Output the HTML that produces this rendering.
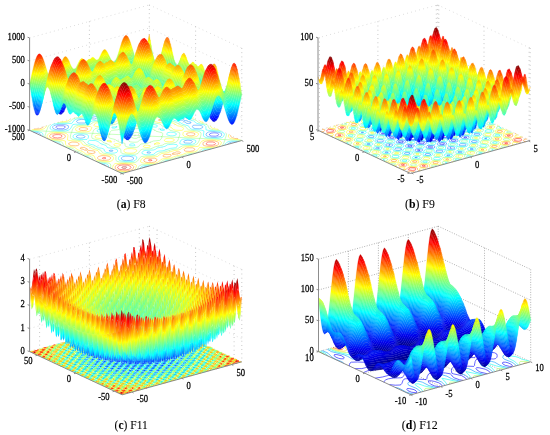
<!DOCTYPE html>
<html><head><meta charset="utf-8"><title>Benchmark functions</title>
<style>
html,body{margin:0;padding:0;background:#fff}
svg{display:block;font-family:"Liberation Serif",serif}
.g{fill:none;stroke:#ccc;stroke-width:.8;stroke-dasharray:.8 3.4}
.v{stroke:#aaa}
.a{fill:none;stroke:#808080;stroke-width:.9}
.c path{fill:none}
.s{stroke-width:1.5}
.sga .u{fill:url(#gau);stroke:url(#gau)}
.sgb .u{fill:url(#gbu);stroke:url(#gbu)}
.sgc .u{fill:url(#gcu)}
.sgc path{stroke:#fff;stroke-opacity:.22;stroke-width:1}
.t{font-size:9.9px;stroke:#000;stroke-width:.25;fill:#000}
.cap{font-size:12.4px;fill:#000;stroke:#000;stroke-width:.06}
</style></head><body>
<svg width="550" height="435" viewBox="0 0 550 435">
<rect width="550" height="435" fill="#fff"/>
<path class="g" d="M29.6 130.3L149.3 97.3M149.3 97.3L241.8 140.5M29.6 37.9L149.3 4.9M149.3 4.9L241.8 48.1M29.6 107.2L149.3 74.2M149.3 74.2L241.8 117.4M29.6 84.1L149.3 51.1M149.3 51.1L241.8 94.3M29.6 61L149.3 28M149.3 28L241.8 71.2M89.4 113.8L181.9 157M195.6 118.9L75.8 151.9"/><path class="g v" d="M149.3 4.9L149.3 97.3M241.8 48.1L241.8 140.5M89.4 21.4L89.4 113.8M195.6 26.5L195.6 118.9"/>
<defs><linearGradient id="ga" gradientUnits="userSpaceOnUse" x1="610.5" y1="830.0" x2="511.3" y2="470.3"><stop offset="0" stop-color="#000080"/><stop offset="0.125" stop-color="#0000ff"/><stop offset="0.375" stop-color="#00ffff"/><stop offset="0.625" stop-color="#ffff00"/><stop offset="0.875" stop-color="#ff0000"/><stop offset="1" stop-color="#800000"/></linearGradient></defs>
<g class="c" transform="scale(.2)" stroke-width="2.3"><path stroke=#009 d="m735 521-9-1-3-4 4-3 13-1 6 2 2 3-5 3z"/><path stroke=#01f d="m1077 681-22-1-8-5 0-4 8-5 15-2 12 1 6 2 6 5-4 6zm-245-114-5-3 3-3 10-1 5 2 0 2-4 2zm-82-39-30 0-15-6-3-3 0-3 3-4 9-5 15-2 29 2 9 5 2 3 0 4-7 6zm-431 114-5 2-21 0-9-3-5-5 4-5 7-2 27 0 9 4 0 4zm290-86-10-1-2-3 10-3 6 2 2 3z"/><path stroke=#08f d="m713 839 14-6 17-2m393-109 6-6 16-6 27-1m-106-22-19 0-20-4-8-4-3-7 4-7 9-5 6-1 21-1 25 4 13 6 0 9-3 4-4 2zm-428 115-20 1-16-2-5-2-4-4 0-6 6-5 13-3 19 0 15 3 5 2 3 4-1 6-4 3zm299-86-24-1-6-2-2-6 6-4 14-2 18 2 4 3 1 3-5 5zm-205 50-11-2 0-3 6-2 9 1 3 3-1 2zm-239 53 20 6 4 5m473-188-7 2-21-1-11-4-3-7 2-4 5-2 31 0 11 4 3 3-1 5zm-449 115-9-2 0-2 5-2 10 0 4 2-2 3zm388-139-9-1-4-2-2-3-10-5 3-4 12 0 9 5 13 3 0 4zm-37-17-18-2-5-2-2-3 1-4 12-4 19 2 5 2 2 3-1 5-4 3zm-55-26-9 1-23-2-7-2-8-5 0-5 6-6 5-2 14-2 23 1 12 4 4 4 1 5-5 6zm-439 115-9 1-13-2-7-3-1-5 9-5 7-1 12 0 7 2 5 2 3 4-2 4zm340-157-19 1-23-2-18-6-4-6 2-7 5-6 17-6 34-1 15 2 9 2 9 5 3 5-1 8-9 8-12 3zm-436 117-24 0-16-3-10-4-3-6 1-4 5-5 22-6 25 0 17 3 9 4 0 11-3 3-9 4zm301-86-34-1-6-2-4-3-1-3 5-8 13-5 27-1 11 2 9 5 1 6-4 5-4 2zm-195 51-28 0-6-2-4-3-1-3 2-4 5-3 16-3 22 1 6 2 2 6-4 5zm101-33-20-1-2-3 3-5 10-4 20 0 6 2 3 3-1 3-11 5zm-58 13-8-1-3-3 4-4 26-5 12 1-1 4-12 3-3 3-6 2zm-299 65 18 2 12 4 4 2 4 6 0 4"/><path stroke=#0ff d="m698 843 8-9 12-5 23-3 20 0m56-15 11-7 26-4m37-10 7-2m39-10 7-4 16-3m46-13 6-5 10-5 20-3 14 0m68-19 4-8 6-6 10-5 14-2 40 1m-594 158 15 1m471-173-38-1-17-2-12-4-5-5-1-4 3-21-12-4-40-3-12-3-9-7-3-7-3-2-25-7-24-14-24-7-6-7-4-8-20-5-29-3-15-5-4-6 0-7 7-10 19-4 33 2 22 4 8 4 8 19 11 4 30 5 13 10 20 9 6 1 17 13 35 7 5 3 5 5 1 17 13 3 23 1 34 4 16 6 3 2 3 7-4 10-7 6zm-436 116-29 0-22-4-8-4-3-6 0-4 5-9 10-4 7-1 40 0 24 4 6 5 0 6-3 6-4 4-9 5zm301-86-41 0-9-1-5-2-2-3 6-14 8-5 13-2 34 1 18 5 2 3 0 6-6 7-10 4zm-201 52-28 0-16-6 0-5 2-4 3-3 10-4 44-2 9-4 7-6 40-8 12-8 6-1 23-2 18 2 3 3-2 8-8 5-25 3-37 12-24 2-10 4-6 7-8 5zm-260 39 34 5 10 4 3 3 2 11m30-71-18 1-24-4-9-7-1-7-2-3-12-4-15-2-23-14-15-3-11-4-4-6 1-4 7-6 31 1 14 5 7 8 32 12 5 9 4 2 26 3 19 5 3 3-1 9-3 3zm291-86-10 0-18-4-2-3 1-6 4-3 15-2 14 1 12 4 2 3-1 5-10 4zm-197 50-14 0-5-2 0-4 2-2 12-2 8 1 6 5-3 3zm-245 51 12 2 11 4 6 7m365-141-10 0-4-2 1-4-5-2 5 2 6-1 13 3 0 3zm-428 112 6 2m386-130-21-2-5-2-1-3 4-4 6-2 11 0 12 4 2 3-3 4zm-440 105 14 5 4 4m77-53-26 1-22-2-14-4-7-4-1-7 1-3 7-6 13-3 29 0 19 3 4 2 5 6-2 11zm290-87-27 1-18-3-4-2-2-3 0-4 5-6 11-4 32 0 12 4 4 6-3 7zm-211 52-22-2-5-2-2-3 2-5 11-4 30 0 5 2 2 3-1 4-6 5-6 2zm108-34-15-2-1-5 4-3 14-2 10 1 5 2 2 3-4 4-6 2zm-49 13-11-1-3-2 1-3 26-1-6 1-2 4zm-307 66 26 4 8 5 5 9m21-70-29 0-23-2-17-4-6-5-1-4 2-7 5-6 8-5 6-2 25-3 63 0 13-17 14-6 39-4 20-9 32-7 26-10 40-4 10-4 12-12 16-6 15-2 20 0 28 3 9 4 0 11-5 6-8 6-17 3-44 1-10 2-11 9-9 5-28 4-34 11-22 3-11 4-7 6-15 6-24 2-30-1-14 2-10 18-6 7-8 4zm465-148 3 10-4 12-7 6-5 2-67 0-24-3-10-4-2-3 0-4 4-11 10-10m-533 153 35 3 17 5 6 5 1 3-1 11m495-185 30-1 36 4"/><path stroke=#8f7 d="m686 847 9-16 3-3 10-4 73-3m14-4 15-12 9-5 50-7 14-7 32-7 21-9 43-6 15-6 11-10 8-4 18-3 41-1m38-10 8-12 5-15 2-1-1-4-127-6 2 3-2 2-1 6-4 8-7 9-7 4-13 3-51 2-10 4-16 11-28 4-34 11-22 3-11 4-11 8-11 4-16 2-27 0-22 3-7 6-11 16-9 6-14 2-30 0-39-3-12-4-3-3-2-6 1-15-3-5-4-2-55-9-10-8-4-7-26-9-25-13-23-7-9-12-7-5-47-7-11-4-4-6 0-8 4-16 4-2-127-6-3 3 1 1-6 18 0 9m370 173 36 2m501-195 0 9-6 18 1 1-3 3 85 4m-223-10 11 0 4-2 4-16 0-8-4-6-11-4-47-7-7-5-9-12-23-7-25-13-24-8-3-2-3-6-10-8-55-9-4-2-3-5 1-15-2-6-3-3-12-4-39-3-30 0-14 2-9 6-11 16-7 6-22 3-27 0-16 2-11 4-11 8-11 4-22 3-34 11-28 4-16 11-10 4-51 2-13 3-7 4-7 9-4 8-1 6-2 2 2 3 106 5-3-3 2-2-1-2 5-10 6-6 11-4 33-2 15-3 11-7 33-7 25-11 41-2 6-2 7-5 10-14 11-4 41 0 19 2 12 4 2 2 1 14 3 6 11 4 25 3 6 2 5 2 8 8 31 12 7 9 19 5 16 2 13 5 2 10-3 12-5 2zm-312 79 5 0 11-4 10-14 7-5 6-2 41-2 25-11 33-7 11-7 15-3 26-1 16-4 8-7 5-10-1-2 2-2-3-3-85-4 4 2-1 4-4 7-7 6-30 3-33 12-30 3-7 6-5 7-10 4-34 0-9-1-12-4-3-6 0-7-2-3-25-5-7-3-2-3-10-4-2-3-31-8-3-5 1-9 1-3 6-2-74-4-11 0-5 2-3 12 2 10 13 5 16 2 19 5 7 9 27 10 7 4 5 6 5 2 6 2 25 3 11 4 3 6 1 14 2 2 12 4 19 2zm-195 35 68 10 4 3 3 6-1 15m242-157 11 0 6-2 2-12-3-5-31-8-2-3-10-4-2-3-7-3-25-5-2-3 0-7-3-6-12-4-9-1-34 0-10 4-5 7-7 6-30 3-33 12-30 3-7 6-5 11 4 2 43 2 16-1 1-4 6-6 26-6 9 0 6-2 10-9 8-2 16 0 15 2 5 3 3 9 33 11 2 3 0 4-2 3 5 3zm-114 28 8-2 10-9 6-2 9 0 26-6 6-6 1-4 6-1-43-2-5 1-2 4-12 3-9 5-10 0-11-3-1-3-10-5 1-3-4-3-43-2 5 3-2 3 0 4 2 3 33 11 3 9 5 3 15 2zm19-33 10 1-4-3 1-3-10-5-1-3-11-3-10 0-9 5-12 3-2 4-5 1zm189-125 3 3 4 10 5 5 11 4 27 6 14 10 30 12 9 8 10 4 33 8 4 4 6 14 4 3 19 5 35 4m-849 48 35 4 19 5 4 3 6 14 4 4 33 8 10 4 9 8 30 12 14 10 27 6 11 4 5 5 4 10 3 3m336-287-1 15 3 6 4 3 68 10m-730 104 85 4-1-4 2-1 5-15 8-12m38-10 41-1 18-3 8-4 11-10 15-6 43-6 21-9 32-7 14-7 50-7 9-5 15-12m14-4 73-3 10-4 3-3 9-16m55-15 36 2"/><path stroke=#ff0 d="m668 852 10-10 4-11 0-4-2-3-10-4-24-3-67 0-5 2-7 6-4 12 3 10m511-112 15-3 11-8 4-10-1-4-6-5-17-4-23-2-36 1-15 6-6 7-10 18-14 2-30-1-24 2-11 4-11 8-11 4-22 3-34 11-28 4-9 5-11 9-10 2-44 1-17 3-11 9-2 3-1 8 1 3 3 2 13 3 21 2 20 0 15-2 16-6 12-12 10-4 40-4 26-10 32-7 20-9 39-4 14-6 13-17 63 0zm-495 119 36 4 30-1m495-185-1 11 1 3 6 5 17 5 35 3m-660 109 14-2 8-5 4-7 0-7-4-6-15-5-29-3-20-5-4-8-6-7-24-7-24-14-25-7-3-2-3-7-9-7-12-3-40-3-8-2-4-2 3-21-1-4-5-5-12-4-17-2-38-1-21 4-9 9-2 7 3 7 14 7 28 4 34 2 13 3 1 17 5 5 5 3 35 7 17 13 6 1 20 9 13 10 30 5 11 4 8 19 8 4 22 4zm419-123 11 0 13-3 7-6 1-3-1-7-3-2-18-6-22-2-26 1-6 6-2 11 5 6 4 2 19 3zm-305 81 12-1 11-4 5-6 0-4-2-3-4-2-18-3-20 0-13 3-4 2-2 4-1 3 4 6 12 4zm194-57 10-1 11-4 2-5-2-3-5-2-12-2-18 0-6 2-6 5-1 4 2 3 5 2zm-117 29 15-2 4-3 0-4-12-3-13 0-6 2-4 4 2 3zm50-18 15-1 1-3-3-2-11-1-5 2-2 4-6 1zm270-91 5 9 8 5 26 4m-183 5 7-3 2-3 1-4-4-6-11-4-15-3-23-14-15-2-12-4-2-3-1-7-9-7-12-3-25-1-16 4-4 5 0 7 3 3 19 5 26 3 4 2 5 9 32 12 4 6 7 4 10 3zm-325 79 11 0 6-2 4-4-1-3-17-4-9 0-5 2-3 4 2 3zm416-127 4 4 14 5m-463 95 5 2-5-2 1-4-4-2-16 1 0 3 5 2zm409-120 6 2m-458 102 7-1 4-3 1-6-2-3-5-2-23-2-7 1-10 4-1 5 2 3 5 2 21 3zm184-57 12-2 2-2 0-4-14-3-11 2-3 3 1 2 5 3zm211-74 6 7 11 4 12 2m-198 4 13-1 6-2 4-2 5-9 0-4-3-6-15-6-15-2-29 0-14 2-9 5-7 10 0 6 6 5 24 4zm-305 81 13-2 8-5 6-14-2-3-5-2-23-2-19 0-16 2-10 4-6 7 0 6 2 3 11 4 17 2zm192-56 8-1 10-4 5-7 0-5-8-4-18-3-25 2-6 1-8 5-6 7-10 4-24 2-37 12-25 3-8 5-2 8 3 3 18 2 23-2 6-1 12-8 40-8 7-6 9-4zm190-85 2 11 3 3 10 4 34 5m-704 107 40 1 14-2 10-5 6-6 4-8m68-19 14 0 20-3 10-5 6-5m46-13 16-3 7-4m39-10 7-2m37-10 26-4 11-7m56-15 20 0 23-3 12-5 8-9m79-22 15 1"/><path stroke=#f80 d="m636 854 16-3 10-4 3-3 4-10-1-3-3-3-9-4-32-4-17 0-22 4-9 8 0 11 11 7 24 4zm430-122 22-6 5-5 0-7-2-3-4-2-13-4-9-1-24 0-14 3-9 4-3 3 0 11 9 4 17 3zm-307 81 14-3 9-5 3-6-1-3-10-5-41 0-10 4-4 5 1 6 9 5 11 2zm192-56 16-3 5-3 2-4-1-3-10-5-28 0-10 4-4 5 2 6 6 2zm-118 29 16-3 4-2 3-5-2-3-8-1-20 0-6 2-5 3-1 3 3 3zm36-14 30-5 4-4-3-3-17-1-6 2-3 3-12 3-1 4zm284-96 0 4 4 6 4 2 12 4 18 2m-667 108 18-2 9-5 2-3 0-5-8-5-14-3-21-1-17 4-5 6 1 5 4 4 5 2 15 3zm435-123 7-1 9-5-1-5-7-3-13-2-15 2-5 2-2 4 3 4 5 2 7 2zm-497 89 13-4 1-4-2-3-5-2-17-2-10 0-4 3-1 5 2 3 5 2zm-38-17 12 0 3-4-10-5-2-3-4-2-17 0-5 3 1 3 13 3zm-47-22 11-1 5-2 2-4-1-4-2-3-5-2-6-2-21-1-16 6-1 5 8 5 6 2zm419-126 10 0 5-2 0-2-5-2-12 1-2 3zm-496 93 14-2 9-5 3-4 1-4-2-5-9-5-20-4-19 0-21 4-4 2-4 6 1 7 13 6 15 3zm436-124 8-2 6-5 0-6-4-4-5-2-16-2-20 1-13 4-3 5 0 3 3 4 9 3 11 2zm-320 81 16-2 6-4 0-3-2-3-13-3-17 0-6 2-4 3 0 5 4 3zm200-58 6-2 0-3-11-2-6 1-1 2 3 3zm210-71 4 5 20 6m-679 110 27-1 16-6 6-6m393-109 17-2 14-6"/><path stroke=#f10 d="m627 849 16-2 9-5 3-4 0-3-3-3-9-4-6-2-23-1-14 2-5 2-7 6 0 4 2 3 9 5zm434-123 13-3 4-5-5-5-9-3-21 0-6 2-6 5 0 4 9 4zm-311 79 10-3-2-3-10-1-6 2 2 3zm-233-11 10-1 3-3-5-3-9 1-4 2 0 2zm-233-105 3 1 15-2 8-5 0-4-8-5-8-1-14 0-13 3-3 3 0 5 11 5z"/><path stroke=#900 d="m617 842 13-1 4-4-3-3-17 0-5 3 2 3z"/></g>
<g class="s sga" transform="scale(.2)" fill="url(#ga)" stroke="url(#ga)"><path transform=translate(-460,-215) d="m608 636 12-55 12-49 6-19 6-15 6-10 6-4 6 2 6 7 6 12 6 16 24 78 4 27-6-18-18-59-6-16-6-13-6-7-5-2-6 4-6 10-6 15-6 20-6 23-18 80zm156-97 6-17 6-13 6-9 6-2 6 3 6 9 6 11 5 14 6 12 6 9 6 4 6-1 6-7 12-25 6-11 6-7 6-2 6 4 6 7 6 3 6-2 6-6 6-2 6-1 6-7 6-2 6 4 6 6 6 4 6-1 6-7 12-25 6-11 6-7 6-2 6 5 6 9 18 37 6 8 6 3 6-2 6-8 6-13 6-17 18-59 6-15 6-11 6-6 6-1 6 6 6 11 6 15 6 18 18 59 4 28-24-78-6-15-6-11-6-5-6 0-6 6-6 11-6 16-6 19-5 20-6 19-6 17-6 14-6 8-6 2-6-3-6-9-6-11-6-14-6-12-6-9-6-4-6 1-6 7-12 25-6 11-6 7-6 2-6-4-6-6-6-4-6 2-6 6-12 4-6 6-6 2-6-4-6-6-6-4-6 1-6 7-12 25-6 11-6 7-6 2-6-4-6-10-18-37-6-8-6-3-6 2-6 8-6 13-6 18zm431-98 6-27 5-27 5 28-12 54z"/><path transform=translate(-456,-213) d="m609 661 18-80 6-23 6-20 6-15 6-10 6-4 5 2 6 7 6 13 6 16 18 59 5 28-18-60-6-16-6-12-6-7-6-2-6 4-6 10-6 15-6 19-12 50-12 54zm161-114 6-13 6-8 6-2 6 3 6 8 18 37 6 10 5 27-6-9-18-37-6-8-6-4-6 3-6 8-6 13zm126-2 6-6 12-4 6-6 6-2 6 4 6 6 4 27-6-6-6-4-6 3-6 6-6 1-5 2-6 6zm60-13 6-11 12-25 6-7 6-1 6 4 6 9 6 12 4 28-6-12-6-9-6-5-6 2-6 7-6 11-12 25zm102-42 5-20 6-19 6-16 6-11 6-6 6 0 6 5 6 11 6 15 18 59 5 28-12-41-6-18-6-15-6-11-6-6-6 1-6 6-6 11-6 16-6 18-6 20zm143-50 6-27 5 27-6 27z"/><path transform=translate(-451,-211) d="m608 687 12-54 12-50 6-19 6-15 6-10 6-4 6 2 6 7 6 12 6 16 6 19 5 27-6-19-6-16-6-13-6-7-6-2-6 4-6 10-6 15-6 20-6 23-18 80zm162-114 6-13 6-8 6-3 6 4 6 8 12 25 4 26-12-25-6-8-6-3-6 2-6 8-6 13zm132-9 5-2 6-1 6-6 6-3 5 27-6 2-6 6-6 2-6 1zm65-31 6-11 6-7 6-2 6 5 5 26-6-4-6 1-6 7-6 12zm102-56 6-16 6-11 6-6 6-1 6 6 6 11 6 15 6 18 6 20 5 27-12-39-6-15-6-11-6-5-6 0-6 6-6 11-6 16zm132-12 6-27 4 27-6 27z"/><path transform=translate(-446,-208) d="m608 710 18-80 6-23 6-20 6-15 6-10 6-4 6 2 6 7 6 13 6 16 6 19 4 23-12-35-6-12-6-7-6-2-6 4-6 10-6 15-6 20-6 23-18 80zm167-127 6-8 6-2 6 3 6 8 5 24-6-8-6-4-6 3-6 8zm300-99 6-11 6-6 6 0 6 5 6 11 6 15 6 19 4 23-6-18-6-15-6-11-6-5-6 0-6 6-6 11zm125 5 6-27 5 23-6 27z"/><path transform=translate(-442,-206) d="m608 732 18-80 6-23 6-20 6-15 6-10 6-4 6 2 6 7 6 12 6 17 5 20-6-16-6-13-6-7-6-2-6 4-6 10-6 15-6 20-6 23-18 80zm168-127 6-8 6-3 5 21-6 2-6 8zm299-99 6-11 6-6 6 0 6 5 6 11 6 15 5 20-6-15-6-11-6-5-6 0-6 6-6 11zm126 4 6-27 5 21-6 27z"/><path transform=translate(-437,-204) d="m608 750 18-80 6-23 6-20 6-15 6-10 6-4 6 2 6 7 6 13 5 15-6-12-6-7-6-2-6 4-6 10-6 15-6 19-12 49-12 55zm473-237 6-6 6 0 6 5 6 11 5 16-6-11-6-6-6 1-6 6zm120 16 6-27 4 15-6 27z"/><path transform=translate(-432,-202) d="m608 764 12-55 12-49 6-19 6-15 6-10 6-4 6 2 6 7 4 10-6-7-6-2-6 4-6 10-6 15-6 19-12 50-12 54zm473-237 6-6 6-1 4 11-6 0-6 6z"/><path transform=translate(-428,-200) d="m608 772 12-54 12-50 6-19 6-15 6-10 6-4 5 5-6 4-6 9-6 15-6 20-6 23-18 80z"/><path transform=translate(-423,-198) d="m608 774 18-80 6-23 6-20 6-15 6-9 5-2-6 10-6 15-6 20-6 23-18 80zm106-23 6 11 6 6 6-1-4 2-6 0-6-6-6-10z"/><path transform=translate(-419,-195) d="m609 770 18-80 6-23 6-20 6-15 4-7-6 15-6 20-6 23-18 80zm40-145 6-10-4 7-6 10zm66 117 6 10 6 6 6 0 6-6-5 7-6 5-6 1-6-6-6-11z"/><path transform=translate(-414,-193) d="m608 761 18-80 6-23 6-20 5-11-6 19-6 24-18 79zm107-33 6 11 6 5 6 0 6-6-5 12-6 6-6 0-6-6-6-10z"/><path transform=translate(-409,-191) d="m608 747 18-79 4-16-18 80zm106-37 6 11 6 6 6-1 6-6 6-11-4 16-6 11-6 6-6 0-6-5-6-11z"/><path transform=translate(-405,-189) d="m608 730 18-80 6-23 5-19-6 24-18 79zm107-40 6 11 6 5 6 0 6-6-5 18-6 6-6 1-6-6-6-11z"/><path transform=translate(-400,-187) d="m608 709 18-79 5-20-6 26-12 54zm112-30 6 5 6 0-4 20-6 0-6-5z"/><path transform=translate(-395,-185) d="m612 668 6-27-4 20-6 27zm582-175 12-54 5-19-12 54z"/><path transform=translate(-391,-183) d="m608 666 18-80 6-23 5-18-6 23-18 80zm448-169 6-20-5 18-6 19zm139-25 12-54 5-18-12 54z"/><path transform=translate(-386,-180) d="m608 645 18-80 6-23 6-19 5-15-6 20-6 23-18 80zm443-151 12-40 4-15-5 20-6 20zm144-43 12-54 4-15-12 54z"/><path transform=translate(-382,-178) d="m609 629 18-80 6-23 6-20 4-10-6 19-6 24-18 79zm143-57 12-40 6-17 5-10-6 17-12 39zm300-95 6-20 5-20 6-18 6-16 5-10-6 15-18 59zm137-17 18-80 5-10-18 80z"/><path transform=translate(-377,-176) d="m608 616 18-79 6-24 6-19 6-15 6-10 5-5-6 10-6 15-6 19-6 24-18 79zm144-57 12-39 6-17 6-13 6-9 4-5-6 9-6 13-6 17-5 19-6 20zm90-26 12-25 6-11 4-5-6 11-12 25zm71-42 6-7 5-5-6 7zm36 4 6-7 12-25 6-11 5-5-6 11-12 25-6 7zm84 8 6-8 6-13 6-17 18-59 6-15 6-11 5-6-6 12-6 15-18 59-6 17-6 13-6 8zm150-32 6-23 18-80 4-5-18 80-6 23z"/><path transform=translate(-372,-174) d="m608 609 18-79 6-24 6-19 6-15 6-10 6-4 4 1-6 4-6 9-6 15-6 20-6 23-18 80zm52-150 6 1-4 0-6-2zm92 93 6-20 5-19 6-17 6-13 6-9 6-2 5 1-6 2-6 8-6 13-12 37-6 20zm40-79 6 3-5-1-6-3zm37 61 6-1 6-7 12-25 6-11 6-7 6-2 5 1-6 1-6 8-6 11-6 13-6 11-6 7-6 2zm47-52 6 4 6 6 6 4-5-1-6-4-6-6-6-4zm13 13 6-2 6-6 6-2 6-1 6-7 6-2 5 1-6 2-6 6-12 4-6 6-6 2zm54-6 6-1 6-7 12-25 6-11 6-7 6-2 5 1-6 1-6 8-6 11-6 13-6 11-6 8-6 1zm47-52 6 4-5-1-6-4zm37 61 6-2 6-8 6-13 6-17 18-59 6-15 6-12 6-5 6-1 4 1-6 0-6 6-6 11-6 16-18 58-6 17-6 14-6 8-6 2zm155-34 6-23 18-80 5 1-18 80-6 23z"/><path transform=translate(-368,-172) d="m608 608 18-80 6-23 6-20 6-15 6-9 6-4 6 1 6 8 5 6-6-7-6-2-6 4-6 10-6 15-6 19-12 50-12 54zm144-57 6-20 12-37 6-13 6-8 6-2 6 3 6 8 5 7-6-8-6-4-6 3-6 8-6 13-6 17-12 40zm72-22 6 4 6-2 6-7 6-11 6-13 6-11 6-8 6-1 6 4 6 6 6 4 6-2 6-6 12-4 6-6 6-2 6 4 6 6 6 4 6-1 6-8 6-11 6-13 6-11 6-8 6-1 6 4 6 9 4 7-6-9-6-5-6 2-6 7-6 11-12 25-6 7-6 1-6-4-6-6-6-4-6 3-6 6-6 1-6 2-6 6-6 2-6-3-6-6-6-4-6 1-6 7-11 25-6 11-6 7-6 1-6-4zm196-37 6 8-5-6-6-9zm1 2 6 3 6-2 6-8 6-14 6-17 18-58 6-16 6-11 6-6 6 0 6 6 5 6-6-5-6 0-6 6-6 11-6 16-6 18-12 40-6 17-6 13-6 8-6 3-6-4zm162-31 6-23 18-80 5 6-18 80-6 23z"/><path transform=translate(-363,-170) d="m608 613 12-54 12-50 6-19 6-15 6-10 6-4 6 2 6 7 5 12-6-7-6-2-6 4-6 9-6 16-6 19-6 23-18 80zm144-57 12-40 6-17 6-13 6-8 6-3 6 4 6 8 18 37 6 9 6 4 6-1 6-7 6-11 11-25 6-7 6-1 6 4 6 6 6 3 6-2 6-6 6-2 6-1 6-6 6-3 6 4 6 6 6 4 6-1 6-7 12-25 6-11 6-7 6-2 6 5 6 9 18 37 6 8 6 4 6-3 6-8 6-13 6-17 12-40 6-18 6-16 6-11 6-6 6 0 6 5 6 11 5 12-6-11-6-6-6 0-6 6-6 12-6 15-18 59-6 17-6 13-6 8-6 2-6-3-6-8-18-37-6-10-6-4-6 2-6 7-6 11-12 25-6 7-6 1-6-4-6-6-6-4-6 2-6 7-6 1-6 2-6 6-6 2-6-4-6-6-6-4-6 2-6 7-6 11-12 25-6 7-6 1-6-4-6-9-6-12-6-14-6-11-6-9-6-3-6 2-6 9-6 13-6 17-12 39zm358-158 11 33-4-12-6-18-6-15zm73 69 6-23 18-80 4 12-18 80-6 23z"/><path transform=translate(-358,-167) d="m608 621 18-80 6-23 6-19 6-16 6-9 6-4 6 2 6 7 6 12 6 16 18 59 4 17-18-60-6-16-6-12-6-7-6-2-6 4-6 10-6 15-6 19-12 49-12 55zm143-57 12-39 6-17 6-13 6-9 6-2 6 3 6 9 6 11 6 14 6 12 6 9 6 4 6-1 6-7 12-25 6-11 6-7 6-2 6 4 6 6 6 4 6-2 6-6 6-2 6-1 6-7 6-2 6 4 6 6 6 4 6-1 6-7 12-25 6-11 6-7 6-2 6 4 6 10 18 37 6 8 6 3 6-2 6-8 6-13 6-17 18-59 6-15 6-12 6-6 6 0 6 6 6 11 11 33 5 16-6-18-6-15-6-11-6-6-6 1-6 6-6 11-6 16-6 18-12 40-6 17-6 13-6 8-6 3-6-4-6-8-18-37-6-9-6-5-6 2-6 7-6 11-11 25-6 7-6 1-6-4-6-6-6-4-6 3-6 6-6 1-6 2-6 6-6 2-6-3-6-7-6-3-6 1-6 7-18 36-6 7-6 1-6-4-6-9-18-37-6-8-6-4-6 3-6 8-6 13-6 17-12 40zm370-120 12 40-5-16-12-40zm61 32 6-23 18-80 5 16-18 80-6 23z"/><path transform=translate(-354,-165) d="m608 636 12-55 12-49 6-19 6-15 6-10 6-4 6 2 6 7 6 12 6 16 18 60 5 19-12-41-12-35-6-12-6-7-6-2-6 4-6 10-6 15-6 19-12 50-12 54zm144-57 12-40 6-17 6-13 6-8 6-3 6 4 6 8 18 37 6 9 6 4 6-1 6-7 18-36 6-7 6-1 6 3 6 7 6 3 6-2 6-6 6-2 6-1 6-6 6-3 6 4 6 6 6 4 6-1 6-7 11-25 6-11 6-7 6-2 6 5 6 9 18 37 6 8 6 4 6-3 6-8 6-13 6-17 12-40 6-18 6-16 6-11 6-6 6-1 6 6 6 11 6 15 6 18 12 40 5 20-12-41-6-18-6-15-6-11-6-5-6 0-6 6-6 11-6 16-6 18-12 40-6 17-6 13-6 8-6 3-6-4-6-8-18-37-6-9-6-4-6 1-6 7-6 11-12 25-6 7-6 1-6-4-6-6-6-3-6 2-6 6-6 2-6 1-6 6-6 2-6-3-6-6-6-4-6 1-6 7-12 25-6 11-6 7-6 2-6-5-6-9-6-12-5-13-6-12-6-8-6-4-6 3-6 8-6 13-6 17-12 40zm431-89 6-23 18-80 5 19-18 80-6 24z"/><path transform=translate(-349,-163) d="m608 653 12-54 12-50 6-19 6-15 6-10 6-4 6 2 6 7 6 12 12 35 6 21 4 20-12-39-6-16-6-12-6-8-5-1-6 4-6 9-6 15-6 20-6 23-18 80zm150-77 6-20 6-17 6-13 6-8 6-3 6 4 6 8 6 12 5 13 6 12 6 9 5 21-6-9-18-38-6-8-6-3-6 2-6 8-6 14-6 17-6 19zm95-31 6-12 6-7 6-1 6 4 6 6 6 3 6-2 6-6 6-1 6-2 6-6 6-2 6 3 6 6 6 4 6-1 6-7 12-25 6-11 6-7 6-1 6 4 6 9 18 37 6 8 5 21-6-8-18-38-6-9-6-4-6 2-6 7-6 11-6 13-6 11-6 8-6 1-6-4-6-6-6-4-6 2-6 6-12 4-6 6-6 2-6-4-6-6-6-4-6 1-6 8-6 11zm192-27 6-17 12-40 6-18 6-16 6-11 6-6 6 0 6 5 6 11 6 15 6 18 6 20 4 21-6-20-6-18-6-16-6-10-6-6-6 0-6 6-6 12-6 15-12 39-5 19-6 18zm144-34 18-80 4 21-18 80z"/><path transform=translate(-345,-161) d="m609 671 18-80 6-23 6-20 6-15 6-9 6-4 5 1 6 8 6 12 6 16 5 20-6-16-6-12-6-8-6-1-6 4-6 9-6 15-6 20-6 23-18 80zm155-96 6-17 6-14 6-8 6-2 6 3 6 8 18 38 5 20-12-26-6-11-6-9-6-3-6 2-6 8-6 14-6 17zm96-23 6-8 6-1 6 4 6 6 6 4 6-2 6-6 12-4 6-6 6-2 6 4 6 6 6 4 6-1 6-8 6-11 6-13 6-11 6-7 6-2 6 4 6 9 18 38 4 20-18-38-6-9-6-4-6 2-6 7-6 11-6 13-6 11-6 8-6 1-6-4-6-6-6-4-6 2-6 6-11 4-6 6-6 2-6-4-6-6-6-4-6 2-6 7zm192-33 5-19 12-39 6-15 6-12 6-6 6 0 6 6 6 10 6 16 6 18 5 20-6-18-6-16-6-10-6-6-6 0-6 6-6 12-6 15-18 58zm143-42 12-54 5 20-12 54z"/><path transform=translate(-340,-159) d="m608 689 18-80 6-23 6-20 6-15 6-9 6-4 6 1 6 8 6 12 6 16 5 18-6-16-6-13-6-7-6-2-6 4-6 10-6 15-6 20-6 23-18 80zm156-96 6-17 6-14 6-8 6-2 6 3 6 9 6 11 4 18-6-12-6-8-6-3-6 2-6 8-6 13-6 17zm96-23 6-7 6-2 6 4 6 6 6 4 6-2 6-6 4 17-6 7-6 2-6-4-6-6-6-4-6 1-6 7zm101-21 6-13 6-11 6-7 6-2 6 4 6 9 6 13 5 17-6-12-6-9-6-4-6 1-6 7-12 25zm90-12 18-58 6-15 6-12 6-6 6 0 6 6 6 10 6 16 5 17-6-15-6-11-6-5-6 0-6 6-6 11-6 16-18 58zm144-42 12-54 4 18-12 54z"/><path transform=translate(-335,-157) d="m608 705 18-80 6-23 6-20 6-15 6-10 6-4 6 2 6 7 6 13 4 13-6-12-6-7-6-2-6 4-6 10-6 15-6 19-6 24-12 53-5 27zm161-114 6-13 6-8 6-2 6 3 6 8 5 14-6-8-6-4-6 3-6 8-6 13zm96-13 6-1 6 4 5 14-6-4-6 1zm108-38 6-7 6-1 6 4 6 9 5 14-6-9-6-5-6 2-6 7zm84-6 12-39 6-16 6-11 6-6 6 0 6 5 6 11 4 14-6-11-6-5-6 0-6 6-6 11-6 16-6 18-6 20zm137-23 12-54 5 13-12 54z"/><path transform=translate(-331,-154) d="m609 716 5-27 12-53 6-24 6-19 6-15 6-10 6-4 6 2 6 7 5 9-6-8-6-1-6 4-6 9-6 15-6 20-6 23-18 80zm371-172 6-2 6 5 4 8-6-4-6 2zm77 0 6-20 6-18 6-16 6-11 6-6 6 0 6 5 5 9-6-6-6 0-6 6-6 12-6 15-12 39zm144-50 6-27 5 9-6 27z"/><path transform=translate(-326,-152) d="m608 722 18-80 6-23 6-20 6-15 6-9 6-4 6 1 5 3-6-1-6 4-6 9-6 15-6 20-6 23-18 80zm449-171 12-39 6-15 6-12 6-6 6 0 5 3-6 0-6 6-6 12-6 15-12 39zm144-50 6-27 4 3-6 27z"/><path transform=translate(-321,-150) d="m608 723 18-80 6-23 6-20 6-15 6-9 4-3-6 9-6 15-6 20-6 23-18 80zm449-171 12-39 6-15 6-12 6-6 4-3-6 6-6 12-6 15-12 39zm143-50 6-27 5-3-6 27z"/><path transform=translate(-317,-148) d="m608 718 18-80 6-23 6-20 6-15 6-9 5-8-6 10-6 15-6 19-12 49-12 55zm449-171 12-39 6-15 5-8-6 16-6 18-6 20zm144-50 6-27 4-8-5 27z"/><path transform=translate(-312,-146) d="m608 709 12-55 12-49 6-19 5-12-6 20-6 23-18 80zm449-172 6-20 6-18 4-12-6 19-5 20zm144-50 5-27 5-11-6 27z"/><path transform=translate(-308,-144) d="m609 695 18-80 6-23 6-20 4-12-6 19-12 50-12 54zm449-171 5-20 6-19 6-15 5-13-6 16-6 18-6 20zm137-23 12-54 5-13-12 54z"/><path transform=translate(-303,-141) d="m608 680 12-54 12-50 6-19 6-15 5-12-6 15-6 20-6 23-18 80zm437-135 6-17 12-40 6-18 6-16 5-12-6 16-18 58-6 17zm150-60 12-54 4-11-12 54z"/><path transform=translate(-298,-139) d="m608 666 18-80 6-23 6-20 6-15 4-9-6 15-6 20-6 23-18 80zm150-77 5-20 6-17 6-13 5-9-6 14-6 17-6 19zm89-18 12-25 5-8-6 11-6 13zm108-34 6-11 12-25 5-8-6 11-6 13-6 11zm90-6 6-17 18-58 6-16 4-8-6 15-18 58-6 18zm143-34 18-79 5-9-18 80z"/><path transform=translate(-294,-137) d="m608 655 18-80 6-23 6-20 6-15 6-9 5-4-6 10-6 15-6 19-12 49-12 55zm150-77 6-19 6-17 6-14 6-8 5-4-6 9-6 13-6 17-6 20zm84-7 6-11 6-13 6-11 6-7 4-4-6 7-11 24-6 12zm72-42 6-6 4-3-6 6zm36 5 6-8 6-11 6-13 6-11 6-7 4-4-6 7-6 11-12 25-6 7zm89 0 6-13 6-18 18-58 6-15 6-12 6-6 5-3-6 6-6 11-6 15-18 59-6 17-6 13zm150-47 18-80 5-4-18 80z"/><path transform=translate(-289,-135) d="m608 650 12-55 12-49 6-19 6-15 6-10 6-4 6 2 5 2-6-2-6 4-6 10-6 15-6 19-12 49-12 55zm150-77 6-20 6-17 6-13 6-9 6-2 4 2-6 3-6 8-6 13-6 17-6 20zm34-59 6 4-4-2-6-4zm50 52 6-12 11-24 6-7 6-2 5 3-6 1-6 7-18 36zm47-31 6-2 6-6 6-2 6-1 6-6 6-3 5 2-6 3-6 6-6 1-6 2-6 6-6 2zm41-18 6 4 6 6 6 4-5-2-6-4-6-6-6-4zm13 12 6-1 6-7 12-25 6-11 6-7 6-2 5 2-6 2-6 7-6 11-12 25-6 7-6 1zm96-1 6-13 6-17 18-59 6-15 6-11 6-6 6-1 5 2-6 1-6 6-6 11-6 16-6 18-12 40-6 17-6 13zm150-47 18-80 4 2-18 80z"/><path transform=translate(-284,-133) d="m608 650 12-55 12-49 6-19 6-15 6-10 6-4 6 2 6 7 4 8-6-8-6-1-6 4-6 9-6 15-6 20-6 23-18 80zm64-135 6 12-4-8-6-12zm85 58 6-20 6-17 6-13 6-8 6-3 6 4 6 8 5 7-6-8-6-3-6 2-6 8-6 14-6 17-6 19zm84-7 18-36 6-7 6-1 6 3 6 7 6 3 6-2 6-6 6-2 6-1 6-6 6-3 6 4 6 6 6 4 6-1 6-7 12-25 6-11 6-7 6-2 6 5 6 9 4 7-6-9-6-4-6 2-6 7-6 11-11 24-6 8-6 1-6-4-6-6-6-4-6 2-6 6-12 4-6 6-6 2-6-4-6-6-6-4-6 1-6 8-6 11-6 13-6 11zm198-38 6-13 6-17 12-40 6-18 6-16 6-11 6-6 6-1 6 6 4 8-6-6-6 0-6 6-6 12-6 15-18 58-6 17-6 14zm149-47 18-80 5 8-18 80z"/><path transform=translate(-280,-131) d="m608 655 18-80 6-23 6-20 6-15 6-9 6-4 6 1 6 8 6 12 5 12-6-13-6-7-6-2-6 4-6 10-6 15-6 20-6 23-18 80zm150-77 6-19 6-17 6-14 6-8 6-2 6 3 6 8 5 12-6-8-6-3-6 2-6 8-6 13-12 37zm84-7 6-11 6-13 6-11 6-8 6-1 6 4 6 6 6 4 6-2 6-6 12-4 6-6 6-2 6 4 6 6 6 4 6-1 6-8 11-24 6-11 6-7 6-2 6 4 6 9 12 26 5 12-6-14-6-12-6-9-6-4-6 1-6 7-12 25-6 11-6 7-6 2-6-4-6-6-6-4-6 2-6 6-12 4-6 6-6 2-6-4-6-6-6-4-6 1-6 7-12 25-6 11zm197-37 6-14 6-17 18-58 6-15 6-12 6-6 6 0 6 6 6 10 5 12-6-11-6-5-6 0-6 6-6 11-6 16-18 58-6 17-6 14zm150-47 18-80 5 12-18 80z"/><path transform=translate(-275,-129) d="m608 665 18-80 6-23 6-20 6-15 6-10 6-4 6 2 6 7 6 13 6 16 4 13-6-16-6-12-6-7-5-2-6 4-6 10-6 15-6 19-6 24-18 79zm150-77 12-37 6-13 6-8 6-2 6 3 6 8 6 12 4 13-6-11-6-9-6-3-6 2-6 9-6 13-6 17-6 19zm83-7 6-11 12-25 6-7 6-1 6 4 6 6 5 13-6-6-6-4-6 2-6 7-6 11-12 25zm60-38 12-4 6-6 6-2 6 4 6 6 6 4 6-2 6-7 6-11 12-25 6-7 6-1 6 4 6 9 6 12 5 14-6-12-6-9-6-5-6 2-6 7-6 11-12 25-6 7-6 1-6-4-6-6-6-4-6 2-6 7-6 1-6 2zm138 1 6-14 6-17 18-58 6-16 6-11 6-6 6 0 6 5 6 11 6 15 4 14-6-15-6-11-6-6-6 1-6 6-6 11-6 15-12 39-5 20-6 17-6 13zm150-47 18-80 4 13-18 80z"/><path transform=translate(-271,-126) d="m609 675 18-79 6-24 6-19 6-15 6-10 6-4 5 2 6 7 6 12 5 12-6-12-6-7-6-2-6 4-6 10-6 15-6 19-6 24-18 79zm155-96 6-17 6-13 6-9 6-2 6 3 5 12-6-3-6 2-6 9-6 13-6 17zm90-12 6-11 6-7 6-2 6 4 5 12-6-4-6 2-6 7-6 11zm54-16 6-1 6-7 6-2 6 4 6 6 6 4 6-1 6-7 12-25 6-11 6-7 6-2 6 5 6 9 6 12 4 12-6-12-6-10-6-4-6 2-6 7-6 11-12 25-6 7-6 1-6-4-6-6-6-4-6 2-6 7-6 1zm144-27 5-20 12-39 6-15 6-11 6-6 6-1 6 6 6 11 5 12-6-11-6-6-6 1-6 5-6 12-6 15-18 59zm137-17 18-80 5 12-18 80z"/><path transform=translate(-266,-124) d="m608 685 18-79 6-24 6-19 6-15 6-10 6-4 6 2 6 7 5 8-6-8-6-1-6 4-6 9-6 15-6 20-6 23-18 80zm305-125 6-7 6-2 6 4 6 6 5 8-6-6-6-4-6 2-6 6zm42-3 12-25 6-11 6-7 6-2 6 4 5 8-6-4-6 1-6 8-6 11-6 13-6 11zm96-23 18-59 6-15 6-12 6-5 6-1 6 6 5 8-6-6-6 0-6 6-6 11-6 16-18 58zm150-70 6-27 4 8-6 27z"/><path transform=translate(-261,-122) d="m608 691 18-80 6-23 6-20 6-15 6-9 6-4 6 1 4 2-6-2-6 4-6 10-6 15-6 20-6 23-18 80zm347-129 6-11 6-13 6-11 6-8 6-1 5 2-6 1-6 7-12 25-6 11zm96-23 18-58 6-16 6-11 6-6 6 0 4 2-6 0-6 6-6 11-6 16-18 58zm149-69 6-27 5 2-6 27z"/><path transform=translate(-257,-120) d="m608 691 18-80 6-23 6-20 6-15 6-10 6-4 5-3-6 4-6 10-6 15-6 19-12 49-12 55zm348-129 6-11 12-25 6-7 4-3-6 7-6 11-12 25zm95-23 18-58 6-16 6-11 6-6 5-3-6 6-6 11-6 16-6 18-12 40zm150-69 6-27 5-4-6 27z"/><path transform=translate(-252,-118) d="m608 686 12-55 12-49 6-19 6-15 6-10 5-6-6 10-6 15-6 20-6 23-18 80zm347-129 12-25 6-11 5-6-12 25-6 11zm90-6 6-17 12-40 6-18 6-16 6-11 5-6-6 11-6 16-18 58-6 17zm156-87 6-27 4-5-6 27z"/><path transform=translate(-247,-116) d="m608 678 18-80 6-23 6-20 6-15 6-10 4-3-6 10-6 15-6 19-12 50-12 54zm167-127 6-8 5-3-6 8zm137 0 6-2-5 3-6 2zm1 1 6-6 5-3-6 6zm11-9 6-2-5 3-6 2zm25 13 6-7 6-11 12-25 6-7 4-3-6 7-6 11-11 25-6 7zm96-13 6-17 18-58 6-16 6-11 4-3-6 11-6 16-6 18-12 40-6 17zm155-86 6-27 5-4-6 27z"/><path transform=translate(-243,-113) d="m608 672 12-54 12-50 6-19 6-15 6-10 6-4 6 2 5 3-6-2-6 4-6 9-6 15-6 20-6 23-18 80zm168-127 6-8 6-3 5 3-6 2-6 8zm126 4 6-1 6-2 6-6 6-2 6 3 4 3-6-4-6 2-6 6-12 4zm34-5 6 6-4-3-6-6zm2 3 6 4 6-1 6-7 11-25 6-11 6-7 6-2 5 3-6 2-6 7-6 11-12 25-6 7-6 1-6-4zm107-10 6-17 12-40 6-18 6-16 6-11 6-6 6 0 5 2-6 0-6 6-6 12-6 15-18 58-6 18zm156-87 6-27 5 3-6 27z"/><path transform=translate(-238,-111) d="m608 672 18-80 6-23 6-20 6-15 6-9 6-4 6 2 6 7 4 6-6-7-5-2-6 4-6 10-6 15-6 20-6 23-18 80zm168-127 6-8 6-2 6 3 4 7-6-3-6 2-6 8zm125 5 12-4 6-6 6-2 6 4 6 6 6 4 6-1 6-7 12-25 6-11 6-7 6-2 6 4 5 7-6-4-6 1-6 7-12 25-6 11-6 7-6 2-6-4-6-6-6-4-6 2-6 6-6 2-6 1zm144-12 6-18 18-58 6-15 6-12 6-6 6 0 6 6 4 6-6-5-6 0-6 6-6 11-6 16-6 19-5 20-6 19-6 17zm156-87 6-27 4 7-6 27z"/><path transform=translate(-234,-109) d="m609 677 18-80 6-23 6-20 6-15 6-10 6-4 5 2 5 2-6-1-6 4-6 9-6 15-6 20-6 23-18 80zm161-114 6-13 6-8 6-2 5 2-6 2-6 8-6 14zm23-21 6 3-5-2-6-3zm115 11 6-2 6-6 6-2 4 2-6 2-6 6-6 2zm22-8 6 4-4-2-6-4zm26 3 6-11 12-25 6-7 6-1 4 2-6 2-6 7-6 11-6 13-6 11zm34-42 6 4-4-2-6-4zm50 50 6-14 6-17 6-19 5-20 6-19 6-16 6-11 6-6 6 0 5 2-6 0-6 6-6 12-6 15-18 58-6 17-6 14zm161-100 6-27 5 2-6 27z"/><path transform=translate(-229,-107) d="m608 677 18-80 6-23 6-20 6-15 6-9 6-4 6 1 5 3-6-2-6 4-6 9-6 16-6 19-6 23-18 80zm162-113 6-14 6-8 6-2 4 2-6 2-6 8-6 14zm22-22 6 3-4-2-6-3zm115 11 6-2 6-6 6-2 5 2-6 2-6 7-6 1zm48-5 6-11 6-13 6-11 6-7 6-2 5 2-6 2-6 7-6 11-12 25zm35-42 6 4-5-2-6-4zm49 50 6-14 6-17 18-58 6-15 6-12 6-6 6 0 5 2-6 0-6 6-6 12-6 15-18 58-6 18-6 13zm162-100 6-27 4 2-6 27z"/><path transform=translate(-224,-105) d="m608 677 18-80 6-23 6-19 6-16 6-9 6-4 6 2 6 7 4 6-6-7-6-2-6 4-6 10-6 15-6 20-6 23-18 80zm161-113 6-14 6-8 6-2 6 3 5 7-6-3-6 2-6 8-6 13zm132-9 6-2 6-1 6-7 6-2 6 4 5 7-6-4-6 2-6 6-12 4zm54-6 12-25 6-11 6-7 6-2 6 4 5 7-6-4-6 1-6 7-12 25-6 11zm96-24 18-58 6-15 6-12 6-6 6 0 6 6 4 6-6-5-6 0-6 6-6 11-6 16-18 58zm149-69 6-27 5 7-6 27z"/><path transform=translate(-220,-103) d="m608 682 18-80 6-23 6-20 6-15 6-10 6-4 6 2 5 3-6-2-6 4-6 10-6 15-6 19-12 50-12 54zm162-114 6-13 6-8 6-2 5 2-6 3-6 8-6 13zm23-21 6 4-5-3-6-3zm169-5 12-25 6-7 6-1 4 2-6 2-6 7-6 11-6 13zm95-31 12-39 6-16 6-11 6-6 6 0 5 3-6 0-6 6-6 11-6 16-6 18-6 20zm138-23 12-54 5 2-12 54z"/><path transform=translate(-215,-100) d="m608 682 12-54 12-50 6-19 6-15 6-10 5-3-6 10-6 15-6 19-6 24-18 79zm156-97 6-17 6-13 6-8 4-4-6 9-6 13-6 17zm197-44 6-13 6-11 6-7 5-3-6 7-6 11-6 13zm96-31 6-20 6-18 6-16 6-11 5-4-6 12-6 15-12 39zm138-23 12-54 4-3-12 54z"/><path transform=translate(-210,-98) d="m608 676 18-79 6-24 6-19 6-15 6-10 4-6-6 10-6 15-6 20-6 23-18 80zm155-96 6-17 6-13 6-9 5-5-6 8-6 13-6 17zm198-44 6-13 6-11 4-6-12 24zm96-31 12-39 6-15 6-12 4-5-6 11-6 16-6 18-6 20zm137-23 12-54 5-6-12 55z"/><path transform=translate(-206,-96) d="m608 669 18-80 6-23 6-20 6-15 6-10 6-4 5-3-6 4-6 9-6 15-6 20-6 23-18 80zm150-77 6-20 6-17 6-13 6-8 5-4-6 8-6 14-6 17-6 19zm138-40 6-6 4-3-6 6zm65-24 12-24 6-7 5-3-6 7-6 11-6 13zm96-31 6-20 6-18 6-16 6-11 6-6 5-4-6 6-6 12-6 15-12 39zm132 3 6-25 12-55 5-3-18 80z"/><path transform=translate(-201,-94) d="m608 663 18-80 6-23 6-20 6-15 6-9 6-4 6 2 4 1-5-1-6 4-6 9-6 15-6 20-6 23-18 80zm150-77 6-19 6-17 6-14 6-8 6-2 4 2-6 2-6 8-6 14-6 17-6 19zm34-58 6 3-4-2-6-3zm73 9 6-2 5 2-6 1zm24 12 6-2 6-6 12-4 6-6 6-2 5 2-6 2-6 6-12 4-6 6-6 2zm41-18 6 4-5-2-6-4zm25 4 12-25 6-11 6-7 6-2 5 2-6 2-6 7-6 11-6 13-6 11zm96-24 18-58 6-15 6-12 6-6 6 0 4 2-6 0-6 6-6 12-6 15-12 39-5 19zm138-16 18-80 4 2-18 80z"/><path transform=translate(-197,-92) d="m609 663 18-80 6-23 6-20 6-15 6-9 6-4 5 1 5 8-6-2-6 4-6 10-6 15-6 20-6 23-18 80zm149-77 6-19 6-17 6-14 6-8 6-2 6 3 5 8-6-3-6 2-6 8-6 13-6 17-6 20zm102-42 6-8 6-1 6 4 6 6 6 4 6-2 6-6 12-4 6-6 6-2 6 4 4 8-6-4-6 2-6 6-5 2-6 1-6 7-6 2-6-4-6-6-6-4-6 1-6 7zm96-10 6-11 6-13 6-11 6-7 6-2 6 4 6 9 4 8-6-9-6-4-6 1-6 7-12 25-6 11zm96-23 5-19 12-39 6-15 6-12 6-6 6 0 6 6 5 7-6-5-6 0-6 6-6 11-6 16-18 58zm137-16 18-80 5 8-18 79z"/><path transform=translate(-192,-90) d="m608 669 18-80 6-23 6-20 6-15 6-10 6-4 6 2 6 7 6 13 5 12-6-13-6-7-6-2-6 4-6 10-6 15-6 20-6 23-18 80zm144-57 12-40 6-17 6-13 6-8 6-2 4 12-6 2-6 8-6 13-6 17-6 20-5 20zm108-63 6-7 6-1 6 4 6 6 6 4 6-2 6-7 6-1 4 12-6 1-6 7-6 2-6-4-6-6-6-4-6 1-6 7zm95-9 6-11 12-25 6-7 6-1 6 4 6 9 5 12-6-9-6-4-6 1-6 7-12 25-6 11zm96-23 18-58 6-16 6-11 6-6 6 0 6 5 6 11 5 12-6-11-6-5-6 0-6 6-6 11-6 16-18 58zm59-63 6 15-5-12-6-15zm79 46 18-79 4 12-18 79z"/><path transform=translate(-187,-87) d="m608 678 18-80 6-23 6-20 6-15 6-10 6-4 6 2 6 7 6 13 4 13-6-12-6-7-6-2-6 4-6 9-6 15-6 20-6 23-12 53-5 27zm144-57 5-20 6-20 6-17 6-13 6-8 5 13-6 8-6 14-6 17-12 39zm113-70 6-1 6 4 6 6 6 4 6-2 5 13-6 2-6-4-6-6-6-4-6 2zm102-26 6-12 6-7 6-1 6 4 6 9 6 12 5 14-6-12-6-10-6-4-6 2-6 7-6 11zm90-18 12-39 6-16 6-11 6-6 6 0 6 5 6 11 6 15 4 14-6-15-6-11-6-6-6 0-6 6-6 12-6 15-12 39zm131 2 18-79 5 13-18 80z"/><path transform=translate(-183,-85) d="m609 689 5-27 12-53 6-23 6-20 6-15 6-9 6-4 6 2 6 7 5 12-6-8-6-1-6 4-6 9-6 15-6 20-6 23-18 80zm257-126 6-2 6 4 6 6 4 12-6-6-6-4-6 1zm108-38 6-7 6-2 6 4 6 10 4 11-6-9-6-4-6 1-6 8zm83-7 12-39 6-15 6-12 6-6 6 0 6 6 6 11 5 11-6-10-6-6-6 0-6 6-6 11-6 16-12 39zm144-50 6-27 5 12-6 27z"/><path transform=translate(-178,-83) d="m608 699 18-80 6-23 6-20 6-15 6-9 6-4 6 1 5 8-6-2-6 4-6 10-6 15-6 20-6 23-18 80zm257-127 6-1 6 4 5 8-6-4-6 1zm114-45 6-1 6 4 5 8-6-4-6 1zm78 1 12-39 6-16 6-11 6-6 6 0 6 6 5 7-6-5-6 0-6 6-6 11-6 16-6 18-6 20z"/><path transform=translate(-173,-81) d="m608 705 18-80 6-23 6-20 6-15 6-10 6-4 6 2 4 2-6-2-6 4-6 10-6 15-6 20-6 23-18 80zm455-192 6-18 6-16 6-11 6-6 6 0 4 2-6 0-6 6-6 11-6 16-6 18z"/><path transform=translate(-169,-79) d="m608 705 18-80 6-23 6-20 6-15 6-10 5-4-6 10-6 15-6 20-6 23-18 80zm113-15 6 6 6 0-5 3-6 1-6-6zm336-157 6-20 6-18 6-16 6-11 6-6 5-4-6 6-6 11-6 16-12 39z"/><path transform=translate(-164,-77) d="m608 699 18-80 6-23 6-20 6-15 5-8-6 15-6 19-6 24-18 79zm112-19 6 5 6 0 6-6-4 9-6 6-6 0-6-6zm337-152 12-39 6-16 4-8-6 15-6 19-5 20z"/><path transform=translate(-160,-75) d="m609 688 18-79 6-24 4-12-12 50-12 54zm106-33 6 11 6 5 6 0 6-6 6-11-5 12-6 11-6 6-6 0-6-5-6-11zm343-138 5-20 6-19 6-15 5-12-6 16-6 18-6 20z"/><path transform=translate(-155,-72) d="m608 674 12-54 12-50 6-19 5-13-6 20-6 23-18 80zm107-35 6 11 6 6 6 0 6-6 6-12-5 13-6 11-6 6-6 0-6-5-6-11zm336-117 12-40 6-18 5-13-18 58z"/><path transform=translate(-150,-70) d="m608 659 18-80 6-23 6-20 4-11-6 20-6 23-18 80zm106-33 6 11 6 6 6-1 6-6-4 12-6 6-6 0-6-6-6-11zm331-102 6-17 6-19 4-12-6 20-6 17z"/><path transform=translate(-146,-68) d="m608 646 18-80 6-23 6-20 6-15 5-8-6 15-6 20-6 23-18 80zm107-30 6 11 6 6 6 0-5 7-6 1-6-6-6-11zm127-54 6-11 6-13 5-8-6 13-6 11zm118-53 6-11-4 8-6 11zm2-3 6-13 4-8-6 13zm77 18 6-13 6-17 12-40 6-18 6-16 6-11 5-8-6 11-6 16-18 58-6 17-6 14zm162-100 6-27 5-7-6 27z"/><path transform=translate(-141,-66) d="m608 636 18-80 6-23 6-20 6-15 6-10 6-4 5-2-6 4-6 9-6 15-6 20-6 23-18 80zm168-127 6-8 4-3-6 8zm60 50 6-7 6-11 11-24 6-8 5-3-6 8-6 11-6 13-6 11-6 7zm34-53 6-1-5 3-6 1zm43 4 6-6 5-3-6 6zm11-9 6-2-5 3-6 2zm24 12 6-1-5 2-6 2zm1 1 6-7 6-11 6-13 6-11 6-8 5-2-6 7-6 11-6 13-6 11-6 8zm35-52 6-2-5 3-6 1zm55 53 6-14 6-17 18-58 6-16 6-11 6-6 5-3-6 6-6 12-6 15-18 58-6 17-6 14zm162-100 6-27 4-3-6 27z"/><path transform=translate(-136,-64) d="m608 631 18-80 6-23 6-20 6-15 6-9 6-4 6 1 4 3-6-2-6 4-6 10-6 15-6 20-6 23-18 80zm167-127 6-8 6-2 6 3 5 3-6-3-6 2-6 8zm54 52 6-2 6-7 6-11 6-13 6-11 6-8 6-1 5 3-6 1-6 8-6 11-6 13-6 11-6 7-6 2zm72-47 12-4 6-6 6-2 5 3-6 2-6 6-12 4zm29-9 6 4 6 6 6 4-5-3-6-4-6-6-6-4zm13 11 6-1 6-8 6-11 6-13 6-11 6-7 6-2 6 4 4 3-6-4-6 1-6 8-6 11-11 24-6 7-6 2zm96-1 6-14 6-17 18-58 6-15 6-12 6-6 6 0 4 3-6 0-6 6-6 11-6 16-18 58-6 17-6 14zm161-100 6-27 5 3-6 27z"/><path transform=translate(-132,-62) d="m608 632 18-80 6-23 6-20 6-15 6-10 6-4 6 2 6 8 5 8-6-7-6-2-6 4-6 10-6 15-6 19-12 50-12 54zm168-127 6-8 6-2 6 3 6 8 5 9-6-8-6-4-6 3-6 8zm29 10 6 12 5 13-4-9-12-25zm7 16 6 12 6 10 6 4 6-2 6-7 6-11 6-13 6-11 6-8 4 9-6 7-12 25-6 11-6 7-6 2-6-5-6-9-6-12zm90-21 12-4 6-6 6-2 6 4 6 6 6 4 6-2 6-7 11-24 6-11 6-8 6-1 6 4 6 9 5 9-6-9-6-5-6 2-6 7-6 11-12 25-6 7-6 1-6-4-6-6-6-3-6 2-6 6-6 1-6 2zm137 1 6-14 6-17 18-58 6-16 6-11 6-6 6 0 6 5 5 9-6-5-6 0-6 6-6 11-6 16-6 18-12 40-6 17-6 13zm162-100 6-27 5 8-6 27z"/><path transform=translate(-127,-59) d="m608 638 12-54 12-50 6-19 6-15 6-10 6-4 6 2 6 7 6 12 6 16 6 19 4 14-6-19-6-16-6-12-6-7-5-2-6 4-6 10-6 15-6 19-6 24-18 79zm82-82 6 20-4-13-6-21zm86-45 6-8 6-3 6 4 6 8 6 12 5 13 6 12 6 9 6 5 6-2 6-7 5 14-6 7-6 1-6-4-6-9-6-12-6-14-6-11-6-9-6-3-6 2-6 9zm125 4 6-2 6-1 6-6 6-2 6 3 6 6 6 4 5 14-6-4-6-6-6-4-6 2-6 7-6 1-6 2zm60-18 6-13 6-11 6-7 6-2 6 5 6 9 6 12 5 14-6-12-6-10-6-4-6 2-6 7-6 11-6 13zm96-31 6-20 6-18 6-16 6-11 6-6 6 0 6 5 6 11 6 15 6 18 4 14-6-18-6-15-6-11-6-6-6 1-6 5-6 12-6 15-12 39zm144-50 6-27 4 14-6 27z"/><path transform=translate(-123,-57) d="m609 649 18-79 6-24 6-19 6-15 6-10 6-4 5 2 6 7 6 12 6 16 12 39 5 18-12-39-6-16-6-12-6-8-6-2-6 4-6 10-6 15-6 20-6 23-18 80zm167-126 6-9 6-2 6 3 6 9 6 11 6 14 6 12 6 9 6 4 5 18-6-4-6-9-18-38-6-8-6-3-6 2-6 8zm126 4 6-2 6-1 6-7 6-2 6 4 4 18-6-4-6 2-6 6-11 4zm60-18 6-13 6-11 6-7 6-2 6 4 6 10 6 12 4 18-6-13-6-9-6-4-6 1-6 8-6 11-6 13zm101-51 6-19 6-15 6-12 6-5 6-1 6 6 6 11 6 15 6 18 6 20 5 18-6-20-6-18-6-16-6-10-6-6-6 0-6 6-6 11-6 16-6 19zm138-30 6-27 5 18-6 27z"/><path transform=translate(-118,-55) d="m608 665 18-80 6-23 6-20 6-15 6-10 6-4 6 2 6 8 6 12 6 16 12 39 5 20-12-39-6-16-6-12-6-8-6-1-6 4-6 9-6 15-6 20-6 23-18 80zm168-127 6-8 6-2 6 3 6 8 18 38 6 9 4 20-6-9-18-38-6-8-6-3-6 2-6 8zm131 3 6-2 6-6 6-2 5 20-6 2-6 6-6 2zm60-29 6-11 6-8 6-1 6 4 5 20-6-4-6 1-6 8-6 11zm102-57 6-16 6-11 6-6 6 0 6 6 6 10 6 16 6 18 6 20 5 20-6-20-6-18-6-16-6-10-6-6-6 0-6 6-6 11-6 16zm132-11 6-27 4 20-6 27z"/><path transform=translate(-113,-53) d="m608 683 18-80 6-23 6-20 6-15 6-9 6-4 6 1 6 8 6 12 6 16 6 19 4 20-6-19-6-16-6-12-6-7-6-2-6 4-6 10-6 15-6 19-12 50-12 54zm167-127 6-8 6-2 6 3 6 8 18 38 5 20-18-37-6-8-6-4-6 3-6 8zm300-99 6-11 6-6 6 0 6 6 6 10 6 16 6 18 4 20-6-18-6-15-6-11-6-5-6 0-6 6-6 11zm125 5 6-27 5 20-6 27z"/><path transform=translate(-109,-51) d="m608 702 12-54 12-50 6-19 6-15 6-10 6-4 6 2 6 7 6 12 6 16 5 20-6-17-6-12-6-7-6-2-6 4-6 10-6 15-6 20-6 23-18 80zm168-127 6-8 6-3 6 4 6 8 6 12 5 19-6-12-6-8-6-4-6 3-6 8zm299-99 6-11 6-6 6 0 6 5 6 11 6 15 5 19-6-15-6-11-6-5-6 0-6 6-6 11zm126 4 6-27 5 19-6 27z"/><path transform=translate(-104,-49) d="m608 719 18-80 6-23 6-20 6-15 6-10 6-4 6 2 6 7 6 12 5 17-6-13-6-7-6-2-6 4-6 10-6 15-6 20-6 23-18 80zm168-127 6-8 6-3 6 4 6 8 4 16-6-8-6-3-6 2-6 8zm305-110 6-6 6 0 6 5 6 11 5 16-6-11-6-5-6 0-6 6zm120 15 6-27 4 17-6 27z"/><path transform=translate(-99,-46) d="m608 732 18-80 6-23 6-20 6-15 6-10 6-4 6 2 6 7 4 12-6-7-6-2-6 4-6 10-6 15-6 20-6 23-18 80zm173-135 6-2 6 3 5 12-6-4-6 3zm300-102 6-6 6 0 6 5 4 12-6-5-6 0-6 6zm119 16 6-27 5 11-6 27z"/><path transform=translate(-95,-44) d="m608 742 18-80 6-23 6-20 6-15 6-10 6-4 6 2 5 6-6-1-6 4-6 9-6 15-6 20-6 23-18 80zm101-31 6 16 6 10-5-6-6-11-6-15zm431-97 6 16 6 12-5-6-6-12-6-16zm61-94 6-27 4 7-5 27z"/><path transform=translate(-90,-42) d="m608 746 18-80 6-23 6-20 6-15 6-9 6-4 5 0-6 4-6 10-6 15-6 20-6 23-18 80zm100-36 6 15 6 11 6 6-4-1-6-6-6-10-6-16zm174-87 6 6 6 4-5-1-6-4-6-6zm138 1 6 9 6 3-5-1-6-3-6-8zm119-11 6 16 6 12 6 7 6 2-4-1-6-1-6-8-6-12-6-16zm62-88 5-27 5 1-6 27z"/><path transform=translate(-86,-40) d="m609 745 18-80 6-23 6-20 6-15 6-10 4-5-6 10-6 15-6 20-6 23-18 80zm100-42 6 15 6 11 6 6 6-1 6-6-5 6-6 5-6 1-6-6-6-11-6-15zm431-97 6 16 6 12 6 7 6 2 6-4-5 5-6 4-6-2-6-7-6-12-6-16zm61-82 6-27 5-5-6 27z"/><path transform=translate(-81,-38) d="m608 738 18-80 6-23 6-20 6-15 5-10-6 15-6 19-12 50-12 54zm95-65 6 18 6 15 6 11 6 5 6 0 6-6 6-11-5 10-6 11-6 6-6 1-6-6-6-11-6-15-6-18zm431-98 12 35 6 12 6 7 5 2 6-4 6-10-4 10-6 10-6 4-6-2-6-7-6-12-6-16-6-19zm67-58 6-27 4-11-6 27z"/><path transform=translate(-76,-36) d="m608 726 12-54 12-50 4-14-6 23-18 80zm28-118 6-20-4 15-6 19zm66 48 6 18 6 15 6 11 6 6 6 0 6-6 6-12 6-15 6-19-4 15-6 18-6 16-6 11-6 6-6 0-6-5-6-11-6-15-6-18zm431-98 6 19 6 16 6 12 6 7 6 2 6-4 6-9 6-16-5 15-6 15-6 10-6 4-5-2-6-7-6-12-12-35zm67-54 6-27 5-14-6 27z"/><path transform=translate(-72,-33) d="m608 708 18-80 5-18-18 80zm95-73 6 18 6 16 6 10 6 6 6 0 6-6 6-12 6-15 6-19-5 18-6 19-6 15-6 12-6 6-6 0-6-6-6-11-6-15-6-18zm431-98 6 19 6 16 6 12 6 8 6 1 6-4 6-9 6-15-5 17-6 16-6 9-6 4-6-2-6-7-6-12-6-16-6-19z"/><path transform=translate(-67,-31) d="m608 688 18-80 5-19-6 26-12 54zm95-74 11 33 6 11 6 5 6 0 6-6 6-11 6-16 6-18-4 19-6 19-6 15-6 12-6 6-6 0-6-6-6-10-6-16-6-18zm430-98 12 35 6 12 6 7 6 2 6-4 6-10 6-15 6-19-4 19-6 20-6 15-6 9-6 4-6-1-6-8-6-12-6-16-6-19z"/><path transform=translate(-62,-29) d="m612 647 6-27-4 20-6 27zm90-55 6 18 6 15 6 11 6 6 6-1 6-5 6-12 6-15-5 19-6 16-6 11-6 6-6 0-6-5-6-11-11-33zm437-79 6 16 6 12 6 7 6 2 6-4 6-10 6-15 6-19 6-24-5 20-6 24-6 19-6 15-6 10-6 4-6-2-6-7-6-12-6-17zm49-15 18-80 5-19-18 79z"/><path transform=translate(-58,-27) d="m608 645 18-80 6-23 5-19-12 49-12 55zm101-55 6 15 6 11 6 5 6 0 6-6 6-11-5 18-6 12-6 5-6 1-6-6-6-11-6-15zm431-98 6 17 6 12 6 7 6 2 6-4 6-10 6-15 6-20-5 19-6 19-6 15-6 10-6 4-6-2-6-7-6-12-6-16zm43 8 6-24 18-79 5-19-18 80-6 23z"/><path transform=translate(-53,-25) d="m608 625 12-55 12-49 5-15-6 23-18 80zm100-53 6 15 6 11 6 6 6-1-4 16-6 0-6-5-6-11-6-15zm431-97 6 16 6 12 6 7 6 2 6-4-4 16-6 4-6-2-6-7-6-12-6-17zm44 4 6-23 18-80 4-15-18 79-6 24z"/><path transform=translate(-49,-23) d="m609 607 18-80 6-23 6-20 4-12-6 20-6 23-18 80zm34-135 6-15-4 12-6 15zm97 112 6-15 18-59 6-17 5-11-6 17-18 58-6 16zm312-129 5-19 12-39 6-16 5-11-6 15-18 58zm119 41 6-15 6-19 6-24 18-79 5-12-18 80-6 23-6 20-6 15z"/><path transform=translate(-44,-21) d="m608 593 18-80 6-23 6-20 6-15 6-9 5-7-6 10-6 15-6 19-6 24-18 79zm126-11 6-11 6-16 18-58 6-17 6-14 4-6-6 13-6 17-5 19-12 39-6 16-6 11zm108-73 6-11 6-13 6-11 4-7-6 11-12 25zm112-44 6-7-5 6-6 8zm1-1 6-11 6-13 6-11 5-7-6 11-12 25zm84 8 6-13 6-18 18-58 6-15 6-12 5-7-6 12-6 15-18 59-6 17-6 13zm130 14 6-10-4 7-6 10zm2-3 6-15 6-20 6-23 18-80 4-7-18 80-6 23-6 20-6 15z"/><path transform=translate(-39,-18) d="m608 583 18-79 6-24 6-19 6-15 6-10 6-4 4-1-6 4-6 9-6 15-6 20-6 23-12 53-5 27zm120-5 6-6 6-11 6-16 12-39 5-19 6-17 6-13 6-9 6-2 5-1-6 2-6 8-6 13-12 37-12 39-6 15-6 12-6 6zm106-71 6-2-5 2-6 1zm1 0 6-7 12-25 6-11 6-7 5-2-6 8-6 11-6 13-6 11-6 7zm35-52 6-1-5 1-6 2zm19 14 6-2 6-6 6-2 5-1-6 2-6 6-6 2zm23-11 6-2-5 2-6 1zm1 0 6-7 6-2 5-1-6 2-6 6zm35 4 6-1-5 1-6 1zm1 0 6-7 12-25 6-11 6-7 5-2-6 8-6 11-6 13-6 11-6 8zm35-52 6-1-5 1-6 2zm43 62 6-2 6-8 6-13 6-17 18-59 6-15 6-12 6-5 4-2-6 6-6 11-6 16-18 58-6 17-6 14-6 8-6 2zm131 15 6-4 6-10 6-15 6-20 6-23 18-80 5-1-18 80-6 23-6 20-6 15-6 9-6 4z"/><path transform=translate(-35,-16) d="m609 580 5-27 12-53 6-23 6-20 6-15 6-9 6-4 6 1 5 5-6-2-6 4-6 10-6 15-6 19-12 50-12 54zm113-5 6 0 6-6 6-12 6-15 12-39 12-37 6-13 6-8 6-2 6 3 5 5-6-4-6 3-6 8-6 13-6 17-12 40-6 18-6 16-6 11-6 6-6 0zm102-74 6 4 6-2 6-7 6-11 6-13 6-11 6-8 6-1 6 4 6 6 6 4 6-2 6-6 12-4 6-6 6-2 6 4 4 4-6-3-6 2-6 6-6 1-6 2-6 6-6 2-6-3-6-6-6-4-6 1-6 7-11 25-6 11-6 7-6 2-6-5zm112-47 6 6-4-4-6-6zm2 2 6 4 6-1 6-8 6-11 6-13 6-11 6-8 6-1 6 4 4 5-6-5-6 2-6 7-6 11-12 25-6 7-6 1-6-4zm83 10 6 3 6-2 6-8 6-14 6-17 18-58 6-16 6-11 6-6 6 0 5 5-6 0-6 6-6 11-6 16-6 18-12 40-6 17-6 13-6 8-6 3-6-4zm132 16 6 1 6-4 6-9 6-15 6-20 6-23 18-80 5 4-18 80-6 24-6 19-6 15-6 10-6 4-6-2z"/><path transform=translate(-30,-14) d="m608 583 12-54 12-50 6-19 6-15 6-10 6-4 6 2 6 7 5 10-6-7-6-2-6 4-6 10-6 15-6 20-6 23-18 80zm102-22 6 11 6 5 6 0 6-6 6-11 6-16 6-18 12-40 6-17 6-13 6-8 6-3 6 4 6 8 18 37 6 9 6 5 6-2 6-7 6-11 11-25 6-7 6-1 6 4 6 6 6 3 6-2 6-6 6-2 6-1 6-6 6-2 6 3 6 6 6 4 6-1 6-7 12-25 6-11 6-7 6-2 6 5 6 9 5 10-6-9-6-4-6 1-6 7-12 25-6 11-6 7-6 2-6-4-6-7-6-3-6 2-6 6-6 2-6 1-6 6-6 3-6-4-6-6-6-4-6 1-6 7-12 25-6 11-6 7-6 2-6-5-6-9-18-37-6-8-6-3-6 2-6 8-6 13-6 17-18 59-6 15-6 11-6 6-6 1-6-6-6-11zm292-128 6 12 6 14-5-11-12-25zm7 15 6 12 6 8 6 4 6-3 6-8 6-13 6-17 12-40 6-18 6-16 6-11 6-6 6 0 6 5 6 11 5 10-6-11-6-5-6 0-6 6-6 11-6 16-6 18-12 40-6 17-6 13-6 9-6 2-6-3-6-9-6-11zm138 29 6 7 6 2 6-4 6-10 6-15 6-19 6-24 18-80 4 10-12 55-6 25-6 24-6 19-6 15-6 10-6 4-6-2-6-7z"/><path transform=translate(-25,-12) d="m608 591 18-80 6-23 6-20 6-15 6-10 6-4 6 2 6 7 6 13 6 16 18 59 11 33 6 11 6 6 6-1 6-6 6-11 6-15 18-59 6-17 6-13 6-8 6-2 6 3 6 8 18 37 6 9 6 5 6-2 6-7 6-11 12-25 6-7 6-1 6 4 6 6 6 4 6-3 6-6 6-1 6-2 6-6 6-2 6 3 6 7 6 4 6-2 6-7 6-11 12-25 6-7 6-1 6 4 6 9 6 12 6 14 6 11 6 9 6 3 6-2 6-9 6-13 6-17 12-40 6-18 6-16 6-11 6-6 6 0 6 5 6 11 5 15 5 16-6-15-6-11-6-6-6 1-6 5-6 12-6 15-18 59-6 17-6 13-6 8-6 2-6-3-6-8-18-37-6-10-6-4-6 2-6 7-6 11-11 25-6 7-6 1-6-4-6-6-6-4-6 2-6 7-6 1-6 2-6 6-6 2-6-4-6-6-6-4-6 2-6 7-6 11-12 25-6 7-6 1-6-4-6-9-6-12-6-14-6-11-6-9-6-3-6 2-6 9-6 13-6 17-18 58-6 16-6 11-6 6-6 0-6-5-6-11-6-15-24-78-6-16-6-12-6-7-6-2-6 4-6 10-6 15-6 19-6 24-18 79zm526-134 6 16 6 12 6 7 6 2 6-4 6-10 6-15 6-19 6-24 6-25 12-55 5 16-18 80-6 23-6 20-6 15-6 10-6 4-6-2-6-7-6-13-6-16z"/><path transform=translate(-21,-10) d="m608 604 18-79 6-24 6-19 6-15 6-10 6-4 6 2 6 7 6 12 6 16 24 78 6 15 6 11 6 5 6 0 6-6 6-11 6-16 18-58 6-17 6-13 6-9 6-2 6 3 6 9 6 11 6 14 6 12 6 9 6 4 6-1 6-7 12-25 6-11 6-7 6-2 6 4 6 6 6 4 6-2 6-6 6-2 6-1 6-7 6-2 6 4 6 6 6 4 6-1 6-7 11-25 6-11 6-7 6-2 6 4 6 10 18 37 6 8 6 3 6-2 6-8 6-13 6-17 18-59 6-15 6-12 6-5 6-1 6 6 6 11 6 15 6 18 18 59 6 16 6 13 6 7 6 2 6-4 6-10 6-15 6-20 6-23 18-80 4 20-5 27-12 53-6 23-6 20-6 15-6 10-6 4-6-2-6-7-6-12-12-35-12-41-6-18-6-15-6-11-6-6-6 1-6 6-6 11-6 16-6 18-12 40-6 17-6 13-6 8-6 3-6-4-6-8-18-37-6-9-6-5-6 2-6 7-6 11-12 25-6 7-6 1-6-4-6-6-6-4-6 3-6 6-6 1-6 2-6 6-6 2-6-3-6-7-6-3-6 1-6 7-18 36-6 7-6 1-6-4-6-9-6-12-5-13-6-12-6-8-6-4-6 3-6 8-6 13-6 17-12 40-6 18-6 16-6 11-6 6-6 0-6-5-6-11-6-15-6-18-18-60-6-16-6-12-6-7-6-2-6 4-6 10-6 15-6 19-12 49-12 55z"/><path transform=translate(-16,-8) d="m608 623 12-55 12-49 6-19 6-15 6-10 6-4 6 2 6 7 6 12 6 16 18 60 6 18 6 15 6 11 6 5 6 0 6-6 6-11 6-16 6-18 12-40 6-17 6-13 6-8 6-3 6 4 6 8 6 12 5 13 6 12 6 9 6 4 6-1 6-7 18-36 6-7 6-1 6 3 6 7 6 3 6-2 6-6 6-2 6-1 6-6 6-3 6 4 6 6 6 4 6-1 6-7 12-25 6-11 6-7 6-2 6 5 6 9 18 37 6 8 6 4 6-3 6-8 6-13 6-17 12-40 6-18 6-16 6-11 6-6 6-1 6 6 6 11 6 15 6 18 12 41 12 35 6 12 6 7 6 2 6-4 6-10 6-15 6-20 6-23 12-53 5-27 5 24-18 80-6 23-6 20-6 15-6 10-6 4-6-2-6-7-6-13-6-16-18-59-6-18-6-15-6-11-6-6-6 0-6 6-6 12-6 15-6 19-5 20-6 20-6 17-6 13-6 8-6 2-6-3-6-8-18-37-6-10-6-4-6 2-6 7-6 11-12 25-6 7-6 1-6-4-6-6-6-4-6 2-6 7-6 1-6 2-6 6-6 2-6-4-6-6-6-4-6 2-6 7-6 11-12 25-6 7-6 1-6-4-6-9-6-12-6-14-6-11-6-9-6-3-6 2-6 9-6 13-6 17-18 58-6 16-6 11-6 6-6 0-6-5-6-11-6-15-24-78-6-16-6-12-6-7-5-2-6 4-6 9-6 16-6 19-6 23-18 80z"/><path transform=translate(-12,-5) d="m609 643 18-80 6-23 6-19 6-16 6-9 6-4 5 2 6 7 6 12 6 16 24 78 6 15 6 11 6 5 6 0 6-6 6-11 6-16 18-58 6-17 6-13 6-9 6-2 6 3 6 9 6 11 6 14 6 12 6 9 6 4 6-1 6-7 12-25 6-11 6-7 6-2 6 4 6 6 6 4 6-2 6-6 6-2 6-1 6-7 6-2 6 4 6 6 6 4 6-1 6-7 12-25 6-11 6-7 6-2 6 4 6 10 18 37 6 8 6 3 6-2 6-8 6-13 6-17 6-20 5-20 6-19 6-15 6-12 6-6 6 0 6 6 6 11 6 15 6 18 18 59 6 16 6 13 6 7 6 2 6-4 6-10 6-15 6-20 6-23 18-80 5 26-18 80-6 24-6 19-6 15-6 10-6 4-6-2-6-7-6-12-6-16-6-19-12-41-6-18-6-15-6-11-6-5-6 0-6 6-6 11-6 16-6 18-12 40-6 17-6 13-6 8-6 3-6-4-6-8-18-37-6-9-6-4-6 1-6 7-18 36-6 7-6 1-6-3-6-7-6-3-6 2-6 6-6 2-5 1-6 6-6 3-6-4-6-6-6-4-6 1-6 7-12 25-6 11-6 7-6 2-6-5-6-9-18-37-6-8-6-4-6 3-6 8-6 13-6 17-12 40-6 18-6 16-6 11-6 6-6 1-6-6-6-11-6-15-6-18-12-41-12-35-6-12-6-7-6-2-6 4-6 10-6 15-6 20-6 23-18 80z"/><path transform=translate(-7,-3) d="m608 668 18-80 6-23 6-20 6-15 6-10 6-4 6 2 6 7 6 12 12 35 12 41 6 18 6 15 6 11 6 6 6-1 6-6 6-11 6-16 6-18 12-40 6-17 6-13 6-8 6-3 6 4 6 8 18 37 6 9 6 5 6-2 6-7 6-11 12-25 6-7 6-1 6 4 6 6 6 4 6-3 6-6 5-1 6-2 6-6 6-2 6 3 6 7 6 3 6-1 6-7 18-36 6-7 6-1 6 4 6 9 18 37 6 8 6 4 6-3 6-8 6-13 6-17 12-40 6-18 6-16 6-11 6-6 6 0 6 5 6 11 6 15 6 18 12 41 6 19 6 16 6 12 6 7 6 2 6-4 6-10 6-15 6-19 6-24 18-80 4 28-18 80-6 23-6 20-6 15-6 10-6 4-5-2-6-7-6-13-6-16-18-59-6-18-6-15-6-11-6-6-6 0-6 6-6 12-6 15-18 58-6 18-6 13-6 8-6 2-6-3-6-8-18-37-6-10-6-4-6 2-6 7-6 11-12 25-6 7-6 1-6-4-6-6-6-4-6 2-6 6-12 4-6 6-6 2-6-4-6-6-6-4-6 2-6 7-6 11-12 25-6 7-6 1-6-4-6-9-6-12-6-14-6-11-6-9-6-3-6 2-6 8-6 14-6 17-5 19-12 39-6 16-6 11-6 6-6 0-6-5-6-11-6-15-24-78-6-16-6-12-6-7-6-2-6 4-6 9-6 15-6 20-6 23-18 80z"/><path transform=translate(-2,-1) d="m608 693 18-80 6-23 6-20 6-15 6-9 6-4 6 2 6 7 6 12 6 16 24 78 6 15 6 11 6 5 6 0 6-6 6-11 6-16 12-39 5-19 6-17 6-14 6-8 6-2 6 3 6 9 6 11 6 14 6 12 6 9 6 4 6-1 6-7 12-25 6-11 6-7 6-2 6 4 6 6 6 4 6-2 6-6 12-4 6-6 6-2 6 4 6 6 6 4 6-1 6-7 12-25 6-11 6-7 6-2 6 4 6 10 18 37 6 8 6 3 6-2 6-8 6-13 6-18 18-58 6-15 6-12 6-6 6 0 6 6 6 11 6 15 6 18 18 59 6 16 6 13 6 7 5 2 6-4 6-10 6-15 6-20 6-23 18-80 5 28-18 79-6 24-6 19-6 15-6 10-6 4-6-2-6-7-6-12-6-16-24-78-6-15-6-11-6-5-6 0-6 6-6 11-6 16-18 58-6 17-6 13-6 9-6 2-6-3-6-9-6-11-5-14-6-12-6-9-6-4-6 1-6 7-12 25-6 11-6 7-6 2-6-4-6-7-6-3-6 2-6 6-6 2-6 1-6 7-6 2-6-4-6-6-6-4-6 1-6 7-12 25-6 11-6 7-6 2-6-5-6-9-18-37-6-8-6-3-6 2-6 8-6 13-6 17-18 59-6 15-6 11-6 6-6 1-6-6-6-11-6-15-6-18-18-59-6-16-6-13-6-7-6-2-6 4-6 10-6 15-6 20-6 23-18 80z"/></g>
<path class="a" d="M29.6 37.9L29.6 130.3L122.1 173.5L241.8 140.5M29.6 130.3l-2 -.7M29.6 107.2l-2 -.7M29.6 84.1l-2 -.7M29.6 61l-2 -.7M29.6 37.9l-2 -.7M122.1 173.5l-1.8 .5M75.8 151.9l-1.8 .5M29.6 130.3l-1.8 .5M122.1 173.5l1.5 .9M181.9 157l1.5 .9M241.8 140.5l1.5 .9"/>
<g class="t"><text transform="translate(24.8,132.3) scale(.87,1)" text-anchor="end">-1000</text><text transform="translate(24.8,109.2) scale(.87,1)" text-anchor="end">-500</text><text transform="translate(24.8,86.1) scale(.87,1)" text-anchor="end">0</text><text transform="translate(24.8,63) scale(.87,1)" text-anchor="end">500</text><text transform="translate(24.8,39.9) scale(.87,1)" text-anchor="end">1000</text><text transform="translate(117.3,182.7) scale(.87,1)" text-anchor="end">-500</text><text transform="translate(71,161.1) scale(.87,1)" text-anchor="end">0</text><text transform="translate(24.8,139.5) scale(.87,1)" text-anchor="end">500</text><text transform="translate(126.7,183.6) scale(.87,1)">-500</text><text transform="translate(186.5,167.5) scale(.87,1)">0</text><text transform="translate(246.4,151.5) scale(.87,1)">500</text></g>
<path class="g" d="M318 130.3L437.7 97.3M437.7 97.3L530.2 140.5M318 37.9L437.7 4.9M437.7 4.9L530.2 48.1M318 84.1L437.7 51.1M437.7 51.1L530.2 94.3M319.4 129.9L411.9 173.1M377.9 113.8L470.4 157M436.3 97.7L528.8 140.9M529.1 140L409.4 173M484 118.9L364.2 151.9M438.8 97.8L319.1 130.8"/><path class="g v" d="M437.7 4.9L437.7 97.3M530.2 48.1L530.2 140.5M319.4 37.5L319.4 129.9M377.9 21.4L377.9 113.8M436.3 5.3L436.3 97.7M529.1 47.6L529.1 140M484 26.5L484 118.9M438.8 5.4L438.8 97.8"/>
<defs><linearGradient id="gb" gradientUnits="userSpaceOnUse" x1="2052.5" y1="867.5" x2="1957.6" y2="523.4"><stop offset="0" stop-color="#000080"/><stop offset="0.125" stop-color="#0000ff"/><stop offset="0.375" stop-color="#00ffff"/><stop offset="0.625" stop-color="#ffff00"/><stop offset="0.875" stop-color="#ff0000"/><stop offset="1" stop-color="#800000"/></linearGradient></defs>
<g class="c" transform="scale(.2)" stroke-width="2.5"><path stroke=#00f d="m2257 741-5-1 3-1zm-163 13-7-4 8-2 6 3zm63-15-11 0-5-3 2-4 14-1 6 3 0 2zm51-16-5 0-5-3 4-5 11-1 10 4-4 5zm60-16-5 0-6-3 0-2 6-3 11 0 6 3-3 4zm58-18-7-2 7-3 8 3zm-211 30-19-1-4-4 4-4 17-1 8 2 1 4zm51-15-13-2-4-3 1-3 5-3 10-1 15 3 1 5-5 3zm60-17-14-1-4-3 8-6 14 0 7 2 1 4-3 3zm-173 47-12-1-3-3 1-2 8-2 13 2 0 4zm231-64-10-1-4-3 1-2 7-2 14 2 0 4zm-276 44-14-2-2-4 1-2 8-1 14 1 2 4zm52-15-11-2-3-5 4-3 17-2 9 2 3 4-2 3-6 2zm62-16-16-2-3-4 6-5 17-1 9 2 3 4-1 2-5 3zm60-16-17-2-3-4 2-3 6-2 13-1 9 2 3 5-4 3zm58-18-14-1-2-4 9-4 14 2 2 4-1 2zm-290 76-6 1 3-2zm344-95-3-1 6-1zm-208 31-18 0-7-2-1-5 5-3 10-1 13 2 4 3-1 3zm-123 31-14-2 0-4 8-2 10 1 4 3-1 2zm51-15-10-2-1-4 3-3 23 0 4 3-8 6zm122-32-16-2-1-4 7-4 19 1 4 4-4 4zm58-17-13-2 0-4 7-2 12 1 3 3-1 2zm-279 42-8-3 8-2 7 2zm63-15-11 0-6-3 3-4 14-1 6 3 0 2zm50-15-10-4 4-5 16 0 5 3-4 5zm60-17-10-3 0-2 6-3 11 0 5 3-2 4zm58-17-6-3 7-3 7 3zm-158 9-4-2 5 1z"/><path stroke=#07f d="m2246 780-11-1 0-4 14 0 1 1zm61-16-16-1 1-5 16 0 1 4zm59-17-11 1-5-3 5-3 9 1zm-160 15-18-1-7-2-1-4 4-4 26 0 4 3-1 5zm61-17-22 1-7-3-1-4 6-5 15-1 11 2 4 3-1 5zm59-16-22 0-7-2-1-4 8-5 22 1 4 3 0 3zm-239 60-13-1 10-2zm57-12-11 0-7-3 0-4 9-3 14 1 4 3-2 4zm231-64-10 0-7-3 0-4 8-3 15 1 5 3-3 4zm57-19-9-2 10-3zm-267 48-25 0-9-3-1-5 5-6 5-1 28 1 6 3 0 4-3 5zm61-16-23 1-10-1-6-3 2-8 4-4 11-1 23 2 6 3-2 8zm59-17-22 2-17-4 0-5 8-7 30 1 6 3-1 7zm-238 61-8 2-11-1-5-3 0-3 6-3 12 0 9 3zm56-12-22-1-5-3-1-4 3-4 8-2 21 1 6 3 0 4zm231-64-21-1-6-3 0-4 3-4 7-2 22 1 6 3 0 4-3 4zm57-18-12 0-8-4 2-5 19 0 6 2 0 4zm-331 62-28-2-4-3 0-5 3-4 8-2 32 3 1 4-5 7zm52-15-26-2-4-3 4-13 25 0 23 3-5 12-6 3zm62-16-33-1-2-4 5-14 49 3-2 2 1 3-3 7-5 4zm60-16-34-1-2-4 1-6 7-8 34 2 7 2 0 9-4 5zm58-17-19 0-11-2-3-3 1-5 3-4 7-2 32 3 1 7-3 4zm-296 78-18-1-4-4 2-4 6-3 18 0 7 3 2 4zm342-96-12-1-4-4 4-6 22-1 8 4 1 3-2 2-7 3zm-410 109-2-1 2-5 13 2-2 3zm474-129-10 0-2-3 2-2 13 1 2 1zm-321 67-42-3-3-4 5-12 49 1-3 10zm62-15-52-3 3-4 4-15 38 2 14 1-3 4zm57-18-49-1 3-10 6-8 42 3 3 4zm-240 60-8 2-13-1-8-2-3-3 2-5 7-2 16 0 9 2 3 3zm56-13-32-2-2-8 3-4 8-2 23 0 11 2 1 4-4 8zm232-64-23 0-11-2-1-4 4-8 8-2 32 2 2 8-3 4zm56-18-16 0-9-2-3-3 5-6 8-2 13 1 8 2 3 3-2 5zm-409 109-11 0-6-2 4-4 13 0 2 1zm464-128-15-1 2-5 11 0 6 2zm-324 66-34-2-7-2 0-9 4-5 9-1 34 1 2 4-1 6zm49-16-36-3 2-2-1-3 3-7 5-4 31 0 12 1 2 4-1 5-4 9zm61-17-38-3 5-12 6-3 26 1 11 1 4 3-4 13zm-239 61-13 0-7-3-2-4 9-5 22 1 4 4-3 5zm53-14-20-3-1-7 3-4 8-2 19 0 11 2 3 3-4 9-7 2zm243-64-24-1-8-2-1-4 5-7 7-2 28 2 4 3 0 5-3 4zm57-18-18 0-7-3-2-4 13-5 18 1 4 4-2 4zm-410 109-15-2 5-3 10 0 2 3zm464-128-13-2 2-3 12-1 1 4zm-326 64-30-1-6-3 0-4 5-6 9-2 24 2 6 2 0 5zm61-16-11 1-23-2-6-3 0-4 2-4 10-4 28 1 6 3-2 8zm58-17-33 0-6-3 0-4 3-5 5-2 26 0 9 3 1 5zm-238 61-19 0-6-2 0-4 7-3 12 0 8 4zm56-13-22-1-6-3 0-4 3-4 8-2 21 1 6 3 0 4-3 4zm231-64-21-1-6-3 0-4 10-6 22 1 5 3 1 4-3 4zm57-18-12 0-9-4 6-5 16 0 5 3 0 3zm-337 59-15-1-5-3 3-4 18-2 7 3 0 4zm51-15-11-1-4-3 0-3 4-4 9-1 20 3 0 6-7 3zm62-15-16-2-4-3 1-5 14-3 13 0 7 3 0 6-5 3zm60-17-17-1-4-3 1-5 7-3 11 0 14 3 1 4-4 4zm58-17-14-1-4-3 2-4 18-2 7 3 0 4zm-298 78 0-5 10 2zm353-97-4 0-4-3 14 0zm-213 28-15 0-1-4 2-2 13 0 3 1zm-62 16-9-1-2-4 15 0 1 2zm110-32-5-2 3-4 12 1 0 4z"/><path stroke=#0ff d="m2227 816-2-1 9-2zm65-15-13 0-2-4 2-2 9-1 8 2 1 2zm57-15-13-1-3-3 4-4 18 2 1 2-2 2m48-15-6 0-3-4 5-3 14 2-1 4zm56-18 8-2-8 2m-205 32-10 1-17-2-4-4 0-3 3-5 10-1 25 3 3 3-3 6zm51-15-15 0-8-2-2-4 1-5 4-4 34 3 4 3-3 5-5 3zm60-16-16 0-8-2-2-4 1-6 6-3 30 3 3 3-1 4-4 3zm-237 61-11-2-2-4 7-2 14 1 2 4-2 2zm52-14-10-2-3-4 3-4 20-2 10 2 3 3-4 5-7 2zm232-64-10-2-2-4 2-4 20-2 9 2 4 3-4 5-7 2zm68-18-15-2 0-4 9-3 10 2 3 4zm-265 48-41-2-3-1 1-13-34-4-10 2-4 3-4 9-6 3-45-2-3-3 2-9-1-4-24-4-21 2-8 13-34 0-11-2-3-3 0-6 2-3-2-3 3-2-5 1-42-5-2-4 2-9-2-3 3-2-5 1-33-3-8-2-1-4 3-9 6-3 37 1 6-3 3-4 1-6-4-3-44-5 3-1 2-10 3-4-2-1 9-2 37 1 6-3 3-6 0-4-4-3-36-3-4-3 7-13 48 0-1-2 4-2 0-4 8-9 44-1 5 2-2-2 4-3 4-9 6-3 41 2 3 1-1 13 34 4 10-2 4-3 4-9 6-3 45 2 3 3-2 9 1 4 24 4 21-2 8-13 34 0 11 2 3 3 0 6-2 3 2 3-3 2 5-1 42 5 2 4-2 9 2 3-3 2 21 0 25 4 0 9-2 4-6 3-37-1-6 3-3 4-1 6 4 3 44 5-3 1-2 10-3 4 2 1-9 2-37-1-6 3-3 6 0 4 4 3 36 3 4 3-7 13-48 0 1 2-4 2 0 4-8 9-44 1-5-2 2 2-4 3-4 9zm-127 30-17-1-7-2-1-4 2-4 6-3 26 2 5 3-1 3-5 4zm53-15-24-3-1-4 2-9 8-2 36 3 4 3-7 10zm231-64-17 0-8-2 3-14 7-2 35 3 4 3 0 5-5 5-7 2zm68-18-21 0-7-2-1-6 4-4 9-1 21 2 4 3-1 4-1 2zm-418 110-9-2-1-2 4-4 12 0 8 4-5 3zm463-128-8-2 3-6 11 0 10 4-6 3zm-274 67 13 0 4-4 1-10-7-2-33 0-5 3-3 8 5 3zm59-16 14 0 3-5 1-9-16-3-23 0-8 7 0 5 5 3zm-223 44-27-1-6-3-1-4 2-6 6-3 36 1 7 3-3 5-6 7zm353-96-36 0-5-3 6-13 23-1 14 2 6 3 1 5-3 4zm-419 110-13-1-6-3 0-5 6-3 22 1 6 2 0 5-6 3zm463-128-12-1-6-3 1-4 14-5 19 4 0 5-6 3zm-521 140-7-3 8 2zm583-161-7-3 7 3m-398 101 7 0 6-3 2-6-2-3-7-3-20-1-9 2-4 3-2 6 4 3 10 2zm63-17 8-4 1-3-1-4-8-2-24 0-5 3-2 5 4 3 10 2zm59-17 8-3 1-4-1-3-8-3-23 0-6 3-2 5 4 4 10 2zm54-15 11-1 4-4 0-7-8-3-26 0-8 5-1 5 4 3zm-336 76-20 1-9-2-5-3 1-6 6-3 25 0 9 2 0 5zm464-128-31 0-3-4 1-4 5-4 10-2 14 1 9 3 2 4zm-531 141-12 0-3-4 2-2 10-1 8 2 0 2zm573-160-4 0-4-3 6-3 6-1 9 2-2 5zm-455 116 12 0 7-3 3-8-5-4-17-2-21 1-6 10 1 4zm65-18 10-3 2-5-3-4-8-2-24 1-5 7 3 4 9 2zm175-49 10-2 3-6-4-4-21-2-13 4-1 5 3 3zm54-15 9 1 8-2 4-4 2-9-10-2-28 0-7 2-3 5 0 4 3 3zm-184 47 17-1 7-6-5-4-16-2-9 1-6 7 3 3zm59-16 18-1 5-3 0-3-2-3-8-2-19 0-5 3-1 3 3 4zm-274 63-23-3-3-4 2-5 5-3 11-1 24 2 1 5-2 4-5 4zm464-128-25-2-1-5 7-8 11-1 22 3 3 3-2 6-5 3zm65-26-2 5-19 0-2-4 6-3 13 1m-599 165 2-5 19 0 2 4-6 3-13-1m127-45 14 0 7-2 3-5 0-4-3-3-9-2-22-1-8 2-4 4-2 9zm65-17 13-4 1-5-3-3-9-2-22 1-5 7 4 4zm63-18 7-3 1-3-3-4-17-2-10 1-5 3 2 6 16 3zm59-16 7-4 1-3-3-3-9-2-17 1-7 6 5 4 16 2zm53-15 11-1 5-7-3-4-9-2-20 0-6 3-2 5 3 4zm55-15 19-1 6-10-1-4-38-2-7 3-3 8 3 3zm-397 94-14-1-9-3-2-4 6-6 32 0 3 4-1 4-5 4zm463-129-24-2 0-5 6-6 21-1 9 2 5 3-1 6-6 3zm-521 140-6 1-9-2 2-5 15 0 4 3zm574-159-8-2 0-2 5-3 12 0 3 4-2 2zm-400 97 13 0 8-5 1-5-4-3-10-2-16-1-9 2-4 4 0 7 8 3zm61-17 10 0 6-3 2-6-4-3-20-2-10 1-5 3 0 7 8 3zm59-16 11-1 5-3 2-5-4-3-10-2-17 0-8 4 0 7zm57-16 7 1 9-2 4-3 2-6-4-3-10-2-22 0-6 3-2 5 2 4 7 3zm-273 64-28-2-6-3-1-5 3-4 6-3 36 0 5 3-6 13zm353-96-36-1-7-3 9-12 25-1 10 1 6 3 1 4-2 6zm-420 110-19-4 0-5 6-3 22 0 6 3-1 4zm463-129-18-3 0-5 6-3 9-1 13 1 6 3 0 5-6 3zm-522 140-7-3 7 3m584-161-8-2 3-1zm-335 84 7-3 3-4 0-5-5-3-38-2-3 5-1 9 16 3zm60-17 7-3 2-5 1-3-5-3-38-2-4 4-1 10 18 3zm-166 33-35-3-4-3 0-5 5-5 7-2 29 0 8 2-3 14zm231-64-36-3-4-3 7-10 7-2 27 1 8 2 1 4-2 9zm-354 90-11 0-10-4 6-3 11-1 7 2zm56-13-13 0-8-2-4-4 2-5 7-2 21 0 7 2 1 6-4 4zm342-96-15-2-5-3 6-7 12-2 20 3 1 4-2 4-6 3zm65-19-11 0-8-4 5-3 11-1 7 2 1 2zm-329 63-21-1-9-2-3-3 1-4 4-3 9-2 16 0 8 2 2 4-1 6zm50-16-14-1-9-2-4-3 3-5 5-3 25-1 8 2 2 4-1 5-4 4zm60-16-25-3-3-3 3-6 7-2 10-1 17 2 4 4-3 8zm-238 61-10-2-3-4 7-3 15 2-1 5zm52-15-9-2-4-3 4-5 7-2 14 0 8 2 2 4-2 4zm232-64-10-2-3-3 4-5 7-2 14 0 8 2 3 4-3 4zm68-18-14-1-2-4 2-2 8-1 11 2 2 4zm-277 43-14-2 1-4 15-1 3 4zm110-32-8-2-1-2 5-3 13 0 2 4-2 2zm-177 45 7-2-7 2m232-64 6-3 2 1zm-116 27 13 1 3 3-4 4-18-2-1-2 2-2"/><path stroke=#7f8 d="m2171 835-10-2-3-3 0-2 7-3 18 2 0 5m41-12-10-1-3-4 2-6 7-2 13 0 13 3 1 4m32-9-10-2-3-3 0-5 3-4 30 0 8 2 2 4m27-8-10-1-3-4 0-7 3-2-3-3-37-1-10 1-4 3-5 9-5 3-48 0 1 1-10 12-7 2-25 0-14-2-2-4 1-9-6-3-12-1-19 0-8 2-4 3-5 9-44 0-7-3-1-12-6-3-12-1-19 0-7 2-10 12-40-1-5-3-1-13-45-5-4-3 2-2 0-7-2-4-8-2-36-3-6 3 1 3-4 7-6 3-11 0m562 8-10-1-3-4 1-7 6-3 25 1 8 2 2 4m32-9-10-1-3-4 2-6 7-2 18 1 7 2 3 4m41-12-12-1-3-3 3-3 13-2 9 2 1 4m-398 82-27-3-3-4 1-7 6-3 36 3 2 4-2 5zm352-97-10 1-24-2-1-4 4-9 9-2 29 3 3 4-1 5zm-418 110-13-2-2-5 5-3 10-1 12 2 3 5-5 3zm463-128-12-2-2-4 5-4 13-1 9 2 4 4-6 4zm-330 81 6 1 4-3 2-5-1-4-5-3-10-1-21 1-5 4-2 7 11 3zm176-48 9-1 3-4 1-7-6-3-29 0-9 6 1 5 5 2zm-129 31 16 0 5-3 0-7-5-3-12-1-15 2-6 4 0 5zm59-16 17 0 5-6-1-4-5-3-26 0-6 3-1 6 5 3zm-278 62-20-1-8-6 1-6 4-3 37 1 4 3-4 7-5 4zm463-128-28-3 6-13 25 0 14 5 0 4-7 6zm67-24-4 3-9 1-13-2 2-5 7-2 8 1m-598 165 3-5 19 0 4 3-1 2-6 3-10 1m122-47 15 0 7-3 2-4-2-4-6-2-27 0-4 4-1 4 5 3zm64-18 8 0 6-3 0-5-7-3-16 0-4 1-4 4 0 2 5 3zm62-17 9-4-1-3-6-2-15 0-5 4 5 4zm59-17 5 0 4-4-7-5-14 1-6 3 0 2 5 3zm55-15 11-1 4-4-1-3-12-3-9 0-8 3-1 4 5 3zm54-15 12 1 8-2 4-4-1-5-6-3-12-1-18 3-2 7 5 3zm142-55-5 3-27 1-5-3 1-5 7-4 10-1m-511 141 5 1 8-2 2-5-2-6-7-2-22-1-8 2-5 8 2 4zm412-113 12-2 4-7-1-3 2-1-23-3-18 3-4 4 0 4 5 3zm-499 137 4-3 9-2 18 1 6 3-1 4-8 5-10 1m120-51 9 0 7-3 0-6-8-2-19 2-3 3 3 5zm66-18 5-3-1-3-7-2-11 1-2 3 3 3zm179-50 2-4-9-2-6 0-6 3 3 3zm49-13 14-2 3-3-1-4-7-2-15 0-6 2-2 4 2 2zm-179 45 8 0 4-3-11-2-3 1zm58-16 10 0 2-3-11-2-2 1zm263-82-11 4-29-1-3-3 4-7 6-3 10-1m-509 141 11-2 2-5-3-4-13-3-13 0-7 2-4 7 3 4zm412-113 9-2 5-6-2-4-9-2-19 0-8 2-3 6 4 4zm-501 137 4-3 9-2 29 3 0 5-3 4-6 3-11 1m119-53 6 0 7-3-1-5-9-2-14 2-2 3 2 3zm293-81 12-2 2-5-10-3-15 3-1 2 3 3zm-239 62 8 0 4-4-13 0zm63-18 2 0-2 0m59-16 3-1-3 1m53-15 12 0 1-3-10-1zm207-65-4 4-46 1 2 4-2 1-1 8 3 3 9 2 34 4-2 9 2 8 35 3 6 3 1 4-2 7-6 3-35 0-7 2-4 7 0 4 5 3 34 4 5 3-5 12-6 3-36 0-7 2-4 12 40 6 2 3-1 5-5 6-8 2-35 0-5 3-8 13-9 2-26-1-10 1-5 3-4 9-4 3 8 3 7-1 20 2 8 2 1 4m-470-51 13-3 2-5-4-4-25-2-7 2-5 6 2 4zm411-113 12-2 4-7-3-4-27-1-8 2-2 4 3 5zm-499 137 4-4 46-1-2-4 2-1 1-8-3-3-9-2-34-4 2-9-2-8-35-3-6-3-1-4 2-7 6-3 35 0 7-2 4-7 0-4-5-3-34-4-5-3 5-12 6-3 36 0 7-2 4-12-40-6-2-3 1-5 5-6 8-2 35 0 5-3 8-13 9-2 26 1 10-1 5-3 4-9 4-3-8-3-7 1-20-2-8-2-1-4m74 139 15-3 1-2-3-3-9-2-12 2-2 5zm294-81 14-2 2-3-2-3-17-2-7 3 1 5zm-239 61 10 1 3-4-12 0zm63-17 3-1-3 1m60-17 2 0-2 0m53-14 13 0-1-4-8 0zm207-65-4 3-9 2-29-3 0-5 3-4 6-3 11-1m-599 165 11-4 29 1 3 3-4 7-6 3-10 1m58-34 18-3 4-4 0-4-5-3-15-2-13 0-7 2-4 7 1 3-2 1zm412-114 18-2 5-9-2-3-12-1-20-1-8 2-2 5 2 6zm-360 95 15 0 6-2 2-4-6-4-8-1-14 2-3 3 1 4zm65-18 6 0 6-3-3-3-16 0-2 4zm63-17 3-1-1-4-10 0-2 3zm59-16 3-1-2-4-8 0-4 3zm53-15 11-1 2-3-3-3-13-1-5 3 1 3zm55-15 19-2 3-4-3-4-20-1-8 5 1 4zm146-53-4 3-9 2-18-1-6-3 1-4 8-5 10-1m-599 165 5-3 27-1 5 3-1 5-7 4-10 1m119-50 17-3 2-7-5-3-22-2-8 2-4 4 1 5 6 3zm65-18 8-3 1-4-5-3-13-2-9 2-4 4 1 3 6 2zm178-49 4-1 4-4 0-2-5-3-20-1-6 3 0 5 7 3zm51-15 15-1 4-4 1-4-5-3-11-2-15 0-7 3-2 4 2 4zm-183 47 14-1 6-3 0-2-5-3-18 0-4 4zm59-17 15 0 5-5-5-3-13-1-9 4 1 3zm-270 67-23-3-5-3 0-4 7-6 10-1 28 3-6 13zm475-129-37-1-4-3 4-7 5-4 29 0 8 6-1 6zm54-25-3 5-19 0-4-3 1-2 6-3 10-1m-598 165 4-3 9-1 13 2-2 5-7 2-8-1m178-63 17-1 9-6-1-5-16-4-23 1-3 4-1 7 6 3zm61-17 14-1 6-3 1-6-5-3-19-2-10 1-5 6 1 4 5 3zm59-16 15-2 6-4 0-5-22-4-11 1-5 3 0 7 5 3zm57-16 19-1 5-4 2-7-11-3-27-1-4 3-2 5 1 4 5 3zm-269 64-29-3-3-6 3-5 7-2 10-1 24 2 1 4-4 9zm353-96-36-3-2-4 2-5 5-3 8-2 19 1 8 2 3 4-1 7zm-421 109-12-2-4-4 6-4 14-1 9 2 2 4-5 4zm464-128-12-2-3-5 5-3 10-1 13 2 2 5-5 3zm-453 81 12 1 3 3-3 3-13 2-9-2-1-4m76-21 10 1 3 4-2 6-7 2-18-1-7-2-3-4m85-23 10 1 3 4-1 7-6 3-25-1-8-2-2-4m88-24 10 1 3 4 0 7-3 2 3 3 37 1 10-1 4-3 5-9 5-3 48 0-1-1 10-12 7-2 25 0 14 2 2 4-1 9 6 3 12 1 19 0 8-2 4-3 5-9 44 0 7 3 1 12 6 3 12 1 19 0 7-2 10-12 40 1 5 3 1 13 45 5 4 3-2 2 0 7 2 4 8 2 36 3 6-3-1-3 4-7 6-3 11 0m-446-40 10 2 3 3 0 5-3 4-30 0-8-2-2-4m85-23 10 1 3 4-2 6-7 2-13 0-13-3-1-4m76-21 10 2 3 3 0 2-7 3-18-2 0-5"/><path stroke=#ff0 d="m2054 863 0 0m56-11-10-2-3-3 0-3 5-4 18 0 8 2 1 4m32-8-9-2-4-3 0-9-2-4-43-1-7 2-4 6-7 5-18 2-21-3-3-4 0-8-6-3-42-3-5 3-5 9-17 3m246-5-11-1 1-1-3-3 0-9-5-3-28-1-8 2-4 3-4 9 7 2 27 1 9 2 0 4m71-19-6 1m183-50-6 1m72-19-12-1-3-4 4-9-4-4-35 0-7 2-3 5 1 6 39 6 0 4m85-23-10-2-3-3 0-3 7-4 16 0 8 3 2 3m44-16 0 0m-402 102 14 0 6-3 0-7-5-3-7-1-21 1-6 5 0 5zm61-17 11 0 5-4 0-5-6-3-23 0-6 5 1 4zm59-16 12-1 4-3 0-5-5-3-23 0-7 4 0 4 3 2zm57-16 16 0 4-4 0-6-5-3-11-1-21 3-2 8zm194-73-14 5-17-2-2-4 1-3 6-3 11 0m-509 141 11-2 0-10-16-4-22 3-6 9 6 3zm412-113 10-2 4-11-6-3-28 0-7 2-4 4 1 5 6 3zm-502 137 4-4 25 0 4 4-1 3-6 3-11 1m127-50 12-2 1-5-6-3-14-1-8 2-3 4 0 2 6 3zm294-81 2 1 10-4 1-4-6-3-17-1-7 3-1 5 6 3zm-243 63 10 0 6-4-6-3-13 1-3 3zm63-17 8-2-5-3-7 0-2 2zm58-16 7-1 2-2-11-2-4 2zm56-16 13 0 3-4-6-3-10 0-6 3 0 2zm204-67-5 4-43 2-3 15 6 3 31 4 4 3-1 5-8 6-22 0-19 3-3 4-2 10-2 1 32 4 8 2 2 3m-513 60 13-2 2-4-1-2-6-2-15-1-7 2-3 5 5 3zm412-113 5 0 9-4 0-4-6-3-15 0-8 2-2 4 5 4zm-498 137 2-4 46-1 2-9-8-6-28-1-7 2-6 9-5 3-11 0m156-36 5 0 6-3-7-3-8 2-1 1zm293-81 11-1 0-2-9-2-7 2zm149-48-4 4-40 2-6 4 0 7 15 4 23 1 7-2 3-10 5-3 12 0m-606 137 5-1 4-5-2-4-8-2-20-1-7 2-4 7 4 4zm527-145 8-3 4-5-1-4-8-2-19 0-12 5 0 4 4 3zm-570 150 1-2-6-1m88-21 18-2 0-3-13-2-8 3zm412-114 10 1 7-2 0-4-8-2-12 2zm99-30 5 3m-619 139 21-2 4-5-3-3-8-2-16-1-7 3-3 5 3 3zm530-146 15 0 6-3 3-4-1-4-9-2-23 2-3 6zm-470 125 5 1 8-2-1-2-6-1-8 2zm411-113 6 1 7-3 0-2-7-1-7 2zm-499 112 4-1 3-6-12-5-15 0-6 3-3 4 1 4 9 2zm526-145 8-3 3-4-3-4-22-2-8 2-4 5 3 3 8 2zm-485 125 7 1 7-2-1-3-6-1-7 3zm412-114 6 1 8-2-7-3-8 2zm-507 114 16-4 1-5-4-3-26-2-6 3-4 5 1 4 8 2zm529-146 15-2 4-7-4-4-25-1-8 2-4 4 2 5zm-474 127 12-2 0-2-3-3-10-1-7 2 0 4zm411-114 13-3-3-4-10 0-8 2 0 3zm-501 137-5-3m599-165-1 2 6 1m-547 122 8-2 2-5-5-3-17-1-9 4 0 4 6 3zm411-113 8-2 3-5-5-3-17-1-8 2-2 4 7 4zm-503 137 4-4 40-2 6-4 0-7-15-4-23-1-7 2-3 10-5 3-12 0m160-36 9-2-5-3-11 1 0 2zm293-80 9-3-5-3-5 0-6 3zm145-49-2 4-46 1-2 9 8 6 28 1 7-2 6-9 5-3 11 0m-639 146 5-4 43-2 3-15-6-3-31-4-4-3 1-5 8-6 22 0 19-3 3-4 2-10 2-1-32-4-8-2-2-3m52 45 15 0 7-2 4-4-1-5-6-3-10-1-17-1-7 2-4 11 6 3zm67-18 11-3 1-5-6-3-14-1-8 2-3 4 0 2 6 3zm293-81 10-2 3-6-6-3-17 0-7 2-1 5 6 3zm52-14 22-3 6-9-6-3-13-1-17 0-8 2 0 10zm-295 77 10 0 6-3 0-2-10-3-9 1-3 4zm63-18 9-2-6-3-7 1-2 2zm58-16 7 0 2-2-6-3-5 0-3 2zm56-15 13-1 3-3-6-3-10 0-6 3zm203-68-4 4-25 0-4-4 1-3 6-3 11-1m-599 165 14-5 17 2 2 4-1 3-6 3-11 0m175-66 21-3 2-8-12-3-23 0-4 4 0 6 5 3zm61-17 12-1 7-4 0-4-7-3-24 0-4 3 0 5 5 3zm59-16 13-1 6-5-1-4-6-2-23-1-5 4 0 5 6 3zm56-16 18-1 6-5 0-5-7-2-26-1-6 3 0 7 5 3zm-396 88 0 0m583-161 0 0m-520 139 10 2 3 3 0 3-7 4-16 0-8-3-2-3m85-24 12 1 3 4-4 9 4 4 35 0 7-2 3-5-1-6-39-6 0-4m46-13 6-1m171-48 6-1m46-13 11 1-1 1 3 3 0 9 5 3 28 1 8-2 4-3 4-9-7-2-27-1-9-2 0-4m34-10 9 2 4 3 0 9 2 4 43 1 7-2 4-6 7-5 18-2 21 3 3 4 0 8 6 3 42 3 5-3 5-9 17-3m-142-24 10 2 3 3 0 3-5 4-18 0-8-2-1-4"/><path stroke=#f80 d="m2101 854-9-1-4-4-1-8-5-3-24-2-13 0-7 3-7 8-16 3m135-9-8 2m420-116-9 2m78-21-11-1-3-4 2-4 5-3 12-1m-599 165 4-3 9-2 21 3 1 4m46-25 19-2 2-4-1-4-5-3-10-2-12 0-8 3-4 3 0 5 7 3zm412-114 18-2 3-4 0-4-4-3-12-1-13 0-7 2-4 4 1 4 7 3zm-359 95 13 0 7-3 0-3-4-3-12-1-9 2-1 5zm66-18 7-2-3-4-10 1-2 2zm177-49 6-1-4-4-6 0-5 3zm52-15 9 1 8-2 3-4-5-3-15-1-7 3 0 4zm-174 44 2 0-2 0m60-17 2 1-2-1m262-78-6 4-31 1-9 2-5 8 1 5 6 3 23 2 8 2 2 4m-591 115 11 1 9-2 3-4-1-5-6-3-11-1-19 3-3 3-1 5 6 3zm530-146 13 1 7-3 3-8-6-3-10-1-20 2-4 4 0 4 6 3zm-558 150-7-3m92-21 7 1 8-2 0-3-5-3-8 0-7 2-1 3zm411-113 8 0 7-2 1-2-6-3-7 0-8 2 0 2zm95-31 7 3m-609 138 8-2 2-4-7-4-12 0-7 3-1 3 4 3zm529-146 9-3 1-4-7-2-9-1-8 2-3 4 5 3zm-583 122 12-1 0-2-9-2-5 3zm530-146 6 1 6-4-6-2-9 1-1 1zm-569 122 2 0-2 0m525-144 2-1-2 1m-571 123 2-1-2 1m525-145 2 0-2 0m-567 126 4-1-4-3-6-1-6 3 6 3zm526-145 6-3-2-2-12 1 0 2zm-582 126 9 1 8-2 3-4-5-3-15-1-6 3-1 4zm529-145 12 0 7-3 1-3-4-3-13-1-8 2-2 4zm-570 127 17-2 4-4 0-4-6-3-12-2-12 0-7 3-3 8 6 3zm529-146 19-3 3-3 1-5-6-3-23-1-9 2-3 4 1 5 6 3zm-558 150-7-3m92-21 15-2 0-2-5-3-8 0-7 2-1 2zm411-113 15-2 1-3-13-3-8 2 0 3zm95-31 7 3m-637 147 6-4 31-1 9-2 5-8-1-5-6-3-23-2-8-2-2-4m68 7 13 0 7-2 4-4-1-4-16-4-13 0-7 2-3 4 0 4 4 3zm67-18 9-3 0-4-7-2-9-1-8 2-3 4 5 3zm294-81 8-2 1-5-6-3-13 0-7 3 0 3 4 3zm51-14 12 0 8-3 4-3 0-5-7-3-12-1-19 2-2 4 1 4 5 3zm-293 76 6 0 5-3-9-2-6 1zm63-17-1-1 1 1m59-17 2 0-2 0m53-14 10-1 2-2-8-3-7 2zm204-66-4 3-9 2-21-3-1-4m-559 154 11 1 3 4-2 4-5 3-12 1m74-32 9-2m403-112 8-2m41-11 9 1 4 4 1 8 5 3 24 2 13 0 7-3 7-8 16-3"/><path stroke=#f00 d="m2062 852 14-1 2-8-5-3-21-1-7 3-3 4 0 3zm529-146 15-2 2-7-4-3-20-1-8 2-4 4 1 4zm-473 126 9-2-8-4-7 2-1 2zm412-113 9-3-5-3-11 2zm-518 108 10-1 1-2-10-3-6 3zm530-146 10-3-5-3-10 2-1 1zm-848-2 11-3-10-3-6 2zm530-146 10-3-5-3-10 1-1 2zm-575 128 16-2 4-4-1-4-14-3-12 0-7 2-2 7 4 3zm530-146 10 0 7-3 3-7-12-3-22 1-2 8 5 3zm-472 126 11-3-7-3-9 2zm411-114 4 1 7-2 1-2-9-2-7 2z"/></g>
<g class="s sgb" transform="scale(.2)" fill="url(#gb)" stroke="url(#gb)"><path transform=translate(-460,-215) d="m2050 599 5 15 6-1 5-14 6-23 5-23 6-14 5 0 6 15 4 18-6-15-5 0-6 14-10 46-6 15-5 0-6-15zm82-7 5-22 5-12 6 3 5 18 5 18-6-17-5-3-6 11-5 23zm59 8 6-21 5-10 6 7 4 18-5-6-6 9-5 21zm60-3 6-19 5-6 6 9 4 18-6-9-5 6-5 20zm55 15 5-26 6-17 5-3 5 11 5 19-6-12-5 3-6 17-5 26zm60-21 5-26 5-14 6 0 5 14 5 18-6-14-5 0-6 15-5 25zm54-2 5-29 6-24 5-12 6 3 5 16 4 19-5-17-5-3-6 12-11 54zm60-39 5-30 6-22 5-10 6 7 5 18 4 18-5-18-6-6-5 9-6 22-5 30zm60-50 5-29 6-21 5-6 5 9 5 18-6-8-5 6-6 20-5 29zm54-27 11-60 5-18 6-3 5 11 5 18-6-11-5 3-6 18-11 60z"/><path transform=translate(-456,-213) d="m2054 618 6 15-4-3-6-15zm18-26 5-23 6-14 5 0 4 3-5 0-5 14-6 23zm60 17 5-23 6-11 4 3-6 11-5 23zm60 7 5-21 6-9 4 3-6 9-5 21zm54 24 11-46 5-6 5 3-6 6-11 46zm60-12 5-26 6-17 5-3 4 3-5 3-5 17-6 26zm60-21 5-25 6-15 5 0 4 3-5 0-6 15-5 25zm54-1 11-54 6-12 4 3-6 12-11 53zm60-40 5-30 6-22 5-9 5 3-6 9-5 22-6 30zm60-50 5-29 6-20 5-6 4 3-5 6-5 20-6 29zm54-27 11-60 6-18 5-3 4 3-5 3-6 18-5 28-5 32z"/><path transform=translate(-452,-211) d="m2055 605 5 15 5-1 6-14-4 11-6 15-5 0-6-15zm65 42 5-5-4 11-5 5zm186-18 6-26 5-17 4-11-5 17-6 26zm55 7 10-53 5-12-6 26-5 28zm59-30 11-53 4-11-5 24-5 29zm60-39 6-30 5-22 4-11-5 22-6 30zm55-19 5-31 6-29 5-20 4-12-5 21-6 29-5 30zm60-58 5-32 5-28 6-18 4-11-5 18-6 28-5 32z"/><path transform=translate(-448,-209) d="m2055 584 5 14 6 0 5-15 6-23-5 20-5 23-6 14-5 1-5-15zm306 39 5-28 4-20-5 29zm60-30 5-29 4-19-5 29zm54-11 5-28 6-30 4-19-5 29-6 28zm60-48 5-30 6-29 4-20-5 30-6 30zm60-57 5-32 4-19-5 31z"/><path transform=translate(-444,-207) d="m2055 562 5 15 6 0 5-15 6-23-4 19-6 23-5 15-6 0-5-14zm192 44 5-26 4-20-5 27zm60-11 5-27 4-19-5 26zm54 7 5-29 5-19-6 28zm60-30 5-29 4-20-5 29zm58-31 6-28-4 19-6 28zm2-9 5-29 4-20-5 30zm53-16 11-53-4 20-6 30-5 22zm7-33 5-30 4-19-5 29zm48-2 6-26 5-31 6-29 4-19-16 86z"/><path transform=translate(-439,-205) d="m2054 550 6 14 5 0-4 11-6 0-5-15zm7 25 5-15 6-23 5-23 4-11-10 46-6 15zm71-21 5-23 4-10-5 22zm54 32 5-25 6-21 4-11-11 47zm49 37 5-14 6-24 5-27 6-19 4-11-11 46-5 24-6 15zm60-5 5-18 6-27 5-26 4-11-10 53-6 18zm60-16 11-50 5-26 5-14 5-11-6 15-5 25-11 50zm60-26 10-55 6-24 4-11-16 79zm54-19 5-18 6-28 5-30 6-22 4-11-5 22-6 30-5 28-6 18zm60-43 11-53 5-29 6-20 4-11-6 20-5 30-6 30-5 22zm60-54 16-86 5-18 5-11-6 18-16 86z"/><path transform=translate(-435,-203) d="m2054 551 6 15-4-4-6-14zm2 11 5 0 6-15 10-46 6-14 5 0 5 3-6 0-5 15-6 22-5 23-6 15-5 1zm70 3 6-24 5-22 6-12 5 3 4 3-5-3-6 12-5 22-5 25zm60 9 11-47 6-9 4 3-6 9-11 47zm44 36 5 1 6-15 5-24 11-46 5-6 5 3-6 7-5 19-6 26-5 25-6 14-5 0zm60 0 5-5 6-18 10-53 6-17 5-3 4 3-5 3-5 18-6 26-5 26-6 19-5 4zm59-11 6-10 11-50 5-25 6-15 5 0 4 3-5 0-6 15-10 54-6 22-5 9zm55-24 5 2 6-14 16-79 6-12 5 3 4 4-5-4-6 13-16 78-5 14-6-1zm60-27 5-4 6-18 5-28 6-30 5-22 5-9 5 3-6 9-11 52-5 28-6 19-5 3zm58-42 6 7-4-4-6-7zm2 3 5-8 5-22 6-30 5-30 6-20 5-6 4 3-5 6-5 20-6 30-5 30-6 22-5 9zm54-51 5 2 6-13 16-86 6-18 5-3 4 3-5 3-6 18-10 60-6 26-5 13-6-2zm60-55 5-3 6-17 4 3-6 18-5 2z"/><path transform=translate(-431,-201) d="m2050 549 6 15 5-1 6-15 5-23 6-22 5-15 6 0 5 15 4 18-5-14-6 0-5 14-6 23-5 23-5 14-6 1-5-15zm48-28 6 26 5 29-4-19-6-28-5-26zm7 36 5 23 4 19-5-23zm22 10 5-25 5-22 6-12 5 3 6 17 4 19-5-18-6-3-5 12-6 22-5 25zm31-20 5 26 6 27-4-18-6-27-5-27zm7 35 5 19 4 19-5-20zm21-7 11-47 6-9 5 6 6 20 4 18-6-19-5-7-5 10-6 21-5 25zm32-12 5 27-4-19-5-26zm1 8 6 25 5 16 5 0 6-14 5-25 6-26 5-19 6-7 5 10 6 21 4 18-6-21-5-9-6 6-5 19-5 27-6 24-5 14-6 0-5-15-6-25zm59-1 5 26-4-18-5-26zm1 8 5 22 6 11 5-4 6-19 5-26 6-26 5-18 5-3 6 12 4 18-5-11-6 3-5 17-6 26-5 27-6 18-5 4-5-10-6-23zm53-33 6 23 5 25-4-18-6-25-5-23zm7 30 5 19 6 6 5-9 6-22 10-54 6-15 5 0 6 15 4 18-5-14-6 0-5 14-6 26-5 28-6 22-5 9-6-6-5-19zm53-42 5 23-4-18-5-23zm1 5 6 23 5 16 6 1 5-14 16-78 6-13 5 4 6 16 4 18-6-16-5-3-5 12-6 24-5 29-6 26-5 13-6-1-5-15-6-24zm59-27 5 24-4-19-5-23zm1 5 6 22 5 11 5-3 6-19 5-28 11-52 6-9 5 6 16 60 6 7 5-9 6-22 5-30 6-30 5-20 5-6 6 9 5 19 5 18-6-19-5-9-6 6-5 21-6 29-5 30-6 23-5 8-5-7-6-19-5-22-6-18-5-7-6 10-5 22-6 30-5 28-5 18-6 3-5-11-6-21zm119-76 5 22-4-18-6-22zm1 4 5 15 6 2 5-13 6-26 10-60 6-18 5-3 6 12 5 19 6 20 5 12 5-2 6-18 4 18-5 18-6 2-5-11-6-20-5-20-6-11-5 3-5 17-6 29-5 32-6 26-5 13-6-3-5-15z"/><path transform=translate(-427,-199) d="m2051 565 5 15 6-1 5-14 5-23 6-23 5-14 6 0 5 14 6 26 5 29 5 23 5 29-6-23-5-29-6-25-5-15-6 0-5 14-5 23-6 23-5 15-6 0-5-15zm81-7 6-22 5-12 6 3 5 18 5 26 6 27 4 29-5-27-6-26-5-17-6-3-5 11-6 23zm55 33 5-25 6-21 5-10 5 7 6 19 5 27 6 25 4 29-11-52-5-19-6-6-5 9-6 21-5 25zm60-1 5-27 5-19 6-6 5 9 6 21 5 26 6 23 4 29-6-23-5-26-6-21-5-9-5 6-6 19-5 27zm54 15 5-27 6-26 5-17 6-3 5 11 6 23 5 25 5 19 5 29-6-19-5-25-6-22-5-12-6 3-5 17-5 26-6 27zm60-20 5-28 6-26 5-14 6 0 5 14 5 23 6 24 5 15 5 29-6-15-5-24-6-23-5-14-6 0-5 15-6 25-5 28zm60-30 5-29 6-24 5-12 5 3 6 16 5 24 6 21 5 11 6-3 5-18 5-28 6-30 5-22 6-10 5 7 6 18 5 22 6 19 5 7 5-8 6-23 5-30 6-29 5-21 6-6 5 9 6 19 5 22 5 15 6 3 5-13 6-26 5-32 6-29 5-17 5-3 6 11 5 20 6 20 5 11 6-2 4 29-6 3-5-12-5-20-6-20-5-11-6 3-5 18-6 28-5 32-6 26-5 13-5-2-6-16-5-21-6-20-5-8-6 6-5 20-5 29-11 53-6 8-5-7-6-19-5-22-6-18-5-6-5 9-6 22-5 30-6 28-5 18-6 3-5-11-6-21-5-24-5-16-6-3-5 12-6 24-5 29z"/><path transform=translate(-423,-197) d="m2051 592 5 15 6 0 5-15 6-23 5-23 5-14 6 0 5 15 6 25 5 29 4 32-5-29-5-25-6-15-5 0-6 14-5 23-6 23-5 15-6 0-5-15zm81-6 6-23 5-11 6 3 5 17 6 26 4 32-6-26-5-17-5-3-6 12-5 22zm60 7 6-21 5-9 6 6 5 19 6 27 4 32-6-27-5-19-6-6-5 9-5 21zm55 24 5-27 6-19 5-6 5 9 6 21 5 26 5 33-11-48-6-9-5 6-6 20-5 26zm60-12 5-26 5-17 6-3 5 12 6 22 5 25 4 32-5-25-5-22-6-12-5 3-6 17-5 26zm59-21 6-25 5-15 6 0 5 14 6 23 5 24 4 32-5-24-6-23-5-14-5 0-6 15-5 25zm55-2 5-29 6-24 5-12 6 3 5 16 5 24 6 21 4 32-11-44-5-17-6-3-5 12-6 24-5 30zm60-39 5-30 6-22 5-9 5 6 6 18 5 22 5 33-11-41-6-6-5 9-6 22-5 30zm54-20 6-30 5-29 5-20 6-6 5 8 6 20 5 21 4 32-5-21-6-19-5-9-5 6-6 20-5 29-6 31zm60-57 5-32 6-28 5-18 6-3 5 11 6 20 5 20 4 32-5-20-6-20-5-11-6 3-5 18-11 60z"/><path transform=translate(-418,-195) d="m2050 622 5 15 6 0 5-15 6-23 5-23 6-14 5 0 6 15 4 26-6-15-5 0-6 15-10 45-6 15-5 1-6-15zm82-6 5-22 6-12 5 3 5 17 5 26-6-17-5-3-6 12-5 22zm60 7 5-21 5-9 6 6 5 19 4 27-5-20-5-6-6 9-5 21zm59-2 6-20 5-6 6 9 5 21 4 27-5-22-6-9-5 7-5 19zm55 14 5-26 6-17 5-3 6 12 5 22 4 26-5-22-6-12-5 3-6 18-5 26zm60-21 5-25 6-15 5 0 5 14 6 23 4 27-5-23-6-15-5 0-6 15-5 25zm54-1 5-30 6-24 5-12 6 3 5 17 6 23 4 26-6-23-5-16-5-4-6 12-11 54zm60-40 5-30 6-22 5-9 6 6 5 18 4 26-5-18-6-6-5 9-11 52zm60-50 5-29 6-20 5-6 5 9 6 19 4 26-5-19-6-9-5 6-6 20-5 30zm54-27 11-60 5-18 6-3 5 11 6 20 4 26-5-19-6-12-5 3-6 18-5 29-6 31z"/><path transform=translate(-414,-193) d="m2050 647 6 15 4 13-6-15zm27-46 6-15 5 0 5 14-6 0-5 14zm55 39 5-22 6-12 4 14-5 11-6 23zm65-14 6-9 5 6 4 14-5-6-6 9zm55 19 5-19 5-7 6 9 4 14-5-9-6 6-5 20zm54 15 5-26 6-18 5-3 6 12 4 14-6-12-5 3-5 17-6 26zm60-22 5-25 6-15 5 0 4 14-5 0-6 15-5 25zm60-30 5-25 6-12 5 4 4 13-5-3-6 12-5 24zm54-11 11-52 5-9 6 6 4 14-5-6-6 9-5 22-6 30zm60-49 5-30 6-20 5-6 6 9 4 13-6-8-5 6-5 20-6 29zm54-28 6-31 5-29 6-18 5-3 6 12 4 13-6-11-5 3-6 18-5 28-5 32z"/><path transform=translate(-410,-191) d="m2055 657 5 14 6 0-5 2-5 0-6-15zm23-45 5-14 4-2-5 14zm174 45 5-20 4-2-5 20zm54 14 6-26 5-17 5-3 5-2-6 3-5 17-6 26zm60-21 5-25 6-15 4-2-5 15-6 25zm54-1 11-54 6-12 4-2-5 12-6 24-5 30zm60-40 6-30 5-22 6-9 4-2-6 9-5 22-6 30zm60-50 6-29 5-20 5-6 5-2-6 6-5 20-6 30zm55-27 5-32 5-28 6-18 4-2-5 18-6 28-5 32z"/><path transform=translate(-406,-189) d="m2055 640 5 14 6 0-4 15-6 0-5-14zm60 31 5 10 6-5-5 15-5 5-5-10zm191-4 6-26 4-15-5 27zm10-41 5-17-4 15-5 17zm50 20 6-25 4-15-6 25zm55-1 5-30 6-24 4-15-6 25-5 29zm59-40 6-30 5-22 5-15-6 23-5 29zm55-19 5-30 6-30 4-15-5 30-6 30zm60-58 5-32 6-28 4-15-6 29-5 31z"/><path transform=translate(-402,-188) d="m2055 617 6 15 5 0 5-15 6-23-4 21-6 23-5 15-6 0-5-14zm60 32 5 10 6-5-4 21-6 5-5-10zm306-20 5-29 4-22-5 30zm60-40 5-29 4-22-5 30zm60-49 5-30 4-21-5 29zm54-28 5-31 6-29 4-21-11 60z"/><path transform=translate(-397,-186) d="m2054 597 6 14 5 0 6-15-5 19-5 15-5 0-6-15zm192 43 5-26 5-19-6 26zm60-12 5-26 4-19-5 27zm114-22 5-30 5-18-6 29zm54-12 6-28 5-30 5-18-6 29-5 28zm60-47 6-31 5-29 4-19-10 60zm55-32 16-86 4-19-5 29-11 57z"/><path transform=translate(-393,-184) d="m2054 586 6 15 5 0-4 8-5 0-6-14zm7 23 6-15 10-46 6-14 4-8-5 14-6 23-5 23-6 15zm71-21 5-22 5-9-6 23zm54 33 11-47 4-8-5 21-5 25zm60-2 11-46 4-8-5 19-6 27zm55 15 10-53 6-17 4-8-5 17-6 26-5 27zm54 3 16-76 4-9-10 54-6 22zm54-13 6-14 16-79 4-8-16 79-5 14zm60-33 6-18 5-28 11-52 4-8-5 22-6 30-5 28-6 18zm60-43 6-22 10-60 6-20 4-8-5 20-6 29-5 30-6 23zm54-41 6-13 11-57 5-29 6-18 4-8-6 18-5 28-5 32-6 26-5 13zm60-60 6-17 4-9-5 18z"/><path transform=translate(-389,-182) d="m2055 591 5 15-4-7-6-15zm1 8 5 0 6-15 5-23 6-23 5-14 6 0 4 6-6 0-5 15-6 22-5 23-5 15-6 1zm76-21 6-23 5-11 5 3 5 6-6-3-5 12-6 22zm55 32 5-25 5-21 6-9 5 6 4 6-5-6-5 9-6 21-5 26zm59-1 6-27 5-19 6-6 4 6-6 7-5 19-5 26zm55 15 5-27 6-26 5-17 6-3 4 6-6 3-5 17-6 27-5 26zm43 5 6 6 5-9 6-22 10-54 6-14 5 0 5 6-6 0-5 15-6 25-5 29-6 22-5 9-6-6zm60-17 6 2 5-14 16-79 6-12 5 3 4 7-5-4-5 12-6 25-5 29-6 25-5 14-6-1zm60-28 5-3 6-18 5-28 6-30 5-22 6-9 5 6 4 6-5-6-6 9-5 23-5 29-6 28-5 18-6 4zm54-45 6 7 5-8 6-23 5-30 6-29 5-20 5-6 5 6-6 6-5 20-6 30-5 30-6 22-5 9-5-7zm60-44 6 2 5-13 6-26 5-32 5-28 6-18 5-3 5 6-6 3-5 18-6 29-5 31-6 26-5 13-6-2zm60-55 6-3 5-18 4 7-5 18-6 2z"/><path transform=translate(-385,-180) d="m2051 589 5 15 6-1 5-15 5-23 6-22 5-15 6 0 5 15 6 26 4 21-6-26-5-15-5 0-6 14-5 23-6 23-5 15-6 0-5-14zm53 1 5 28-4-21-5-28zm1 7 6 23 4 21-6-23zm27-15 6-22 5-12 6 3 5 17 4 21-5-17-6-3-5 12-6 22zm26 7 6 27-5-21-5-27zm29 26 5-26 6-21 5-9 5 6 6 20 4 20-5-19-6-6-5 9-6 21-5 26zm31-10 6 27-5-21-5-26zm1 6 6 25 4 21-5-25zm28 2 5-26 5-19 6-7 5 9 6 22 5 26 6 22 5 11 6-4 5-19 5-26 6-27 5-17 6-3 5 12 6 22 5 26 5 19 6 6 5-9 6-22 5-29 6-25 5-15 6 0 5 14 5 24 6 23 5 16 6 1 5-14 6-25 5-29 6-25 5-12 5 4 6 16 5 23 6 22 5 11 6-4 5-18 6-28 5-29 5-23 6-9 5 6 6 18 5 23 6 19 5 7 5-9 6-22 5-30 6-30 5-20 6-6 5 9 6 19 5 22 5 15 6 2 5-13 6-26 5-31 6-29 5-18 6-3 5 12 5 19 6 20 5 12 6-2 5-18 4 21-5 17-5 3-6-12-5-20-6-20-5-11-6 3-5 18-6 29-5 31-5 26-6 13-5-2-6-15-5-22-6-19-5-9-6 6-5 20-5 30-6 30-5 22-6 8-5-7-6-18-5-23-6-18-5-6-5 9-6 22-5 30-6 28-5 18-6 4-5-12-11-44-5-17-6-3-5 12-6 25-5 29-6 25-5 14-5-2-6-15-5-24-6-23-5-14-6 0-5 15-6 25-5 28-5 23-6 9-5-6-6-20-5-25-6-22-5-12-6 3-5 17-5 26-6 27-5 18-6 5-5-11-6-22-5-26-5-22-6-9-5 6-6 20-5 26z"/><path transform=translate(-381,-178) d="m2051 608 5 14 6 0 5-15 6-23 5-23 6-14 5 0 5 15 6 26 5 28 4 30-5-29-5-25-6-15-5 0-6 14-5 23-6 23-5 15-5 0-6-14zm81-7 6-22 5-12 6 3 5 17 6 27 4 30-6-27-5-17-5-3-6 12-5 22zm60 7 6-21 5-9 6 6 5 19 11 52 4 30-11-52-5-19-6-6-5 9-5 21zm55 24 5-26 6-20 5-6 6 9 5 22 5 26 6 22 4 30-16-70-6-9-5 6-6 20-5 26zm60-12 5-26 5-17 6-3 5 12 6 22 5 25 6 20 4 29-6-19-5-25-5-22-6-12-5 3-6 17-5 26zm54 7 5-28 6-25 5-15 6 0 5 14 6 23 5 24 4 30-5-24-6-23-5-14-5 0-6 15-5 25-6 28zm60-29 5-29 6-25 5-12 6 3 5 17 11 44 4 30-11-44-5-17-6-3-5 12-11 54zm54-12 6-28 5-30 6-22 5-9 5 6 6 18 5 23 6 18 4 30-16-59-6-6-5 9-6 22-5 30-6 28zm60-47 6-30 5-30 5-20 6-6 5 9 6 19 5 22 6 15 4 30-6-16-10-40-6-9-5 6-6 20-5 30-6 30zm60-58 5-31 6-29 5-18 6-3 5 11 6 20 5 20 6 12 4 30-6-12-5-20-6-20-5-11-5 3-6 18-11 60z"/><path transform=translate(-376,-176) d="m2050 636 6 14 5 0 5-15 6-23 5-23 6-14 5 0 6 15 5 25 4 31-5-26-6-14-5 0-5 14-6 23-5 23-6 14-5 1-6-15zm82-7 5-22 6-12 5 3 5 17 5 31-6-18-5-3-6 12-5 22zm60 7 5-21 5-9 6 6 5 19 6 27 4 31-5-27-6-20-5-6-6 9-5 22zm59-2 6-20 5-6 6 9 11 48 4 30-11-47-6-9-5 6-5 19zm55 14 5-26 6-17 5-3 6 12 5 22 5 25 5 31-6-25-5-23-6-12-5 3-6 18-5 26zm60-21 5-25 6-15 5 0 5 14 6 23 4 31-5-23-6-15-5 0-6 15-5 26zm54-1 11-54 5-12 6 3 5 17 6 23 4 31-6-24-5-16-5-3-6 12-11 53zm60-40 5-30 6-22 5-9 6 6 11 41 4 30-11-41-6-6-5 9-11 53zm60-49 5-30 6-20 5-6 6 9 10 40 5 31-11-41-6-9-5 6-6 21-5 29zm54-28 11-60 6-18 5-3 5 11 6 20 5 20 4 31-10-40-6-11-5 3-6 17-5 29-6 32z"/><path transform=translate(-372,-174) d="m2050 664 6 15 5-1 6-14 5-23 6-23 5-14 5 0 6 14 4 23-5-15-6 0-5 15-6 22-5 23-6 15-5 1-6-15zm82-7 5-22 6-12 5 3 4 23-5-3-5 12-6 22zm60 8 5-22 6-9 5 6 4 23-5-6-6 9-5 21zm60-3 5-19 5-6 6 9 4 22-5-9-6 7-5 19zm54 15 5-26 6-18 5-3 6 12 4 23-5-12-6 3-5 18-6 26zm60-21 5-26 6-15 5 0 6 15 4 23-6-15-5 0-5 15-6 25zm60-31 5-24 6-12 5 3 5 16 5 23-6-16-5-4-6 12-5 25zm54-10 11-53 5-9 6 6 5 19 5 22-6-18-5-6-6 9-11 52zm60-50 5-29 6-21 5-6 6 9 5 19 4 23-5-19-5-9-6 6-5 20-6 30zm60-59 5-29 6-17 5-3 6 11 5 20 4 22-5-19-6-12-5 3-6 18-5 29z"/><path transform=translate(-368,-172) d="m2055 694 5 14-4-8-6-15zm23-55 5-15 6 0 4 9-6 0-5 14zm234 33 5-18 6-3 4 9-6 3-5 17zm54 4 6-25 5-15 5 0 5 9-6 0-5 15-6 25zm60-30 5-25 6-12 5 4 4 8-5-3-5 12-6 25zm54-11 11-52 6-9 5 6 4 9-5-6-6 9-5 22-5 30zm60-49 6-30 5-20 6-6 5 9 4 9-5-9-6 6-5 20-6 30zm60-59 5-29 6-18 5-3 5 9-6 3-5 18-6 29z"/><path transform=translate(-364,-170) d="m2055 685 5 15 6-1-4 7-6 0-5-14zm60 32 5 10 6-6-5 7-5 5-5-10zm251-34 6-25 5-15 4-7-5 15-6 26zm60-30 6-25 5-12 4-6-5 12-6 24zm55-11 5-30 5-22 5-7-6 23-5 30zm59-49 6-30 5-20 4-7-5 21-5 29zm55-28 5-31 6-29 5-18 4-6-5 17-6 29-5 32z"/><path transform=translate(-359,-168) d="m2054 665 6 15 5-1 5-14 6-23-4 18-6 23-5 14-6 1-5-15zm60 31 5 11 6-6 5-18-4 18-5 18-6 6-5-10zm306-23 5-29 6-24 4-18-11 53zm60-39 5-30 4-18-5 29zm60-50 5-29 4-18-5 29zm9-47 6-21-5 18-5 21zm45 20 5-32 6-29 4-18-5 29-6 32z"/><path transform=translate(-355,-166) d="m2054 641 6 14 5 0 6-15 5-23-4 23-6 23-5 14-5 1-6-15zm60 31 6 10 5-5-4 22-6 6-5-11zm196-18 5-27-4 23-5 26zm60-22 5-25-4 22-5 26zm54-1 11-54-4 23-11 53zm56-18 5-29 5-22-6 29z"/><path transform=translate(-351,-164) d="m2055 621 5 15 5-1 6-14-4 17-6 15-5 0-6-14zm12 17 5-23 4-17-5 23zm9-40 6-23-4 17-6 23zm120 23 5-21-4 18-5 21zm54 24 6-26 5-19-4 17-11 46zm56 7 5-27 5-17-6 26zm54 6 11-53 5-18-6 26-5 28zm55-4 16-79 4-17-5 24-5 29-6 25zm60-37 5-28 6-29 4-18-6 30-5 28zm60-47 10-60 5-17-6 29-5 30zm54-32 11-57 5-29 4-18-10 61-6 26z"/><path transform=translate(-347,-162) d="m2055 613 5 15 6 0-5 5-5 1-5-15zm6 20 6-14 5-23 6-23 5-14 4-6-5 14-6 23-5 23-5 15zm71-21 6-22 5-12 4-5-5 11-6 23zm60 7 5-21 6-9 4-5-5 9-6 21zm54 24 6-26 5-19 4-6-5 20-5 26zm55 15 5-26 6-26 5-18 4-5-5 17-6 26-5 27zm60-19 5-28 6-26 5-15 4-5-5 15-6 25-5 28zm54-5 6-25 5-29 5-24 6-12 4-6-5 12-6 24-5 30-6 25zm54-18 6-18 5-28 11-53 6-9 4-5-6 9-5 22-5 30-6 28-5 18zm55-35 5-9 6-22 5-30 6-29 5-21 4-5-5 20-6 29-5 31-5 22-6 8zm60-49 5-13 6-26 10-61 6-18 4-5-5 18-6 28-5 32-6 26-5 13zm60-60 5-18 4-6-5 18z"/><path transform=translate(-343,-160) d="m2055 621 5 15-4-10-5-15zm1 5 6 0 5-15 5-23 6-23 5-14 6 0 4 9-5 1-6 14-5 23-6 23-5 14-6 1zm76-21 6-23 5-11 6 3 4 9-6-3-5 12-5 22zm55 33 5-26 6-21 5-9 6 6 4 9-6-6-5 9-6 21-5 26zm60-2 5-26 5-20 6-6 5 9 5 10-6-9-5 6-6 19-5 26zm54 15 5-27 6-26 5-17 6-3 4 9-5 3-6 18-5 26-6 26zm60-20 5-28 6-25 5-15 6 0 4 9-6 0-5 15-5 26-6 28zm54-4 6-25 5-30 6-24 5-12 5 3 5 10-6-3-5 12-6 24-5 29-6 25zm49-15 6-4 5-18 6-28 5-30 5-22 6-9 5 6 5 9-6-6-5 9-6 23-5 29-6 28-5 19-6 3zm55-46 5 7 6-8 5-22 5-31 6-29 5-20 6-6 5 8 4 10-5-9-6 6-5 21-5 29-6 30-5 22-6 9-5-7zm59-44 6 2 5-13 6-26 5-32 6-28 5-18 6-3 5 11 4 10-5-11-6 2-5 18-6 29-5 32-5 25-6 14-5-3zm48-97 6 20 5 20-4-10-6-20-5-20zm7 30 5 12 6-3 5-18 4 10-5 18-5 2-6-11z"/><path transform=translate(-338,-158) d="m2050 619 5 15 6-1 5-14 6-23 5-23 6-14 5-1 5 15 5 23-6-15-5 1-6 14-5 23-6 23-5 14-5 1-6-15zm82-7 5-22 5-12 6 3 5 18 5 23-6-18-5-3-6 12-5 22zm59 7 6-21 5-9 6 6 11 46 4 23-11-46-6-6-5 9-5 21zm55 24 5-26 6-19 5-6 6 9 5 21 5 26 5 23-11-47-6-9-5 6-6 19-5 26zm60-11 5-26 6-18 5-3 5 12 6 23 5 25 6 19 4 23-11-44-5-23-6-12-5 3-6 18-5 26zm54 7 6-28 5-26 5-15 6 0 5 15 6 23 5 23 4 23-5-23-6-23-5-15-5 0-6 15-5 26-6 28zm60-30 5-29 6-24 5-12 6 3 5 16 6 23 5 22 5 11 6-3 5-19 6-28 5-29 6-23 5-9 6 6 5 18 5 23 6 19 5 7 6-9 5-22 6-30 5-29 5-21 6-6 5 9 6 19 5 22 6 15 5 3 6-14 5-25 5-32 6-29 5-18 6-2 5 11 6 20 5 20 6 11 5-2 4 23-5 2-6-11-5-20-6-20-5-11-5 2-6 18-5 29-11 57-6 14-5-3-6-15-5-22-5-19-6-9-5 6-6 21-5 29-6 30-5 22-6 9-5-7-16-60-6-6-5 9-6 23-10 57-6 19-5 3-6-11-5-22-6-23-5-16-6-3-5 12-11 53z"/><path transform=translate(-334,-156) d="m2050 640 6 15 5-1 5-14 6-23 5-23 6-14 5-1 6 15 11 55 4 30-6-29-5-26-6-15-5 1-5 14-6 23-5 23-6 14-5 1-6-15zm82-7 5-22 6-12 5 3 6 18 5 26 4 30-5-26-6-18-5-3-6 12-5 22zm60 7 5-21 5-9 6 6 5 20 5 30-6-20-5-6-6 9-5 21zm54 24 5-26 6-19 5-6 6 9 11 47 4 30-11-47-5-9-6 6-5 19-6 26zm60-11 5-26 6-18 5-3 6 12 5 23 6 25 4 30-6-25-5-23-6-12-5 3-5 18-6 26zm60-21 5-26 6-15 5 0 5 15 6 23 4 30-5-23-6-15-5 0-6 15-5 26zm54-2 11-53 5-12 6 3 5 16 6 23 5 22 4 30-10-45-6-16-5-3-6 12-11 53zm60-40 5-29 6-23 5-9 6 6 16 60 4 30-16-60-6-6-5 9-11 53zm54-19 6-30 5-29 6-21 5-6 6 9 5 19 5 22 6 15 4 30-5-15-11-41-6-9-5 6-6 21-10 59zm60-57 6-32 5-29 6-18 5-2 5 11 6 20 5 20 5 30-6-20-5-20-6-11-5 2-6 18-5 29-6 32z"/><path transform=translate(-330,-154) d="m2050 668 6 15 5-1 6-14 5-23 6-23 5-14 5-1 6 15 5 26 5 28-6-25-5-15-6 0-5 14-6 23-5 23-6 15-5 0-5-14zm87-29 6-12 5 3 6 18 4 28-6-17-5-3-5 12zm55 29 5-21 6-9 4 29-6 9-5 21zm60-2 5-19 6-6 5 9 5 21 5 28-6-21-5-9-6 6-5 20zm54 15 6-26 5-18 5-3 6 12 5 23 4 28-5-22-5-12-6 3-5 17-6 26zm60-21 5-26 6-15 5 0 6 15 4 28-6-14-5 0-5 15-6 25zm60-31 5-24 6-12 5 3 6 16 5 23 4 29-5-23-6-17-5-3-6 12-5 24zm54-10 11-53 5-9 6 6 11 41 4 29-5-23-6-18-5-6-6 9-5 22-6 30zm60-50 5-29 6-21 5-6 6 9 11 41 4 28-6-21-5-19-5-9-6 6-5 20-6 30zm54-27 6-32 5-29 6-18 5-2 6 11 5 20 4 28-5-20-6-11-5 3-5 18-6 28-5 32z"/><path transform=translate(-326,-152) d="m2051 695 5 14 5 0 6-15 5-23 6-23 5-14 6 0 5 15 4 18-5-14-6 0-5 14-5 23-6 23-5 14-6 1-5-15zm87-29 5-12 4 18-5 12zm174 15 5-17 6-3 5 12 4 18-5-11-6 3-5 17zm114-26 5-24 6-12 5 3 6 17 4 18-6-16-5-3-5 12-6 24zm54-10 6-30 5-22 6-9 5 6 4 19-5-7-6 10-5 22-5 30zm60-49 6-30 5-20 6-6 5 9 4 18-5-9-6 6-5 21-6 29zm60-60 6-28 5-18 5-3 6 11 4 19-5-11-6 3-5 17-6 29z"/><path transform=translate(-322,-150) d="m2055 715 5 15-4-4-5-15zm23-50 5-14 6 0 4 4-5 0-6 14zm37 82 5 10-4-4-5-10zm311-75 6-24 5-12 4 4-5 12-6 24zm55-10 5-30 5-22 6-10 4 4-5 9-6 23-5 30zm59-50 6-29 5-21 6-6 4 4-5 6-6 21-5 29zm60-59 6-29 5-17 6-3 4 4-6 3-5 17-6 29z"/><path transform=translate(-317,-148) d="m2054 702 6 15 5-1-4 11-6 1-5-15zm7 25 5-14 4-11-5 14zm53 7 5 10 6-5-4 10-6 6-5-10zm60 21 5 5 6-10-4 11-6 10-5-5zm306-91 5-30 6-23 4-10-6 22-5 30zm60-50 5-29 6-21 4-11-6 21-5 29zm54-27 5-32 6-29 5-17 5-11-6 18-11 60z"/><path transform=translate(-313,-146) d="m2054 679 6 15 5 0 6-15 5-23-4 21-6 23-5 14-5 1-6-15zm60 32 6 10 5-5 6-19-5 21-5 19-6 5-5-10zm366-60 5-30 5-21-6 30zm54-20 6-30 5-29 4-21-10 59zm60-57 11-60 4-21-11 60z"/><path transform=translate(-309,-144) d="m2055 655 5 14 5 0 6-15 5-23-4 23-5 23-6 15-5 0-6-15zm59 31 6 10 5-5-4 23-5 5-6-10zm365-53 5-28-4 23-5 28zm56-25 10-59 5-23-6 30-5 30zm59-57 6-32 4-23-5 32zm10-55 6-28-5 23-5 28z"/><path transform=translate(-305,-142) d="m2055 637 5 14 6 0 5-15-4 16-6 15-5 0-5-14zm12 15 5-23 6-23 4-16-5 23-6 23zm125 1 5-21 5-16-6 21zm114 12 6-26 4-16-6 26zm60-21 6-25 4-16-6 25zm55-1 5-30 5-24 5-16-6 24-5 30zm54-12 5-28 6-30 5-22 4-16-5 22-5 30-6 28zm54-25 6-22 5-30 6-30 4-16-6 30-5 30-5 22zm21-98 5-20-4 16-5 20zm45 18 5-32 6-28 4-16-6 29-5 31zm15-76 5-18-4 16-5 18z"/><path transform=translate(-301,-140) d="m2055 632 5 15 6-1-4 3-6 0-5-14zm7 17 5-15 6-23 5-23 5-14 5-3-6 15-5 23-6 23-5 14zm70-21 6-22 5-12 4-3-5 12-5 22zm60 7 6-21 5-9 4-3-5 9-6 21zm55 24 5-26 6-20 5-6 4-3-5 7-6 19-5 26zm59-12 6-26 5-17 5-3-6 18-5 26zm60-21 6-25 5-15 4-3-5 15-5 26zm55-1 5-30 6-24 5-12 4-3-5 13-6 24-5 29zm54-12 6-28 5-30 5-22 6-9 4-3-5 9-6 23-5 29-6 28zm49-17 6-8 5-22 5-30 6-30 5-20 6-6 4-3-5 6-6 20-5 30-6 30-5 22-6 9zm60-49 5-13 6-26 5-31 6-29 5-18 4-3-5 18-5 29-11 57-6 13zm31-120 6-3-4 3-6 3zm28 60 5-2-4 2-6 3zm1 0 5-17 4-3-5 18z"/><path transform=translate(-296,-138) d="m2054 642 6 15-5-12-5-15zm1 3 6-1 5-14 6-23 5-23 6-15 5 0 6 15 4 13-6-15-5 0-6 14-10 46-6 15-5 0zm77-22 5-22 5-12 6 3 4 13-5-3-6 11-5 23zm20-18 6 17-5-13-5-17zm39 25 6-21 5-9 6 6 4 13-5-6-6 9-5 21zm55 24 5-26 6-19 5-7 6 10 4 12-6-9-5 6-6 20-5 26zm60-11 5-26 6-18 5-3 4 13-5 3-6 17-5 26zm54 7 6-28 5-26 5-15 6 0 4 13-5 0-6 15-5 25-6 28zm38-8 6 16 4 12-6-15zm22-22 5-29 6-24 5-13 6 4 4 12-6-3-5 12-11 54zm38-1 5 11 6-3 5-19 6-28 5-29 6-23 5-9 6 6 4 13-6-6-5 9-6 22-10 58-6 18-5 4-6-12zm60-34 5 7 6-9 5-22 6-30 5-30 6-20 5-6 5 9 5 12-6-8-5 6-6 20-5 29-6 31-5 22-5 8-6-7zm48-89 5 20 11 37-4-13-6-15-5-22-6-19zm12 44 5 2 6-13 11-57 5-29 5-18 6-3 5 12 4 12-5-11-5 3-6 18-16 86-6 13-5-2zm47-94 6 20 5 20-4-12-5-20-6-20zm7 28 6 11 5-2 5-18 5 12-6 18-5 3-6-12z"/><path transform=translate(-292,-136) d="m2050 640 6 15 5 0 6-15 10-46 6-14 5 0 6 15 11 54 4 25-6-29-5-26-6-14-5 0-5 14-6 23-5 23-6 14-5 1-6-15zm82-6 5-23 6-11 5 3 6 17 5 26 4 25-5-26-6-18-5-3-6 12-5 22zm60 7 5-21 6-9 5 6 5 19 5 25-6-20-5-6-6 9-5 22zm54 24 5-26 6-20 5-6 6 9 5 21 4 25-5-21-5-9-6 6-5 19-6 27zm65-38 6-17 5-3 6 12 5 22 4 25-5-23-6-12-5 4-5 17zm55 5 5-25 6-15 5 0 6 14 10 47 5 25-6-24-5-23-6-14-5-1-6 15-5 26zm54-1 11-54 5-12 6 3 5 17 11 44 6 12 4 24-6-11-5-21-5-24-6-16-5-3-6 12-11 53zm60-40 5-30 6-22 5-9 6 6 16 59 4 25-16-60-5-6-6 9-11 53zm54-19 6-31 5-29 6-20 5-6 6 8 5 20 11 37 4 24-5-15-11-41-6-9-5 6-5 21-6 29-5 30zm60-58 11-60 6-18 5-3 5 11 6 20 5 20 6 12 4 24-5-11-6-20-5-20-6-11-5 3-6 17-5 29-6 32z"/><path transform=translate(-288,-135) d="m2050 664 6 15 5-1 6-14 5-23 6-23 5-14 5 0 6 14 5 26 6 29 4 29-5-28-6-26-5-15-6 0-5 15-6 22-5 23-6 15-5 1-5-15zm87-29 6-12 5 3 6 18 4 29-5-17-6-3-5 12zm55 30 5-22 6-9 5 6 4 30-5-6-6 9-5 21zm71-28 5 9 5 21 5 30-6-22-5-9zm49 14 5-17 5-4 6 12 5 23 5 29-6-22-5-12-6 3-5 18zm54 5 5-26 6-15 5 1 6 14 5 23 4 30-5-23-6-15-5 0-5 15-6 25zm60-31 5-24 6-12 5 3 6 16 5 24 4 29-5-23-6-16-5-4-6 12-5 25zm54-10 11-53 6-9 5 6 11 41 4 30-5-23-6-18-5-6-6 9-11 52zm60-50 6-29 5-21 5-6 6 9 11 41 4 30-11-41-5-9-6 6-5 20-6 30zm54-27 6-32 5-29 6-17 5-3 6 11 5 20 6 20 4 29-6-20-5-19-6-12-5 3-5 18-6 29-5 31z"/><path transform=translate(-284,-133) d="m2051 692 5 15 5-1 6-15 5-23 6-22 5-15 6 0 5 15 6 26 4 26-6-26-5-15-6 0-5 14-5 23-6 23-5 15-6 0-5-14zm87-29 5-12 6 3 4 26-6-3-5 12zm179-2 6-3 4 26-6 3zm49 22 6-25 5-15 5 0 6 15 4 25-5-14-6 0-5 15-6 25zm60-30 5-25 6-12 5 4 6 16 4 26-5-17-6-3-5 12-6 24zm54-11 11-52 6-9 5 6 6 18 4 26-6-18-5-6-5 9-6 22-5 30zm60-49 6-30 5-20 6-6 5 9 5 19 5 26-6-19-5-9-6 6-5 20-6 30zm60-59 6-29 5-18 5-3 6 12 5 19 5 26-6-20-5-11-6 3-5 18-6 29z"/><path transform=translate(-280,-131) d="m2051 716 5 14 4 15-5-15zm27-47 5-14 6 0 4 14-5 0-6 15zm348 7 6-24 5-12 6 3 4 15-6-4-5 13-6 24zm60-40 6-22 5-9 5 6 5 14-6-6-5 9-6 23zm54-19 6-30 5-20 6-6 5 9 4 14-5-9-5 6-6 20-5 30zm60-59 6-29 5-18 6-3 5 11 4 15-5-12-6 3-5 18-5 29z"/><path transform=translate(-275,-129) d="m2054 727 6 15 5-1-4 1-6 1-5-15zm60 31 5 11-4 0-5-10zm54 2 6 19 5 6-4 1-5-6-6-19zm66 30 5 0-4 1-5 0zm251-141 6-23 5-9 4-1-5 9-6 23zm55-20 5-30 6-20 5-6 4-1-5 6-6 21-5 29zm60-59 5-29 5-18 6-3 4-1-5 3-6 18-5 29z"/><path transform=translate(-271,-127) d="m2054 710 6 15 5-1 6-14-4 15-6 14-5 1-6-15zm55 9 5 22 6 11 5-6 6-18-5 15-5 18-6 6-5-11-5-22zm60 24 5 19 6 6 5-10-4 15-6 10-5-6-6-19zm60 14 5 16-4 15-6-16zm316-160 6-21 4-15-5 21zm55-30 5-29 4-15-5 29z"/><path transform=translate(-267,-125) d="m2055 685 5 15 5-1 6-15 5-23 6-22-4 23-6 23-5 23-6 14-5 1-6-15zm59 31 6 10 5-5 6-18-4 23-6 18-5 6-6-11zm55 2 5 19 6 6-4 23-6-6-5-19z"/><path transform=translate(-263,-123) d="m2055 660 5 15 6-1 5-14 6-23-5 22-5 23-6 15-5 1-5-15zm60 32 5 10 6-6-5 23-5 5-6-10zm420-78 5-30 6-30 4-22-5 29-6 30z"/><path transform=translate(-259,-121) d="m2055 644 5 15 6 0 5-15-4 14-5 14-6 1-5-15zm12 14 6-23 5-23 4-14-5 23-6 23zm299-8 6-26 4-13-5 25zm55-2 5-29 6-24 4-14-6 24-5 29zm54-11 6-28 5-30 4-14-5 30-6 28zm60-48 6-30 5-29 5-21 5-13-6 20-5 29-6 30zm54-31 6-26 5-32 6-29 4-13-16 86zm55-47 5-18 5-14-6 18z"/><path transform=translate(-254,-119) d="m2054 643 6 14 5 0-4 0-6 0-5-15zm7 14 5-15 6-23 5-23 6-14 4 0-6 14-10 46-6 15zm76-44 6-11 4 0-6 12zm54 30 6-21 5-9 5 0-6 9-5 21zm60-3 6-19 5-6 4 0-5 6-5 20zm115-6 5-25 5-15 5 0-6 15-5 25zm54-2 5-29 6-24 5-12 5 0-6 12-11 54zm54-11 6-28 5-30 6-22 5-9 4 0-5 9-11 52-5 28zm60-48 6-30 5-29 6-20 5-6 4 0-5 6-6 20-5 30-6 30zm49-18 6-13 16-86 5-18 6-3 4 0-5 3-6 18-5 29-11 57-6 13zm55-57 5-3 6-18 4 1-6 17-5 3z"/><path transform=translate(-250,-117) d="m2050 641 6 14 5 0 6-15 10-46 6-14 5 0 6 15 4 15-5-15-6 1-5 14-6 23-5 23-6 14-5 1-6-15zm87-29 6-12 5 3 6 17 4 16-6-18-5-3-6 12zm55 29 5-21 6-9 5 6 4 15-5-6-6 9-5 21zm125-31 5-3 6 12 4 15-6-12-5 3zm49 22 5-25 6-15 5 0 6 14 4 16-6-15-5 0-6 15-5 26zm54-1 11-54 6-12 5 3 5 17 5 15-6-16-5-3-6 12-11 53zm60-40 11-52 5-9 6 6 5 18 4 15-5-18-5-6-6 9-11 53zm31-22 11 42-4-15-11-42zm7 27 6 6 5-8 5-22 6-30 5-30 6-20 5-6 6 9 4 15-6-9-5 6-5 21-6 29-5 30-6 22-5 9-6-7zm48-86 5 19-4-15-5-19zm1 4 6 22 5 15 5 2 6-13 11-57 5-29 6-18 5-3 6 11 4 16-6-11-5 2-6 18-10 61-6 26-5 13-6-3-5-15-6-22zm59-54 5 20 6 20-5-16-10-40zm6 24 6 12 5-3 4 16-5 2-5-11z"/><path transform=translate(-246,-115) d="m2050 654 6 15 5-1 6-14 5-23 6-23 5-14 6-1 5 15 5 26 6 29 4 26-5-29-6-26-5-15-6 0-5 15-6 23-5 23-5 14-6 1-5-15zm87-29 6-12 5 3 6 18 5 26 4 26-5-26-5-18-6-3-5 12zm55 29 5-21 6-9 5 6 4 26-5-6-5 9-6 21zm130-34 6 12 5 23 5 26-6-23-5-12zm49 0 6-15 5 0 6 15 5 23 6 23 4 26-6-23-5-23-5-15-6 0-5 15zm49 24 11-53 6-12 5 3 6 16 10 45 5 26-6-22-5-23-6-16-5-3-5 12-6 24-5 29zm60-39 11-53 6-9 5 6 16 60 5 26-6-19-5-23-6-18-5-6-6 9-11 52zm60-50 6-29 5-21 5-6 6 9 11 41 5 15 4 26-5-15-5-22-6-19-5-9-6 6-5 21-6 29zm55-27 10-61 6-18 5-2 6 11 5 20 6 20 5 11 4 26-5-11-6-20-5-20-6-12-5 3-5 18-6 29-5 32z"/><path transform=translate(-242,-113) d="m2051 678 5 15 6-1 5-14 5-23 6-23 5-15 6 0 5 15 6 26 4 29-6-26-5-15-6 0-5 14-5 23-6 23-5 15-6 0-5-14zm87-29 5-12 6 3 4 29-6-3-5 12zm234-5 5-15 6 0 5 15 4 28-5-14-6 0-5 15zm54-5 6-24 5-12 5 3 6 16 5 23 4 29-5-23-5-17-6-3-5 12-6 25zm54-11 11-52 6-9 5 6 6 18 5 23 4 29-5-23-6-18-5-6-5 9-6 22-5 30zm60-49 6-29 5-21 6-6 5 9 6 19 5 22 4 29-5-22-6-19-5-9-6 6-5 20-5 30zm60-59 6-29 5-18 5-3 6 12 5 20 5 28-6-20-5-11-6 3-5 18-6 29z"/><path transform=translate(-238,-111) d="m2051 705 5 14 6 0 5-15 6-23 5-23 5-14 6 0 5 15 5 22-6-14-5 0-6 14-5 23-6 23-5 14-6 1-5-15zm381-64 5-12 6 3 5 17 4 22-5-16-6-3-5 12zm54-16 6-22 5-9 5 6 6 18 4 23-5-19-6-6-5 10-6 22zm55-19 5-30 5-20 6-6 5 9 6 19 4 22-6-19-5-9-5 6-6 21-5 29zm59-59 6-29 5-18 6-3 5 11 6 20 4 23-6-20-5-11-6 3-5 17-5 29z"/><path transform=translate(-233,-109) d="m2054 735 6 15-5-10-5-15zm23-56 6-14 5 0 4 9-5 0-6 15zm32 64 5 23-4-9-6-23zm382-119 5-10 4 10-5 9zm49 2 5-29 6-21 5-6 4 10-5 6-6 20-5 30zm60-59 5-29 5-17 6-3 4 9-5 3-6 18-5 29z"/><path transform=translate(-229,-107) d="m2054 727 6 15 5-1-4 6-5 1-6-15zm55 9 5 23 6 10 5-6-4 6-5 5-6-10-5-23zm60 24 5 19 6 6-5 6-5-6-5-19zm60 15 5 15 5 0-4 6-5 0-6-16zm59 4 6 10 5-4-4 6-5 4-6-11zm257-175 6-20 4-6-5 21zm55-29 5-29 6-18 4-5-6 17-5 29z"/><path transform=translate(-225,-105) d="m2055 706 5 15 6 0 5-15 5-23 6-23-4 19-6 23-5 23-6 14-5 1-6-15zm54 9 6 23 5 10 5-5 6-19-4 19-6 18-5 6-6-10-5-23zm60 25 5 19 6 5 5-10-4 19-5 10-6-6-5-19zm60 14 5 15 6 1 5-15-4 19-6 14-5 0-5-15zm60 4 5 11 5-5-4 19-5 4-6-10z"/><path transform=translate(-221,-103) d="m2055 680 5 14 6 0 5-15 6-23 5-22-4 24-6 23-5 23-5 15-6 0-5-15zm54 8 6 23 5 10 6-5 5-18-4 24-6 19-5 5-5-10-6-23zm60 25 6 19 5 5 5-9-4 24-5 10-6-5-5-19zm60 14 5 15-4 25-5-15z"/><path transform=translate(-217,-101) d="m2055 656 6 14 5 0 5-15-4 22-5 15-6 0-5-14zm54 8 6 23 5 10 6-5-4 22-6 5-5-10-6-23zm486-113 5-31 6-29 4-22-5 29-6 31z"/><path transform=translate(-212,-99) d="m2054 642 6 15 5 0-4 11-5 0-6-14zm7 26 5-15 6-23 5-22 4-12-10 46-6 15zm305-23 5-25 4-11-5 25zm59-30 6-25 4-11-5 24zm55-11 5-29 6-23 4-11-5 22-6 30zm54-19 6-30 5-30 6-20 4-11-6 20-10 60zm60-58 6-31 5-29 5-18 5-11-6 18-11 60zm49-21 6-17 4-12-6 18z"/><path transform=translate(-208,-97) d="m2054 644 6 15-4-4-6-15zm2 11 5 0 6-15 10-46 6-14 5 0 5 3-6 0-5 15-6 23-5 23-6 14-5 1zm81-44 6-11 5 3 4 3-5-3-5 12zm55 30 5-21 6-9 4 3-6 9-5 21zm119-14 6-17 4 3-5 18zm55 5 5-25 6-15 5 0 4 3-5 0-6 15-5 26zm54-2 11-53 6-12 5 3 4 4-5-4-6 13-11 53zm60-39 6-30 5-22 5-9 5 3-6 9-11 52zm55-19 10-60 6-20 5-6 4 3-5 6-5 20-6 30-5 30zm59-58 11-60 6-18 5-3 4 3-5 3-6 18-10 61zm44-18 5-3 5 4-6 2z"/><path transform=translate(-204,-95) d="m2050 642 6 15 5-1 6-14 5-23 6-23 5-15 6 0 5 15 4 18-5-15-6 0-5 14-6 23-5 23-5 15-6 0-5-14zm88-29 5-12 5 3 6 17 4 18-5-17-6-3-5 12zm54 29 5-21 6-9 5 6 4 18-5-6-5 9-6 21zm174-8 5-26 6-15 5 0 6 15 4 17-5-14-6 0-5 15-6 25zm60-31 5-24 6-13 5 4 6 16 4 18-6-17-5-3-5 12-6 25zm26 1 5 23-4-18-5-23zm1 5 6 22 4 17-6-21zm27-17 11-52 6-9 5 6 6 18 4 18-6-18-5-6-6 9-5 23-5 29zm32-19 5 23-4-18-5-23zm1 5 5 19 5 17-6-18zm27-35 6-30 5-20 5-6 6 9 5 19 5 18-6-19-5-9-6 6-5 20-6 30zm32-10 5 22-4-18-6-22zm1 4 5 15 4 18-5-15zm22-21 10-61 6-18 5-3 6 12 5 20 6 20 5 11 4 18-5-12-6-20-5-20-5-11-6 3-5 18-6 29-5 31z"/><path transform=translate(-200,-93) d="m2051 658 5 14 6 0 5-15 5-23 6-23 5-14 6 0 5 15 6 26 5 28 4 27-5-29-6-25-5-15-5 0-6 14-5 23-6 23-5 15-6 0-5-15zm87-29 5-12 6 3 5 17 4 27-5-17-6-4-5 12zm288-10 6-25 5-12 5 3 6 17 5 23 5 27-6-24-5-16-6-3-5 12-6 24zm55-11 5-29 5-23 6-9 5 6 6 18 5 23 4 26-5-22-6-18-5-7-5 10-6 22-5 30zm59-49 6-30 5-20 6-6 5 9 6 19 5 22 4 26-5-21-6-20-5-9-6 7-5 20-5 29zm55-28 5-31 6-29 5-18 6-3 5 11 5 20 6 20 4 27-5-20-6-20-5-11-6 3-5 18-6 28-5 32z"/><path transform=translate(-196,-91) d="m2051 682 5 15 6 0 5-15 6-23 5-23 6-14 5 0 5 15 6 25 4 27-5-25-6-15-5 0-6 14-5 23-6 23-5 15-5 0-6-15zm87-29 5-12 6 4 4 27-5-3-6 11zm299-46 6 3 4 27-6-3zm49-4 6-22 5-10 5 7 6 18 4 27-5-18-6-6-5 9-6 22zm55-20 5-29 5-20 6-7 5 9 6 20 4 27-5-20-6-8-5 6-6 20-5 29zm59-59 6-28 5-18 6-3 5 11 6 20 4 27-6-20-5-11-5 3-6 18-5 28z"/><path transform=translate(-191,-89) d="m2050 707 6 15 5 0 5-15 6-23 5-23 6-14 5 0 6 15 4 18-6-14-5 0-6 14-10 46-6 14-5 1-6-15zm495-128 6-20 5-6 6 8 4 19-6-9-5 6-6 21zm55-30 5-28 6-18 5-3 5 11 5 19-6-11-5 3-6 17-5 29z"/><path transform=translate(-187,-87) d="m2055 729 5 15-4-5-6-15zm54 9 5 23 6 10-4-5-6-10-5-23zm60 24 5 19-4-4-5-20zm60 15 5 15-4-5-6-15zm371-211 5-29 6-17 4 4-6 18-5 29z"/><path transform=translate(-183,-85) d="m2055 717 5 14 6 0-5 10-5 1-5-15zm54 8 6 23 5 10 5-5-4 10-5 6-6-10-5-23zm60 25 5 19 6 5 5-10-4 11-5 10-6-6-5-19zm60 14 5 15 6 1-5 10-5 0-5-15zm60 4 5 11 6-4-5 10-5 4-6-10zm60-6 5 6 5-9-4 10-5 9-6-6z"/><path transform=translate(-179,-83) d="m2055 693 5 15 6-1 5-15 6-23 5-22-4 21-6 23-5 23-5 15-6 0-5-14zm54 8 6 23 5 10 6-5 5-18 6-25-5 22-5 25-6 18-5 5-5-10-6-23zm60 25 6 19 5 6 5-10 6-22-4 22-6 21-5 10-6-5-5-19zm60 14 5 16 6 0 5-14-4 21-5 15-6-1-5-15zm60 4 5 11 6-4 5-19-4 22-5 19-6 4-5-11zm60-6 5 6 6-9-5 22-5 9-5-6z"/><path transform=translate(-174,-81) d="m2054 665 6 15 5-1 5-14 6-23-4 25-6 23-5 15-6 1-5-15zm55 9 5 23 5 10 6-6 5-18-4 26-5 18-6 5-5-10-6-23zm59 24 6 20 5 5 6-10 5-22-4 26-6 22-5 10-5-6-6-19zm60 15 6 15 5 0 6-14-5 26-5 14-6 0-5-16zm376-206 5-29-4 26-6 29z"/><path transform=translate(-170,-80) d="m2054 643 6 15 5 0 6-15-5 21-5 14-5 1-6-15zm55 9 5 23 6 10 5-5-4 20-6 6-5-10-5-23zm381-88 5-22-4 20-6 23zm110-58 5-29 4-20-5 28z"/><path transform=translate(-166,-78) d="m2055 633 5 14 5 0-4 9-5 0-6-15zm6 23 6-15 5-23 6-23 5-14 4-9-5 15-6 22-5 23-6 15zm191-16 5-20 4-9-5 20zm59-12 6-17 4-9-5 17zm55 5 5-25 6-15 4-9-5 15-6 25zm60-31 5-24 4-9-5 25zm54-10 6-30 5-22 4-9-11 52zm60-50 5-29 6-20 4-9-5 20-6 30zm54-27 11-60 6-18 4-9-6 18-10 60z"/><path transform=translate(-162,-76) d="m2055 637 5 15-4-7-5-14zm1 8 5 0 6-15 5-23 6-22 5-15 6 0 4 7-6 0-5 14-6 23-5 23-5 15-6 0zm82-43 5-12 5 3 5 7-6-3-5 11zm59 8 6-9 4 7-5 9zm55 19 5-20 6-6 4 7-6 6-5 20zm60-12 5-17 6-3 4 7-6 3-5 17zm54 5 6-25 5-15 5 0 5 7-6 0-5 15-6 25zm60-30 5-25 6-12 5 3 4 7-5-3-5 12-6 24zm54-11 11-52 6-9 5 6 4 7-5-6-6 9-5 22-5 30zm60-49 6-30 5-20 6-6 4 7-6 6-5 20-6 29zm55-28 10-60 6-18 5-3 5 7-6 3-5 18-6 28-5 32z"/><path transform=translate(-158,-74) d="m2051 635 5 15 6 0 5-15 5-23 6-23 5-14 6 0 5 15 6 25 4 20-6-26-5-14-5 0-6 14-5 23-6 23-5 14-6 1-5-15zm87-29 5-11 6 3 5 17 4 20-5-18-6-3-5 12zm114 28 5-20 6-6 4 20-5 6-6 19zm60-12 5-17 6-3 4 20-5 3-6 17zm54 5 6-25 5-15 6 0 5 14 4 20-5-14-6 0-5 14-5 26zm60-31 6-24 5-12 5 3 6 17 4 19-5-16-6-3-5 12-6 24zm55-10 5-30 5-22 6-9 5 6 6 18 5 23 4 19-5-22-5-18-6-7-5 10-6 22-5 30zm59-50 6-29 5-20 6-6 5 8 6 20 5 21 4 20-5-22-6-19-5-9-6 6-5 21-5 29zm55-27 5-32 6-28 5-18 6-3 5 11 5 20 6 20 4 20-5-20-6-20-5-11-6 3-5 17-6 29-5 32z"/><path transform=translate(-153,-72) d="m2050 653 5 15 6-1 5-14 6-23 5-23 6-14 5 0 5 14 6 26 4 27-5-26-6-15-5 0-6 15-5 23-6 23-5 14-5 1-6-15zm87-29 5-12 6 3 4 27-5-3-6 12zm229 21 5-26 5-14 5 26-6 15-5 26zm59-31 6-24 5-12 6 3 4 27-6-3-5 12-5 24zm60-40 6-22 5-10 6 7 5 18 4 26-5-18-6-6-5 9-6 23zm55-20 5-29 5-21 6-6 5 9 6 19 5 22 4 27-5-22-5-19-6-9-5 6-6 21-5 29zm59-59 6-29 5-17 6-3 5 11 6 20 4 27-6-20-5-12-5 3-6 18-5 29z"/><path transform=translate(-149,-70) d="m2050 678 6 15 5-1 5-14 6-23 5-23 6-15 5 0 6 15 4 25-6-15-5 0-5 15-6 22-5 23-6 15-5 1-6-15zm435-79 6-23 5-9 4 25-5 9-5 23zm60-49 6-21 5-6 6 9 4 25-6-9-5 6-6 20zm55-30 5-29 6-18 5-3 5 12 6 20 4 24-5-19-6-12-5 3-6 18-5 29z"/><path transform=translate(-145,-68) d="m2050 701 6 15 4 14-5-14zm59 23 5 23-4-15-5-23zm491-181 5-29 6-18 5-3 4 15-5 3-5 18-6 29z"/><path transform=translate(-141,-66) d="m2055 714 5 14-4 0-5-14zm54 8 6 23 5 10-4 0-6-10-5-23zm60 25 5 19 6 5-4 0-6-5-5-19zm60 14 5 15-4 0-5-15zm60 4 5 11-4 0-5-11zm60-6 5 6-4 0-6-6zm59-18 6 2-4 0-6-2z"/><path transform=translate(-137,-64) d="m2055 697 5 15 6-1 5-15-4 15-5 15-6 0-5-14zm54 8 6 23 5 10 6-5-5 15-5 5-5-10-6-23zm60 25 6 19 5 6 6-10-5 14-5 10-6-5-5-19zm60 14 6 16 5 0 5-14-4 14-5 15-6-1-5-15zm60 4 5 11 6-4-4 14-6 5-5-11zm7 21 5-18 4-15-5 19zm47-46 6 19 5 6 6-9-5 15-5 9-5-6-6-20zm60-14 6 16 5 1 5-14-4 15-5 14-6-2-5-15zm65-12 6-3-4 14-6 4z"/><path transform=translate(-132,-62) d="m2054 670 6 15 5 0 5-15 6-23 5-23-4 25-5 22-6 23-5 15-6 1-5-15zm55 9 5 23 5 10 6-5 11-43-4 24-6 25-5 18-6 5-5-10-6-23zm59 24 6 20 5 5 6-10 11-47-5 24-5 26-5 22-6 10-5-6-6-19zm60 15 6 15 5 0 6-14 5-24-4 24-6 25-5 14-5 0-6-16zm60 4 6 11 5-5 5-18-4 24-5 19-6 4-5-11zm55-26 5 19 5 6 6-9-4 25-6 9-5-6-6-19zm59-13 6 15 5 2-4 24-5-1-6-16z"/><path transform=translate(-128,-60) d="m2054 642 6 15 5-1 6-14 5-23-4 26-6 23-5 15-5 0-6-15zm55 9 5 23 6 10 5-6 6-18-5 26-5 19-6 5-5-10-5-23zm60 24 5 20 6 5 5-10 5-22-4 26-5 22-6 10-5-5-6-20zm59 15 6 15 5 0 6-14-4 26-6 14-5 0-6-15zm60 4 6 10 5-4-4 26-5 5-6-11z"/><path transform=translate(-124,-58) d="m2055 621 5 15 5-1 6-14-4 19-6 14-5 1-6-15zm54 9 5 23 6 10 5-6-4 19-5 6-6-10-5-23zm60 24 5 20 6 5-4 19-6-5-5-20zm371-113 5-29 5-19-6 29zm60-59 5-29 5-19-6 29z"/><path transform=translate(-120,-56) d="m2055 613 5 15 6 0-5 5-5 1-5-15zm6 20 6-14 5-23 6-23 5-14 4-6-5 14-5 23-6 23-5 15zm48-11 6 23-5 6-5-23zm203-16 5-17 4-6-5 17zm60-21 5-15 4-5-5 15zm54-5 5-24 6-12 4-6-5 12-6 24zm60-40 5-23 6-9 4-5-6 9-5 22zm54-20 6-29 5-21 4-5-5 20-6 29zm60-59 6-29 5-17 4-6-5 18-6 28z"/><path transform=translate(-116,-54) d="m2055 621 5 15-4-10-5-15zm1 5 6 0 5-15 6-23 5-23 5-14 6 0 4 9-5 1-6 14-5 23-6 23-5 14-6 1zm87-55 6 3 4 9-6-3zm55 20 5-9 6 6 4 9-6-6-5 9zm54 19 6-20 5-6 5 9 5 10-6-9-5 6-6 19zm60-12 5-17 6-3 4 9-5 3-6 18zm15-11 5 12-4-9-5-12zm45-9 5-15 6 0 4 9-6 0-5 15zm54-6 6-24 5-12 6 3 4 10-6-3-5 12-6 24zm60-40 5-22 6-9 5 6 5 9-6-6-5 9-6 23zm54-20 6-29 5-20 6-6 5 8 4 10-5-9-5 6-6 21-5 29zm60-59 6-28 5-18 6-3 4 10-6 2-5 18-5 29z"/><path transform=translate(-111,-52) d="m2050 619 5 15 6-1 5-14 6-23 5-23 6-14 5-1 6 15 5 26 4 22-5-26-6-15-5 0-6 14-10 46-6 15-5 0-6-14zm53 2 6 28-5-21-5-29zm34-31 5-12 6 3 5 18 5 21-6-17-5-3-6 12zm60 8 5-9 6 6 5 20 4 21-5-19-5-6-6 9zm54 19 6-19 5-6 6 9 4 21-6-9-5 6-6 20zm60-11 6-18 5-3 5 12 6 23 4 21-5-22-6-12-5 3-6 17zm60-21 5-15 6 0 5 15 6 23 4 21-5-23-6-14-5 0-6 15zm54-5 6-24 5-12 6 3 5 16 6 23 4 22-6-23-5-17-6-3-5 12-5 24zm60-40 6-23 5-9 6 6 5 18 4 22-5-18-6-6-5 9-6 22zm55-20 5-29 6-21 5-6 5 9 6 19 4 22-5-19-6-9-5 6-6 20-5 30zm60-59 5-29 5-18 6-2 5 11 6 20 4 21-6-20-5-11-5 3-6 18-5 29z"/><path transform=translate(-107,-50) d="m2050 639 6 14 5 0 6-15 10-46 6-14 5 0 6 15 5 26 4 26-5-26-6-15-5 0-5 15-6 22-5 23-6 15-5 1-6-15zm207-22 5-6 6 9 4 26-5-9-6 7zm54 8 6-17 5-3 6 12 4 26-6-12-5 3-5 17zm60-20 6-15 5 0 6 14 4 26-6-14-5 0-6 15zm55-6 5-24 5-12 6 3 5 17 5 26-6-16-5-4-6 12-5 25zm59-40 6-22 5-9 6 6 5 18 4 26-5-18-5-6-6 9-5 23zm55-19 5-30 6-20 5-6 6 9 5 19 4 26-5-19-6-9-5 6-5 20-6 30zm60-59 5-29 6-18 5-3 5 11 6 20 4 26-5-19-6-12-5 3-6 18-5 29z"/><path transform=translate(-103,-48) d="m2050 663 6 15 5-1 6-15 5-23 6-22 5-15 5 0 6 15 4 22-5-15-6 0-5 15-6 22-5 23-6 15-5 1-5-15zm321-34 6-15 4 22-5 15zm55-5 5-25 6-12 4 22-6 13-5 24zm60-40 5-23 6-9 4 22-6 9-5 23zm60-50 5-20 5-6 6 9 4 22-5-9-6 6-5 20zm54-29 5-29 6-18 5-3 6 12 4 22-6-12-5 3-5 18-6 29z"/><path transform=translate(-99,-46) d="m2055 693 5 15-4-10-5-15zm49-20 5 29 6 23-5-11-5-23-5-28zm60 26 5 27 5 20-4-11-5-19-6-27zm59 17 6 25 5 15-4-10-5-16-6-25zm323-162 5-20 4 11-5 20zm54-29 6-29 5-18 4 11-5 18-6 28z"/><path transform=translate(-95,-44) d="m2055 686 5 15 6 0-4 5-6 0-5-15zm49-20 5 29 6 23 5 10 6-5-4 5-6 5-5-10-6-23-5-29zm60 26 5 28 6 19 5 5-4 5-6-5-5-20-5-27zm60 17 5 25 6 15 5 1-4 4-6 0-5-15-6-25zm60 7 5 22 5 11 6-5-4 5-6 5-5-11-6-23zm59-4 6 19 5 7-4 4-5-6-6-19zm60-13 6 15 5 2-4 5-6-2-5-15zm60-24 6 12 5-4-4 5-6 3-5-11zm60-34 5 7-4 5-5-7zm60-44 5 2-4 5-5-2z"/><path transform=translate(-90,-42) d="m2054 666 6 14 5 0 6-15 10-46 6-14-4 19-6 14-5 23-6 23-5 15-6 0-5-15zm49-20 11 51 5 10 6-5 5-18 11-47-4 18-5 23-11 43-6 5-5-10-6-23-5-29zm60 26 5 27 6 19 5 5 6-10-4 19-6 10-5-5-6-19-5-28zm60 16 5 25 6 15 5 1 6-15-5 19-5 15-5-1-6-15-5-25zm60 7 5 22 6 11 5-5 5-18-4 19-5 18-6 5-5-11-5-22zm60-4 5 20 5 6 6-9 5-23-4 19-5 22-6 10-5-7-6-19zm59-13 6 15 5 2 6-14-4 19-6 14-5-2-6-15zm60-24 6 12 5-4 6-18-5 19-5 18-5 4-6-12zm60-34 6 7 5-8 5-22-4 19-5 22-6 8-5-7zm60-44 5 2 6-13-4 19-6 13-5-2zm60-55 5-3 6-17-5 18-5 18-5 3z"/><path transform=translate(-86,-40) d="m2054 637 6 15 5-1 6-14 5-23-4 26-5 23-6 15-5 0-6-14zm55 9 5 22 6 11 5-6 6-18 5-25-4 27-6 25-5 18-6 5-5-10-5-23zm60 24 5 19 6 6 5-10 11-48-4 27-11 47-6 10-5-5-6-19zm54-11 6 25 5 16 5 0 6-14 5-25-4 27-5 24-6 15-5-1-6-15-5-25zm60 7 5 22 6 11 5-4 6-19-5 27-5 18-5 5-6-11-5-22zm60-3 5 19 6 6 5-9 6-22-5 26-5 23-6 9-5-6-5-20zm60-14 5 16 6 1 5-14-4 27-6 14-5-2-6-15zm59-23 6 11 5-3 6-19-4 27-6 18-5 4-6-12zm60-34 6 7 5-9-4 27-5 8-6-7zm60-45 6 3 5-14-4 27-6 13-5-2zm60-55 5-2-4 26-5 3z"/><path transform=translate(-82,-38) d="m2055 609 5 15 5-1 6-14 5-23-4 26-5 23-6 14-5 1-6-15zm54 9 5 22 6 11 5-6 6-18-4 26-6 18-5 6-6-11-5-22zm60 24 5 19 6 6 5-10 6-22-5 26-5 22-5 10-6-6-5-19zm60 14 5 16 6 0 5-14-4 26-6 14-5 0-5-16zm60 4 5 11 5-4 6-19-4 26-6 19-5 4-6-11zm54-25 5 19 6 6 5-9-4 26-5 9-6-6-5-19zm60-14 5 16 6 1-4 26-6-1-5-16zm60-23 5 11 6-3-5 26-5 3-6-11z"/><path transform=translate(-78,-36) d="m2055 590 5 15 6-1 5-14-4 17-6 14-5 1-5-15zm12 17 5-23 5-17-6 23zm42-8 6 23 5 10 6-6-5 17-5 6-6-11-5-22zm60 24 6 19 5 6-4 17-6-6-5-19zm60 15 5 15 6 0-4 17-6 0-5-16zm60 4 5 10-4 17-5-11z"/><path transform=translate(-74,-34) d="m2055 586 5 14 6 0-4 2-6 1-5-15zm7 16 5-14 6-23 5-23 5-14 5-3-6 14-5 23-6 23-5 15zm47-8 6 23-4 3-6-23zm263-40 5-15 4-2-5 15zm54-5 6-24 5-12 4-3-5 12-6 24zm60-40 6-23 5-9 4-2-5 9-6 22zm55-20 5-29 5-21 6-6 4-2-5 6-6 20-5 30zm59-59 6-29 5-17 4-3-5 18-5 28z"/><path transform=translate(-69,-32) d="m2050 584 5 14 6 0 5-15 6-23 5-23 6-14 5 0 6 15 4 12-6-15-5 0-6 15-10 45-6 15-5 1-6-15zm93-41 5 3 4 12-5-3zm54 20 5-9 6 6 4 12-5-6-6 9zm60-1 5-6 6 9 4 13-6-10-5 7zm54 8 6-17 5-3 6 12 4 12-6-12-5 3-6 18zm60-20 5-15 6 0 5 14 5 13-6-15-5 0-6 15zm54-6 6-24 5-12 6 3 4 13-5-4-6 13-5 24zm21-20 5 16-4-12-5-17zm39-20 6-22 5-9 6 6 4 12-6-6-5 9-5 23zm55-19 5-30 6-20 5-6 5 9 5 12-6-9-5 6-6 20-5 30zm60-60 5-28 5-18 6-3 5 11 5 13-6-12-5 3-6 18-5 29zm26-25 10 39-4-12-5-20-6-20zm6 27 6 12 4 12-6-12z"/><path transform=translate(-65,-30) d="m2050 594 6 15 5-1 6-15 10-45 6-15 5 0 6 15 5 26 4 22-5-25-5-15-6 0-5 14-6 23-5 23-6 15-5 0-6-14zm93-41 5 3 6 17 4 23-6-17-5-3zm54 20 6-9 5 6 5 20 5 22-6-19-5-6-6 9zm60 0 5-7 6 10 5 21 5 22-6-21-5-9-6 6zm54 8 6-18 5-3 6 12 11 48 4 22-11-47-6-12-5 3-5 17zm60-21 6-15 5 0 6 15 10 46 5 23-6-24-5-23-6-14-5 0-6 15zm55-5 5-24 6-13 5 4 5 16 6 23 5 22 5 22-6-21-5-23-6-17-5-3-6 12-5 24zm60-40 5-23 5-9 6 6 11 41 4 23-11-41-5-6-6 9-5 22zm59-50 6-20 5-6 6 9 11 41 4 22-6-21-5-19-6-9-5 6-5 20zm55-29 5-29 6-18 5-3 6 12 10 39 5 23-6-20-5-20-6-11-5 3-6 18-5 28z"/><path transform=translate(-61,-28) d="m2050 615 6 14 5 0 6-15 5-23 6-23 5-14 6 0 5 15 5 25 5 26-6-26-5-15-6 0-5 14-6 23-5 23-5 15-6 0-5-14zm147-21 6-9 5 6 4 25-5-6-5 9zm60-1 6-6 5 9 6 21 4 26-6-22-5-9-6 6zm60-9 5-3 6 12 5 22 5 25-6-22-5-12-6 3zm54-3 6-15 5 0 6 14 5 23 4 26-5-24-5-14-6 0-5 15zm60-30 6-12 5 3 6 17 5 23 4 25-5-23-6-17-5-3-6 12zm55-16 5-22 6-9 5 6 11 41 4 25-5-23-6-18-5-6-6 9-5 23zm60-49 5-20 5-6 6 9 5 19 5 25-6-19-5-9-6 6-5 20zm54-30 5-28 6-18 5-3 6 11 5 20 4 25-5-20-6-11-5 3-5 18-6 29z"/><path transform=translate(-57,-27) d="m2051 639 5 14 6 0 4 19-6 0-5-15zm53-2 5 29-4-19-5-28zm268-32 5-15 6 0 5 14 4 19-5-14-6 0-5 15zm59-30 6-12 5 3 5 19-6-3-5 12zm55-15 5-23 6-9 5 6 4 19-5-6-5 9-6 22zm60-50 5-20 6-6 5 9 4 19-5-9-6 6-5 20zm54-29 6-29 5-18 5-3 6 11 4 19-5-11-6 3-5 18-6 28z"/><path transform=translate(-53,-25) d="m2055 661 5 15-4-6-5-15zm49-20 5 29 6 23 5 10-4-6-5-10-6-23-5-29zm60 26 5 27 6 20-4-6-6-19-5-27zm60 17 5 25 6 15-5-6-5-15-5-25zm60 6 5 23 5 11-4-6-5-11-6-22zm59-3 6 19-4-6-6-19zm60-13 6 15-4-6-6-15zm60-24 6 11-5-5-5-12zm29-96 5-9 4 5-5 10zm27 56 5 7 4 6-5-7zm27-83 5-20 6-6 4 5-5 6-6 21zm60-58 5-18 6-3 4 6-6 3-5 18z"/><path transform=translate(-48,-23) d="m2054 650 6 14 5 0-4 10-6 0-5-15zm27-47 6-14-4 10-6 14zm22 27 11 51 6 10 5-5-4 10-6 5-5-10-6-23-5-29zm60 26 6 27 5 19 5 5 6-10-4 10-6 10-5-5-6-20-5-27zm60 16 5 25 6 15 5 1-4 9-5 0-6-15-5-25zm60 7 5 22 6 11 5-5-4 10-6 5-5-11-5-23zm60-4 5 20 6 6 5-9-4 9-6 9-5-6-6-19zm59-13 6 15 5 2-4 10-5-2-6-15zm60-24 6 12 5-4-4 10-5 3-6-11zm60-34 6 7 5-8-4 10-6 8-5-7zm60-44 5 2-4 10-5-2zm23-87 5-18 5-10-6 18zm37 32 5-3-4 10-5 3z"/><path transform=translate(-44,-21) d="m2054 625 6 15 5-1 6-14 5-23 6-23 5-14-4 22-6 14-10 46-6 15-5 0-6-14zm49-20 11 52 6 10 5-6 6-18 5-25 6-22-5 23-11 47-5 18-5 5-6-10-11-51zm60 26 6 27 5 20 6 5 5-10 16-68-4 22-16 68-6 10-5-5-5-19-6-27zm60 17 6 25 5 15 5 0 6-14 11-51-4 23-6 26-5 24-6 15-5-1-6-15-5-25zm60 6 5 23 6 10 5-4 6-18 5-27 6-26-5 22-10 53-6 18-5 5-6-11-5-22zm60-3 5 19 6 6 5-9 6-22-5 22-5 23-5 9-6-6-5-20zm17 16 6-28 4-22-5 28zm10-50 5-26-4 23-5 25zm33 21 5 15 6 1 5-13-4 22-6 14-5-2-6-15zm60-24 5 11 5-3 6-18-4 22-6 18-5 4-6-12zm59-34 6 7 5-8 6-23-5 23-5 22-5 8-6-7zm60-45 6 3 5-13 6-26-5 22-5 26-6 13-5-2zm60-55 6-2 5-18-4 23-6 17-5 3z"/><path transform=translate(-40,-19) d="m2055 595 5 15 6-1 5-14 5-23 6-23-4 28-6 23-5 23-6 14-5 1-6-15zm54 9 6 22 5 11 5-6 6-18 5-25-4 28-5 25-6 18-5 6-6-10-5-23zm54-3 6 27 5 19 6 6 5-10 6-22 5-26-4 29-11 47-5 10-6-5-5-20-6-27zm60 16 6 25 5 16 6 0 5-14 6-25 5-26-4 28-11 51-6 14-5 0-5-15-6-25zm60 7 6 22 5 11 6-4 5-19 5-26-4 28-5 27-6 18-5 4-6-10-5-23zm60-3 5 19 6 6 5-9 6-22-4 28-6 22-5 9-6-6-5-19zm60-14 5 16 6 1 5-14 6-25-5 28-5 26-5 13-6-1-5-15zm60-23 5 11 6-3 5-19 5-28-4 29-5 28-6 18-5 3-5-11zm60-34 5 7 5-9 6-22 5-30-4 28-5 30-6 23-5 8-6-7zm59-45 6 3 5-14 6-25-4 28-6 26-5 13-6-3zm60-55 6-2 5-18-4 28-5 18-6 2z"/><path transform=translate(-36,-17) d="m2055 568 5 15 6-1 5-15 6-23-5 26-5 23-5 14-6 1-5-15zm54 8 6 23 5 10 6-5 5-18-4 25-6 18-5 6-5-11-6-22zm60 25 6 19 5 6 5-10 6-22 5-26-4 25-5 26-6 22-5 10-6-6-5-19zm60 14 5 15 6 1 5-14 6-25 5-26-4 25-5 26-6 25-5 14-6 0-5-16zm54-18 6 22 5 11 6-4 5-19 6-26 5-27-4 26-6 26-5 26-5 19-6 4-5-11-6-22zm60-3 6 19 5 6 6-9 5-22-4 25-6 22-5 9-6-6-5-19zm60-14 6 16 5 1 5-14 6-25-4 25-6 25-5 14-6-1-5-16zm60-23 5 11 6-4 5-18-4 25-5 19-6 3-5-11zm60-34 5 7 6-9 5-22-4 25-6 22-5 9-5-7zm60-45 5 2 6-13-5 25-5 14-6-3zm59-55 6-2 5-18-4 25-5 18-6 2z"/><path transform=translate(-32,-15) d="m2055 551 6 15 5 0 5-15-4 14-5 15-6 1-5-15zm12 14 6-23 5-22 4-15-5 23-6 23zm42-5 6 23 5 10 6-5-4 14-6 5-5-10-6-23zm13 42 5-18 5-25 6-22 4-15-5 23-11 43zm47-17 6 19 5 5 6-10-5 15-5 10-5-6-6-19zm12 29 6-22 5-26 6-21 4-14-16 68zm48-15 6 15 5 1 6-15-5 15-5 14-6-1-5-15zm12 16 6-25 5-26 4-14-10 50zm15-65 6-20-4 15-6 19zm33 53 5 11 6-5-4 15-6 4-5-11zm7 21 5-19 6-26 5-27 4-14-5 26-6 27-5 18zm47-47 6 19 5 7 6-10-4 15-6 9-5-6-6-19zm13 31 5-22 5-29 6-25 4-14-5 25-11 50zm47-44 6 15 5 2 6-14-5 14-5 14-5-1-6-16zm12 17 6-25 5-29 4-15-10 55zm48-41 6 12 5-4-4 14-6 4-5-11zm7 22 5-18 6-28 5-29 4-15-5 30-6 28-5 18zm53-56 5 7 6-8-4 14-6 9-5-7zm7 13 5-22 6-30 5-30 5-20 5-14-6 20-5 29-6 31-5 22zm60-54 5-26 5-31 6-29 5-18 4-14-5 18-16 86z"/><path transform=translate(-27,-13) d="m2054 550 6 15-4-1-6-15zm2 14 5 0 5-15 6-23 5-23 6-14 4 0-6 15-10 46-6 14-5 1zm53-5 5 22 6 11-5-1-5-10-6-23zm6 32 6-5 11-43 5-23 6-11 4 0-6 12-11 47-5 18-5 6zm54-8 5 19 5 6-4-1-5-5-6-19zm6 24 6-10 16-68 5-9 5 0-6 9-16 69-6 10zm53-10 6 16-4-1-6-15zm2 15 5 1 6-15 10-50 6-20 5-6 4 1-5 6-5 19-6 26-5 25-6 14-5 0zm58-11 6 11-5 0-5-11zm1 11 6-5 5-18 6-27 5-26 6-17 5-3 4 0-5 3-6 18-10 52-6 19-5 4zm66-21 11-50 5-25 6-15 4 0-6 15-5 26-11 50zm54-12 6-14 10-55 6-24 5-12 5 1-6 12-16 78-6 14zm32-104 5 3-4-1-6-3zm28 71 5-18 6-28 5-30 6-22 5-9 4 0-5 9-11 52-5 28-6 19zm54-35 6-8 5-22 6-31 5-29 6-20 5-6 4 0-5 6-6 21-10 59-6 22-5 9zm60-49 6-13 16-86 5-18 6-3 4 0-5 3-6 18-5 29-11 57-6 14zm55-57 5-3 6-18 4 1-6 18-5 2z"/><path transform=translate(-23,-11) d="m2050 548 6 15 5-1 6-14 10-46 6-15 5 0 5 15-6 0-5 14-6 23-5 23-6 15-5 0-6-14zm71 36 5-18 11-47 6-12 5 3 6 18 4 14-6-17-5-3-5 12-6 22-5 25-6 18zm54 22 6-10 16-69 6-9 5 6 4 15-5-6-6 9-5 21-5 26-6 21-5 10zm60 5 6-14 5-25 6-26 5-19 5-6 6 9 4 14-5-9-6 6-11 46-5 24-6 15zm60-5 6-19 10-52 6-18 5-3 6 12 4 15-5-12-6 3-5 17-6 27-5 26-6 19zm55-7 5-9 11-50 5-26 6-15 5 0 6 15 4 14-6-14-5 0-6 15-10 53-6 23-5 9zm59-22 6-14 16-78 6-12 5 3 5 16 5 15-6-17-5-3-6 12-16 79-5 14zm60-32 6-19 5-28 11-52 5-9 6 6 5 18 5 15-6-18-5-6-6 9-11 52-5 28-6 18zm55-35 5-9 6-22 10-59 6-21 5-6 6 9 4 15-6-9-5 6-5 20-6 30-5 30-6 22-5 8zm42-93 5 19-4-15-5-19zm1 4 6 22 5 15 5 3 6-14 11-57 5-29 6-18 5-3 6 12 4 14-6-11-5 3-6 18-10 60-6 26-5 13-6-2-5-15-6-22zm59-55 5 20 6 20-5-14-10-40zm6 26 6 11 5-2 6-18 4 15-5 17-6 3-5-12z"/><path transform=translate(-19,-9) d="m2050 561 6 14 5 0 6-15 5-23 6-23 5-14 6 0 5 15 5 26 5 23-6-26-5-15-6 0-5 15-6 23-5 23-5 14-6 1-5-15zm71 36 6-18 5-25 6-22 5-12 5 3 6 17 5 27 6 27 5 19 6 5 5-10 6-21 5-26 5-21 6-9 5 6 6 20 5 26 4 23-5-26-6-20-5-6-5 9-6 21-5 26-6 22-5 10-6-6-5-19-6-27-5-26-5-18-6-3-5 12-6 22-5 25-6 18zm114 27 6-15 5-24 11-46 6-6 5 9 6 22 5 26 4 23-5-26-6-21-5-9-6 6-5 19-5 26-6 25-5 14zm60-5 6-19 5-26 6-27 5-17 6-3 5 12 16 67 6 6 5-9 6-23 10-53 6-15 5 0 6 14 5 24 6 23 5 16 6 1 5-14 16-79 6-12 5 3 6 17 5 23 6 21 5 12 5-4 6-18 5-28 11-52 6-9 5 6 6 18 5 23 5 18 6 7 5-8 6-22 5-30 6-30 5-20 5-6 6 9 11 41 5 15 6 2 5-13 6-26 10-60 6-18 5-3 6 11 5 20 6 20 5 12 6-3 5-17 4 23-5 18-6 2-5-11-6-20-5-20-5-12-6 3-5 18-6 29-5 32-6 25-5 14-6-3-5-15-5-22-6-19-5-9-6 6-5 21-6 29-5 30-6 22-5 9-5-7-6-19-5-23-6-18-5-6-6 9-5 23-5 29-6 28-5 19-6 3-5-11-6-22-5-23-6-16-5-3-5 12-6 24-5 29-6 25-5 14-6-1-5-16-6-23-5-23-5-15-6 0-5 15-6 26-5 28-6 22-5 9-6-6-5-19-5-25-6-23-5-12-6 3-5 18-6 26-5 26-5 19z"/><path transform=translate(-15,-7) d="m2051 582 5 15 6-1 5-14 5-23 6-23 5-15 6 0 5 15 6 26 4 23-6-25-5-15-5 0-6 14-5 23-6 23-5 15-6 0-5-15zm70 36 6-18 5-25 6-22 5-12 6 3 5 18 5 26 5 23-6-26-5-17-6-3-5 11-5 23-11 43zm55 22 5-10 6-22 5-26 6-21 5-9 5 6 6 20 5 26 5 24-6-27-5-19-6-6-5 9-6 21-5 26-6 21-5 10zm60 5 5-14 6-25 5-26 5-19 6-6 5 9 6 21 4 23-5-21-6-9-5 6-6 20-5 26-6 24-5 15zm60-5 5-19 5-26 6-26 5-18 6-3 5 12 6 23 4 23-6-22-5-12-6 3-5 17-5 26-6 27-5 18zm54-7 5-9 6-22 5-28 6-26 5-15 6 0 5 15 5 23 5 23-6-23-5-14-6 0-5 15-6 25-5 28-5 22-6 10zm60-22 5-14 6-25 5-29 6-24 5-12 5 3 6 16 5 23 5 24-6-23-5-17-6-3-5 12-6 24-5 30-6 25-5 14zm60-32 5-19 6-28 5-29 5-23 6-9 5 6 6 18 5 23 6 19 5 7 5-9 6-22 5-30 6-29 5-21 6-6 5 9 6 19 4 24-6-20-5-8-6 6-5 20-5 29-6 31-5 22-6 8-5-7-6-18-5-23-6-18-5-6-5 9-6 22-5 30-6 28-5 18zm114-84 5-14 6-25 5-32 6-29 5-18 6-3 5 12 5 20 5 23-6-20-5-11-6 3-5 18-6 28-5 32-5 26-6 13zm60-60 5-18 4 23-5 18z"/><path transform=translate(-11,-5) d="m2051 603 5 15 6 0 5-15 6-23 5-23 6-14 5 0 5 15 5 15-6-15-5 0-6 14-5 23-6 23-5 15-5 0-6-14zm48-30 5 25 5 29-4-15-5-29-6-25zm23 67 11-43 5-23 5-11 6 3 5 17 4 15-5-17-5-3-6 12-5 22-11 43zm36-42 6 27 5 27-4-15-5-28-6-26zm7 39 6 19 5 5 5-10 6-21 5-26 6-21 5-9 6 6 4 15-6-6-5 9-16 68-6 10-5-5-6-19zm48-42 5 19 11 52-4-15-11-52-5-19zm12 56 5 15 6 1 5-15 6-24 5-26 6-20 5-6 6 9 4 15-6-9-5 6-6 20-10 50-6 15-5-1-6-15zm48-51 16 70-4-15-6-22-5-27-5-21zm12 55 5 11 6-5 5-18 6-27 5-26 5-17 6-3 5 12 5 15-6-12-5 3-6 17-5 26-6 27-5 18-6 5-5-11zm48-58 5 22 5 25-4-15-5-25-6-22zm6 32 6 19 5 7 6-10 5-22 5-28 6-25 5-15 6 0 5 14 4 15-5-14-5 0-6 15-5 25-11 50-6 10-5-7-6-19zm53-45 6 23 5 24-4-15-5-24-6-23zm7 32 6 15 5 2 5-14 6-25 5-30 6-24 5-12 6 3 5 17 4 15-5-17-6-3-5 12-16 79-6 14-5-2-6-15zm71-16 5-18 6-28 5-30 6-22 5-9 5 6 6 18 4 15-5-18-6-6-5 9-6 22-5 30-6 28-5 18zm42-68 6 23-5-15-5-23zm18 25 5-22 6-31 5-29 5-20 6-6 5 8 5 16-6-9-5 6-6 20-5 30-6 30-5 22zm54-41 6-13 5-26 5-32 6-28 5-18 6-3 5 11 6 20 4 15-6-20-5-11-5 3-6 18-16 86-6 13zm60-60 5-18 5 16-6 17z"/><path transform=translate(-6,-3) d="m2054 617 6 15-4-1-6-14zm2 14 5 0 5-15 6-23 5-23 6-14 5 0 4 1-5 0-5 14-6 23-5 23-6 15-5 0zm36-74 6 15 16 77 6 10-5-1-5-10-6-23-5-29-5-25-6-15zm23 101 6-5 11-43 5-22 6-12 4 1-6 12-5 22-11 43-5 5zm32-81 5 3 6 17 5 27 6 27 5 19 5 5-4-1-5-5-6-19-5-27-6-27-5-17-5-3zm28 97 6-10 16-68 5-9 5 1-6 9-16 68-6 10zm32-86 5 6 6 19 10 52 6 15-4-1-6-15-11-52-5-19-6-6zm23 91 5 1 6-15 10-50 6-20 5-6 4 1-5 6-11 46-5 24-6 15-5-1zm36-89 6 9 16 70 6 11-5-1-5-11-16-70-6-9zm23 89 6-5 5-18 6-27 5-26 6-17 5-3 4 1-5 3-6 17-10 53-6 18-5 5zm37-95 6 12 11 47 5 19 6 7-5-1-5-7-6-19-5-25-5-22-6-12zm23 84 6-10 11-50 5-25 6-15 5 0 4 1-5 0-6 15-5 25-11 50-5 10zm37-99 6 14 5 23 6 24 5 15 5 2-4-1-5-2-6-15-5-24-6-23-5-14zm23 77 6-14 16-79 5-12 5 1-6 12-16 79-6 14zm32-104 5 3 5 17 11 44 6 12-4-1-6-12-11-44-5-17-6-3zm23 75 5-4 5-18 6-28 5-30 6-22 5-9 4 1-5 9-5 22-6 30-5 28-6 18-5 4zm36-110 6 6 16 59 6 7-5-1-5-7-16-59-6-6zm23 71 6-8 5-22 6-30 5-30 6-20 5-6 4 1-5 6-6 20-10 60-6 22-5 8zm37-115 6 9 5 19 11 37 6 2-5-1-5-2-6-16-10-40-6-9zm23 66 6-13 16-86 6-18 5-3 4 1-5 3-6 18-16 86-5 13zm37-119 6 11 10 40 6 12-4-1-6-12-5-20-6-20-5-11zm18 62 5-3 6-17 4 0-6 18-5 3z"/><path transform=translate(-2,-1) d="m2054 601 6 15 5-1 6-14-4 14-6 15-5 0-6-15zm13 14 5-23 6-23 4-14-6 23-5 23zm15-60 5-14 6 0 5 15 16 77 6 10 5-5-4 14-5 5-6-10-16-77-6-15-5 0-5 14zm39 97 11-43 5-22 5-15-6 22-5 25-6 19zm21-80 5-12 5 3 6 18 5 26 6 27 5 20 6 5 5-10-4 14-6 10-5-5-5-19-6-27-5-27-6-17-5-3-6 12zm39 91 16-68 4-14-5 21-5 25-6 22zm20-82 6-10 5 7 6 19 5 27 6 25 5 15 5 0 6-14-4 14-6 15-5-1-6-15-10-52-6-19-5-6-6 9zm40 83 5-24 11-46 4-14-5 19-11 51zm20-84 6-6 5 9 6 21 10 49 6 10 5-4 6-18-4 14-6 18-5 5-6-11-16-70-6-9-5 6zm40 75 10-53 5-14-6 26-5 27zm15-67 5-17 6-3 5 11 5 23 11 44 6 6 5-9-4 14-5 10-6-7-5-19-11-47-6-12-5 3-6 17zm39 69 11-50 5-25 5-15-6 26-5 28-6 22zm21-90 5-14 5 0 6 14 5 23 6 24 5 15 6 1 5-13-4 14-6 14-5-2-5-15-6-24-5-23-6-14-5 0-6 15zm39 64 16-79 4-14-16 79zm20-93 6-12 5 3 6 16 5 24 6 21 5 11 5-3 6-18-4 14-6 18-5 4-6-12-11-44-5-17-5-3-6 12zm40 56 5-28 6-30 5-22 4-14-5 22-6 30-5 28zm20-94 6-10 5 7 6 18 5 22 5 19 6 7 5-8-4 14-5 8-6-7-16-59-6-6-5 9zm34 69 6-22 10-60 6-20 4-15-5 21-6 29-5 30-6 23zm26-117 6-6 5 9 11 41 5 16 6 2 5-13-4 14-5 13-6-2-11-37-5-19-6-9-5 6zm34 63 16-86 4-14-5 28-5 32-6 26zm20-100 6-18 5-3 6 11 5 20 6 20 5 11 6-2-5 14-5 3-6-12-10-40-6-11-5 3-6 18zm34 53 6-18 4-14-5 18z"/></g>
<path class="a" d="M318 37.9L318 130.3L410.5 173.5L530.2 140.5M318 130.3l-2 -.7M318 84.1l-2 -.7M318 37.9l-2 -.7M409.4 173l-1.8 .5M364.2 151.9l-1.8 .5M319.1 130.8l-1.8 .5M411.9 173.1l1.5 .9M470.4 157l1.5 .9M528.8 140.9l1.5 .9"/>
<g class="t"><text transform="translate(313.2,132.3) scale(.87,1)" text-anchor="end">0</text><text transform="translate(313.2,86.1) scale(.87,1)" text-anchor="end">50</text><text transform="translate(313.2,39.9) scale(.87,1)" text-anchor="end">100</text><text transform="translate(404.6,182.2) scale(.87,1)" text-anchor="end">-5</text><text transform="translate(359.4,161.1) scale(.87,1)" text-anchor="end">0</text><text transform="translate(314.3,140) scale(.87,1)" text-anchor="end">5</text><text transform="translate(416.5,183.2) scale(.87,1)">-5</text><text transform="translate(475,167.5) scale(.87,1)">0</text><text transform="translate(533.4,151.9) scale(.87,1)">5</text></g>
<path class="g" d="M29.6 351.6L149.3 318.6M149.3 318.6L241.8 361.8M29.6 259.2L149.3 226.2M149.3 226.2L241.8 269.4M29.6 328.5L149.3 295.5M149.3 295.5L241.8 338.7M29.6 305.4L149.3 272.4M149.3 272.4L241.8 315.6M29.6 282.3L149.3 249.3M149.3 249.3L241.8 292.5M39.6 348.9L132.1 392.1M89.4 335.1L181.9 378.3M139.3 321.4L231.8 364.6M234.1 358.2L114.4 391.2M195.6 340.2L75.8 373.2M157 322.2L37.3 355.2"/><path class="g v" d="M149.3 226.2L149.3 318.6M241.8 269.4L241.8 361.8M39.6 256.5L39.6 348.9M89.4 242.7L89.4 335.1M139.3 229L139.3 321.4M234.1 265.8L234.1 358.2M195.6 247.8L195.6 340.2M157 229.8L157 322.2"/>
<defs><linearGradient id="gc" gradientUnits="userSpaceOnUse" x1="610.5" y1="1974.0" x2="504.6" y2="1589.7"><stop offset="0" stop-color="#000080"/><stop offset="0.125" stop-color="#0000ff"/><stop offset="0.375" stop-color="#00ffff"/><stop offset="0.625" stop-color="#ffff00"/><stop offset="0.875" stop-color="#ff0000"/><stop offset="1" stop-color="#800000"/></linearGradient><linearGradient id="gcu" gradientUnits="userSpaceOnUse" x1="610.5" y1="1983.2" x2="504.6" y2="1599.0" href="#gc"/></defs>
<g class="c" transform="scale(.2)" stroke-width="4"><path stroke=#00f d="m770 1875 0 0m42-11 2-1-2 1m48-13-2 0 2 0m42-12 0 0m-79 12-2 0 2 0m-76 14-3 0 3 0m42-12-2-1 8-1zm48-13-6 1 6-1m42-12-2 1 0-2 4 0zm-211 48-2 0 2 0m42-11-2-1 5-1zm42-12 7-2-7 2m49-12-6 0 8-3zm41-12-2-1 8-1zm48-13-6 0 6-2zm41-12 0 0m-207 50-6-2 2-1 6 2zm42-12-6-2 12 0zm41-12-2-2 4-2 6 2zm49-13-3 1-3-3 8 1zm-211 49-5 0 5 0m42-12-3-1 8-1zm42-11-3 0 0-2 5-2 6 1zm41-12 3-3 9-1-4 3zm49-13-4 0 0-2 10-1zm41-12 3-3 6 0zm48-13-2-1 5-1zm-207 50-11-1 10-3zm42-12-9-1 11-3 2 2zm47-13-12 0 6-3 5 0zm42-12-9-1 11-2zm-225 60-2 0 2 0m43-11-3-2 9 0zm222-61-3-2 8 0zm47-14-3 0 3 0m-297 75-6 1 2-3zm42-12-5 1-1-3 9-1 2 1zm42-11-3 0-2-3 2-1 11 1zm41-12-1-4 13 0zm49-13-5 0-2-3 13 0zm41-12-2-1 3-3 8 1zm48-13-4-2 8 0zm-344 84 0 0m44-11-5 0 7-2zm42-11-4 0 0-2 10-1zm41-12-2-1 4-2 9-1-3 3zm50-12-8-1 13-3 0 2zm41-12-4-2 12-2-1 3zm49-13-9 0 3-3 7-1 3 1zm40-12-3-2 9-1zm48-14-6 1 6-1m40-12 0 0m-338 87-9-2 6-1zm42-12-8-1 9-3 5 2zm42-11-6-3 6-2 8 2zm49-13-7 1-5-2 4-3 8-1 4 3zm41-12-8-2 11-3 4 3zm41-12-5-2 10-3 4 3zm48-13-6-2 5-1 4 2zm-343 84 0 0m43-11-4 1 1-2 7-1zm42-11-4 0 0-2 11-1zm42-12-3-1 3-3 11 0zm49-12-7 0 0-4 13 0 0 2zm41-12-4 0-1-3 5-2 9 1zm41-13 1-3 11 0-4 3zm49-12-5-2 12-1zm47-14-6 1 6-1m41-12 0 0m-296 75-10-1 12-3 2 2zm48-13-6 2-8-2 7-3 6 0zm42-11-12-2 14-3 1 2zm41-12-9-1 13-4 2 3zm48-13-12-1 12-3zm-273 72 5-2-5 2m42-11 4-3 5 0-1 2zm272-73-7-1 10-3zm38-13 7-2-7 2m-338 86-3 1-2-3 8 1zm43-11-7-3 7-2 7 2zm41-12-5-3 10-2 6 2zm49-13-6 1-3-3 10-3 6 2zm42-11-8-3 11-3 6 2zm48-13-8 0-2-2 10-3 5 2zm41-12-6-3 6-2 7 2zm48-14-5 1 0-3zm-392 98 0 0m43-12 6-2-6 2m42-11-2-1 5-2 6 0zm50-12-8 0 2-3 7-1 4 1zm42-12-7 0 1-3 13-1-1 3zm40-12-3-2 4-2 11 0-4 3zm50-13-8 0 1-3 6-1 7 0-1 3zm40-12-4-1 5-3 8 0-2 3zm48-13-6 0 9-3 2 1zm41-12 6-2-6 2m47-14 0 0m-344 89-7-2 10-3 3 3zm48-13-7 1-5-2 5-3 8 0 2 2zm42-12-10-1 13-4 4 3zm42-12-8-1 1-2 12-2 3 3zm48-13-11-1 12-3 4 3zm41-11-7-2 10-3 4 3zm-264 72-6-1 6-2zm312-86-8-1 6-2zm-349 86 6-2-6 2m42-11 2-4 7 1zm50-13-7 1 0-4 12 0zm41-11-4 0-2-3 6-2 9 1zm41-12-3-2 3-3 12 1-4 3zm49-13-6 0-1-3 6-2 8 2zm41-12-4-2 4-2 10 1zm48-13-5 0 1-2 9 0zm41-12 7-2-7 2m-385 96 0 0m44-11-5 0 8-2zm43-11-5-2 10-2 1 2zm41-12-3-2 4-2 9 0-2 3zm50-12-9-1 13-4 1 3zm41-12-6-1 0-2 13-2 0 4zm39-13 3-3 10 0-3 3zm50-12-4-2 10-2 0 2zm47-14-7 1 8-3zm40-12 0 0m-338 86-8-1 8 1m42-11-4 1-4-3 9-2 5 2zm42-11-7-3 7-2 8 2zm41-12-4-3 4-2 7-1 5 2-4 3zm49-13-8-2 10-3 5 2zm41-12-5-2 9-3 5 2zm48-13-6-2 4-1 6 2zm-343 84 0 0m43-11-4 0 7-2zm42-12-3-1 6-2 4 1zm42-11-3-1 4-3 9 0-3 3zm49-13-7 0 1-3 7-1 5 1zm41-12-4 0 0-2 5-2 8 1zm49-13-9 1 3-3 8-1 2 1zm41-12-4-1 10-2 0 2zm47-13-5 1 2-2 5 0zm41-12 0 0m-249 62-12-1 11-2zm42-12-11-1 13-3 0 4zm42-11-8-2 11-3 2 3zm-175 47-8 0 4-2zm43-11-8-1 10-3zm171-49-2-1 10-3 1 3zm49-13-5-1 7-2zm-299 74-2-1 2 1m42-12-2-1 5-2 4 1zm41-12 1-3 10 1zm50-12-5 0-2-3 13 0zm41-12-4-2 2-2 11 1zm48-13-5 1-1-4 11 1zm42-12-3-1 9-1zm47-13-2 0 2 0m-300 73-5 1 5-1m43-11-6 0 9-3zm41-12-3-1 10-2 0 2zm40-12 4-3 8-1-3 3zm51-12-5-2 10-2 0 2zm40-13 8-2-8 2m48-13-2-1 5 0zm-208 50-7-1 5-2zm42-11-6-2 8-2 2 2zm48-14-11 0 6-2zm42-11-7-2 5-1zm-211 48-2 0 2 0m42-12 4-1-4 1m42-11-2-1 9-2zm49-13-6 1 2-3 6 0zm41-12-3-1 9-1zm48-13-5 1 5-1m41-12 0 0m-210 49-4 0 4-2zm42-12-2-1 6-1zm48-13-8 1 8-1m42-12-4 0 4 0m-77 14 0 0m-79 11 0 0m42-11 0 0m48-13-3 0 3 0m41-12 0 0"/><path stroke=#09f d="m844 1910 0 0m42-12 1 0m46-13 1 0m42-12 0 0m-212 48 0 0m43-11-2-1 4 0zm41-12 7-2-7 2m50-12-6 0 3-2 4 0zm41-12-2-1 7-1zm48-13-4 0 4 0m41-12 0 0m-207 50-7-2 4-1zm42-12-6-2 6-1 3 2zm48-13-10-1 6-1zm42-11-7-2 4-1zm-211 48-6 1 6-1m43-11-5 0 0-2 9-1zm41-12-3 0 0-2 5-2 6 1-1 2zm41-12 2-3 10 0zm49-13-4 0 0-2 11-1zm41-12 3-3 6 1zm48-13 4-1-4 1m-207 50-12-1 13-3zm42-11-9-1 2-3 10-1 2 2zm48-14-7 2-6-3 12-2zm41-11-10-1 12-3zm-224 60-4-1 6-1zm43-12-5 0 7-3 4 2zm222-61-5-1 10-2 0 2zm47-13-6 0 3-2 3 0zm-347 87 6-2-6 2m42-12-1-3 2-1 8 2zm49-12-9-2 9-3 6 2zm42-12-4 0-3-3 6-2 10 2zm41-12-5-2 5-2 7-1 6 2zm49-12-6 0-3-3 16-1zm41-12-5-3 5-2 10 1zm48-13-4 0-2-3 12 0zm47-14-5 1 5-1m-397 99 8-2-8 2m51-12-8 0 10-3 2 1zm42-11-6-1 0-2 6-2 7 1zm42-12-6-2 5-3 12 1zm39-13 8-5 7 1 0 3zm51-11-7-1 0-3 6-2 10 1-2 3zm40-13-3-1 4-3 12 0-4 4zm50-12-7-1 1-2 12-1zm39-13 3-3 7 0zm48-13-2-1 7-1zm-387 99-7-2 9-2 4 2zm42-11-6-3 12-3 3 3zm49-13-12-1 4-3 11-1 3 3zm42-12-10-1 16-5 3 3zm41-11-7-2 0-2 5-2 11-1 4 3zm49-13-12-2 16-4 4 3zm41-12-7-3 13-3 4 2zm48-13-11-1 4-3 9-1 4 3zm47-14-6 2-6-2 9-3zm-404 109-2-1 2 1m443-122-3 0 3 0m-478 124 2-1-2 1m43-11-2-1 4-3 6 1zm41-12 0-4 3-1 10 1zm51-12-8 0-2-3 8-3 10 2zm41-12-5 0-3-3 13-4 7 2 0 2zm41-12-5-2 4-3 6-2 10 2-1 3zm50-12-11-3 16-4 5 3zm41-12-7-4 11-3 8 2 0 2zm48-13-7 0-2-3 7-3 10 2zm40-13-4-1 4-3 11 0-3 3zm48-13-4 0 0-2 10 0zm47-13-2 0 2 0m-386 99-5 2-9-2 6-4 10 0zm42-11-8 1-5-3 11-4 7 1 2 3zm42-12-11-1 8-5 11 0 2 3zm42-11-9-4 12-4 7 1 3 3zm48-13-5 1-8-3 4-3 15-1 2 3zm42-12-9-1 0-3 13-3 6 3zm47-13-12-2 16-3 2 3zm-355 96-7 0 9-3zm43-11-8-1 13-3 1 2zm353-98-7 0 1-2 12-2 0 3zm47-13-7 0 8-3zm-479 123-2-1 2 1m43-11-6-3 6-2 8 2zm41-12-5-2 5-3 9-1 5 2zm50-12-12-2 16-5 5 3zm42-12-6 0-4-2 1-2 12-3 9 2 0 2zm41-12-8-3 5-2 7-2 12 2-3 3zm49-12-12-2 2-3 13-3 8 4zm41-12-9-3 6-3 12-2 5 3-1 2zm48-13-11-2 9-4 6 0 5 2zm41-12-7-3 13-3 6 2zm48-14-4 1-4-3 9-2 5 2zm47-13-2-1 2 1m-344 88-8 1-8-4 14-4 7 2 0 3zm42-12-11 0-3-3 16-4 6 1 1 4zm41-11-8-1-3-3 7-3 9-2 8 5zm49-13-8 1-8-4 16-5 7 2 0 3zm47-14-6 2-9-1-2-3 14-4 8 4zm-357 96-6 1 6-1m43-11-8 1 3-3 9-1zm43-11-8 0 1-4 14 0zm43-12-8 0-1-3 6-2 8-1 5 3zm262-73-4 0-1-4 18-1 0 3-5 2zm48-13-7 0 0-3 6-2 9 1-2 3zm39-12 3-4 9 0-4 3zm48-13 6-2-6 2m-476 124-7-2 6-3 7-1 2 3zm42-12-6-2 4-3 12-1 3 2zm49-12-12-2 3-3 15-2 4 3zm42-12-5 0-5-2 0-2 13-4 10 3-6 4zm42-11-8-3-1-2 5-2 16-1 4 2-3 3zm48-13-12-2 2-3 12-3 6 0 4 3zm42-12-10-2 0-3 12-3 8 0 4 3zm48-13-13-2 3-3 16-2 3 3zm41-12-8-2 0-2 13-3 6 3zm47-14-10-1 13-3 3 3zm-444 122-6-1 9-3zm483-135-2-1 5-2 5 2zm-520 135 7-2-7 2m42-11-1-3 2-1 11 0-4 3zm50-12-7 0-3-3 12-3 6 2zm43-12-7 0-4-2 2-2 12-3 8 2 0 2zm42-11-6-1-3-3 11-4 12 2-2 3zm40-12-7-4 11-4 10-1 6 4-5 3zm50-12-8-1-4-2 2-2 12-4 11 2-1 3zm42-12-10-4 5-3 15-2 6 3zm48-13-13-3 9-4 10-1 5 2 0 2zm40-13-8-2 6-3 6-2 10 2-1 2zm48-13-6 0-3-2 2-1 10-3 6 2-2 3zm40-12-1-3 4-2 9 1-4 3zm48-13-2-1 8-1zm-428 111-7 1-7-3 11-4 7 1 2 3zm43-11-14-2 1-3 16-3 7 4zm42-12-11-1-2-3 7-3 9-2 10 4-1 2zm41-11-8-2-2-4 17-4 10 4zm49-14-9 1-7-4 18-5 10 4zm41-11-9-2-3-3 13-4 10 1 4 3zm48-13-13-1-1-2 9-4 12 0 2 3zm41-12-9-4 13-3 5 0 2 3zm-441 118-3 0 3 0m44-11-6 0 1-2 7-1 3 1zm43-11-7 0 0-3 15-2-1 4zm391-110 9-5 7 3zm50-13-3-1 10-2 0 2zm47-13-3 0 3 0m-561 147-9-1 5-1zm43-11-7 1-5-2 13-4 4 3zm43-11-12-2 9-4 6 0 5 2zm42-12-11-2 2-2 12-3 9 2zm42-11-10-3 0-2 12-3 13 2-3 3zm41-12-9-4 11-4 7-2 10 4zm50-13-13-2 1-3 12-3 13 2-1 3zm41-11-11-5 19-5 9 4zm48-14-8 1-5-3 15-6 10 3zm41-12-9-2 0-2 12-3 11 2zm48-13-6 1-5-3 16-4 4 2-3 3zm40-12-5-2 5-3 7-1 4 3zm48-13-6-2 6-2zm-386 99-9 1-7-3 18-6 8 4zm42-11-14-3 14-6 6 0 7 5zm42-12-3 1-10-4 7-4 12-3 11 5zm48-13-7 2-11-5 18-6 13 5zm41-11-13-4 2-2 18-3 7 5zm48-14-8 1-8-4 19-4 7 3zm-399 107-3 1 1-2zm43-11-6 0 1-2 11-1zm43-11-6 0-2-3 9-3 8 2-3 3zm42-11-8-4 14-4 7 2 0 3zm312-86-8 0-2-3 6-3 8-1 7 4zm38-13-1-3 2-1 14 0 0 2-6 2zm49-13-4-1 5-2 8 0zm48-13-3 0 3 0m-519 136-12-1 5-3 9-1 2 2zm43-12-12-1 3-3 14-1 3 2zm42-11-11-1 1-4 13-3 9 4zm42-11-9-2-1-3 5-2 6-2 15 3-3 3zm42-12-8-2-2-3 17-5-6-7 18-5 11 5-22 7 11 5zm49-13-8 0-8-4 20-6 10 4-2 3zm41-11-12-5-24 6-11-6 18-5 18 4 18-5 11 5zm48-14-7 1-5-2 1-4 12-3 12 3-1 2zm41-12-8-2-1-2 5-2 15-1 3 3zm48-13-11-1 8-5 10 0 2 3zm47-13-12-2 14-3 1 2zm-494 133-3 0 6-3 4 2zm534-146-4-2 9 0zm-563 146-2-1 2 1m43-11-4 1-3-3 8-2 5 2zm43-11-5 0-4-2 1-2 12-2 6 2zm42-11-8-4 11-4 10 2zm42-12-8-4 10-4 7-1 9 4zm49-12-13-3 2-3 15-5-9-5-27 4-4-2 1-3 20-3 10 4 18-5 13 4-20 6 7 4-1 3zm132-37-8 0-10-4-21 5-10-4 20-6-7-4 1-3 12-4 13 3-2 3-15 5 9 5 19-4 12 2-1 3zm41-12-9-4 11-4 7-1 8 4zm48-13-7 0-4-3 2-1 12-3 8 2-5 4zm39-13-4-2 10-4 9 2-7 4zm49-13-6-2 6-2 8 1zm47-13-2-1 2 1m-476 124-12-1 2-3 7-2 9 1 0 4zm42-11-10-1-2-3 7-3 14 0 3 3zm42-12-8-1-3-4 18-4 9 4zm91-24-7 1-9-5 22-6 9 5zm89-25-6 1-9-4 19-6 9 5zm41-12-7-1-3-3 12-4 10 1 2 3zm48-13-10-1 0-4 17-1-1 4zm-447 120-2-1 5-2 5 0-1 2zm43-11-4-2 4-2 8-1 4 2zm443-122-4-2 4-2 11-1 1 2zm48-13-5 0 1-2 9-1zm-520 135-8-1 11-3 3 2zm43-11-9-2 1-2 6-2 12 2zm42-12-8-2 5-4 13-1 4 3zm42-11-8-4 4-2 13-3 9 3zm91-24-18-4-18 5-11-5 18-6 12 5 24-6 11 6zm42-12-11-5 22-7-11-5 19-5 8 2 2 3-17 5 6 7zm89-25-9-4 5-2 13-3 8 3zm48-13-10-2 1-2 12-4 9 3zm47-14-12-1 15-4 4 2-1 2zm41-12-6-2 6-2 4-1 3 3zm-530 144-3 0 3 0m575-158-3-1 2-1zm-300 78-4 1-10-4 8-5 14-1 8 4zm-267 70-3-1 5-2 5 1zm42-11-3-2 3-3 12 1zm41-12-3-3 9-3 11 1-8 5zm51-12-8 0-3-3 7-3 10-1 6 4zm43-11-12-3 1-2 19-4 5 2-1 4zm180-49-15-3 3-3 17-3 5 2 1 3zm40-12-5-1-4-4 12-3 11 1-1 4zm48-14-11-2 13-4 6 1-2 4zm40-12-4-2 1-2 15 0zm48-13-4-2 10-1zm-477 123-8-1 0-2 16-2 0 3zm42-11-7-2-1-2 5-2 14-1 2 3zm49-13-8 1-7-3 4-3 14-2 8 4zm42-11-6 0-7-5 14-4 13 4zm42-11-12-6 19-5 11 5zm42-12-11-5 5-2 15-4 10 4-1 2zm48-13-11-2-1-4 12-3 14 3zm40-12-8-4 4-3 15-2 7 3zm48-14-9-1 0-3 6-2 7-1 8 4zm48-13-11-1 3-3 12-1 2 3zm-489 132-3 0 3 0m45-11-8 0 9-3 4 1zm483-134-4-1 12-2-1 2zm47-13-3 0 4-2zm-561 147-5 1-1-3zm36-10-4-3 4-2 7-1 5 2zm50-13-8 1-4-2 3-3 12-2 5 3zm42-11-7 0-4-2 2-2 12-3 9 2 0 2zm42-11-10-3 1-2 19-4 5 3zm42-12-9-4 5-3 12-3 11 5zm49-13-13-2 1-3 12-3 13 2-1 3zm41-11-10-4 5-3 14-3 9 4zm48-14-13-2 3-3 12-3 10 3 0 2zm41-12-9-2 6-4 12-1 5 2zm48-13-11-2 8-4 7 0 5 2zm40-12-5-3 5-2 7-1 5 2zm48-14-5-2 9 1zm-386 100-12 0-2-3 9-4 13 1 0 4zm42-11-10-1-4-3 19-5 8 5zm42-12-12-4 6-3 15-2 7 3zm48-13-8 1-8-4 20-6 8 5zm41-12-12-3 7-4 11-2 8 5zm48-13-8 1-7-4 10-4 9 0 5 2-1 3zm-399 107-3 0 3 0m43-11-5 0 0-2 11-1zm43-11-7-3 16-2zm42-12-5 0-2-3 11-4 9 4zm312-85-7-1-2-3 11-3 8 1 1 2zm38-13 1-4 14-1 0 3zm49-13-3-1 5-2 6 0-1 2zm47-13 2-1-2 1m-518 135-11 0 4-3 8-1 1 3zm43-11-11-1 2-3 13-1 3 2zm42-11-10-2 1-2 13-3 8 2zm42-12-9-2 0-2 5-2 6-2 13 3zm41-12-7-3 4-3 12-3 10 4-5 3zm49-12-11-2 1-3 12-4 12 3zm42-12-10-4 5-3 15-2 7 4zm48-13-12-2 2-3 12-3 10 3zm41-12-8-2 0-2 5-2 13-1 4 2zm48-13-10-2 8-4 7 0 3 3zm47-14-11-1 12-3 1 3zm-496 133 8-1-8 1m534-146-2-1 7-1zm-518 136-5-2 10-1zm42-12-6-3 9-2 7 2zm42-11-6-3 5-2 6-2 8 2 0 2zm41-12-4-3 9-4 13 2-3 3zm51-12-8 0-4-3 2-2 12-3 10 2 0 3zm42-12-6 0-4-4 12-4 12 2-2 3zm48-13-14-2 3-3 13-3 9 5zm41-11-10-3 1-2 12-3 10 2 0 2zm40-13-5-3 10-4 12 2-3 3zm49-13-5 0-3-3 13-3 6 2zm48-13-7 1-2-3 9-3 6 2zm40-12-2-1 4-3 6 1zm-380 98-15 0 0-3 17-2 2 2zm42-12-7 2-8-4 11-4 9 1 2 3zm42-11-10 0-2-4 15-4 8 4zm42-12-9-1-2-3 6-2 7-2 8 1 3 3zm48-13-7 1-8-3 1-2 12-3 8 1 3 3zm41-12-9-1 1-4 12-2 8 4zm48-13-8 1-5-3 18-3 1 3zm-399 107-7 1 7-1m44-10-9 0 4-3 8-1zm43-11-9-1 2-3 13-1 0 3zm353-98-8-1 1-2 14-2-1 4zm38-13 4-3 8-1-3 3zm48-13 5-2-5 2m-476 124-6-2 6-2 4-1 4 3zm42-12-6-2 12-4 7 3zm49-12-11-2 9-4 7 0 4 2zm42-11-5 0-5-3 1-2 13-3 9 3zm42-12-8-4 11-4 12 2-2 3zm48-13-12-2 3-3 16-2 5 3zm42-12-9-2 0-2 12-3 10 2-1 2zm48-13-7 1-5-3 9-4 7 0 5 2zm41-12-8-2 6-3 9-1 4 2zm47-13-8-2 10-3 4 3zm-446 120-2-1 2 1m491-135-4-1 4 1m-477 124-5 1 1-3 7 0zm43-11-6 0 0-3 13-1zm42-12-5 0-2-3 6-2 12 2zm42-11-6-4 10-3 9 1 0 3zm49-13-9 0-2-3 13-4 4 1 4 2zm42-11-7-1-3-3 13-4 9 4zm40-13-5-2 3-3 11-2 7 2-8 5zm49-12-7-1-2-3 12-3 8 3zm40-13-3-1 1-2 7-3 9 2-6 4zm49-13-5 0-1-2 6-2 8 1zm47-13-6 1 2-3 7 0zm-387 99-11-1 13-3 2 1zm42-11-10-2 8-4 7 0 2 3zm42-12-8-2 0-2 5-2 7-1 7 3zm48-13-8 1-5-3 10-4 8 1 3 2zm42-11-10-2 1-3 14-2 5 2zm41-12-7-2 0-2 5-2 12-1 3 3zm48-13-10-2 8-4 8 0 2 3zm48-14-8 1-4-2 13-3zm-406 109 2-1-2 1m43-11-2-1 10-2 0 2zm403-110-6-1 8-3 2 1zm45-15-2 1 2-1m-476 125-2-1 2 1m42-12-2 1-3-3 6-2 6 2zm42-11-6-3 6-2 11 1zm42-12-4-2 3-2 7-2 8 2zm49-12-6 0-4-3 2-1 6-2 12 2zm42-12-8-3 13-4 7 2 0 2zm48-13-8 1-3-3 14-4 5 2zm42-12-5 0-3-3 12-3 6 2zm47-13-6 1-3-3 10-3 5 3zm41-12-5-2 2-1 11 1zm48-13-2-1 2 1m-439 110 8-2-8 2m50-12-7 0 10-3zm42-11-6-1 1-2 5-2 7 1zm42-12-5-1 4-4 12 1zm40-12 1-4 14-1 0 3zm51-12-7-1 0-3 16-1zm40-13-4-1 4-3 7-1 6 2-5 3zm49-12-7-1 1-2 12-1 0 2zm40-13-2-1 4-2 8 0zm48-13-2-1 7-1zm-339 86-12 0 6-3 4 0zm42-11-10-1 12-4 3 3zm42-12-8-1 7-4 6 0 3 3zm41-12-6-2 5-2 9-1 4 2zm49-12-10-2 13-3 4 2zm41-12-6-3 6-2 9 2zm48-13-8-2 10-2zm-315 84-2-1 6-1zm359-99-7 1 7-1m-345 88-3 0 0-2 6 0zm43-12-4 0 0-2 10-1zm41-12-2-1 2-3 11 1zm49-12-6 0-1-3 7-2 6 2zm42-12-6-2 3-2 11 0-2 3zm48-13-8 1 1-4 12 0zm41-12-4-2 11-1zm48-13-5 0 2-2zm-301 73-6 0 7-2zm43-11-6-1 10-2zm42-12-5 0 1-2 10-1 0 2zm40-12 3-3 9-1-3 3zm50-12-6-1 1-2 10-1 0 2zm40-13 3-3 5 0 0 2zm49-13-4 0 7-2zm-208 50-7-2 3-1zm41-12-6-2 5-1 6 2zm48-13-5 1-3-2 4-2zm42-12-2 1-4-3zm-212 48 0 0m43-11-2-1 4 0zm42-12 6-2-6 2m48-12-4 0 1-2 6 0zm42-12-2-1 7-1zm48-13-4 0 4 0m41-12 0 0m-212 48 0 0m43-12-1 0m48-13-1 0m43-12 0 0"/><path stroke=#2fd d="m707 1947 3-2 4 1m35-10 0-4 12 1m32-9-3-3 7-2 9 1m30-8-3-3 5-2 8-1 5 2m29-8-3-3 3-2 15 0m29-7-3-3 7-3 12 1m29-8-3-2 11-4 7 2m30-8-2-4 15 0m32-9 2-4 9 1m36-10 7-1m-302 76-13-1 4-3 13-1 2 3zm42-11-10-1 1-4 17-1 0 3zm48-14-7 2-8-4 12-3 7 1 1 3zm42-11-12-1 9-5 9 0 1 4zm48-13-15 0 0-3 17-2 1 2zm-315 84-5 0 2-2 5 0zm43-11-5-2 11-2 0 2zm42-12-5 0 0-2 15-2-2 3zm261-73 2-4 7-1 5 0 1 3zm50-13-5 0 1-2 11-1zm47-13-5 0 2-2 5 0zm-436 112-5-3 9-2 5 2zm42-12-5-2 11-4 7 3zm50-12-12-2 9-4 7 0 5 2zm42-12-10-2 1-2 12-3 9 3zm41-11-8-4 11-4 12 2-2 3zm49-13-12-2 2-3 13-3 8 4zm41-12-8-2 0-2 5-2 12-1 4 2-6 4zm48-13-11-2 9-4 7 0 4 2zm41-12-7-2 6-3 8-1 4 2zm48-13-8-2 9-3 5 2zm-255 63-10 0-5-3 18-5 7 4zm48-13-7 1-12-3 18-6 6 2 0 4zm41-12-7 1-9-4 18-5 7 3-2 3zm-315 84 4-3 2 1zm41-12 3-3 10 0zm51-12-8 0 0-4 15 0zm42-11-7-1-2-3 13-3 7 1 0 2zm42-12-8-4 16-4 6 2-1 3zm181-49-13-3 17-5 7 4zm40-12-7-4 11-3 9 1 0 3zm48-13-7-1-1-3 7-2 9 1zm40-13 2-3 9-1zm48-13-2-1 7-1zm-477 124-8-1 7-4 8 0 2 3zm42-11-7-2 0-2 5-2 13-1 3 3zm49-13-7 1-7-3 4-3 14-2 7 3zm43-11-12-2 1-3 12-4 8 1 4 3zm41-12-9-2-2-3 2-1 17-4 9 4zm41-12-9-4 2-2 15-4 12 4zm49-13-10-2-1-3 12-3 13 3zm40-12-7-3 5-3 14-2 6 3zm49-13-9-2 0-2 13-3 8 3zm48-13-12-1 4-3 11-1 3 3zm-490 131-2 0 2 0m45-10-7-1 11-3 1 2zm484-134-4-2 10-2 1 3zm46-14-2 0 2 0m-566 149-3-2 4-2 6 1zm42-12-5-2 4-2 8-1 5 2zm41-11-4-3 10-4 11 2-2 3zm51-12-8 0-4-3 2-2 12-3 10 2 0 2zm42-12-11-2 1-3 11-3 14 2-2 3zm42-11-11-5 18-5 0-2-11-3-17 5 7 4-15 6-7 0-11-4-18 5-2 1 8 6-12 3-8 1-10-4 18-6-11-5-18 5 5 4 0 3-12 3-14-2 2-3 14-5-9-4-22 5 8 6-15 4-9-1-4-2 1-2 15-6-12-4-19 5 9 6-20 4-8-5 17-5-11-5-19 5-13-4-25 4-9-4 16-6-1-3-5-2-24 4-12-5-25 4-5-2 1-3 12-3 3-2-4-2-12-2-19 3-7-5 14-4 0-3-4-2-26 4-9-5 15-5 1-3-4-2-21 3-10-1-4-3 14-5 2-2-4-3-6-2-17 4-12-2 1-3 15-5-9-6 17-5 0-2-15-3-16 4-9-4 18-8-8-5 17-6-11-5-19 5-10-5 18-5 12 4 17-4 2-1-2-3-5-2-25 4-6-6 15-4 12 4 20-4 1-2-9-4-16 3-14-2 3-3 12-3 17 3 17-5-10-5-21 5-9-5 18-5 12 4 11-2 10-4-8-5 10-4 13-2 10 4 19-5-8-5-21 5-12-5 17-5 12 3 12-1 11-4-6-3 1-4 12-3 17 3 19-4-6-7 12-4 12 0 6 4-18 5 4 4 7 1 17-5-7-4 15-6 7 0 11 4 18-5 2-1-8-6 12-3 8-1 10 4-18 6 11 5 18-5-5-4 0-3 12-3 14 2-2 3-14 5 9 4 22-5-8-6 15-4 9 1 4 2-1 2-15 6 12 4 19-5-9-6 20-4 8 5-17 5 11 5 19-5 13 4 25-4 9 4-16 6 1 3 5 2 24-4 12 5 25-4 5 2-1 3-12 3-3 2 4 2 12 2 19-3 7 5-14 4 0 3 4 2 26-4 9 5-15 5-1 3 4 2 21-3 10 1 4 3-14 5-2 2 4 3 6 2 17-4 12 2-1 3-15 5 9 6-17 5 0 2 15 3 16-4 9 4-18 8 8 5-17 6 11 5 19-5 10 5-18 5-12-4-17 4-2 1 2 3 5 2 25-4 6 6-15 4-12-4-20 4-1 2 9 4 16-3 14 2-3 3-12 3-17-3-17 5 10 5 21-5 9 5-18 5-12-4-11 2-10 4 8 5-10 4-13 2-10-4-7 1-12 4 8 5 21-5 12 5-17 5-12-3-12 1-11 4 6 3-1 4-12 3-17-3-19 4 6 7zm138-38-14-2 9-5 12-1 5 2 0 3zm41-12-9-4 11-4 12 2-2 3zm48-13-12-2 16-5 5 2zm40-13-6-2 5-2 13 0zm48-13-6-2 12 0zm-471 123-15 0 0-3 17-2 2 2zm36-10-10-4 6-3 9-2 7 2 2 3zm151-42 12-2 8-4-10-4-10 2-7 3zm161-44-10-1-3-3 16-4 9 4zm47-13-13-2 4-3 14 0 1 3zm-488 132-7 1 4-3 5 0zm44-11-9 0 2-3 7-1 5 0 0 2zm484-134-6 0 0-2 14-2-1 3zm47-13-6 0 9-3zm-567 148-7-3 11-2 3 3zm42-11-7-2 0-2 5-2 11-1 4 3zm42-12-8-3 5-3 14-2 6 3-4 3zm108-30 8 0 12-6-5-2-12 1-8 5zm44-13 11 0 9-5-13-2-11 4zm45-12 8 0 12-5-10-3-6 1-9 5zm44-12 12-1 8-5-13-2-11 4-1 2zm119-31-14-2 4-3 14-3 7 4zm41-12-8-2 0-2 13-3 7 3zm48-14-9-1 11-3 4 2zm-368 94 10-3 1-3-6-2-18 5zm179-49 11-3-1-3-6-2-10 1-8 4zm-382 102-2 0 3-4 10 1zm41-11-2-3 3-2 8-2 7 2-7 4zm52-12-9 0-4-3 18-5 6 4zm145-43 17-1 4-3-7-3-7 1-10 4zm45-12 7 1 12-4 0-2-6-2-9 1-7 3zm44-12 12 0 9-5-7-3-7 1-10 4zm160-42-8-4 11-4 11 2-1 3zm48-14-7 0-2-3 11-3 7 2-3 3zm47-13-7 0 1-3 10 0zm-562 147-14 0 6-4 9 0zm36-10-8-2 0-2 11-4 8 1 3 3zm107-30 19-5-4-3-11 0-11 4zm45-13 11-1 6-3-3-3-13 1-6 2 0 3zm45-12 16-4-3-3-15 1-4 4zm45-12 16-5-8-3-7 1-6 2-1 3zm44-12 16-5-11-3-7 2-5 2zm43-12 19-5-9-4-7 1-10 5zm115-31-9-2-1-3 13-3 6 1 3 3zm47-14-10 0 2-3 7-2 6 0 1 4zm-570 147-6-2 5-2 7-1 5 2zm42-11-6-2 4-3 6-2 11 2-7 4zm50-12-9 0-4-2 3-3 11-3 11 2 0 3zm57-18 9 0 12-4-6-4-11 1-8 5zm46-13 16-2 2-3-11-2-11 4zm44-12 8 0 10-5-4-2-15 2-3 3zm45-12 11-1 6-4-5-2-10 1-6 3zm44-12 18-5-12-2-10 4zm44-13 19-3-5-4-11 1-7 4zm44-12 12 0 8-5-13-2-11 4zm71-17-6-1-4-4 20-4 5 3-3 3zm47-14-6 1-5-3 17-4 4 2zm47-13-7 1-4-3 11-3 5 2zm-525 137-8-1-3-3 6-3 11-2 7 5zm62-18 18-4-2-3-11-2-14 5zm49-13 9-2 2-4-12-1-10 3 2 3zm49-13 6-3-1-2-19 1 1 4zm132-37 7-2-1-3-15 0-4 3 7 3zm41-11 12-5-9-3-11 3-2 1 1 3zm41-11 18-5-9-5-11 2-7 3zm69-19-9-1-4-3 17-5 7 2 1 3zm-486 133-8-1 0-3 5-2 12 1zm235-68 11 1 6-2 0-3-15 0zm44-12 9 1 9-5-12-1-6 2zm244-67 1-4 6-2 9 1 0 3-6 2zm-560 147-6-1 5-4 7-1 5 3zm43-11-8-3 5-3 15-1 4 2zm62-18 6 1 16-6-5-3-11 0-12 4zm46-12 13-2 5-3-4-3-11 1-8 5zm46-13 15-4-10-3-11 4zm45-12 14-4-3-3-15 2-2 3zm44-13 14-3-3-3-11 1-5 2 0 2zm45-12 6 0 8-4-11-2-9 4zm43-12 11-1 5-3-7-3-7 1-7 4zm44-12 9-1 8-4-4-2-14 1-5 4zm42-12 10 0 12-3 0-2-12-4-16 6zm75-19-7 1-5-2 2-3 13-3 7 3zm47-13-8 1-5-3 15-3 3 3zm-569 148-8 0-3-3 16-4 5 2zm43-11-8-1-4-2 1-2 12-4 12 2-1 3zm58-19 14-1 5-2 1-3-6-2-11 2-7 3zm46-13 9 0 8-5-11-1-10 4zm45-12 12-1 4-4-6-2-13 3zm44-13 9 0 7-4-6-2-9 2-3 2zm45-12 12-1 4-3-12-1-7 2zm44-12 10-1 6-2 0-2-14 0-5 2zm44-12 8 0 10-5-13-1-9 3zm43-12 14-1 6-2 0-2-6-2-10 1-8 4zm74-17-13-3 2-3 12-3 11 2 0 3zm39-13-6-3 11-4 11 2zm-555 145-7 1-6-1 0-2 12-3 5 3zm36-10-8-4 10-4 14 3zm64-18 19-5-5-3-10 0-12 4zm47-13 14-4-7-3-8 1-5 2-1 3zm47-13 9-2-1-3-13 0-4 3zm46-12 6-2 0-3-14 1-1 3zm46-13 6-3-2-2-15 3 0 2 5 1zm43-12 6-1 0-4-14 1-2 4zm42-11 9-3 0-3-17 2 0 2zm43-12 13-4-2-3-15 1-4 3zm42-12 6 0 12-5-10-4-13 3-2 4zm72-19-6 1-8-5 13-3 9 1 3 2zm47-13-13-2 11-4 6 3zm-569 148-12-2 3-3 13-3 7 4zm57-18 4 2 18-6-6-4-11 1-12 3zm46-12 18-5-10-3-12 4zm46-13 7 0 8-4-4-2-13 1-3 3zm45-12 14-4-4-3-9 1-6 3zm45-13 13-3-8-3-10 4zm44-12 13-4-4-2-7 1-7 3zm44-12 14-4-5-2-9 1-5 2zm44-12 12-2 3-3-4-2-14 2-2 3zm43-12 12-1 6-4-10-3-12 4-1 2zm43-12 5 1 18-5-11-5-6 1-11 4 0 2zm69-18-7-3 4-3 14-2 4 3zm-513 134-13 0-4-3 21-5 5 5zm63-18 9-2 1-4-6-2-18 5 10 4zm356-98 11-4-8-4-17 5 3 3zm66-18-11 0-5-3 19-5 8 4zm-535 146-5-1-2-3 5-2 7-1 7 3zm149-43 14-1 4-3-6-2-13 2-2 1zm45-13 10 0 6-4-14 0-3 1-1 2zm45-12 13-1 2-3-10-1-6 2zm44-12 10-1 5-3-11-1-5 3zm44-12 8 0 7-4-8-2-7 2zm44-13 13 0 4-3-9-2-9 2zm44-11 17-2 0-3-9-2-10 4zm159-43-4 0-3-3 12-3 7 1 0 2zm-561 147-11-1 7-5 8-1 7 3zm58-17 9 0 11-5-9-4-13 3-5 3zm47-12 16-5-10-3-7 1-5 2 0 3zm46-13 12-4-2-2-14 1-2 3zm45-13 10-2 0-2-3-2-8 1-5 2 0 2zm46-12 9-3-7-3-7 2-3 2zm44-12 7-2 0-4-13 2-1 2zm44-13 10-2-2-3-11 1-5 2zm43-11 12-4-2-3-15 2-2 3zm43-12 16-5-10-3-7 2-5 2 0 2zm42-12 21-5-9-4-7 1-11 4zm68-18-7-4 10-4 13 3zm-563 146-4 0-4-4 13-3 7 2zm43-11-10-3 0-2 19-4 8 3zm61-19 11-1 8-5-5-2-13 2-5 2zm46-13 12-1 5-4-6-2-8 1-7 4zm45-12 9-1 6-4-6-2-8 2-5 2zm45-13 14-4-10-1-7 3zm45-12 13-4-5-2-7 1-5 2zm44-12 12-2 1-2-8-2-8 3zm44-12 15-5-6-2-7 1-6 3zm43-12 10-1 7-4-10-2-11 4zm43-12 9 0 11-4 0-2-5-2-10 1-9 4zm68-17-8-4 10-4 11-1 6 4zm47-14-7-2 5-3 7-2 8 2 0 2zm-561 147-11-1 0-3 12-3 8 1 1 3zm60-17 13-2 5-3-9-4-8 1-10 4zm48-13 11-3-1-3-9-1-11 3 2 3zm312-86 11-3-2-3-14 0-5 2 1 3zm40-11 18-5-8-4-14 2-5 3zm73-20-7 1-8-3 11-4 11 1-1 4zm-388 103 10 1 6-2 1-3-9-1-7 2zm45-12 5 1 11-5-11 0-5 2zm45-12 9 0 5-2 0-2-12 0zm45-13 12 0 2-4-9 0-5 2zm43-12 11 0 5-2 0-2-5-1zm44-12 9 1 7-2 1-3-10-1-6 2zm-404 106-8-2 0-2 13-3 7 2zm43-12-10-4 11-4 8-1 8 4zm62-18 10-1 9-4-4-3-9 0-11 4 0 2zm46-13 16-4-4-3-10 1-7 4zm46-12 13-4-8-3-11 4zm45-13 11-3-3-3-12 2-1 2zm45-12 11-4-4-2-8 1-5 3zm44-13 11-3-8-2-9 4zm44-11 13-4-4-3-9 1-6 4zm43-12 8-1 7-4-4-2-12 1-5 4zm43-12 13-2 5-3-4-3-11 1-8 5zm66-18-8-3 4-3 13-3 10 3 0 2-6 2zm47-13-7-2 5-3 11-2 4 3zm-561 147-13-3 17-5 6 4zm55-18 11 0 11-4-6-4-10 1-11 4zm46-13 6 1 12-4 0-2-9-2-12 4zm45-12 15-2 2-3-7-2-10 2-2 2zm45-13 16-3-13-2-5 2zm45-12 13-2 1-2-7-2-7 2zm45-13 4 1 10-4-8-2-9 3zm43-12 10 0 5-2 0-2-13 0-3 1zm44-12 14-1 2-3-6-2-10 2-2 2zm44-12 13 0 5-2 0-3-6-2-9 2-7 3zm43-12 5 2 18-6-9-4-7 1-11 4zm70-17-7-4 16-4 6 2-2 3zm-562 146-7-1 0-2 5-2 11-1 3 3zm43-11-8-2-2-2 3-2 11-3 13 4zm64-18 17-5-3-3-17 1-5 3zm47-13 12-4-2-3-17 2 0 3zm46-13 9-3-7-3-7 1-4 3zm46-13 6-1 0-4-8 0-7 4zm46-12 5-3-1-2-15 3zm43-12 6-2-1-3-13 1-2 3zm42-12 10-4-4-2-8 1-6 4zm43-12 13-3-3-3-14 1-4 3zm42-11 18-5-10-4-7 1-6 2-1 4zm72-19-9 1-5-5 16-4 6 1 4 3zm47-13-7 1-7-3 12-4 5 1 2 3zm-569 147-7 1-4-3 2-2 13-3 7 3zm57-17 10 0 11-4 0-2-10-3-12 3-6 2zm46-13 5 1 13-6-5-2-12 1-6 4zm45-12 14-2 2-3-5-2-12 2-3 3zm46-13 9-1 5-3-5-2-8 1-6 3zm44-12 14-4-8-2-10 4zm45-12 13-4-11-2-7 3zm43-12 15-4-8-3-11 4zm44-13 13-1 3-3-12-2-8 4zm44-11 18-5-10-3-12 4zm43-12 23-4-11-6-18 6zm69-18-7-3 5-3 6-2 12 2-3 3zm-513 133-7 1-9-3 17-5 8 5zm60-16 12-3 2-4-13-2-12 4zm356-99 15-4-8-4-9 1-10 4 5 3zm69-18-14-3 16-5 8 4zm-535 146-6-3 4-3 13 1zm148-43 15-1 4-3-6-3-8 1-7 3zm45-13 12 0 5-2 0-2-8-2-9 3zm45-12 14-1 2-4-16 1zm45-12 11-1 4-4-12 0-5 3zm44-13 14-1 1-3-9-1-6 2zm44-12 13 0 4-3-13-2-5 2zm43-12 13 0 5-2 1-3-10-1-11 3zm160-42-5-3 6-3 11 1 0 2zm-561 147-11-2 2-2 14-3 6 3zm43-11-11-2 0-3 12-4 13 3-2 3zm61-19 10-1 8-4-4-2-14 1-6 2 0 2zm46-12 15-4-4-3-8 0-10 5zm45-13 13-3-3-3-10 1-6 2 0 2zm45-12 12-3-3-3-12 1-4 3zm44-12 12-4-2-2-9 0-7 4zm44-12 13-4-3-3-12 1-4 4zm44-12 15-5-3-2-10 0-8 5zm43-12 18-5-4-3-14 1-5 2-1 3zm71-18-12-2 1-3 12-4 12 3zm47-14-8 1-5-2 10-5 8 0 3 3zm-571 147-6-3 5-2 8-1 5 2zm43-11-7-3 4-3 13-2 5 2-2 3zm61-19 7 2 16-6-8-4-8 1-12 3 0 2zm46-12 14-1 5-4-6-2-9 1-8 4zm45-13 10 0 7-4-5-2-11 1-5 3zm45-12 7 0 9-4-12-2-8 4zm44-12 11-1 5-2 0-2-14 0-5 2zm44-12 15-2 2-3-6-2-11 2-3 2zm45-13 6 1 11-5-6-2-8 1-7 3zm43-11 11-1 8-5-5-2-13 2-5 2zm43-12 11 0 12-4-12-5-16 6zm76-19-13-2 18-5 6 3zm40-12-5-3 4-2 13 0-5 4zm-561 147-9-1 0-3 17-2-2 4zm42-12-9-1-1-3 12-4 9 1 4 3zm62-17 18-5-9-5-10 2-8 3zm47-13 11-3 2-3-10-2-11 3-1 2zm46-13 11-4-7-3-8 1-5 2 1 3zm46-13 8-2 0-3-9-1-9 5zm44-12 6-1 3-3-4-2-14 2 0 3zm44-12 10-2-1-4-8-1-11 4 1 2zm43-12 13-3 0-2-5-2-15 2-2 4zm42-11 18-5-9-4-16 3-2 1 2 3zm70-19-5 1-7-5 13-4 8 1 2 4zm47-13-12-1 9-5 8 1 0 3zm-571 147-5-2 5-3 7-1 4 3zm42-12-5-2 4-3 12-2 5 3zm50-12-8 1-5-3 3-3 12-3 6 1 4 4zm58-18 8 0 12-5-10-3-7 1-8 5zm45-12 11-1 7-4-4-2-13 1-6 2zm46-13 16-4-4-3-9 1-9 4zm44-12 16-4-4-3-11 1-6 4zm44-12 14-2 3-3-12-2-10 5zm44-12 6 0 12-5-9-3-12 3-2 3zm44-12 11-1 8-5-13-2-12 4zm71-18-11-2 0-3 12-3 13 2-3 3zm47-13-11-2 7-4 9-1 5 3zm47-14-7 1-5-2 12-3 5 2zm-570 148-6 0-1-4 7-2 9 1-2 3zm43-11-6-1-3-3 12-4 9 2 1 3zm103-31 12 0 10-5-7-3-8 1-11 4zm45-13 8 1 12-4-9-4-12 3-2 2zm45-12 11 0 6-2 1-3-6-2-11 2-5 2zm44-12 15-1 4-4-6-2-8 1-8 3zm44-12 13-1 6-2 0-3-16 0-6 3zm44-12 11 0 11-4-7-4-8 1-11 4zm119-30-8-1-2-4 13-3 8 2 0 2zm47-14-9 0 0-3 7-2 8 1zm-521 135-11-1 3-3 13-1 2 3zm43-11-11-2 1-3 13-3 9 3zm104-30 10-1 8-4-3-2-16 0-6 2 1 3zm45-12 17-5-7-4-8 1-9 5zm45-13 16-4-3-3-7-1-12 4 0 2zm44-12 17-5-5-3-15 2-4 3zm44-12 18-5-11-4-11 3-2 4zm112-30-8-4 5-3 15-1 4 3zm48-14-9-1 1-2 15-3 2 3zm-537 145 3-3 7 0-1 3zm584-158-10-1 13-3zm-569 147-6-3 8-2 6 2zm42-11-7-3 5-2 7-2 8 2 0 2zm42-11-7-3 5-3 6-2 14 2-4 3zm107-31 9 0 12-6-5-2-12 1-8 5zm45-13 11 0 9-5-13-2-12 4zm45-12 8 0 11-5-9-3-6 1-9 5zm44-12 12-1 8-5-13-2-11 4-1 2zm112-30-6-3 4-3 15-2 6 3-5 3zm48-13-8-3 13-4 7 2 0 2zm48-13-5 0-3-3 9-2 5 3zm-472 122-14 0-1-3 14-2 5 2zm37-10-11-4 6-3 9-2 10 5zm152-42 17-5-7-5-12 2-8 4zm159-44-10-1-2-3 14-4 8 2 2 3zm48-13-12 0-2-2 8-4 11 1 0 3zm-488 132-7 1 3-3 6 0zm43-11-8 0 1-3 7-1 6 0 0 2zm484-134-5 0 0-2 14-2-2 3zm47-13-5 0 9-3zm-518 135-8 1-5-2 14-3 4 2zm42-11-7 1-5-2 9-5 8 0 4 2zm43-11-12-2 2-3 12-3 10 3zm42-12-11-2 0-3 12-3 14 2-3 3zm180-49-14-2 8-5 13-1 5 2-1 3zm41-12-5 0-5-2 0-2 12-4 8 0 4 3zm47-13-11-2 2-3 15-2 4 3zm41-13-6-2 5-2 9-1 3 2zm-487 133-4-1 6-2 6 2zm534-146-6-1 9-3 1 2zm-296 75-6 2-12-4 12-5 9-1 8 4zm42-11-7 1-9-4 10-5 11-1 7 5zm-310 82-2 0 2 0m43-11-4 0-1-3 11 0zm43-12-5 0-3-3 6-2 12 1zm42-11-8-3 6-3 9-1 6 2 0 2zm41-12-6-3 10-4 8-1 7 3-5 3zm51-12-13-3 8-4 11-1 5 2 1 3zm131-36-8-1-4-3 13-5 12 2-1 3zm40-13-7-3 11-4 7-1 7 3-4 3zm49-13-7 0-2-4 13-3 7 2 0 2zm47-13-8 0-2-3 17-1zm41-12-4-2 5-2 7 1zm47-14-2 0 2 0m-477 125-9-1 8-5 7 1 1 3zm43-12-9-1 0-3 13-3 7 3zm42-11-8-2-1-2 5-3 6-1 13 3zm48-13-6 1-7-3 2-3 14-3 9 4zm42-12-10-1 0-4 5-2 7-1 12 3zm42-12-9-4 10-4 10 0 5 3zm48-13-11-1 1-3 5-2 8-1 9 3zm47-13-7 1-6-1 0-2 11-4 7 1 2 3zm41-12-8-1 1-2 14-2 0 4zm-447 120 7-2-7 2m42-11 4-3 8-1-3 3zm443-122 4-3 8-1-3 3zm49-13-2-1 7-2zm-477 124-6-2 6-3 8 2zm42-12-5-2 4-3 9-1 5 2zm49-12-11-2 9-4 6 0 5 2zm42-12-5 0-4-2 1-2 12-3 8 2 0 2zm42-11-8-4 11-4 12 2-2 3zm49-13-12-2 2-3 13-3 8 4zm41-12-9-3 6-3 11-1 5 2-1 2zm48-13-12-2 9-4 7 0 5 2zm41-12-7-3 5-2 8-1 5 2zm47-14-8-1 9-3 5 3zm-432 110-5 0 2-2 5 0zm43-12-6 0 1-2 11-1zm42-11-5 0-1-3 5-2 11 1-3 3zm41-12-4-2 3-3 15 0 0 3zm50-12-9 0-1-4 17-2 2 1-3 3zm42-12-7-1-1-3 11-3 9 4zm39-12-2-1 2-4 6-2 10 1-1 4zm50-13-6 0-1-4 18 0zm40-12-2-1 2-3 13-1 0 2-5 2zm49-13-5 0 0-2 12-1zm47-13-5 0 2-2 5 0zm-433 108-7 1m54-14-2 4-9-1m56-16 2 4-15 0m58-16 3 2-11 4-7-2m60-17 3 3-7 3-12-1m60-17 3 3-3 2-15 0m59-17 3 3-5 2-8 1-5-2m58-16 3 3-7 2-9-1m57-16 0 4-12-1m54-14-3 2-4-1"/><path stroke=#bf4 d="m618 1972 1-3 7 1m33-9-2-3 8-3 8 2m29-8-4-3 8-3 8-1 5 2m26-7-4-2 6-4 13-2 5 2m23-6-5-2 0-2 17-6-17-3-11 4 7 5-2 2-20 4-11-4-17 4-17-4-19 5-18-4-19 5-16-4-14 3-17-4-22 5-10-4 13-5 3-3-5-2-27 4-3-3-9-2-19 5-13-5-26 4-4-3 15-7-4-3-5-2-17 4-13-2-4-3 16-5-6-4-11 1-9 4 8 4m375 11-13-2-12 4-1 2 4 2m66-18-6-2-9 1-10 4 4 3m65-18-5-2-12 1-6 2-1 2 4 2m65-18-6-2-8 1-11 4 4 3m65-18-10-2-12 3-3 3 4 2m67-18-5-3 9-4 11-1 5 2m25-7-4-3 5-2 11-2 5 2m29-8-3-2 7-3 10 1m33-9 1-2 8 0m-522 138-7 1-8-4 12-3 6 1 2 3zm35-11-6-1-3-3 11-4 7-1 9 4-5 3zm110-30 18-5-11-3-7 1-5 2 0 3zm45-12 17-5-13-3-7 2-4 2zm44-13 17-4-8-4-8 1-5 2-1 4zm44-12 10-1 8-4-13-3-11 4zm117-31-7 1-9-4 11-4 13 0 3 3zm41-12-8-2 0-2 5-2 7-1 8 3zm-486 133-7-1 1-2 13-2 0 4zm533-147-9 0 2-3 7-1 5 0 1 2zm-570 148-5-2 5-3 7-1 4 3zm42-12-5-2 4-3 13-2 4 3zm51-12-13-2 2-3 12-3 6 1 5 4zm57-18 15-1 6-2 0-2-10-3-7 1-8 5zm46-12 11-1 7-4-5-2-12 1-6 2 0 2zm44-13 8 0 10-5-5-2-8 1-9 4zm45-12 11-1 6-2 0-2-9-2-12 3zm44-12 15-2 3-3-12-2-10 5zm44-12 7 0 12-5-9-3-12 3-2 3zm44-12 12-1 8-5-13-2-12 4 0 2zm71-18-5 0-6-5 12-3 14 2-3 3zm47-13-11-2 8-4 9-1 4 3zm47-14-6 1-5-2 12-3 4 2zm-519 136-6 1-12-3 7-4 12-2 5 2 1 4zm57-16 16-5-2-3-16 0-7 3zm50-14 7-2 1-4-11-1-9 3 1 3zm224-62 5-1 2-3-4-2-9 0-8 3 1 3zm38-10 16-5-9-4-15 3-2 2zm68-19-13-3 8-4 16 0 1 4zm-486 133-8 0-2-3 7-3 10 0 2 2-3 3zm191-55 7 1 11-4-1-2-9-1-10 3zm44-12 11 0 5-2 1-3-9-1-8 2zm45-13 7 1 10-4-12-2-6 2zm44-12 12 0 5-2 0-2-8-2-10 3zm200-54-3-4 3-1 8-2 8 2-2 3zm-561 147-7-2 6-3 7-2 6 3zm43-11-9-4 5-3 17-1 3 2-3 3zm63-18 16-3 4-3-5-2-16 1-5 2zm46-13 17-5-15-2-6 2-1 3zm46-13 13-3-3-3-12 1-4 3zm45-12 12-3-3-3-7 0-8 4zm45-12 11-4-5-3-8 2-5 3zm44-13 12-3-3-3-7 0-8 5zm44-12 9-1 4-3-3-2-10 1-6 2zm42-12 17-4-12-3-10 4zm43-11 20-4 0-2-10-3-7 1-8 5zm74-19-13-2 2-3 13-3 9 4zm47-14-7 1-7-3 16-3 3 3zm-569 148-13-2 9-4 10-1 5 3zm57-18 21-3-9-5-13 3-4 3zm45-12 12-1 6-2 0-2-6-2-9 1-6 2zm46-13 7 0 8-4-10-2-8 4zm45-12 10-1 4-3-12-1-5 2zm45-13 7 0 6-3-7-2-9 3zm44-12 11-1 2-3-10-1-6 2zm44-12 9-1 5-3-6-2-11 3zm44-12 7 0 8-4-10-2-8 3zm43-12 12-1 6-2 0-2-8-2-12 3-1 2zm43-12 12 0 11-4-7-4-9 1-11 4zm70-18-8-3 11-4 13 2-3 3zm-555 146-15 0-1-3 12-4 7 2 2 3zm54-16 20-5-4-3-15 0-9 3zm49-13 12-4-2-3-13 0-6 4zm51-14 3-5-16 2 0 3zm264-73 5-2 0-3-7-1-10 5zm40-11 13-5-3-2-17 2-1 3zm41-12 20-5-11-4-10 2-7 3 2 3zm75-20-6 2-8-2-2-3 12-3 8 1 2 3zm-388 103 10 1 5-3-5-2-7 1zm45-12 12-1 1-3-7 0zm44-12 10 0 4-3-10 0zm45-13 7 1 6-2 0-2-12 1zm43-12 12 0 3-4-10 1zm-365 95-8-4 16-6 12 6zm66-19 7 0 11-5-5-2-15 2-3 3zm46-13 9-1 5-3-4-2-10 1-5 3zm46-12 11-3-4-3-10 2-2 2zm45-13 9-2-4-3-5 1-5 2zm46-12 8-2-5-3-9 3zm43-12 8-2-3-3-4 0-6 2zm45-13 9-2-4-2-7 1-4 2zm43-11 11-3-4-3-5 0-7 4zm43-12 14-4-7-3-12 4zm42-12 15-2 3-3-12-2-11 4zm70-17-12-5 12-4 11 0 5 3zm-564 146-8-1-4-2 2-2 12-3 10 2 1 3zm58-19 8 1 12-4-7-4-9 1-7 3zm46-13 9 0 7-4-7-2-11 3zm46-12 10-1 3-3-10-1-5 2zm45-13 7 0 5-3-11 0zm45-12 10-3-5-1-5 2zm45-12 10-3-8 0zm44-13 10-3-10 1zm43-12 12-3-8 0zm44-12 8 0 5-3-11-1zm43-12 7 1 10-5-12-1-7 2zm43-11 13-1 6-2 0-3-16 0-6 3zm73-17-8-1-3-4 13-4 10 2 0 3zm-548 141 18-5-4-3-15 1-5 2 1 3zm47-13 12-4-2-3-15 2-1 3zm49-14 6-3-4-2-12 4zm311-86 4-1 0-3-14 3 4 2zm40-11 12-3-2-3-8 0-9 5zm42-11 18-5-11-3-6 1-6 2-1 3zm-357 95 12-1-4-2-7 1zm45-13 9 0 1-2zm45-12 10-2-10 2m44-12 9-1 0-2zm45-12 7 0 3-3zm43-12 12-1-5-2zm-391 101 5 1 17-6-9-4-7 1-12 4zm46-13 12-1 5-2 0-2-5-2-10 1-6 4zm46-13 7 0 7-4-15 0-2 2zm46-13 10-2-8-2-6 2zm47-12 6-2-10-1zm45-13 5-1-5 1m45-12 3-1-5-1zm43-12 5-1-5 1m44-12 6-2-7-2zm43-12 10-3-5-2-9 2zm42-12 14-3-11-2-6 3zm43-12 11 0 6-4-5-2-11 1-5 2zm42-11 4 1 19-5-10-5-13 3-4 3zm-514 135 10-3 0-3-8-2-13 4 2 3zm489-135 11-4-8-3-14 3 2 3zm-452 121 7 1 7-2 2-3-10-1-6 2zm46-13 9 0 4-3-10 0zm46-12 10-3-10 1zm45-13 8-2-8 2m45-12 7-2-7 2m44-12 7-2-7 2m45-13 7-2-7 2m43-11 9-3-9 1zm43-12 9-1 4-3-10 0zm43-12 9 0 6-4-14 0zm-478 125 9-1 10-5-14-2-10 4zm48-13 13-4-3-3-10 1-6 2 0 2zm47-13 8-3-3-2-9 1-3 2zm355-98 8-2-3-3-5 0-7 3zm41-12 14-4-4-2-10 1-5 2zm42-11 20-5-5-3-11 0-9 5zm-399 106 10 1-1-3zm46-12 5-2-5 2m49-14 0 0m42-11 2-1-2 1m43-12 0 0m44-12 6 0-1-2zm43-12 7 1 2-4zm-391 101 10-1 7-4-10-2-11 4zm46-13 13-4-9-1-6 2zm46-13 6 0 5-3-10 0zm46-12 7-2-7 2m47-13 3-1-3 1m43-12 0 0m48-13 0 0m41-12 3-1-3 1m43-11 7-3-7 3m42-12 11-3-9-1zm44-12 6 0 7-4-14 0zm42-12 18-3-7-4-13 3-1 2zm68-16-17-3-13 5 12 3 17-4 6 2 4 2-3 3-13 5 9 4 17-3 13 2-2 3-15 5 9 6-16 5 0 2 9 4-15 5-3 3 14 2 16-3 9 4-18 7 6 3-1 4-13 4 7 6-17 5-1 2 7 6-17 5 6 4-1 3-16 5 8 5-22 6-12-4-16 5 9 5 19-5 9 3m-562 31 15-4-2-3-11 0-7 2-2 3zm52-14 5-3-4-2-13 3 0 2zm443-122 5-3-1-2-16 3 1 2zm39-11 14-4-5-3-9 0-8 5zm-448 120 7 1 5-4zm46-12 8-1 1-2zm46-13 5-2-5 2m48-13 2-1-2 1m43-12 2-1-2 1m42-12 2 0-2 0m45-12 5-2-5 2m43-12 9-2-9 2m42-12 11 0 1-3zm-479 126 8 0 12-6-5-2-18 2-2 3zm46-13 9-1 7-4-5-2-11 2-4 2zm47-13 11-3-9-2-6 2zm48-13 4-1-4-3-5 2zm311-86 4-1-4-2-5 1zm41-11 10-3-4-2-9 1-2 1zm42-12 11-1 4-3-13-2-7 4zm42-12 5 1 13-3 2-3-5-2-14 1-6 4zm-568 147 10 0 9-5-8-2-10 2-4 2zm46-13 11-1 4-3-11-1-5 3zm47-13 10-3-10 1zm45-12 8-2-4-1zm47-13 3-1-3 1m90-25 0 0m88-24 3-1-3 1m42-12 8-2-8 2m43-12 9-1 1-2-6 0zm42-11 10-1 5-3-11-1-5 3zm43-12 10 0 8-5-12-1-8 3zm-565 149 19-5-10-4-13 3-1 4zm48-14 12-3-3-3-5 0-11 4zm489-134 11-3 0-2-4-2-13 3-1 2zm41-12 18-5-4-2-15 1-5 2 0 2zm-490 132 13 0-1-3zm46-13 7 1 1-3zm46-12 5-2-5 2m48-13 0 0m131-37 0 0m43-12 6-1-6 1m43-11 7 0 1-3zm42-12 9 1 5-2-5-2zm-478 125 9 0 9-5-6-2-12 2-4 2zm47-13 9-1 4-3-12-1-5 2zm47-13 9-2-12-1zm47-13 4-1-3-1zm265-73 3-1-3 1m42-12 9-2-7-2-4 3zm42-11 9-1 5-3-6-2-7 1-4 2zm43-12 8 0 9-5-5-2-13 2-3 3zm-563 148 15-4-2-3-14 0-9 3 3 3zm577-159 16-4-3-3-11-1-11 4 2 3zm-538 145 17-2-7-3-7 1zm47-13 4 1 8-4-7 0zm46-13 9-2-9 2m45-12 7-2-7 2m48-13 0 0m132-36 0 0m42-12 7-2-7 2m43-12 9-2-9 2m43-12 7 0 5-3-4-1zm43-12 13 0 4-3-4-2-8 1-6 2zm-520 137 13-2 3-3-12-2-9 5zm47-13 11-3-3-3-9 1-5 3zm47-13 5-3-2-1-9 2zm358-99 2 0-3-3-9 2zm39-11 6 0 5-3-4-2-9 1-4 3zm42-11 16-4-4-3-9 0-9 5zm-397 106 4 0-4 0m264-73 3 1 1-2zm-438 114 15-1 5-2 0-2-6-2-9 1-9 4zm46-13 10 0 6-4-8-2-10 3zm47-13 12-3-9-1-5 2zm46-12 8-3-7 0zm45-13 6-1-6 1m48-13 0 0m132-36 0 0m43-12 5-2-5 2m43-12 8-2-7-1zm42-12 12-3-13 0zm43-11 12-2 4-3-13-1-6 3zm42-12 6 1 13-3 1-4-5-2-13 2-6 3zm-561 148 13-4-2-3-10 0-8 5zm50-14 5-3-1-2-15 3zm444-122 5-3-1-2-15 3zm39-11 14-4-3-3-10 0-9 5zm-447 120 11-2-10 0zm45-13 8-2-8 2m47-13 3-1-3 1m90-25 0 0m88-24 3-1-3 1m42-12 4 1 4-3zm43-11 10-1 0-2zm-480 125 14-1 6-4-10-3-13 3-2 3zm46-13 9 0 7-4-5-2-11 1-4 3zm47-13 11-2-5-3-10 3zm47-13 5-1-7-2-2 1zm311-85 5-2-9-1zm42-12 10-3-7-2-8 3zm42-11 11-2 4-3-4-2-9 1-7 4zm42-12 18-2 2-3-5-3-8 0-11 4-1 2zm-558 147 7-2 2-4-3-1-9 0-10 4 5 3zm536-148 6-4-4-2-18 4 2 3zm-500 135 16-3-1-2-12 0-4 3zm46-13 12-3-11 0zm45-13 9-2-9 2m47-12 5-2-5 2m48-14 2 0-2 0m42-11 2-1-2 1m43-12 2-1-2 1m45-12 5-2-5 2m42-12 9-3-8 1zm43-12 12-3-7-1zm43-12 10 0 5-2 0-2-14 0-3 3zm-476 124 14-2 1-2-3-2-13 1-5 2zm48-13 8-2-2-3-6 0-7 4zm400-110 8-2-2-3-5 0-8 4zm41-11 15-4-4-3-10 1-7 4zm-402 107 9 1 2-4zm46-12 8-2-8 2m47-13 3-1-3 1m43-12 0 0m48-14 0 0m41-11 3-1-3 1m43-12 8-1-8 1m42-11 10 0 1-3-6 0zm-453 122 17 3 13-5-12-3-17 4-6-2-4-2 3-3 13-5-9-4-17 3-13-2 2-3 15-5-9-6 16-5 0-2-9-4 15-5 3-3-14-2-16 3-9-4 18-7-6-3 1-4 13-4-7-6 17-5 1-2-7-6 17-5-6-4 1-3 16-5-8-5 22-6 12 4 16-5-9-5-19 5-9-3m-7 112 11 0 9-6-5-2-9 1-11 4zm47-13 10-1 5-3-5-2-8 1-6 2zm46-13 12-3-7-2-8 2zm45-12 9-3-7-1zm47-13 5-2-6 0zm49-14 0 0m41-11 2-1-2 1m43-12 0 0m45-12 5-2-5 2m42-12 9-2-10-1zm43-12 12-3-7-2-8 3zm42-11 10-1 6-2 0-2-8-2-11 4zm43-12 10 0 10-4-5-4-9 1-10 4zm-517 135 13-3-2-3-15 0-5 3zm489-134 13-4-2-3-13 0-6 2 0 3zm-450 120 14 0 1-4-9 0zm46-12 9 0 4-3-10 0zm46-13 9-1 0-2zm45-12 7-2-7 2m45-13 7-2-7 2m44-12 7-2-7 2m44-12 8-2-8 2m43-12 10-1 0-2zm43-12 10 0 3-4-9 1zm43-12 10 1 6-2 0-3-7-1-7 2zm-478 125 17-2 4-4-8-3-13 3-6 2zm47-13 11-1 5-3-8-3-7 1-6 4zm47-13 11-3-3-2-11 1-3 2zm46-12 8-2-8-3-6 2zm47-13 2-1-2-3-6 2zm178-50 3 0-4-3-6 2zm42-11 8-2-5-3-9 3zm42-12 11-3-10-2-7 4zm42-11 10-1 6-4-4-2-12 1-5 2 0 2zm42-12 10 0 12-4-11-5-17 6zm-307 81 7 0-7 0m45-12 5 1-2-2zm43-12 5-1-5 1m-305 77 13 0 6-2 1-3-11-2-12 4zm46-12 8 0 9-5-12-1-7 3zm46-13 9-1 5-3-12 0zm46-13 10-1 1-2-12 1zm44-12 10-3-7 0zm46-12 9-3-9 1zm44-12 9-3-5 0zm44-13 10-2-9 0zm44-12 10-1 1-2-6-1-6 2zm43-12 9 0 5-3-12-1-4 3zm43-11 15-2 1-3-6-2-10 2-2 2zm43-12 20-3-1-3-8-2-15 5zm-536 142-10-2 0-3 12-4 8 1 4 3zm62-19 16-4-3-3-13 1-6 2 0 3zm47-13 11-2-2-3-7-1-10 5zm50-13 2-4-13 2zm264-73 6-2-2-3-10 1-3 3zm41-11 11-3-1-3-16 2-1 2zm42-12 16-4-3-3-8-1-12 4zm69-18-10-2-1-3 13-3 12 3zm-382 101 8 0 4-3zm45-12 10-1 0-2zm44-13 8 0 2-3zm45-12 5 1 5-2 0-2zm43-12 11 0 1-3-7 0zm-365 95-8-3 16-6 12 5-12 4zm65-19 7 0 11-4-5-3-15 2-3 3zm45-13 3 1 12-5-7-2-12 4zm46-12 5 0 7-4-5-2-9 2-2 1zm45-13 11-3-10-1-5 2zm45-12 10-3-5-2-8 2zm44-12 10-3-6-2-8 2zm45-12 10-3-3-2-8 1-3 1zm43-12 12-4-5-2-10 2zm43-12 10-1 5-3-5-2-9 1-5 2zm43-12 15-2 3-3-12-2-11 4zm71-16-12-6 20-4 8 4zm-558 144-14 0-2-3 12-4 8 2 2 3zm56-16 17-5-2-3-16 0-10 4zm50-14 7-2 1-3-8-2-13 5 3 2zm358-98 6-4-6-3-15 4 2 3zm37-11 17-4-8-5-12 2-8 3zm74-20-7 2-7-2-2-3 11-3 9 1 1 3zm-434 116 7 1 10-5-13-1-4 2zm45-12 10-1 5-3-12 0zm45-13 12-1 1-2-7-1-6 2zm45-12 9-1 4-3-10 0zm44-12 7 0 6-4-12 1zm44-12 11-1 3-3-10-1-5 3zm43-12 11 0 5-2 0-3-13 0zm-401 105-13-2 3-3 16-2 5 3zm57-17 9-1 11-5-9-3-7 1-11 4zm47-13 14-3 1-2-3-2-12 1-6 2 0 2zm46-13 12-3-3-3-7 0-8 4zm45-12 11-3-3-3-9 1-5 3zm45-13 10-2-3-3-11 1-2 3zm44-12 10-3-10-2-6 3zm44-12 11-3-3-3-10 1-4 3zm44-12 12-4-10-2-8 4zm43-12 15-4-3-3-12 1-6 2 0 2zm42-12 16-2 4-3-8-3-13 2-5 2zm69-18-8-2 4-4 15-1 5 2zm-564 146-4 0-3-3 5-2 7-1 7 3zm43-11-9-4 11-4 13 2-2 3zm61-19 12 0 8-6-5-2-20 4 0 2zm45-13 8 1 10-5-7-3-13 3-2 2zm45-12 16-4-6-2-9 1-4 2zm45-12 7 0 8-5-10-1-8 3zm45-13 10-1 5-3-7-2-11 4zm44-12 7 0 8-4-6-2-9 2-3 1zm44-12 12-1 4-3-6-2-7 1-6 2zm43-12 11 0 6-2 1-3-10-2-11 4zm44-12 21-3-6-5-4 0-12 3-4 3zm66-18-4-2 3-3 13-3 9 4-5 3zm49-12-6-3 5-3 14 1zm-561 146-10-1 2-3 14-2 3 4zm43-11-10-1-1-4 12-3 13 3zm62-18 17-5-10-4-9 2-7 3zm46-13 11-2 2-1-1-3-11-1-7 2-1 4zm46-12 11-4-6-3-8 1-5 2 0 2zm46-13 8-2-1-3-7-1-10 4zm44-12 8-2 1-3-12-1-5 2-1 3zm44-12 10-3-2-3-7-1-11 4 1 2zm43-12 12-3 0-2-4-2-13 1-4 4zm42-12 17-4-9-5-9 2-7 3 2 3zm70-18-6 1-5-2-1-4 11-3 14 3-1 2zm47-13-10 0-2-2 3-3 14-1 2 3zm-571 146-5-2 5-2 6-1 5 2zm42-11-5-3 10-4 11 2zm51-12-14-2 9-5 11-1 6 5zm57-18 8 0 12-4 0-2-5-2-12 1-8 5zm45-13 16-2 2-3-11-2-12 4zm45-12 7 0 10-5-4-2-15 2-3 3zm45-12 16-3 0-2-4-2-11 1-6 2 0 2zm44-12 17-5-12-2-10 4zm44-13 12-1 6-2 0-2-5-2-11 1-7 4zm43-12 12 0 8-5-4-2-15 1-6 2 0 2zm72-17-6-1-5-4 12-3 13 2-2 3zm47-14-7 1-4-3 16-4 5 2zm47-13-7 1-4-3 11-3 5 2zm-477 124-13 0-3-3 18-5 9 4zm110-31 8-3-6-4-10 1-8 4zm133-37 7-2 0-3-5-2-18 5 11 3zm110-29-7 1-9-4 5-3 19-1 3 3zm-446 120-5 0-1-2 15-2-2 3zm43-11-6-1-1-3 11-3 8 2 0 2zm192-55 13 0 5-2 1-4-11-1-11 4zm45-13 9 1 11-4-8-4-13 3-3 2zm206-54-8-3 5-3 7-1 8 4zm47-13-7 0 0-4 14 0zm-563 143-1 2-8 0m56-15 3 2-7 3-10-1m60-17 4 3-5 2-11 2-5-2m62-18 5 3-9 4-11 1-5-2m66-18 10 2 12-3 3-3-4-2m23-6 6 2 8-1 11-4-4-3m24-7 5 2 12-1 6-2 1-2-4-2m24-7 6 2 9-1 10-4-4-3m23-6 13 2 12-4 1-2-4-2m22-6 5 2 0 2-17 6 17 3 11-4-7-5 2-2 20-4 11 4 17-4 17 4 19-5 18 4 19-5 16 4 14-3 17 4 22-5 10 4-13 5-3 3 5 2 27-4 3 3 9 2 19-5 13 5 26-4 4 3-15 7 4 3 5 2 17-4 13 2 4 3-16 5 6 4 11-1 9-4-8-4m-288-35 4 2-6 4-13 2-5-2m63-18 4 3-8 3-8 1-5-2m60-17 2 3-8 3-8-2m55-15-1 3-7-1"/><path stroke=#fb0 d="m613 1973-3-3 12-4 9 2m24-6-10-3-20 4-10-4-26 4-5-2 1-3 14-5-10-4-10 1-10 5m129-5-6-2-10 1-8 4 4 2m63-17-7-2-10 2-4 2 3 3m61-17-11-1-6 2 2 3m59-16-14 0 0 4m57-16-7-1-6 2 1 2m57-15-11-1-1 4m56-15-13 0 1 3m57-16-10-1-5 3 2 2m58-16-7-2-9 3 1 3m61-17-6-2-7 1-7 3 3 3m63-17-5-2-12 1-6 2-1 2 4 2m66-18-4-3 7-3 10-1 6 2m-561 147 11-1 9-4-4-3-16 1-6 2 1 3zm48-13 10-2 3-3-4-2-14 2-2 3zm49-13 7-3-6-3-11 4zm311-86 4-1 1-4-15 3zm40-11 13-4-11-3-10 5zm41-11 19-4 1-2-12-3-7 1-6 2 0 4zm-356 94 7 1 6-2-1-2-5 0zm45-12 9 0 2-3-7 0zm45-13 6 1 4-3zm44-12 10 0 0-2zm44-12 12-2-12 2m44-12 6 1 6-2 0-2-11 1zm-391 101 11 0 11-4-6-4-16 2-6 2zm46-13 12-1 5-3-8-3-12 3-1 2zm46-13 14-3-5-2-10 1-3 2zm46-12 10-3-8-2-6 2zm47-13 6-2-9-1zm46-13 4-1-3-1zm44-12 3-1-6-2zm43-12 4-1-7 0zm44-12 6-2-5-2-4 2zm43-12 10-2-5-3-9 3zm43-11 13-4-11-2-7 3zm42-12 11-1 6-4-5-2-11 1-5 3zm42-12 5 1 19-4-2-3-9-3-17 6zm-522 134 12 0 5-2 1-3-16 0-5 3zm46-13 6 1 9-5-10 0-6 2zm45-12 13-4-10 1zm46-13 9-2-9 2m46-13 6-1-6 1m45-12 5-1-5 1m44-12 6-2-6 2m44-12 6-2-5 0zm43-12 9-3-9 3m43-12 12-3-9 0zm43-12 8 0 7-4-8-1-6 2zm43-12 15 0 4-3-1-2-7-1-13 3zm60-19-8 0-13 5 9 5 16-4 8 0 5 3-18 8 9 4-16 6 4 4m-576 125 18-5-5-3-15 2-3 4zm48-13 11-4-3-2-9 1-5 3zm48-14 5-2-2-2-11 3zm358-98 0-4-11 2zm38-11 11-3-6-3-12 4zm41-11 18-5-14-2-9 5zm-399 107 8-1-1-2zm46-13 3-1-3 1m179-50 3 0-3 0m42-11 4 1 3-3zm-438 114 9 0 11-4 0-2-8-2-13 3-3 2zm47-13 15-4-6-2-8 1-4 2zm46-13 11-3-8-1-5 2zm47-13 6-2-6 0zm311-86 6-1-6-1zm42-11 11-3-6-2-7 2zm42-12 11-1 5-3-13-1-6 3zm43-11 12-1 7-5-5-2-13 2-5 2zm-559 147 7-2 1-4-16 1-1 4zm533-147 7-2 0-4-15 2-1 3zm-496 133 11 0 3-3-9 0zm47-13 9-2-9 2m48-13 3-1-3 1m265-73 3-1-3 1m42-12 8-2-8 2m42-11 14-3-11 0zm-521 136 11-1 5-3-7-3-13 3-1 2zm47-13 11-3-4-2-9 1-3 2zm488-134 11-3-10-2-6 3zm42-12 15-2 1-2-4-2-12 1-5 2zm-489 132 11 0-4-2zm400-111 6 2 1-4zm-479 125 7 1 7-4-15 0zm47-12 9-3-7 0zm47-13 3-1-3 1m356-99 4-1-4 1m41-11 10-2-9 0zm42-11 6 0 8-4-15 0zm-562 148 10-5-12-1-5 2 0 2zm577-160 10-2-2-3-12 1-4 3zm-538 145 8 1 4-3zm48-13 5-1-5 1m398-110 6-1-6 1m42-11 11 0 0-3-6 0zm-519 136 11-3-6-2-8 2zm49-13 2-1-4-1zm443-122 2-1-4-1zm40-12 10-1 1-2-13 0zm-570 147 12 0 3-4-10 0-5 2zm47-13 10-2-10 2m50-13 0 0m396-110 0 0m42-11 8-1 1-2-5 0zm42-12 9 0 5-2 0-2-12 1zm-566 146 11 0-2-3zm49-13 0 0m443-123 0 0m40-11 6 2 6-2-2-2zm-565 149 12-3-10-1-4 2zm48-13 5-1-5 1m488-135 5-1-5 1m41-11 7 0 5-3-9-1-4 1zm-567 146 3 1 6-3zm48-13 2-1-2 1m443-122 2-1-2 1m41-12 4 1 6-3zm-564 149 9-2-4-3-10 3zm578-159 9-3-5-2-7 1-2 2zm-569 146 9-2-9 2m49-13 0 0m443-122 0 0m40-11 9-3-9 1zm-569 146 10 0 0-3zm48-13 2 0-2 0m489-135 3-1-3 1m40-11 8 1 3-4zm-562 148 6-2-6 2m532-147 7-1-7 1m-571 148 10-1 1-2-6 0zm48-14 4-1-4 1m489-134 4-1-4 1m41-12 6 0 5-3-10 1zm-567 146 7-1-7 1m533-146 7-2-7 2m-567 149 11-3-8-1zm48-13 3-1-3 1m490-136 2 0-2 0m40-10 10-3-10 0zm-568 146 9-1 0-2zm49-14 0 0m443-122 0 0m40-11 9-2-9 2m-564 149 9-3-5-2-9 3zm577-159 10-3-5-2-7 1-2 1zm-569 146 10-2-4-1zm49-13 2-1-2 1m443-122 2-1-2 1m41-12 9-2-3-1zm-561 148 4-1-1-3-12 2zm576-159 6-2-2-2-12 3zm-537 145 5-1-5 1m488-135 6 0-6 0m-522 137 10-2-6-2-6 2zm49-13 0 0m443-122 0 0m41-11 9-3-11 0zm-571 147 12-1 2-3-9 0-5 2zm47-13 5 0 4-3-8 1zm50-14 0 0m396-109 0 0m41-12 10-2-10 2m42-11 10 0 5-2 0-2-12 0zm-561 147 9-2-3-2-10 1-1 2zm533-146 9-3-7-2-8 3zm-489 131 4 1-4-1m443-122 4 1-4-1m-526 138 12-1 4-3-12-1-6 2zm47-13 6 0 5-3-11 0zm47-13 6-1-6 1m399-110 5-1-5 1m42-11 11-3-8-1zm42-12 10 0 5-2 0-2-7-2-9 3-1 2zm-560 147 7-1-1-4-6 0-8 4zm533-147 7-1-1-3-7-1-7 4zm-495 133 9 0 1-2zm47-12 4-1-4 1m357-99 3-1-3 1m41-11 7 0 2-3zm-524 137 12-1 5-3-5-2-15 2-1 2zm47-13 12-3-6-2-10 3zm47-12 7-2-6-2zm400-111 7-2-11 0zm41-11 12-3-10-2-6 3zm42-12 16-2 1-2-5-2-11 1-5 2zm-568 147 9 0 6-2 1-3-10-1-6 2zm46-13 10-1 3-3-9 1zm47-13 8-2-8 2m47-13 3-1-3 1m265-73 3-1-3 1m42-12 9-2-9 2m43-11 13-4-11 0zm42-12 16-1 1-4-9-1-7 2zm-565 149 13-2 5-3-4-3-12 1-7 5zm48-13 12-4-3-2-11 1-5 3zm49-14 4-1-2-3-11 3zm398-110 6-2-2-2-11 3zm41-11 12-3-3-3-9 1-6 3zm42-11 18-5-4-3-9 0-11 4 0 2zm-443 118 6 1 0-2zm311-85 6 0 0-2zm-437 113 9 0 9-5-5-2-8 1-10 4zm46-13 3 1 12-5-13 0-5 2zm46-12 11-3-11-1zm46-13 7-2-4-1zm46-13 3 0-3 0m179-49 3-1-3 1m42-11 7-3-8 1zm42-12 11-3-9-1-4 2zm43-12 9-1 5-3-6-2-11 3zm42-12 16-1 3-4-5-2-8 1-10 4zm-517 136 13-3-2-3-15 0-4 3 1 2zm489-135 13-4-8-3-7 1-5 2-1 3zm-538 148 8 0 13-5-9-5-16 4-8 0-5-3 18-8-9-4 16-6-4-4m84 4 8 1 6-2 1-3-8 0zm46-13 9 0 3-3zm46-12 9-3-9 3m46-13 5 0 1-2zm44-12 6-2-6 2m45-13 5-1-5 1m44-12 6-1-6 1m43-12 9-2-9 2m42-11 10-1 3-3zm43-12 16-2-7-3zm-478 125 4 1 17-7-9-3-19 4zm47-13 11-1 5-4-4-2-11 1-6 4zm46-13 13-3-5-3-10 2-3 2zm46-12 9-3-8-2-6 2zm47-13 4-2-3-2-6 2zm91-25-3-3-3 1zm87-25 4-1-4-2-6 2zm42-11 9-3-4-2-8 2-2 1zm42-12 13-3-11-2-7 3zm43-11 15-3 1-2-4-2-12 1-5 2zm42-12 22-4-6-4-11 0-11 4zm-306 81 7 0-7 0m87-24 3 1 1-2zm-298 78 13-3 0-4-5-2-19 4-1 2zm491-135 12-3-1-3-5-2-11 1-9 4 4 3zm-452 121 8 1 10-5-13-1-8 3zm45-12 11-1 4-3-14 0zm46-13 11-1 1-2-6-1-6 2zm45-12 11-3-8 0zm45-13 10-2-10 0zm44-12 10-2-6-1zm44-12 7 0 4-3-9 0zm44-12 11-1 1-2-7-1-6 2zm43-12 4 1 11-5-10-1-7 3zm43-12 16-1 2-3-11-2-9 4zm-483 123 4 3-7 3-10 1-6-2m65-18 5 2 12-1 6-2 1-2-4-2m26-7 6 2 7-1 7-3-3-3m29-8 7 2 9-3-1-3m30-8 10 1 5-3-2-2m32-9 13 0-1-3m32-9 11 1 1-4m33-9 7 1 6-2-1-2m31-9 14 0 0-4m30-8 11 1 6-2-2-3m28-8 7 2 10-2 4-2-3-3m25-7 6 2 10-1 8-4-4-2m23-7 10 3 20-4 10 4 26-4 5 2-1 3-14 5 10 4 10-1 10-5m-44-18 3 3-12 4-9-2"/><path stroke=#f20 d="m651 1963-7-2-9 2-2 1 3 3m58-16-10-1-2 4m54-15-7 2m49-13 0 0m264-73-1 0m50-13-3-1-5 3m55-15-11-1-1 4m58-16-7-2-9 2-2 1 2 3m-562 148 8-1 4-3-2-2-16 2-1 3zm578-159 11-3-3-3-12 1-4 4zm-538 145 13-2-4-2zm46-13 8-2-8 2m48-13 0 0m311-86 0 0m41-11 8-2-8 2m42-12 11 0 1-3-7 0zm-519 137 11-3-5-2-9 1zm49-14 2-1-6-1zm443-122 2-1-6-2zm41-11 10-3-5-2-10 2zm-570 147 10-1 3-3-9 0-5 2zm47-13 9-3-8 1zm487-135 9-2-9 2m42-11 9-1 5-3-12 0zm-566 145 10-1-10 1m533-146 9-1-2-2zm-565 148 10-2-8-2zm578-159 9-3-11 0zm-568 146 7-2-7 2m533-147 6-1-6 1m-566 146 4 1-4-1m575-159 4 1-4-1m-598 148 2 0-2 0m575-158 2-1-2 1m-815 46 2-1-2 1m575-159 2 0-2 0m-599 148 3 0-3 0m576-158 2-1-4-1zm-570 146 6-2-6 2m532-146 7-2-7 2m-559 147-2-3-9 2zm574-158 3-4-11 2zm-571 147 8-3-9 1zm532-147 9-2-4-1zm-571 147 12 0 2-4-9 1zm47-13 9-2-9 2m487-134 8-1 1-2zm43-12 14-2-5-2-6 1zm-562 148 10-2-8-3-7 3zm49-13-3-3-2 1zm443-123-5-1 5 1m40-11 10-2-4-3-11 3zm-571 148 12-1 4-4-8-1-11 3zm46-13 7 0 5-3-11 0zm46-13 8-2-8 2m48-13 0 0m311-86 0 0m41-11 8-2-8 2m42-12 3 1 9-4-8 0zm42-11 16-2 1-3-15 0-4 3zm-568 146 7 2 9-2 2-1-2-3m30-9 11 1 1-4m35-10 3 1 5-3m41-11 1 0m263-73 0 0m42-11 7-2m35-10 10 1 2-4m31-9 7 2 9-2 2-1-3-3"/><path stroke=#900 d="m606 1965 4-1-4 1m576-159 4-1-4 1m-1011-44 4-1-4 1m576-159 4-1-4 1"/></g>
<g class="s sgc" transform="scale(.2)" fill="url(#gc)" stroke="url(#gc)"><path class=u transform=translate(-461,-215) d="m612 1652 5 69 5 37-3 4-5-40-5-74z"/><path transform=translate(-461,-215) d="m634 1619 5-55 5-8 3 12-5 7-5 51zm45 5 5-51 5-2 3 12-5 2-5 47zm45 2 5-47 5 3 3 12-5-3-5 43zm45-3 5-43 5 9 3 11-5-8-5 40zm44-7 5-38 5 14 4 11-5-13-5 35zm40 58 5-70 5-33 3 13-5 30-5 65zm45-17 5-68 5-28 3 12-5 26-5 63zm45-23 5-65 5-22 3 12-5 21-5 60zm45-27 5-62 5-17 3 13-5 15-5 58zm45-31 5-59 5-11 3 12-5 11-5 54zm45-36 5-54 5-6 3 12-5 5-5 51zm45-40 5-50 5 0 3 11-5 1-5 47zm40 33 5-77 5-46 5 5 3 12-5-5-5 43-5 72z"/><path class=u transform=translate(-458,-214) d="m612 1656 5 23 5 14 5-3 5-15-3 19-5 52-5 11-5-37-5-69zm439-57 5 18-3 2-5-65zm45-27 5 18-3 7-5-66zm45-32 5 18-3 13-5-66z"/><path transform=translate(-458,-214) d="m629 1694 5-69 5-51 5-7 5 40 3 46-5-14-5 1-5 15-5 20zm50-63 5-47 5-2 5 44 3 41-5-15-5 0-5 14zm45 2 5-43 5 3 5 48 3 36-5-15-5-2-5 13zm45-2 5-40 5 8 5 52 3 31-5-16-5-3-5 13zm45-7 5-35 5 13 5 55 3 26-5-17-5-4-5 11zm39 54 5-65 5-30 5 18 5 57 4 21-5-17-5-5-5 10-5 21zm45-17 5-63 5-26 5 23 5 60 3 16-5-18-5-7-5 9-5 21zm45-22 5-60 5-21 5 28 5 62 3 9-5-18-5-7-5 8-5 20zm45-26 5-58 5-15 5 32 5 64 3 4-5-19-5-8-5 6-5 20zm45-31 5-54 5-11 5 37 3 45-5-10-5 6-5 19zm45-35 5-51 5-5 5 40 3 41-5-11-5 4-5 19zm45-39 5-47 5-1 5 45 3 35-5-11-5 2-5 18zm40 28 5-72 5-43 5 5 5 48 3 30-5-12-5 1-5 17-5 25z"/><path class=u transform=translate(-455,-212) d="m612 1660 5-35 5-18 5 9 5 32 5 42-3-37-5 20-5 15-5 3-5-14-5-23z"/><path transform=translate(-455,-212) d="m634 1653 5-15 5-1 3 91-5-7-5-31zm359-36 5-6 5 8 3 62-5 22-5-5zm45-24 5-6 5 10 3 56-5 25-5-1zm40-11 5-19 5-4 5 11 3 50-5 28-5 2-5-23zm45-35 5-18 5-2 3 86-5 6-5-21zm45-39 5-17 5-1 3 83-5 9-5-17z"/><path class=u transform=translate(-452,-211) d="m927 1621 5-50-4 48-5 26z"/><path transform=translate(-452,-211) d="m609 1659 5-35 3-31-5 71zm135 22 5-33 3-40-5 64zm45-3 5-31 3-42-5 61zm309-102 5-38 3-38-5 71zm45-39 5-37 3-40-5 68zm45-44 5-35 3-43-5 65z"/><path class=u transform=translate(-449,-210) d="m627 1586 5 55 5 70 5 53 5 11-3 8-5-11-5-60-5-79-5-62zm130 17 5 29-3-14-5-32zm399-151 5 25-3-13-5-30z"/><path transform=translate(-449,-210) d="m609 1663 5-71 5-37 5 16 3 15-5-14-5 32-5 63zm35 120 5-40 10-142 5-32 5 22 3 15-5-19-5 27-10 125-5 36zm55-110 5-67 5-26 5 27 3 14-5-24-5 23-5 59zm45-2 5-64 5-21 3 17-5 19-5 56zm45-6 5-61 5-16 3 18-5 13-5 54zm45-11 5-57 5-10 3 17-5 9-5 50zm45-15 5-54 5-4 3 17-5 4-5 47zm45-19 5-50 5 2 3 16-5-1-5 44zm44-24 5-45 5 7 3 16-4-6-5 40zm40 47 5-75 5-40 5 13 3 15-5-11-5 36-5 66zm45-34 5-73 5-35 5 18 3 15-5-16-5 31-5 65zm45-39 5-71 5-29 5 23 3 14-5-20-5 27-5 62zm45-43 5-68 5-25 3 18-5 22-5 60zm45-48 5-65 5-19 3 18-5 17-5 57z"/><path class=u transform=translate(-446,-208) d="m632 1667 5 19 5 15 5 4 5-8-3 40-5 36-5-11-5-53-5-70z"/><path transform=translate(-446,-208) d="m609 1665 5-63 5-32 5 14 5 55 3 28-5-16-5-5-5 7-5 15zm40 72 10-125 5-27 5 19 5 57 3 22-5-16-5-6-5 6-10 30zm50-60 5-59 5-23 5 24 5 60 3 16-5-16-5-7-5 5-5 15zm45-1 5-56 5-19 5 29 5 62 3 10-5-16-5-8-5 5-5 14zm45-5 5-54 5-13 5 32 5 64 3 4-5-16-5-8-5 3-5 14zm45-10 5-50 5-9 5 37 3 47-5-9-5 3-5 13zm45-14 5-47 5-4 5 41 3 42-5-10-5 2-5 13zm45-18 5-44 5 1 5 45 3 37-5-10-5 0-5 13zm45-23 5-40 4 6 5 48 4 32-5-11-5 0-5 12zm44-27 5-36 5 11 5 51 3 26-5-11-5-1-5 11zm40 33 5-65 5-31 5 16 5 54 3 20-5-11-5-2-5 10-5 19zm45-38 5-62 5-27 5 20 5 57 3 14-5-11-5-3-5 10-5 18zm45-42 5-60 5-22 5 25 5 58 3 9-5-12-5-3-5 8-5 19zm45-47 5-57 5-17 5 29 5 60 3 3-5-12-5-4-5 8-5 18z"/><path transform=translate(-442,-207) d="m608 1667 5-15 5-7 5 5 5 16 4 32-5 32-5 6-5-23-5-44zm534-114 5-19 5-8 5 3 3 66-5 23-5-7-5-32zm45-41 5-18 5-8 5 4 3 60-5 27-5-3-5-30z"/><path class=u transform=translate(-439,-205) d="m612 1670 5 77-3-36-5-44z"/><path class=u transform=translate(-436,-204) d="m612 1674 5 64 5 35 5-10-3 12-5 12-5-41-5-77z"/><path transform=translate(-436,-204) d="m624 1775 5-59 5-77 5-57 5-8 3 22-5 7-5 47-5 63-5 50zm54-131 5-52 5-3 4 22-5 2-5 44zm45 2 5-49 5 3 3 21-5-2-5 40zm45-4 5-43 5 8 3 21-5-8-5 37zm45-7 5-39 5 15 3 19-5-12-5 33zm40 61 5-73 5-33 5 20 3 19-5-17-5 28-5 61zm45-18 5-70 5-29 5 26 3 18-5-21-5 24-5 58zm45-23 5-67 5-23 3 22-5 20-5 56zm45-27 5-64 5-17 3 22-5 15-5 53zm45-32 5-60 5-12 3 22-5 10-5 51zm44-36 5-56 5-6 4 22-5 5-5 48zm45-40 5-52 5 0 3 21-5 1-5 44zm45-45 5-47 5 6 3 20-5-4-5 40z"/><path class=u transform=translate(-433,-202) d="m612 1677 5 14 5 8 5 0 5-8-3 20-5 50-5 10-5-35-5-64z"/><path transform=translate(-433,-202) d="m629 1711 5-63 5-47 5-7 5 37 3 49-5-8-5 0-5 8-5 11zm50-56 5-44 5-2 5 41 3 44-5-9-5-1-5 8zm44 2 5-40 5 2 5 45 4 39-5-9-5-1-5 7zm45-2 5-37 5 8 5 48 3 33-5-9-5-2-5 7zm45-6 5-33 5 12 5 51 3 28-5-10-5-2-5 7zm40 50 5-61 5-28 5 17 5 53 3 22-5-10-5-2-5 6-5 13zm45-17 5-58 5-24 5 21 5 56 3 16-5-10-5-4-5 6-5 13zm45-21 5-56 5-20 5 26 5 58 3 9-5-10-5-3-5 5-5 13zm45-26 5-53 5-15 5 30 5 59 3 3-5-9-5-4-5 5-5 12zm45-30 5-51 5-10 5 34 5 60 3-2-5-10-5-4-5 4-5 13zm45-34 5-48 5-5 5 37 3 43-5-4-5 3-5 13zm44-39 5-44 5-1 5 41 4 38-5-5-5 3-5 12zm45-44 5-40 5 4 5 44 3 32-5-5-5 3-5 11z"/><path class=u transform=translate(-430,-201) d="m612 1681 5-43 5-22 5 11 5 38 5 50-3-36-5 11-5 8-5 0-5-8-5-14z"/><path transform=translate(-430,-201) d="m634 1679 5-8 3 81-5-37z"/><path class=u transform=translate(-427,-199) d="m881 1658 5-55-3 39-5 33z"/><path transform=translate(-427,-199) d="m609 1679 5-43 3-26-5 73zm135 19 5-40 3-33-5 66zm44-3 5-38 4-35-5 63zm45-8 5-35 3-37-5 59zm220-58 5-46 3-29-5 75zm45-35 5-45 3-31-5 72zm45-40 5-43 3-34-5 70zm44-45 5-41 4-36-5 67z"/><path class=u transform=translate(-424,-198) d="m627 1612 5 51 5 65 5 48 5 10-3 19-5-12-5-60-5-81-5-64zm219 18 5 34-3-17-5-43zm45-6 5 38-3-16-5-48z"/><path transform=translate(-424,-198) d="m609 1682 5-73 5-37 5 16 3 24-5-13-5 29-5 58zm35 123 5-41 10-145 5-33 5 22 3 23-5-18-5 26-10 114-5 33zm55-113 5-69 5-27 5 28 3 22-5-22-5 21-5 54zm45-2 5-66 5-21 5 33 3 20-5-26-5 17-5 52zm45-6 5-63 5-16 5 38 3 19-5-30-5 13-5 49zm44-11 5-59 5-10 3 26-4 8-5 47zm45-16 5-55 5-4 3 26-5 4-5 44zm45-19 5-51 5 2 3 25-5-1-5 41zm45-24 5-46 5 7 3 25-5-5-5 36zm40 48 5-76 5-41 5 13 3 24-5-10-5 33-5 61zm45-34 5-75 5-36 5 19 3 23-5-14-5 29-5 60zm45-39 5-72 5-31 5 25 3 21-5-18-5 24-5 59zm45-43 5-70 5-25 5 30 3 20-5-23-5 21-5 56zm45-48 5-67 5-19 5 35 3 19-5-27-5 16-5 54z"/><path class=u transform=translate(-421,-197) d="m632 1691 5 10 5 8 5 3 5-3-3 43-5 33-5-10-5-48-5-65z"/><path transform=translate(-421,-197) d="m609 1685 5-58 5-29 5 13 5 51 3 29-5-8-5-4-5 2-5 6zm40 67 10-114 5-26 5 18 5 53 3 23-5-8-5-4-5 2-5 7-5 6zm50-54 5-54 5-21 5 22 5 55 3 17-5-8-5-4-5 2-5 6zm45 0 5-52 5-17 5 26 5 57 3 11-5-8-5-4-5 2-5 7zm45-5 5-49 5-13 5 30 3 56-5-4-5 1-5 7zm45-9 5-47 4-8 5 34 4 51-5-4-5 1-5 7zm44-13 5-44 5-4 5 38 3 45-5-4-5 1-5 7zm45-18 5-41 5 1 5 41 3 40-5-4-5 1-5 7zm45-23 5-36 5 5 5 44 3 34-5-4-5 1-5 7zm40 35 5-61 5-33 5 10 5 46 3 28-5-4-5 1-5 7-5 10zm45-32 5-60 5-29 5 14 5 49 3 22-5-4-5 1-5 7-5 10zm45-37 5-59 5-24 5 18 5 52 3 15-5-4-5 1-5 7-5 10zm45-42 5-56 5-21 5 23 5 53 3 9-5-3-5 1-5 6-5 11zm45-46 5-54 5-16 5 27 5 55 3 2-5-3-5 1-5 6-5 11z"/><path transform=translate(-418,-195) d="m609 1685 5-6 5-2 5 4 5 8 3 31-5 38-5 8-5-28-5-50z"/><path class=u transform=translate(-415,-194) d="m612 1690 5 77-3-30-5-50z"/><path class=u transform=translate(-412,-192) d="m612 1692 5 58 5 32 5-9-3 21-5 13-5-42-5-77zm50 79 5 28-3 24-5-35z"/><path transform=translate(-412,-192) d="m624 1794 5-60 5-78 5-57 5-9 3 32-5 6-5 43-5 58-5 44zm55-132 5-54 5-3 3 31-5 2-5 40zm45 1 5-49 5 3 3 30-5-3-5 37zm45-3 5-45 5 9 3 29-5-7-5 34zm45-8 5-40 5 15 3 28-5-11-5 30zm40 62 5-74 5-34 5 21 3 26-5-15-5 26-5 55zm45-19 5-70 5-29 5 26 3 25-5-19-5 22-5 53zm44-22 5-68 5-24 4 32-5 18-5 52zm45-28 5-64 5-18 5 37 3 22-5-27-5 14-5 49zm45-31 5-62 5-11 3 31-5 10-5 46zm45-37 5-57 5-5 3 30-5 6-5 43zm45-40 5-53 5 0 3 30-5 1-5 41zm45-45 5-48 5 6 3 29-5-3-5 37z"/><path class=u transform=translate(-409,-191) d="m612 1695 5 6 5 4 5 1 5-1-3 23-5 44-5 9-5-32-5-58z"/><path transform=translate(-409,-191) d="m629 1728 5-58 5-43 5-6 5 34 3 52-5-4-5-1-5 1-5 2zm50-51 5-40 5-2 5 38 3 47-5-4-5-1-5 2zm45 3 5-37 5 3 5 41 3 41-5-3-5-1-5 1zm45-1 5-34 5 7 5 44 3 35-5-3-5 0-5 2zm45-6 5-30 5 11 5 47 3 29-5-3-5 0-5 2zm40 45 5-55 5-26 5 15 5 49 3 23-5-2-5 0-5 2-5 4zm45-16 5-53 5-22 5 19 5 51 3 16-5-2-5 0-5 3-5 5zm45-20 5-52 5-18 5 24 5 52 3 10-5-2-5 1-5 3-5 5zm44-25 5-49 5-14 5 27 5 54 3 3-4-1-5 0-5 4-5 5zm45-30 5-46 5-10 5 31 3 51-5 0-5 4-5 5zm45-34 5-43 5-6 5 34 3 46-5 1-5 3-5 6zm45-38 5-41 5-1 5 38 3 39-5 2-5 3-5 6zm45-43 5-37 5 3 5 40 3 34-5 2-5 4-5 6z"/><path class=u transform=translate(-405,-189) d="m612 1698 5-49-4 50-5-6z"/><path class=u transform=translate(-402,-188) d="m637 1752 5 61-3-36-5-42zm334-120 5-46-3 32-5 32zm45-28 5-41-3 32-5 29z"/><path transform=translate(-402,-188) d="m609 1697 5-49 3-20-5 73zm179 13 5-43 3-28-5 63zm45-8 5-41 3-29-5 59zm45-13 5-38 3-31-5 56zm45-17 5-36 3-31-5 51zm129-26 5-52 4-23-5 76zm45-36 5-51 3-24-5 73zm45-40 5-50 3-26-5 70zm45-46 5-47 3-28-5 67z"/><path class=u transform=translate(-399,-186) d="m627 1636 5 46 5 59 5 44 5 9 5-29-3 16-5 42-5-12-5-61-5-82-5-64zm309 3 5 37-3-19-5-52zm45-14 5 39-3-16-5-57zm45-19 5 42-3-14-5-60z"/><path transform=translate(-399,-186) d="m609 1699 5-73 5-38 5 16 3 32-5-12-5 27-5 51zm40 82 10-146 5-33 5 22 3 31-5-16-5 23-10 103zm49-72 5-69 5-28 5 28 3 29-4-20-5 19-5 49zm45-2 5-67 5-21 5 33 3 27-5-23-5 15-5 47zm45-7 5-63 5-16 5 39 3 25-5-27-5 11-5 45zm45-11 5-59 5-10 5 43 3 23-5-30-5 7-5 42zm45-15 5-56 5-4 5 48 3 21-5-34-5 4-5 39zm45-20 5-51 5 2 3 34-5-1-5 37zm45-24 5-46 5 7 3 34-5-5-5 33zm40 49 5-77 5-41 5 13 3 32-5-9-5 30-5 56zm45-34 5-76 5-36 5 19 3 31-5-13-5 27-5 54zm44-39 5-73 5-31 5 25 3 29-4-17-5 23-5 53zm45-44 5-70 5-25 5 30 3 27-5-20-5 19-5 51zm45-48 5-67 5-19 5 36 3 24-5-23-5 15-5 48z"/><path class=u transform=translate(-396,-185) d="m632 1712 15 3-3 78-5-9-5-44-5-59z"/><path transform=translate(-396,-185) d="m609 1701 5-51 5-27 5 12 5 46 3 31-5-2-5-1-10-6zm50-40 5-23 3 86-5-2zm40 55 5-49 5-19 4 20 4 67-5 0-5-1-5-2zm44 1 5-47 5-15 5 23 3 63-5 0-10-2zm45-4 5-45 5-11 5 27 3 58-15 0zm45-9 5-42 5-7 5 30 3 53-10 2-5-1zm45-13 5-39 5-4 5 34 3 47-5 2-10 2zm45-17 5-37 5 1 5 37 3 41-10 4-5 1zm45-22 5-33 5 5 5 39 3 35-5 3-10 4zm45-26 5-30 5 9 5 42 3 29-10 6-5 2zm40 24 5-54 5-27 5 13 5 44 3 22-10 8-5 2-5 3zm45-36 5-53 5-23 4 17 5 46 4 15-5 5-5 4-10 6zm44-41 5-51 5-19 5 20 5 48 3 9-5 5-15 12zm45-46 5-48 5-15 5 23 5 49 3 2-5 6-10 10-5 4z"/><path transform=translate(-393,-184) d="m609 1702 10 6 5 1 3 75-5 8-5-31-5-57z"/><path class=u transform=translate(-390,-182) d="m612 1705 5 78-3-24-5-57z"/><path transform=translate(-390,-182) d="m988 1670 5-48 3-24-5 65zm45-30 5-45 3-25-5 61zm45-34 5-42 3-26-5 57zm45-38 5-39 3-27-5 53z"/><path class=u transform=translate(-387,-181) d="m612 1708 5 53 5 28 5-7-3 29-5 13-5-42-5-78z"/><path transform=translate(-387,-181) d="m624 1811 5-60 5-78 5-58 5-8 5 45 3 26-5-31-5 6-5 38-5 51-5 40zm55-133 5-53 5-3 5 50 3 24-5-34-5 1-5 36zm45 1 5-49 5 3 3 39-5-2-5 33zm45-3 5-44 5 9 3 37-5-6-5 30zm44-7 5-40 5 15 4 36-5-10-5 27zm45-12 5-34 5 20 3 35-5-14-5 23zm40 55 5-71 5-29 5 26 3 33-5-17-5 20-5 47zm45-23 5-68 5-23 5 31 3 31-5-21-5 17-5 46zm45-27 5-65 5-18 5 37 3 29-5-24-5 12-5 44zm45-32 5-61 5-12 5 42 3 26-5-27-5 9-5 41zm45-36 5-57 5-6 5 47 3 23-5-30-5 5-5 39zm45-40 5-53 5 0 3 39-5 1-5 36zm45-45 5-48 5 6 3 37-5-2-5 33z"/><path class=u transform=translate(-384,-179) d="m612 1711 5-3 5-1 5 3 5 6-3 24-5 40-5 7-5-28-5-53z"/><path transform=translate(-384,-179) d="m629 1740 5-51 5-38 5-6 5 31 3 54-5 2-5-3-10-13zm50-43 5-36 5-1 3 84-5-1-5-5zm45 4 5-33 5 2 5 37 3 42-5 3-5 0-5-4zm45-1 5-30 5 6 5 39 3 37-5 4-5 0-5-3zm45-5 5-27 5 10 5 41 3 30-5 5-5 1-5-2zm44-10 5-23 5 14 5 43 4 23-5 6-5 2-5-1zm40 34 5-47 5-20 5 17 3 68-5 3-5 0-5-4zm45-19 5-46 5-17 5 21 3 63-5 4-5 1-5-3zm45-25 5-44 5-12 5 24 3 58-5 5-5 1-5-2zm45-29 5-41 5-9 5 27 3 53-5 6-5 2-5-1zm45-33 5-39 5-5 5 30 3 47-5 7-5 3-5 0zm45-38 5-36 5-1 5 32 3 41-5 8-5 4-5 1zm45-42 5-33 5 2 5 35 3 35-5 9-5 5-5 1z"/><path class=u transform=translate(-381,-178) d="m612 1714 5-55-3 48-5 3z"/><path class=u transform=translate(-378,-176) d="m662 1652 5-33-3 23-5 25z"/><path transform=translate(-378,-176) d="m609 1712 5-55 5-29 3-23-5 38-5 73zm90 14 5-52 3-17-5 69zm45 0 5-50 3-19-5 67zm45-4 5-48 3-20-5 63zm45-9 5-46 3-20-5 59zm45-13 5-43 3-21-5 55zm44-18 5-40 4-22-5 51zm45-22 5-36 3-23-5 46zm130-36 5-57 3-17-5 73zm45-42 5-54 3-19-5 70zm45-46 5-52 3-20-5 67z"/><path class=u transform=translate(-375,-175) d="m627 1660 5 41 5 52 5 38 5 9 5-26-3 23-5 41-5-12-5-61-5-81-5-64zm45 18 5 43-3-14-5-67zm354-48 5 36-3-16-5-60zm45-24 5 39-3-13-5-64zm45-27 5 39-3-9-5-66z"/><path transform=translate(-375,-175) d="m609 1715 5-73 5-38 5 16 3 40-5-11-5 23-5 45zm40 82 10-146 5-33 5 22 3 38-5-14-5 20-10 90zm50-72 5-69 5-28 5 28 3 36-5-17-5 16-5 43zm45-2 5-67 5-21 5 33 3 34-5-21-5 13-5 41zm45-7 5-63 5-16 5 39 3 31-5-24-5 10-5 39zm45-11 5-59 5-10 5 43 3 29-5-27-5 6-5 38zm45-15 5-55 5-5 5 48 3 26-5-30-5 3-5 35zm45-20 5-51 5 2 5 52 3 23-5-32-5-1-5 33zm44-24 5-46 5 7 5 57 3 19-5-34-4-4-5 30zm45-28 5-41 5 13 3 40-5-8-5 27zm40 42 5-75 5-36 5 19 3 38-5-10-5 23-5 48zm45-38 5-73 5-31 5 25 3 36-5-14-5 20-5 47zm45-44 5-70 5-25 5 30 3 34-5-18-5 17-5 46zm45-48 5-67 5-19 5 36 3 30-5-20-5 14-5 43z"/><path class=u transform=translate(-372,-174) d="m632 1731 5-8 5-6 5 0-3 82-5-9-5-38-5-52z"/><path transform=translate(-372,-174) d="m609 1716 5-45 5-23 5 11 5 41 3 31-5 6-5 0-5-7-5-12zm135 18 5-41 5-13 3 89-5-3-5-9zm45-3 5-39 5-10 5 24 3 60-5 5-5-2-5-8zm45-7 5-38 5-6 5 27 3 54-5 6-5 0-5-7zm45-13 5-35 5-3 5 30 3 48-5 8-5 1-5-6zm45-16 5-33 5 1 5 32 3 42-5 9-5 2-5-5zm45-21 5-30 4 4 5 34 4 36-5 10-5 3-5-3zm44-26 5-27 5 8 5 36 3 30-5 10-5 5-5-2zm45-30 5-23 5 10 5 39 3 22-5 12-5 6-5-1zm40 13 5-47 5-20 5 14 5 39 3 16-5 13-5 7-5 1-5-6zm45-40 5-46 5-17 5 18 5 41 3 9-5 13-5 9-5 1-5-4zm45-45 5-43 5-14 5 20 3 59-5 9-5 3-5-3z"/><path class=u transform=translate(-368,-172) d="m612 1718 5 62-4-52-5-12z"/><path class=u transform=translate(-365,-171) d="m612 1720 5 76-3-17-5-62z"/><path transform=translate(-365,-171) d="m634 1694 5-46 3-16-5 57zm44 7 5-43 3-17-5 53zm45 3 5-40 3-17-5 49zm45-2 5-36 3-18-5 44zm45-6 5-32 3-18-5 39zm130 11 5-55 3-14-5 67zm45-25 5-53 3-15-5 64zm45-30 5-50 3-16-5 60zm44-35 5-46 3-17-5 56zm45-39 5-43 3-17-5 52zm45-43 5-39 3-18-5 47z"/><path class=u transform=translate(-362,-169) d="m612 1721 5 46 5 25 5-6-3 38-5 12-5-42-5-76z"/><path transform=translate(-362,-169) d="m624 1824 5-60 5-77 5-57 5-9 5 45 3 32-5-27-5 4-5 33-5 44-5 34zm54-132 5-53 5-2 4 48-5 1-5 31zm45 2 5-49 5 3 5 54 3 25-5-32-5-2-5 28zm45-4 5-44 5 9 5 58 3 21-5-33-5-6-5 26zm45-7 5-39 5 14 3 44-5-8-5 23zm40 61 5-73 5-34 5 21 3 41-5-11-5 20-5 43zm45-18 5-70 5-29 5 26 3 39-5-15-5 18-5 41zm45-23 5-67 5-24 5 32 3 36-5-17-5 14-5 40zm45-27 5-64 5-18 5 37 3 33-5-20-5 11-5 39zm45-32 5-60 5-12 5 41 3 31-5-23-5 8-5 37zm44-36 5-56 5-6 5 46 4 27-5-25-5 5-5 34zm45-40 5-52 5 0 5 50 3 24-5-28-5 2-5 32zm45-45 5-47 5 6 5 54 3 20-5-29-5-2-5 30z"/><path class=u transform=translate(-359,-168) d="m612 1725 5-12 5-6 5 5 5 13-3 26-5 34-5 6-5-25-5-46z"/><path transform=translate(-359,-168) d="m629 1751 5-44 5-33 5-4 3 89-5-4-5-13-5-17zm184-35 5-23 5 8 3 78-5 3-5-7zm45-9 5-20 5 11 3 74-5 5-5-5zm40 28 5-41 5-18 5 15 3 70-5 6-5-3-5-12zm45-19 5-40 5-14 5 17 3 65-5 9-5-3-5-10zm45-23 5-39 5-11 5 20 3 60-5 10-5 0-5-10zm45-28 5-37 5-8 5 23 3 54-5 12-5 1-5-8zm45-33 5-34 5-5 5 25 3 49-5 12-5 3-5-6zm44-37 5-32 5-2 5 28 4 42-5 14-5 5-5-5zm45-41 5-30 5 2 5 29 3 36-5 15-5 7-5-4z"/><path transform=translate(-356,-166) d="m609 1723 5-12 3-45-5 61z"/><path class=u transform=translate(-353,-165) d="m637 1779 5 60-3-18-5-51zm115-107 5-21-3 14-5 18z"/><path transform=translate(-353,-165) d="m609 1726 5-61 5-31 3-14-5 37-5 72zm50-51 5-27 3-14-5 33zm40 64 5-58 5-23 3-13-5 27-5 67zm45-1 5-55 3-11-5 65zm44-5 5-53 4-11-5 62zm45-10 5-49 3-12-5 58zm45-14 5-46 3-12-5 54zm45-18 5-43 3-13-5 50zm45-23 5-39 3-13-5 45zm45-27 5-35 3-13-5 40zm45-31 5-31 3-13-5 35zm40 26 5-62 5-26 3-13-5 30-5 71zm45-42 5-59 3-11-5 69zm44-47 5-56 5-17 4-13-5 19-5 65z"/><path class=u transform=translate(-350,-163) d="m632 1716 5 44 5 33 5 8 5-22-3 29-5 41-5-12-5-60-5-80zm40-17 5 37-3-16-5-66zm45 14 5 37-3-11-5-69zm45 9 5 38-3-7-5-71zm354-123 5 33-3-10-5-65zm45-33 5 34-3-6-5-67zm45-37 5 35-3-2-5-69z"/><path transform=translate(-350,-163) d="m609 1727 5-72 5-37 5 16 5 63 3 19-5-34-5-10-5 19-5 38zm40 81 10-143 5-33 5 22 3 45-5-12-5 17-10 75zm50-71 5-67 5-27 5 27 3 43-5-15-5 14-5 36zm45-2 5-65 5-21 5 33 3 40-5-18-5 11-5 35zm45-6 5-62 5-16 5 38 3 37-5-20-5 8-5 34zm44-11 5-58 5-10 5 42 3 34-5-23-4 6-5 32zm45-15 5-54 5-5 5 48 3 30-5-25-5 3-5 29zm45-20 5-50 5 2 5 51 3 27-5-27-5 0-5 27zm45-24 5-45 5 7 5 56 3 22-5-28-5-3-5 25zm45-28 5-40 5 13 5 59 3 19-5-31-5-6-5 23zm40 42 5-74 5-35 5 18 5 62 3 15-5-32-5-8-5 20-5 41zm45-39 5-71 5-30 5 24 3 42-5-11-5 17-5 41zm45-43 5-69 5-24 5 29 3 39-5-14-5 15-5 39zm45-48 5-65 5-19 5 34 3 36-5-16-5 12-5 37z"/><path class=u transform=translate(-347,-162) d="m632 1747 5-18 5-12 5-1-3 84-5-8-5-33-5-44z"/><path transform=translate(-347,-162) d="m609 1728 5-38 5-19 5 10 5 34 3 32-5 13-5 2-5-12-5-20zm269 0 5-29 5-3 3 87-5 0-5-12zm45-16 5-27 5 0 5 27 3 43-5 15-5 2-5-10zm45-20 5-25 5 3 3 81-5 5-5-9zm45-25 5-23 5 6 3 78-5 7-5-7zm45-29 5-20 5 8 3 74-5 9-5-5zm40 7 5-41 5-17 5 11 3 70-5 10-5-3-5-13zm45-40 5-39 5-15 5 14 3 65-5 13-5-1-5-12zm45-44 5-37 5-12 5 16 3 60-5 14-5 1-5-10z"/><path class=u transform=translate(-344,-161) d="m612 1730 5 68-3-49-5-20z"/><path class=u transform=translate(-341,-159) d="m612 1731 5 75 5 40-3-14-5-36-5-68zm50 97 5 35-3-14-5-31zm379-229 5-11-3 8-5 11z"/><path transform=translate(-341,-159) d="m634 1703 5-50 3-7-5 55zm45 6 5-46 3-8-5 52zm45 2 5-42 3-8-5 47zm45-2 5-39 3-8-5 43zm45-7 5-34 3-8-5 38zm45-10 5-30 3-9-5 33zm45-15 4-26 4-8-5 28zm39 40 5-60 5-20 3-9-5 23-5 66zm45-26 5-57 5-16 3-8-5 17-5 63zm45-31 5-53 3-8-5 59zm45-35 5-50 3-8-5 56zm45-39 5-47 3-8-5 51zm45-44 5-42 3-8-5 46z"/><path class=u transform=translate(-338,-158) d="m612 1733 5 38 5 21 5-4 5-28-3 15-5 58-5 12-5-40-5-75zm40-17 10 75 5 18-3 53-5-35-10-147zm354-32 5 33-3-3-5-69z"/><path transform=translate(-338,-158) d="m629 1775 5-75 5-55 5-9 5 44 3 36-5-22-5 3-5 27-5 36zm50-69 5-52 5-3 5 49 3 32-5-24-5 0-5 25zm45 1 5-47 5 3 5 52 3 29-5-27-5-1-5 23zm45-3 5-43 5 9 5 56 3 25-5-28-5-5-5 22zm45-7 5-38 5 14 5 60 3 20-5-29-5-7-5 19zm40 59 5-71 5-33 5 20 5 63 3 16-5-31-5-9-5 17-5 35zm45-18 5-68 5-28 5 25 3 45-5-11-5 14-5 35zm44-22 5-66 5-23 5 31 4 42-5-14-5 12-5 34zm45-27 5-63 5-17 5 36 3 39-5-17-5 10-5 32zm45-32 5-59 5-11 5 40 3 36-5-19-5 7-5 31zm45-35 5-56 5-5 5 44 3 32-5-20-5 4-5 29zm45-41 5-51 5 0 5 49 3 28-5-22-5 2-5 27zm45-44 5-46 5 5 5 53 3 23-5-23-5-1-5 25z"/><path class=u transform=translate(-335,-156) d="m612 1735 5-20 5-10 5 6 5 21-3 26-5 28-5 4-5-21-5-38z"/><path transform=translate(-335,-156) d="m629 1758 5-36 5-27 5-3 3 90-5-5-5-20-5-25zm325-74 5 14 3 66-5 12zm34 23 5-32 5-10 5 17 4 60-5 14-5-2-5-16zm45-27 5-31 5-7 5 19 3 54-5 17-5 0-5-15zm45-32 5-29 5-4 5 20 3 49-5 18-5 3-5-13zm45-36 5-27 5-2 5 22 3 42-5 21-5 5-5-11zm45-41 5-25 5 1 5 23 3 36-5 22-5 8-5-9z"/><path transform=translate(-331,-155) d="m608 1734 5-20 4-41-5 65z"/><path class=u transform=translate(-328,-153) d="m637 1787 5 58 5 12-4-9-4-11-5-55z"/><path transform=translate(-328,-153) d="m609 1736 5-65 5-34 3-3-5 36-5 69zm49-55 5-30 4-3-5 31zm45 5 5-24 3-4-5 26zm40 61 5-60 5-19 3-3-5 20-5 63zm45-6 5-56 5-15 3-3-5 15-5 60zm45-10 5-53 5-9 3-4-5 10-5 56zm45-14 5-50 3-3-5 52zm45-19 5-46 3-3-5 48zm45-24 5-41 3-3-5 44zm45-27 5-37 3-4-5 40zm44-32 5-32 4-4-5 35zm40 30 5-66 5-27 3-4-5 29-5 70zm45-43 5-63 5-22 3-4-5 24-5 66zm45-47 5-60 5-17 3-4-5 19-5 63z"/><path class=u transform=translate(-325,-152) d="m632 1731 5 36 5 27 5 6 5-17-3 33-5 40-5-12-5-58-5-77z"/><path transform=translate(-325,-152) d="m609 1738 5-69 5-36 5 15 5 61 3 22-5-28-5-8-5 15-5 29zm40 78 10-138 5-31 5 21 5 64 3 17-5-29-5-11-5 14-10 60zm49-68 5-65 5-26 5 27 3 48-4-12-5 11-5 29zm45-1 5-63 5-20 5 31 3 46-5-15-5 9-5 28zm45-6 5-60 5-15 5 36 3 42-5-16-5 7-5 27zm45-11 5-56 5-10 5 42 3 38-5-19-5 5-5 26zm45-15 5-52 5-4 5 45 3 34-5-19-5 2-5 24zm45-19 5-48 5 1 5 50 3 30-5-22-5 1-5 22zm45-23 5-44 5 7 5 53 3 25-5-22-5-2-5 21zm45-28 5-40 5 13 5 57 3 21-5-24-5-4-5 19zm40 39 5-71 5-35 5 18 5 60 3 16-5-25-5-6-5 17-5 34zm44-38 5-70 5-29 5 23 5 63 3 11-5-26-4-8-5 15-5 33zm45-44 5-66 5-24 5 28 3 45-5-10-5 13-5 32zm45-47 5-63 5-19 5 33 3 41-5-12-5 11-5 31z"/><path class=u transform=translate(-322,-150) d="m632 1760 5-26 5-19 5-2-3 85-5-6-5-27-5-36z"/><path transform=translate(-322,-150) d="m609 1737 5-29 5-15 5 8 5 28 3 31-5 20-5 4-5-17-5-28zm454-98 5 6 3 75-5 11zm40-16 5-15 4 8 4 71-5 13-5-5zm39-5 5-32 5-13 5 10 3 65-5 17-5-3-5-20zm45-43 5-31 5-11 5 12 3 60-5 19-5 0-5-18z"/><path class=u transform=translate(-319,-149) d="m612 1739 5 71-3-44-5-28z"/><path class=u transform=translate(-316,-148) d="m612 1741 5 71 5 39-3-3-5-39-5-71zm50 94 5 33-3-3-5-33z"/><path transform=translate(-316,-148) d="m634 1710 5-53 5-7 3 1-5 8-5 53zm45 6 5-49 5-2 3 1-5 3-5 49zm45 2 5-45 3 1-5 46zm45-3 5-41 3 2-5 41zm44-7 5-36 3 2-5 36zm45-11 5-31 3 1-5 32zm40 50 5-65 5-27 3 2-5 27-5 66zm45-22 5-63 5-21 3 2-5 21-5 64zm45-26 5-60 5-17 3 2-5 17-5 60zm45-31 5-57 5-11 3 2-5 11-5 57zm45-36 5-53 5-5 3 1-5 6-5 53zm45-40 5-48 5-1 3 2-5 0-5 49zm45-44 5-44 3 2-5 44z"/><path class=u transform=translate(-313,-146) d="m612 1742 5 30 5 17 5-4 5-21-3 19-5 55-5 11-5-39-5-71zm349-25 5 25-3-7-5-65zm45-17 5 25-3-2-5-67zm45-22 5 26-3 3-5-69z"/><path transform=translate(-313,-146) d="m629 1783 5-73 5-53 5-8 5 42 3 41-5-18-5 2-5 21-5 27zm50-67 5-49 5-3 5 47 3 36-5-19-5 0-5 19zm45 2 5-46 5 3 5 51 3 32-5-21-5-1-5 17zm45-3 5-41 5 8 5 55 3 27-5-22-5-3-5 16zm44-7 5-36 5 13 5 58 4 22-5-22-5-6-5 15zm40 57 5-68 5-32 5 19 5 61 3 17-5-23-5-8-5 14-5 27zm45-17 5-66 5-27 5 24 5 63 3 13-5-25-5-9-5 12-5 27zm45-22 5-64 5-21 5 29 3 47-5-10-5 10-5 26zm45-27 5-60 5-17 5 34 3 44-5-12-5 8-5 25zm45-31 5-57 5-11 5 38 3 40-5-14-5 7-5 24zm45-36 5-53 5-6 5 43 3 36-5-15-5 4-5 23zm45-40 5-49 5 0 5 47 3 31-5-17-5 3-5 22zm40 31 5-75 5-44 5 5 5 50 3 26-5-17-5 0-5 21-5 33z"/><path class=u transform=translate(-310,-145) d="m612 1745 5-29 5-14 5 7 5 28-3 26-5 21-5 4-5-17-5-30z"/><path transform=translate(-310,-145) d="m629 1763 5-27 5-21 5-2 3 90-5-6-5-26-5-34zm499-157 5-3 3 85-5 6zm40-18 5-21 5 0 3 82-5 8-5-13z"/><path transform=translate(-307,-143) d="m609 1743 5-29 3-37-5 69z"/><path class=u transform=translate(-304,-142) d="m637 1794 5 55 5 11-3 2-5-11-5-58zm384-174 5 12-3-6-5-13z"/><path transform=translate(-304,-142) d="m609 1745 5-69 5-35 3 6-5 34-5 66zm50-59 5-31 3 7-5 29zm45 5 5-26 3 7-5 25zm40 63 5-62 5-21 3 7-5 20-5 60zm45-6 5-59 5-15 3 7-5 14-5 57zm45-10 5-56 5-10 3 7-5 9-5 54zm45-15 5-52 5-4 3 6-5 4-5 50zm44-19 5-48 5 1 4 6-5-1-5 46zm45-24 5-44 5 7 3 7-5-7-5 42zm45-28 5-39 3 7-5 38zm45-32 5-34 3 7-5 33zm40 33 5-69 5-29 3 7-5 28-5 66zm45-43 5-66 5-24 3 7-5 23-5 63zm45-48 5-63 5-18 3 7-5 17-5 61z"/><path class=u transform=translate(-301,-140) d="m632 1742 5 27 5 21 5 5 5-12-3 38-5 37-5-11-5-55-5-74z"/><path transform=translate(-301,-140) d="m609 1745 5-66 5-34 5 15 5 58 3 24-5-21-5-7-5 11-5 21zm40 76 10-132 5-29 5 20 3 57-5-8-5 9-10 45zm55-126 5-25 5 25 3 54-5-9-5 8zm40 61 5-60 5-20 5 30 3 51-5-11-5 6-5 21zm45-6 5-57 5-14 5 34 3 47-5-12-5 5-5 20zm45-10 5-54 5-9 5 39 3 42-5-13-5 4-5 19zm45-15 5-50 5-4 5 44 3 37-5-14-5 2-5 18zm45-19 5-46 5 1 5 48 3 33-5-16-5 1-5 17zm44-23 5-42 5 7 5 51 3 27-5-16-4-1-5 16zm45-27 5-38 5 12 5 54 3 23-5-18-5-2-5 15zm45-32 5-33 5 17 5 57 3 17-5-18-5-3-5 13zm40 30 5-66 5-28 5 22 5 59 3 12-5-18-5-5-5 12-5 25zm45-43 5-63 5-23 5 27 3 49-5-7-5 11-5 25zm45-47 5-61 5-17 5 31 3 45-5-7-5 9-5 24z"/><path class=u transform=translate(-298,-139) d="m637 1737 5-25 5-4-3 86-5-5-5-21z"/><path transform=translate(-298,-139) d="m609 1745 5-21 5-11 5 7 5 21 5 27 3-31-5 35-5 27-5 5-5-21-5-37zm584-182 5-9 3 90-5-2z"/><path class=u transform=translate(-294,-138) d="m612 1747 5 74-4-39-5-37z"/><path class=u transform=translate(-291,-136) d="m612 1747 5 68 5 37-3 7-5-40-5-74zm50 90 5 32-4 7-5-34z"/><path transform=translate(-291,-136) d="m619 1859 5-12 5-57 5-75 5-55 4-8 4 11-5 8-5 50-5 68-5 52-5 11zm59-138 5-51 5-3 3 11-5 3-5 46zm45 1 5-47 5 3 3 11-5-3-5 43zm45-3 5-42 5 8 3 11-5-8-5 39zm45-7 5-38 5 14 3 11-5-13-5 34zm45-11 5-33 3 11-5 31zm40 52 5-68 5-28 3 12-5 26-5 62zm45-22 5-66 5-22 3 12-5 20-5 60zm45-27 5-62 5-17 3 11-5 16-5 57zm45-32 5-58 4-12 4 12-5 10-5 54zm44-35 5-55 5-6 3 11-5 6-5 50zm45-41 5-50 5 0 3 11-5 0-5 47zm45-44 5-46 5 5 3 11-5-4-5 42z"/><path class=u transform=translate(-288,-135) d="m612 1749 5 22 5 12 5-2 5-14-3 21-5 52-5 11-5-37-5-68z"/><path transform=translate(-288,-135) d="m629 1788 5-68 5-50 5-8 5 40 3 45-5-13-5 1-5 13-5 19zm49-62 5-46 5-3 4 70-5 0-5 13zm45 2 5-43 5 3 3 68-5-1-5 12zm45-2 5-39 5 8 3 65-5-2-5 11zm45-7 5-34 5 13 3 62-5-3-5 10zm45-10 5-31 5 18 3 60-5-5-5 10zm40 47 5-62 5-26 5 23 5 59 3 14-5-17-5-6-5 9-5 19zm45-22 5-60 5-20 5 27 5 62 3 7-5-17-5-7-5 8-5 19zm45-26 5-57 5-16 5 32 3 48-5-8-5 7-5 18zm45-31 5-54 5-10 5 36 3 43-5-8-5 5-5 18zm44-35 5-50 5-6 5 41 4 38-5-9-5 4-5 17zm45-39 5-47 5 0 5 44 3 33-5-10-5 3-5 17zm45-44 5-42 5 4 5 48 3 28-5-11-5 2-5 16z"/><path class=u transform=translate(-285,-133) d="m612 1751 5-37 5-18 5 9 5 34-3 26-5 14-5 2-5-12-5-22z"/><path transform=translate(-282,-132) d="m609 1750 5-37 3-32-5 71zm533-123 5-38 4-41-5 68z"/><path class=u transform=translate(-279,-130) d="m627 1673 5 54 5 70 5 52 5 10-3 13-5-12-5-60-5-80-5-62zm85 11 5 23-3-13-5-27zm45 6 5 28-3-13-5-32zm399-152 5 25-3-12-5-29z"/><path transform=translate(-279,-130) d="m609 1750 5-71 5-37 5 16 3 15-5-14-5 32-5 61zm50-62 5-32 5 22 3 14-5-19-5 28zm45 5 5-26 3 17-5 23zm40 66 5-65 5-21 3 17-5 18-5 56zm44-6 5-62 5-16 4 17-5 14-5 53zm45-11 5-58 5-10 3 16-5 9-5 50zm45-15 5-54 5-5 3 17-5 3-5 47zm45-20 5-50 5 2 3 16-5-1-5 43zm45-24 5-45 5 7 3 16-5-6-5 39zm45-28 5-40 5 13 3 15-5-11-5 35zm40 41 5-73 5-35 5 18 3 14-5-15-5 31-5 64zm45-38 5-71 5-30 5 24 3 13-5-20-5 26-5 62zm45-44 5-68 5-24 3 16-5 22-5 60zm44-48 5-65 5-18 4 16-5 17-5 57z"/><path class=u transform=translate(-276,-129) d="m632 1752 5 18 5 14 5 4 5-7-3 42-5 35-5-10-5-52-5-70z"/><path transform=translate(-276,-129) d="m609 1751 5-61 5-32 5 14 5 54 3 26-5-14-5-5-5 6-5 13zm40 72 10-123 5-28 3 76-5 5-10 28zm55-117 5-23 3 76-5 4zm45 1 5-18 3 76-5 4zm40 51 5-53 5-14 5 33 3 50-5-8-5 4-5 12zm49-60 5-9 5 37 3 46-5-9-4 3zm45-11 5-3 5 40 3 41-5-9-5 2zm40 29 5-43 5 1 5 44 3 35-5-9-5 1-5 12zm45-23 5-39 5 6 5 47 3 30-5-10-5 1-5 11zm45-27 5-35 5 11 5 50 3 24-5-10-5 0-5 10zm40 33 5-64 5-31 5 15 5 53 3 19-5-10-5-2-5 10-5 18zm45-38 5-62 5-26 5 20 5 55 3 13-5-10-5-2-5 9-5 17zm45-42 5-60 5-22 5 25 5 58 3 6-5-10-5-3-5 9-5 17zm45-47 5-57 5-17 5 29 5 59 3 1-5-10-5-4-5 8-5 17z"/><path transform=translate(-273,-127) d="m609 1750 5-13 5-6 5 5 5 14 3 30-5 33-5 7-5-25-5-44z"/><path class=u transform=translate(-270,-126) d="m612 1751 5 76-3-33-5-44z"/><path class=u transform=translate(-267,-125) d="m612 1752 5 63 5 35 5-10-3 15-5 13-5-42-5-76zm50 85 5 29 5-15-3 14-5 19-5-35zm45 16 5 24-3 19-5-29z"/><path transform=translate(-267,-125) d="m624 1855 5-59 5-77 5-57 5-8 3 21-5 7-5 47-5 63-5 48zm45 10 5-63 5-77 5-53 5-3 3 21-5 2-5 44-5 63-5 52zm55-139 5-49 5 3 3 21-5-3-5 40zm45-3 5-44 5 9 3 19-5-7-5 36zm45-8 5-39 5 15 3 19-5-12-5 32zm45-11 5-34 5 20 3 18-5-16-5 28zm40 54 5-70 4-29 4 22-5 24-5 58zm44-23 5-67 5-23 3 22-5 19-5 56zm45-27 5-64 5-17 3 21-5 15-5 53zm45-32 5-60 5-12 3 22-5 10-5 50zm45-36 5-56 5-6 3 21-5 6-5 47zm45-40 5-52 5 0 3 20-5 1-5 44zm45-45 5-47 5 6 3 20-5-4-5 39z"/><path class=u transform=translate(-264,-123) d="m612 1753 5 13 5 8 5 0 5-7-3 23-5 48-5 10-5-35-5-63z"/><path transform=translate(-264,-123) d="m629 1790 5-63 5-47 5-7 5 37 3 48-5-8-5 0-5 7-5 10zm185-62 5-32 3 78-5 6zm45-10 5-28 5 16 3 64-5-2-5 6zm45-15 5-24 5 21 3 61-5-3-5 5zm39 37 5-56 5-19 5 25 4 56-5-3-5 5-5 12zm45-26 5-53 5-15 5 30 3 51-5-3-5 5-5 11zm45-30 5-50 5-10 5 33 3 47-5-4-5 4-5 12zm45-34 5-47 5-6 5 37 3 42-5-4-5 4-5 11zm45-39 5-44 5-1 5 41 3 36-5-4-5 3-5 11zm45-44 5-39 5 4 5 43 3 31-5-5-5 3-5 11z"/><path class=u transform=translate(-261,-122) d="m612 1755 5-44 5-22 5 11 5 39-3 27-5 7-5 0-5-8-5-13z"/><path class=u transform=translate(-257,-120) d="m637 1806 5 61-4-41-5-38z"/><path transform=translate(-257,-120) d="m608 1753 5-44 4-26-5 73z"/><path class=u transform=translate(-254,-119) d="m627 1684 5 50 5 63 5 48 5 10-4 23-4-12-5-61-5-81-5-64zm59 178 5 4-3 22-5-5zm160-160 5 33-3-16-5-43zm45-6 5 37-3-15-5-48z"/><path transform=translate(-254,-119) d="m609 1755 5-73 5-38 5 16 3 24-5-14-5 29-5 57zm49-64 5-33 5 22 4 22-5-17-5 25zm45 5 5-28 5 28 3 21-5-22-5 21zm40 66 5-66 5-21 5 33 3 19-5-25-5 16-5 52zm45-6 5-63 5-16 5 38 3 19-5-30-5 12-5 49zm50-70 5-10 3 26-5 8zm40 44 5-55 5-5 3 26-5 3-5 44zm45-20 5-51 5 2 3 25-5-1-5 40zm45-24 5-46 5 7 3 24-5-5-5 36zm40 49 5-77 5-41 5 13 3 23-5-10-5 33-5 61zm44-35 5-75 5-36 5 19 4 22-5-14-5 29-5 59zm45-39 5-72 5-31 5 25 3 21-5-19-5 25-5 57zm45-43 5-70 5-25 5 30 3 20-5-23-5 20-5 56zm45-48 5-67 5-19 5 35 3 18-5-26-5 16-5 53z"/><path class=u transform=translate(-251,-117) d="m632 1759 5 9 5 7 5 2 5-2-3 46-5 32-5-10-5-48-5-63z"/><path transform=translate(-251,-117) d="m609 1754 5-57 5-29 5 14 5 50 3 27-5-7-5-4-5 2-5 4zm94-40 5-21 4 81-5 2zm175 27 5-44 5-3 3 77-5 2-5 5zm45-18 5-40 5 1 5 40 3 38-5-3-5 1-5 6zm45-23 5-36 5 5 5 44 3 32-5-3-5 1-5 6zm45-26 5-33 5 10 5 46 3 26-5-3-5 1-5 6zm40 28 5-59 5-29 5 14 5 49 3 20-5-3-5 1-5 6-5 10zm44-37 5-57 5-25 5 19 5 50 3 14-5-3-4 1-5 6-5 10zm45-41 5-56 5-20 5 23 5 52 3 7-5-2-5 1-5 6-5 10zm45-46 5-53 5-16 5 26 5 54 3 0-5-1-5 1-5 6-5 10z"/><path transform=translate(-248,-116) d="m609 1753 5-4 5-2 5 4 3 75-5 7-5-28-5-51z"/><path class=u transform=translate(-245,-114) d="m612 1753 5 77-3-27-5-51z"/><path class=u transform=translate(-242,-113) d="m612 1754 5 57 5 32 5-9-3 25-5 12-5-42-5-77zm50 79 5 26 5-14-3 23-5 20-5-36zm45 16 5 21 5-18-3 21-5 26-5-29zm45 10 5 17-3 29-5-23z"/><path transform=translate(-242,-113) d="m624 1859 5-60 5-78 5-58 5-9 3 31-5 6-5 42-5 57-5 44zm45 9 5-64 5-78 5-54 5-3 3 31-5 2-5 39-5 57-5 47zm45 5 5-68 5-78 5-49 5 3 3 29-5-2-5 36-10 108zm55-149 5-45 4 9 4 29-5-7-5 33zm44-8 5-39 5 14 3 28-5-11-5 29zm45-12 5-34 5 21 3 26-5-15-5 25zm45-15 5-29 5 26 3 24-5-19-5 22zm40 48 5-68 5-24 5 32 3 23-5-23-5 18-5 50zm45-28 5-64 5-18 5 37 3 21-5-27-5 14-5 48zm45-31 5-61 5-12 3 31-5 9-5 46zm45-36 5-57 5-6 3 30-5 5-5 43zm45-41 5-53 5 1 3 29-5 1-5 40zm45-45 5-48 4 6 4 29-5-4-5 37z"/><path class=u transform=translate(-239,-112) d="m612 1756 5 4 5 3 5 2 5 0-3 24-5 44-5 9-5-32-5-57z"/><path transform=translate(-239,-112) d="m629 1789 5-57 5-42 5-6 5 34 3 50-10-4-5 0-5 1zm274-77 5-22 3 84-5 2zm40 32 5-50 5-18 5 23 3 59-5 1-5 2-5 4zm45-25 5-48 5-14 5 27 3 54-10 4-5 5zm45-29 5-46 5-9 5 30 3 49-5 2-5 3-5 4zm45-34 5-43 5-5 5 33 3 44-5 2-5 3-5 5zm45-38 5-40 5-1 5 36 3 38-10 6-5 6zm45-43 5-37 5 4 5 39 3 32-5 3-5 4-5 5z"/><path class=u transform=translate(-236,-110) d="m612 1756 5-50 5-26 5 12-3 71-5-2-5-3-5-4z"/><path class=u transform=translate(-233,-109) d="m637 1808 5 61-3-32-5-43z"/><path transform=translate(-233,-109) d="m609 1755 5-50 3-21-5 73zm534-128 5-50 3-27-5 70z"/><path class=u transform=translate(-230,-107) d="m627 1692 5 45 5 57 5 44 5 9 5-29-3 20-5 41-5-12-5-61-5-82-5-64zm45 18 5 48 5 56 5 40 5 4-3 32-5-5-5-57-5-80-5-68zm45 14 10 105 5 36 5-1-3 31-5 2-5-51-5-80-5-70zm264-44 5 39-3-15-5-57z"/><path transform=translate(-230,-107) d="m609 1755 5-73 5-38 5 16 3 32-5-12-5 26-5 50zm40 83 10-147 5-33 5 22 3 30-5-16-5 23-10 101zm55-142 5-28 5 28 3 28-5-19-5 19zm45 1 5-22 5 33 3 26-5-23-5 15zm45-4 5-16 3 36-5 11zm45-7 5-10 3 35-5 7zm45-11 5-5 5 48 3 20-5-33-5 3zm39 35 5-51 5 2 4 34-5-1-5 36zm45-24 5-46 5 7 3 33-5-5-5 33zm45-28 5-41 5 13 3 31-5-8-5 29zm40 43 5-76 5-36 5 20 3 29-5-12-5 26-5 53zm45-39 5-73 5-31 5 25 3 28-5-16-5 22-5 52zm45-44 5-70 5-25 5 30 3 26-5-19-5 18-5 50zm45-48 5-67 5-19 5 36 3 23-5-23-5 15-5 48z"/><path class=u transform=translate(-227,-106) d="m632 1764 10 0 5 1 5 3-3 49-5 29-5-9-5-44-5-57z"/><path transform=translate(-227,-106) d="m609 1755 5-50 5-26 5 12 5 45 3 28-5 0-5-1-5-3-5-5zm315-26 5-36 5 1 3 78-5 2-5 0zm44-22 5-33 5 5 3 76-4 2-5 1zm45-26 5-29 5 8 3 73-5 3-5 1zm45-30 5-26 5 12 5 43 3 21-5 5-5 4-5 2zm40 17 5-52 5-22 5 16 3 64-5 5-5 3-5 1zm45-41 5-50 5-18 5 19 3 60-5 5-5 4-5 2zm45-45 5-48 5-15 5 23 3 55-5 6-5 5-5 2z"/><path transform=translate(-224,-104) d="m609 1753 5 5 3 53-5-58z"/><path class=u transform=translate(-220,-103) d="m612 1753 5 78 5 42-4-31-5-32-5-58z"/><path transform=translate(-220,-103) d="m633 1732 5-42 4-26-5 58zm355-13 5-48 3-25-5 65zm44-29 5-46 4-26-5 61zm45-34 5-43 3-27-5 57zm45-39 5-40 3-27-5 53zm45-42 5-37 3-28-5 48z"/><path class=u transform=translate(-217,-102) d="m612 1754 5 52 5 28 5-8-3 33-5 13-5-42-5-78zm50 72 5 24 5-12-4 31-5 19-5-35zm44 15 5 20 5-17-3 30-5 26-5-30zm45 11 5 15 5-21-3 27-5 32-5-22zm45 5 5 11-3 38-5-16zm384-306 5 35-3-16-5-55z"/><path transform=translate(-217,-102) d="m624 1859 5-60 5-78 5-58 4-8 4 40-5 5-5 37-5 51-5 38zm44 10 5-64 5-79 5-53 5-3 3 39-5 2-5 34-4 51-5 42zm60-191 5 3 3 38-5-2zm30 195 10-149 5-44 3 40-5 29-10 97zm55-156 5-40 5 15 3 35-5-9-5 26zm90-28 5-29 5 26 3 32-5-17-5 20zm40 48 5-68 5-23 5 31 3 30-5-20-5 16-5 45zm45-27 5-65 5-17 5 36 3 27-5-23-5 12-5 44zm45-32 5-61 4-12 5 42 4 25-5-27-5 9-5 41zm44-36 5-57 5-6 5 47 3 21-5-29-5 5-5 39zm45-40 5-53 5 0 5 51 3 19-5-32-5 1-5 36zm45-45 5-48 5 6 3 36-5-2-5 33z"/><path class=u transform=translate(-214,-100) d="m612 1755 5-5 5-1 5 3 5 7-3 27-5 38-5 8-5-28-5-52z"/><path transform=translate(-214,-100) d="m629 1786 5-51 5-37 5-5 3 85-5-3-5-7-5-9zm359-64 5-44 5-12 3 86-5 1-5-3zm45-29 5-41 5-9 3 85-5 2-5-3zm44-33 5-39 5-5 5 29 4 46-5 8-5 3-5-1zm45-38 5-36 5-1 5 32 3 39-5 9-5 4-5 0zm45-42 5-33 5 2 5 35 3 33-5 9-5 6-5 0z"/><path class=u transform=translate(-211,-99) d="m612 1756 5-56-3 49-5 5z"/><path class=u transform=translate(-208,-97) d="m637 1806 5 61-3-24-5-47zm25-114 5-33-3 24-5 25zm20 136 5 56-3-24-5-44zm45 18 5 50-3-25-5-39z"/><path transform=translate(-208,-97) d="m609 1754 5-56 5-29 3-24-5 38-5 73zm269-13 5-43 3-22-5 55zm45-18 5-40 3-23-5 51zm45-22 5-37 3-23-5 46zm174-77 5-55 4-20-5 70zm45-46 5-53 3-21-5 67z"/><path class=u transform=translate(-205,-96) d="m627 1700 5 39 5 51 5 38 5 8 5-25-3 25-5 42-5-12-5-61-5-81-5-64zm45 18 5 41 5 50 5 34 5 4-3 41-5-5-5-56-5-80-5-67zm45 13 5 43 5 49 5 31 5-1-3 40-5 2-5-50-5-79-5-70zm45 10 10 91 5 28 5-5-4 38-4 9-5-45-10-149zm264-72 5 36-3-15-5-60zm45-24 5 38-3-11-5-63zm45-27 5 39-3-8-5-66z"/><path transform=translate(-205,-96) d="m609 1755 5-73 5-38 5 16 3 40-5-11-5 22-5 44zm40 81 10-145 5-33 5 22 3 38-5-14-5 19-10 88zm55-140 5-28 5 28 3 35-5-17-5 16zm45 1 5-22 5 33 3 33-5-21-5 13zm89-11 5-10 3 44-5 7zm40 44 5-55 5-5 3 44-5 3-5 34zm45-20 5-51 5 2 5 52 3 21-5-31-5 0-5 31zm45-24 5-46 5 7 5 57 3 18-5-34-5-4-5 29zm45-28 5-41 5 13 3 39-5-7-5 26zm40 42 5-75 5-35 5 19 3 36-5-10-5 23-5 47zm45-39 5-72 5-31 5 25 3 35-5-14-5 20-5 46zm45-43 5-70 5-25 5 30 3 32-5-16-5 17-5 44zm44-48 5-67 5-19 5 35 4 30-5-20-5 14-5 42z"/><path class=u transform=translate(-202,-94) d="m632 1766 5-9 5-7 5 0-3 84-5-8-5-38-5-51z"/><path transform=translate(-202,-94) d="m609 1753 5-44 5-22 5 11 5 39 3 29-5 8-5 0-5-8-5-13zm449-97 5-23 3 88-5-2zm40 12 5-46 5-20 5 14 3 66-5 8-5 0-5-7zm45-40 5-44 5-17 5 16 3 62-5 10-5 1-5-6zm45-45 5-42 5-14 5 20 3 57-5 10-5 3-5-5z"/><path transform=translate(-199,-93) d="m609 1752 5 13 3 50-5-63z"/><path class=u transform=translate(-196,-91) d="m612 1750 5 77 5 41-3-20-5-35-5-63z"/><path transform=translate(-196,-91) d="m903 1703 5-24 4-19-5 29zm40 37 5-56 3-15-5 67zm45-26 5-53 3-16-5 64zm45-30 5-50 3-17-5 60zm45-35 5-47 3-17-5 56zm45-39 5-43 3-18-5 52zm45-43 5-40 3-18-5 47z"/><path class=u transform=translate(-193,-90) d="m612 1751 5 45 5 24 5-6 5-33-3 15-5 59-5 12-5-41-5-77zm40-23 10 87 5 21 5-10-3 39-5 19-5-35-10-151zm55 102 5 17 5-14-3 37-5 25-5-29zm45 10 5 13-3 48-5-22z"/><path transform=translate(-193,-90) d="m629 1796 5-77 5-57 5-9 5 45 3 30-5-26-5 4-5 32-5 43zm40 69 5-64 5-77 5-53 5-2 3 47-5 1-5 30-5 43-5 36zm190-162 5-34 5 21 3 40-5-11-5 20zm45-15 5-29 4 26 4 38-5-14-5 17zm39 47 5-67 5-23 5 31 3 35-5-17-5 14-5 39zm45-27 5-64 5-18 5 37 3 32-5-19-5 10-5 38zm45-32 5-60 5-12 5 41 3 30-5-22-5 7-5 36zm45-36 5-56 5-6 5 46 3 26-5-25-5 5-5 34zm45-40 5-52 5 0 5 50 3 22-5-26-5 1-5 32zm45-45 5-47 5 6 5 54 3 19-5-29-5-2-5 29z"/><path class=u transform=translate(-190,-89) d="m612 1752 5-13 5-6 5 5 5 14-3 28-5 33-5 6-5-24-5-45z"/><path transform=translate(-190,-89) d="m629 1780 5-43 5-32 5-4 3 87-5-4-5-14-5-18zm494-154 5-32 5-1 3 82-5 5-5-7zm45-42 5-29 5 2 3 79-5 6-5-4z"/><path transform=translate(-187,-87) d="m609 1750 5-13 3-46-4 61z"/><path class=u transform=translate(-183,-86) d="m637 1802 5 60-4-14-5-52zm44 22 5 55-3-15-5-47zm45 17 5 50-3-15-5-43zm45 13 5 43-3-15-5-38z"/><path transform=translate(-183,-86) d="m609 1751 4-61 5-32 4-14-5 37-5 72zm49-51 5-28 3-14-5 32zm265 16 5-43 3-14-5 50zm45-23 5-39 3-14-5 45zm44-27 5-35 4-14-5 40zm45-31 5-31 3-14-5 35zm45-36 5-26 3-14-5 30zm40 20 5-60 3-11-5 68zm45-47 5-57 3-12-5 66z"/><path class=u transform=translate(-180,-84) d="m632 1739 5 42 5 32 5 8 5-21-4 31-5 41-4-12-5-60-5-79zm49 61 5 29 5 3 5-24-3 28-5 46-5-5-5-55zm35-64 5 36 5 41 5 26 5 0-3 48-5 2-5-50-5-77-5-68zm45 8 10 77 5 24 5-5-3 47-5 8-5-43-10-146zm55 81 5 20-3 52-5-38z"/><path transform=translate(-180,-84) d="m609 1751 5-72 5-37 5 16 5 63 3 18-5-34-5-9-5 18-5 37zm39 80 10-143 5-32 4 54-5 16-10 74zm45 5 10-143 5-26 5 27 3 42-5-15-5 13-10 74zm60-163 5 33 3 38-5-17zm125 54 5-54 5-5 3 52-5 3-5 29zm45-20 5-50 5 2 5 51 3 25-5-26-5 0-5 27zm45-24 5-45 5 7 5 56 3 21-5-28-5-3-5 25zm45-28 5-40 5 13 5 59 3 17-5-30-5-6-5 23zm44-32 5-35 5 18 4 44-5-8-5 20zm40 35 5-71 5-30 5 24 3 41-5-11-5 17-5 39zm45-44 5-68 5-24 5 29 3 38-5-13-5 14-5 38zm45-47 5-66 5-18 5 34 3 35-5-16-5 12-5 37z"/><path class=u transform=translate(-177,-83) d="m632 1767 5-19 5-14 5-1-3 87-5-8-5-32-5-42z"/><path transform=translate(-177,-83) d="m609 1750 5-37 5-18 5 9 5 34 3 29-5 14-5 2-5-12-5-22zm583-203 5-12 5 16 3 57-5 16-5 1z"/><path class=u transform=translate(-174,-81) d="m612 1747 5 68-3-46-5-22z"/><path class=u transform=translate(-171,-80) d="m612 1746 5 75 5 40-3-10-5-37-5-68zm50 97 5 35-3-11-5-31zm45 18 5 28-3-11-5-25zm45 12 5 22-4-11-5-20z"/><path transform=translate(-171,-80) d="m634 1720 5-51 3-7-5 55zm159 151 5 14 3 10-5-15zm110-178 5-25 3-9-5 28zm45-19 5-21 3-9-5 23zm40 34 5-57 5-16 3-9-5 17-5 62zm45-31 5-54 3-8-5 59zm45-35 5-50 3-9-5 55zm45-39 5-47 3-9-5 51zm44-44 5-43 4-8-5 46z"/><path class=u transform=translate(-168,-78) d="m612 1746 5 37 5 20 5-5 5-26-3 17-5 58-5 12-5-40-5-75zm40-16 10 72 5 17 5-8-3 46-5 19-5-35-10-146zm55 86 5 14-3 57-5-28zm45 9 5 11-3 57-5-22zm45 5 5 7-4 56-5-15z"/><path transform=translate(-168,-78) d="m629 1789 5-74 5-55 5-9 5 44 3 35-5-22-5 3-5 26-5 35zm274-104 5-28 5 25 3 44-5-11-5 14zm40 45 5-65 5-23 5 31 3 41-5-14-5 12-5 33zm45-27 5-62 5-17 5 35 3 38-5-16-5 10-5 31zm45-31 5-59 5-11 5 40 3 34-5-18-5 7-5 30zm45-36 5-55 5-5 5 44 3 30-5-19-5 4-5 28zm45-40 5-51 5 0 5 49 3 26-5-21-5 2-5 26zm45-44 5-46 4 5 5 53 4 21-5-22-5-1-5 25z"/><path class=u transform=translate(-165,-77) d="m612 1747 5-22 5-11 5 7 5 21-3 29-5 26-5 5-5-20-5-37z"/><path transform=translate(-165,-77) d="m629 1771 5-35 5-26 5-3 3 88-5-5-5-20-5-28z"/><path transform=translate(-162,-76) d="m609 1746 5-22 3-42-5 65z"/><path class=u transform=translate(-159,-74) d="m637 1794 5 58 5 11-3-4-5-12-5-55zm45 22 5 53-3-5-5-50zm45 17 5 48-3-5-5-46zm45 12 5 42-3-5-5-40zm45 7 5 36-3-5-5-35z"/><path transform=translate(-159,-74) d="m609 1745 5-65 5-35 3-3-5 35-5 69zm50-56 5-29 3-4-5 31zm45 6 5-25 3-4-5 26zm219 12 5-47 3-3-5 48zm45-24 5-42 3-3-5 43zm45-27 5-38 3-4-5 39zm45-32 5-33 3-4-5 34zm45-36 5-28 3-4-5 29zm40 23 5-63 5-23 3-4-5 24-5 66zm45-47 5-60 5-18 3-4-5 18-5 63z"/><path class=u transform=translate(-156,-73) d="m632 1737 5 34 5 26 5 6 5-16-3 36-5 39-5-11-5-58-5-77zm50 52 5 23 5 3-3 58-5-5-5-53zm45 12 5 21 5 0-3 56-5 2-5-48zm45 8 5 18-3 59-5-42z"/><path transform=translate(-156,-73) d="m609 1745 5-69 5-35 5 15 5 60 3 21-5-28-5-7-5 14-5 29zm314-41 5-48 5 1 4 57-5 1-5 21zm45-24 5-43 5 7 5 53 3 23-5-21-5-2-5 20zm45-28 5-39 5 13 5 56 3 20-5-23-5-4-5 18zm40 39 5-71 5-34 5 18 3 50-5-6-5 17-5 32zm45-38 5-69 5-29 5 23 3 47-5-8-5 15-5 32zm45-43 5-66 5-24 5 28 3 44-5-10-5 12-5 32zm45-48 5-63 5-18 5 33 3 40-5-12-5 11-5 30z"/><path class=u transform=translate(-153,-71) d="m632 1764 5-28 5-20 5-2-3 87-5-6-5-26-5-34z"/><path transform=translate(-153,-71) d="m609 1743 5-29 5-14 5 7 5 28 3 29-5 21-5 4-5-17-5-30z"/><path class=u transform=translate(-150,-70) d="m612 1740 5 72-3-41-5-30z"/><path class=u transform=translate(-146,-68) d="m612 1739 5 71 5 39-4 0-5-39-5-72zm49 93 5 33-3 1-5-33zm45 18 5 27-3 0-5-27zm45 12 5 20-3 1-5-21zm45 6 5 15-3 0-5-15z"/><path transform=translate(-146,-68) d="m633 1710 5-53 5-8 3 1-4 8-5 53zm270-28 5-27 3 1-5 27zm45-20 5-22 3 1-5 22zm40 37 5-61 5-16 3 1-5 17-5 59zm44-31 5-57 5-11 3 1-4 11-5 56zm45-36 5-53 5-6 3 1-5 6-5 53zm45-40 5-49 3 1-5 49zm45-44 5-45 3 1-5 45z"/><path class=u transform=translate(-143,-67) d="m612 1739 5 29 5 16 5-3 5-20-3 20-5 56-5 11-5-39-5-71zm40-9 10 56 5 14 5-6-4 53-5 17-5-33-10-140zm54 70 5 11-3 65-5-27zm45 9 5 8-3 64-5-20z"/><path transform=translate(-143,-67) d="m629 1781 5-71 5-53 4-8 5 42 4 39-5-17-5 2-5 19-5 27zm229-84 5-32 5 19 3 53-5-7-5 13zm45-15 5-27 5 24 3 50-5-9-5 11zm45-20 5-22 5 29 3 47-5-10-5 9zm40 36 5-59 5-17 5 34 3 42-5-11-5 8-5 24zm45-31 5-56 4-11 5 38 4 38-5-13-5 6-5 24zm44-35 5-53 5-6 5 43 3 34-5-14-5 4-5 22zm45-40 5-49 5 0 5 46 3 30-5-16-5 3-5 21zm45-44 5-45 5 6 5 50 3 24-5-16-5 0-5 20z"/><path class=u transform=translate(-140,-66) d="m612 1740 5-30 5-15 5 8 5 28-3 29-5 20-5 3-5-16-5-29z"/><path transform=translate(-137,-64) d="m609 1738 5-30 3-38-5 69z"/><path class=u transform=translate(-134,-63) d="m637 1785 5 54 5 11-3 6-5-11-5-58zm45 21 5 50 5 5-3 6-5-5-5-54zm45 17 5 45 5-1-3 5-5 1-5-48zm45 11 5 40-4 6-5-43zm44 6 5 35-3 6-5-37zm45 2 5 29-3 6-5-31z"/><path transform=translate(-134,-63) d="m609 1738 5-69 5-36 3 6-5 34-5 65zm50-60 5-31 3 7-5 29zm45 5 5-25 3 6-5 24zm69 197 5-8 3-5-4 7zm150-184 5-48 5 1 3 6-5-1-5 46zm45-23 5-44 5 7 3 6-5-7-5 42zm45-28 5-39 3 6-5 37zm45-32 5-34 3 6-5 32zm40 33 5-69 5-29 3 6-5 28-5 65zm44-43 5-67 5-24 4 7-5 22-5 64zm45-48 5-63 5-19 3 7-5 17-5 60z"/><path class=u transform=translate(-131,-61) d="m632 1732 5 25 5 20 5 5 5-12-3 41-5 37-5-11-5-54-5-74zm50 42 5 18 5 2-3 65-5-5-5-50zm45 12 5 15-3 65-5-45zm45 6 5 14-3 66-5-40zm44 2 5 12-3 67-5-35z"/><path transform=translate(-131,-61) d="m609 1736 5-65 5-34 5 15 5 57 3 23-5-21-5-6-5 10-5 20zm319-84 5 1 3 64-5 1zm40 23 5-42 5 7 3 61-5-1-5 15zm45-28 5-37 5 12 3 58-5-2-5 14zm45-32 5-32 5 17 5 56 3 16-5-17-5-3-5 13zm40 30 5-65 5-28 5 22 5 58 3 11-5-18-5-4-5 11-5 25zm45-42 5-64 5-22 5 26 3 48-5-6-5 11-5 24zm44-48 5-60 5-17 5 31 4 44-5-8-5 10-5 23z"/><path class=u transform=translate(-128,-60) d="m637 1724 5-27 5-3-3 87-5-5-5-20z"/><path transform=translate(-128,-60) d="m609 1734 5-20 5-10 5 6 5 21 5 25 3-32-5 36-5 27-5 5-5-21-5-38z"/><path class=u transform=translate(-125,-58) d="m612 1731 5 74-3-36-5-38z"/><path class=u transform=translate(-122,-57) d="m612 1730 5 67 5 37 5-11-3 10-5 12-5-41-5-74zm50 89 5 31-3 12-5-35zm45 17 5 26-3 11-5-29zm45 12 5 19-3 12-5-22zm45 6 5 14-3 11-5-15zm45 1 5 8-3 11-5-9zm45-4 5 2-4 11-5-2z"/><path transform=translate(-122,-57) d="m624 1833 5-58 5-75 5-56 5-8 3 11-5 8-5 49-5 68-5 51zm279-163 5-28 3 11-4 25zm45-20 5-23 3 12-5 20zm40 39 5-63 5-17 3 11-5 16-5 56zm45-32 5-59 5-11 3 11-5 10-5 54zm45-36 5-55 5-6 3 11-5 6-5 50zm45-40 5-51 5 0 3 11-5 0-5 46zm45-44 5-47 5 6 3 10-5-5-5 43z"/><path class=u transform=translate(-119,-55) d="m612 1729 5 20 5 12 5-1 5-14-3 24-5 51-5 11-5-37-5-67zm40-1 10 39 5 10 5-4-3 59-5 16-5-31-10-132zm55 52 5 8-3 72-5-26z"/><path transform=translate(-119,-55) d="m629 1770 5-68 5-49 5-8 5 40 3 43-5-13-5 1-5 13-5 17zm364-136 5-16 3 71-5 6zm40 26 5-54 5-10 3 70-5 5-5 17zm45-35 5-50 5-6 5 40 3 37-5-9-5 4-5 17zm45-40 5-46 5 0 5 43 3 32-5-9-5 3-5 16zm45-43 5-43 5 5 5 47 3 27-5-10-5 2-5 15z"/><path class=u transform=translate(-116,-54) d="m612 1729 5-37 5-19 5 9 5 35-3 28-5 14-5 1-5-12-5-20z"/><path transform=translate(-113,-53) d="m609 1728 5-37 3-33-5 71z"/><path class=u transform=translate(-109,-51) d="m627 1649 5 53 5 69 5 51 4 11-3 16-5-12-5-60-5-80-5-62zm54 143 5 47 5 5-3 15-5-5-5-55zm45 16 5 42 5-1-3 15-5 2-5-50zm45 11 5 38 5-8-3 15-5 9-5-44zm45 6 5 33 5-14-3 15-5 15-5-38zm45 1 5 27 5-19-3 14-5 22-5-33zm45-4 5 21-3 17-5-26zm45-10 5 16-3 17-5-19zm204-298 5 25-3-12-5-29z"/><path transform=translate(-109,-51) d="m608 1727 5-71 5-37 5 16 4 14-5-14-5 31-5 61zm50-62 5-32 3 16-5 27zm45 5 5-27 3 16-5 23zm205 190 5-29 3-12-5 24zm20-226 5 1 3 15-5-1zm40 26 5-45 5 7 3 14-5-5-5 39zm44-28 5-41 5 13 4 14-5-10-5 34zm45-33 5-35 5 19 3 13-5-15-5 30zm40 35 5-71 5-30 5 24 3 12-5-20-5 27-5 61zm45-43 5-69 5-24 3 16-5 22-5 59zm45-48 5-65 5-19 3 16-5 17-5 56z"/><path class=u transform=translate(-106,-50) d="m632 1726 5 16 5 13 5 4 5-7-4 45-5 35-4-11-5-51-5-69zm49 32 5 11 5 2-3 72-5-5-5-47zm45 10 5 10 5 1-3 69-5 1-5-42zm45 6 5 9-3 73-5-38z"/><path transform=translate(-106,-50) d="m609 1726 5-61 5-31 5 14 5 53 3 25-5-14-5-5-5 6-5 12zm404-85 5-34 3 74-5 9zm44-31 5-30 5 15 4 60-5-1-5 9zm45-35 5-27 5 20 3 57-5-2-5 9zm40 19 5-59 5-22 5 25 3 52-5-2-5 8-5 16zm45-47 5-56 5-17 5 29 3 48-5-3-5 7-5 17z"/><path transform=translate(-103,-48) d="m609 1723 5-12 5-6 5 5 3 76-5 6-5-25-5-46z"/><path class=u transform=translate(-100,-47) d="m612 1720 5 76-3-30-5-46z"/><path class=u transform=translate(-97,-45) d="m612 1718 5 62 5 34 5-9-3 18-5 13-5-42-5-76zm35-76 5 37 10 123 5 29 5-15-3 17-5 19-5-35-10-151-5-45zm60 176 5 24 5-21-3 17-5 26-5-29zm40-43 5 54 5 19-4 21-5-22-5-67zm44 10 5 50 5 13-3 22-5-16-5-62zm35-108 5 49 5 64 5 46 5 8-3 21-5-9-5-58-5-78-5-62zm60 155 5 2-3 20-5-2zm45-9 5-5-3 20-5 5zm45-15 5-10-3 19-5 12zm130-94 5 18-3 22-5-23z"/><path transform=translate(-97,-45) d="m624 1823 5-59 5-77 5-57 5-9 3 21-5 7-5 46-5 62-5 48zm189-140 5-39 5 14 3 19-5-12-5 32zm45-12 5-34 5 20 3 18-5-17-5 28zm45-16 5-28 5 26 3 16-5-21-5 24zm45-20 5-23 3 22-5 19zm30 182 5-60 5-81 5-64 5-18 3 21-5 15-5 52-5 67-5 49zm55-173 5-60 5-12 3 21-5 10-5 49zm45-36 5-57 5-5 3 20-5 5-5 47zm45-40 5-53 5 1 3 19-5 1-5 43zm44-45 5-47 5 5 3 19-4-4-5 40z"/><path class=u transform=translate(-94,-44) d="m612 1718 5 11 5 8 5 0 5-6-3 25-5 48-5 9-5-34-5-62zm40 6 10 22 5 6-3 78-5-29-10-123zm55 34 5 5-3 78-5-24z"/><path transform=translate(-94,-44) d="m629 1756 5-62 5-46 5-7 5 37 3 46-5-7-5-1-5 6-5 9zm404-105 5-49 5-10 3 75-5 4-5 10zm45-34 5-47 5-5 3 73-5 4-5 10zm45-39 5-43 5-1 3 71-5 4-5 10zm45-43 5-40 4 4 4 69-5 3-5 10z"/><path class=u transform=translate(-91,-42) d="m612 1717 5-45 5-23 5 11 5 40-3 29-5 6-5 0-5-8-5-11z"/><path class=u transform=translate(-88,-41) d="m637 1767 5 61-3-38-5-39z"/><path transform=translate(-88,-41) d="m609 1716 5-45 3-28-5 73zm70 54 5 36 3 39-5-56z"/><path class=u transform=translate(-85,-40) d="m627 1643 5 50 5 62 5 48 5 9-3 27-5-12-5-61-5-82-5-63zm55 133 5 43 5 4-3 26-5-5-5-56zm45 15 5 39 5-1-3 25-5 2-5-51zm45 11 5 34 5-6-3 24-5 9-5-45zm45 5 5 30 5-12-3 23-5 16-5-39zm45 1 5 25 5-18-3 22-5 22-5-32zm45-5 4 20 5-23-3 21-5 29-5-26zm44-10 5 15 5-28-3 19-5 36-5-20zm45-15 5 10-3 26-5-13z"/><path transform=translate(-85,-40) d="m609 1715 5-73 5-38 5 17 3 22-5-13-5 29-5 55zm35 124 5-42 10-146 5-33 3 27-5 24-10 112-5 31zm45 10 5-47 10-146 5-27 3 26-5 21-5 52-5 59-5 36zm60-192 5-22 3 26-5 17zm45-3 5-16 3 26-5 12zm45-8 5-10 3 26-5 8zm44-11 5-4 4 25-5 3zm30 186 10-151 5-50 5 1 3 24-5 0-5 39-10 116zm45-22 10-153 5-46 5 8 3 23-5-5-5 36-10 118zm55-181 5-41 5 13 3 23-5-10-5 32zm45-32 5-36 5 19 3 21-5-14-5 28zm40 36 5-73 5-30 5 24 3 20-5-18-5 24-5 57zm45-44 5-69 5-25 5 30 3 18-5-22-5 20-5 55zm45-48 5-66 5-19 5 35 3 17-5-26-5 15-5 53z"/><path class=u transform=translate(-82,-38) d="m632 1716 10 13 5 3 5-2-3 49-5 31-5-9-5-48-5-62zm50 22 5 5 5 1-3 77-5-4-5-43zm45 10 5 4-3 76-5-39zm45 5 5 3-3 78-5-34z"/><path transform=translate(-82,-38) d="m609 1712 5-55 5-29 5 13 5 50 3 25-5-6-5-3-5 1-5 3zm359-52 5-36 3 78-5 5zm45-27 5-32 3 79-5 5zm45-31 5-28 3 80-5 5zm45-35 5-24 3 80-5 5zm45-39 5-20 3 79-5 6zm40 9 5-53 5-15 5 26 3 50-5 2-5 6-5 9z"/><path transform=translate(-79,-37) d="m609 1710 5-3 5-1 3 83-5-28-5-53z"/><path class=u transform=translate(-76,-35) d="m612 1705 5 78-3-24-5-53zm514-150 5-53-3 37-5 36z"/><path transform=translate(-76,-35) d="m1033 1646 5-41 3-35-5 61zm45-33 5-39 3-36-5 57z"/><path class=u transform=translate(-72,-34) d="m612 1704 5 57 5 31 5-8-4 27-5 13-5-42-5-78zm49 78 5 26 5-13-3 26-5 19-5-35zm45 16 5 21 5-18-3 25-5 26-5-30zm40-38 5 49 5 16 5-23-3 23-5 32-5-22-5-68zm45 9 5 45 5 12 5-28-3 21-5 39-5-16-5-63zm35-99 5 45 5 58 5 42 5 6-3 32-5-9-5-59-5-79-5-62zm45-2 5 47 5 57 5 38 5 2-3 30-5-2-5-53-5-79-5-65zm45-6 10 104 5 35 5-4-3 29-5 5-5-48-10-145zm45-11 10 105 5 30 5-9-3 28-5 12-5-42-10-146zm45-15 10 104 5 25 5-14-4 28-5 18-5-36-4-72-5-73zm44-19 10 102 5 21-3 32-5-30-10-143zm40-56 5 32 5 54 5 47 5 15-3 33-5-24-5-65-5-75-5-47zm45-31 5 35-3-13-5-51z"/><path transform=translate(-72,-34) d="m623 1811 5-60 5-78 5-58 5-8 3 30-4 6-5 41-5 56-5 44zm195-182 5 15 3 26-5-10zm40 28 5-35 5 21 3 25-5-15-5 26zm45-16 5-29 5 26 3 24-5-19-5 22zm45-20 5-23 5 31 3 22-5-22-5 17zm30 184 5-61 5-82 5-65 5-18 5 37 3 20-5-26-5 14-5 47-5 61-5 45zm44-26 5-66 5-83 5-61 5-12 5 42 3 18-5-30-4 10-5 45-5 61-5 48zm55-185 5-57 5-6 3 30-5 5-5 42zm45-40 5-53 5 0 3 29-5 1-5 39zm45-45 5-48 5 6 3 27-5-3-5 36z"/><path class=u transform=translate(-69,-32) d="m612 1703 5 3 10 4 5 1-3 27-5 44-5 8-5-31-5-57zm50 19 5 2-4 82-5-26zm44 11 5 2-3 82-5-21z"/><path transform=translate(-69,-32) d="m629 1738 5-56 5-41 4-6 4 80-5-2-10-2zm448-132 5-42 3 76-5 4zm45-38 5-39 3 78-5 4zm45-43 5-36 5 3 3 73-5 4-5 5z"/><path class=u transform=translate(-66,-31) d="m612 1703 5-52 5-26 5 12-3 72-10-4-5-3z"/><path class=u transform=translate(-63,-30) d="m637 1752 5 62-3-30-5-44zm45 23 5 56-3-30-5-41zm45 17 5 51-4-31-5-37z"/><path transform=translate(-63,-30) d="m609 1702 5-52 3-22-5 74z"/><path class=u transform=translate(-60,-28) d="m627 1635 5 45 5 56 5 43 5 8 5-28-3 23-5 42-5-12-5-62-5-81-5-64zm55 121 5 39 5 4 5-33-3 20-5 48-5-5-5-56zm45 15 5 35 5-1-3 34-5 2-5-51zm45 10 5 30 4-5-3 33-5 8-5-45zm44 4 5 27 5-11-3 32-5 16-5-39zm45 0 5 22 5-15-3 30-5 22-5-32zm45-5 5 18 5-21-3 29-5 29-5-27zm45-10 5 13 5-25-3 26-5 36-5-20zm45-16 5 9-3 36-5-13zm45-20 5 3-3 36-5-6z"/><path transform=translate(-60,-28) d="m609 1700 5-74 5-38 5 17 3 30-5-12-5 26-5 49zm125 139 5-53 3-17-5 36zm44 0 5-59 5-79 5-63 5-17 3 36-5 11-5 43-5 55-5 40zm60-209 5-10 3 35-5 7zm45-11 5-5 3 35-5 3zm30 187 10-151 5-52 5 2 3 33-5 0-5 35-10 104zm45-22 10-154 5-46 5 8 3 32-5-5-5 32-10 107zm55-182 5-41 5 13 3 31-5-9-5 29zm45-32 5-36 5 19 3 29-5-12-5 25zm40 36 5-73 5-30 5 24 3 27-5-15-5 22-5 51zm44-43 5-70 5-25 5 30 4 25-5-20-5 19-5 49zm45-48 5-67 5-19 5 35 3 23-5-23-5 15-5 47z"/><path class=u transform=translate(-57,-27) d="m632 1705 5-2 5-1 5 2 5 3-3 51-5 28-5-8-5-43-5-56zm50 12 5-2 5 1-3 82-5-4-5-39z"/><path transform=translate(-57,-27) d="m609 1697 5-49 5-26 5 12 5 45 3 26-5 1-5-1-5-4-5-5zm539-176 5-19 3 84-5 3zm39 4 5-47 5-15 4 82-5 5-5 1z"/><path transform=translate(-54,-25) d="m609 1694 5 5 3 51-5-58z"/><path class=u transform=translate(-51,-24) d="m612 1689 5 78-3-18-5-58zm225 81 5 59-3-25-5-44zm44 2 5 53-3-26-5-39zm45-4 5 48-3-26-5-36zm45-8 5 42-3-27-5-31z"/><path transform=translate(-51,-24) d="m988 1657 5-49 3-26-5 65zm45-30 5-46 3-27-5 61zm45-34 5-43 3-28-5 57zm45-38 5-41 3-28-5 53zm45-43 5-37 3-29-5 48z"/><path class=u transform=translate(-48,-22) d="m612 1687 5 51 5 27 5-7-3 36-5 13-5-42-5-78zm40-28 10 99 5 24 5-12-3 34-5 19-5-35-10-153zm50 68 5 46 5 20 5-17-3 33-5 26-5-30-5-71zm45 13 5 44 5 14 5-20-3 30-5 32-5-22-5-67zm45 9 5 40 5 10 5-25-3 28-5 39-5-16-5-63zm45 3 5 37 5 6 5-29-3 25-5 45-5-9-5-59zm45-1 5 33 5 1-4 40-5-2-5-53zm34-99 5 43 5 49 5 30 5-3 5-37-3 19-5 56-5 5-5-48-10-144zm45-11 10 92 5 26 5-8-3 37-5 12-5-42-10-145zm45-15 10 91 5 22 5-13-3 36-5 18-5-36-10-144zm45-20 10 89 5 18-3 42-5-30-10-143zm130-120 5 34-3-15-5-55z"/><path transform=translate(-48,-22) d="m624 1794 5-60 5-78 5-57 5-9 5 45 3 24-5-29-5 5-5 36-5 49-5 38zm90 15 10-146 5-49 3 38-5 31-5 50-5 43zm45-1 10-149 5-44 3 39-5 29-10 95zm45-6 10-150 5-40 3 40-5 26-10 96zm45-11 10-151 5-34 3 40-5 23-10 97zm39 34 5-50 10-151 5-29 5 27 3 30-4-16-5 19-10 97-5 33zm50-72 5-80 5-69 5-23 5 32 3 28-5-20-5 16-5 44-5 53zm40 35 5-61 5-82 5-65 5-17 5 37 3 26-5-23-5 12-5 42-5 54-5 40zm45-26 5-66 5-83 5-61 5-11 5 41 3 24-5-26-5 9-5 40-5 54-5 43zm55-185 5-57 5-5 5 46 3 20-5-28-5 5-5 38zm45-40 5-53 5 0 5 51 3 18-5-31-5 1-5 35zm45-45 5-48 5 6 3 36-5-2-5 32z"/><path class=u transform=translate(-45,-21) d="m612 1687 5-6 5-2 5 3 5 9-3 28-5 38-5 7-5-27-5-51z"/><path transform=translate(-45,-21) d="m629 1719 5-49 5-36 5-5 3 83-5-3-5-8-5-10z"/><path class=u transform=translate(-42,-19) d="m612 1685 5-57-3 51-5 6z"/><path class=u transform=translate(-39,-18) d="m637 1734 5 61-3-20-5-49zm45 22 5 56-3-21-5-44zm45 18 5 50-3-22-5-40z"/><path transform=translate(-39,-18) d="m609 1684 5-57 3-16-4 73zm225 0 5-47 3-22-5 59zm45-14 5-43 3-23-5 55zm45-18 5-40 3-23-5 50zm264-145 5-53 3-21-5 66z"/><path class=u transform=translate(-35,-17) d="m627 1627 5 39 5 49 5 37 4 8 5-24-3 28-5 42-5-12-5-61-5-81-5-63zm44 18 5 41 5 48 5 34 5 4 5-28-3 25-5 47-5-5-5-56-5-80-5-67zm45 14 10 89 5 31 5-1 5-31-3 22-5 52-5 2-5-50-5-79-5-70zm45 9 10 89 5 27 5-5 5-35-3 19-5 58-5 9-5-45-10-149zm45 5 10 88 5 24 5-10-3 40-5 16-5-39-10-148zm45 0 10 88 5 19 5-14-3 38-5 22-5-32-10-147zm45-4 5 46 5 40 5 15 5-18-3 36-5 29-5-26-5-68-5-77zm45-8 5 46 5 37 5 11 5-22-3 33-5 36-5-20-5-64-5-77zm45-13 5 46 5 34 5 7 5-26-3 31-5 41-5-13-5-59-5-77zm40-52 5 35 5 45 5 32 4 2 5-30-3 28-5 47-5-6-5-55-5-76-5-60zm44-23 5 36 5 44 5 29 5-2 5-34-3 25-5 53-5 1-5-50-5-75-5-63zm45-28 10 80 5 26 5-7 5-36-3 21-5 58-5 8-5-44-10-140zm45-32 10 80 5 21 5-10-3 41-5 15-5-39-10-139z"/><path transform=translate(-35,-17) d="m609 1683 4-73 5-38 5 17 4 38-5-11-5 22-5 43zm39 81 10-145 5-33 5 22 3 37-5-14-5 19-10 86zm45 5 5-77 5-68 5-27 5 27 3 35-5-17-5 16-5 40-5 46zm45 0 5-79 5-65 5-22 5 33 3 32-5-20-5 13-5 39-5 47zm45-6 5-79 5-63 5-15 5 38 3 29-5-23-5 10-5 37-5 47zm40 52 5-62 5-80 5-59 5-10 5 43 3 26-5-25-5 6-5 36-5 48-5 37zm45-11 5-67 5-79 5-55 5-4 5 47 3 23-5-28-5 3-5 34-5 48-5 40zm45-16 10-150 5-50 5 1 5 52 3 20-5-31-5 0-5 31-10 91zm45-22 10-152 5-46 5 8 5 56 3 16-5-32-5-4-5 28-10 93zm45-26 4-77 5-77 5-41 5 13 4 38-5-7-5 26-10 94zm44-32 10-154 5-36 5 19 3 36-5-10-5 22-10 95zm45-37 5-82 5-72 5-30 5 24 3 34-5-13-5 19-10 95zm45-42 5-83 5-70 5-24 5 30 3 31-5-17-5 17-5 43-5 52zm40 16 5-63 5-84 5-66 5-19 5 35 3 28-5-19-5 13-5 42-5 52-5 40z"/><path class=u transform=translate(-32,-15) d="m632 1691 5-11 5-8 5 0 5 9 5 14-4-5-5 44-5 24-4-8-5-37-5-49zm45 13 4-12 5-7 5 0 5 9 5 14-3-12-5 46-5 28-5-4-5-34-5-48zm49-4 5-7 5 1-3 82-5 1-5-31zm45 3 5-7 5 2 5 10-3 34-5 35-5 5-5-27zm45-1 5-7 5 2 5 10-3 29-5 37-5 10-5-24zm45-6 5-6 5 2 5 10-3 22-5 40-5 14-5-19zm45-10 5-6 5 3 5 10-3 14-5 43-5 18-5-15zm45-16 5-5 5 4 5 9-3 8-5 45-5 22-5-11zm35 9 5-16 5-12 5-5-3 87-5-7-5-34-5-46zm45-24 5-16 5-13 5-4-4 86-4-2-5-32-5-45zm45-29 4-16 5-12 5-4-3 84-5 2-5-29-5-44zm44-33 5-17 5-12 5-3 5 5-3 40-5 36-5 7-5-26-5-42zm45-38 5-17 5-12 5-3 5 6-3 33-5 40-5 10-5-21-5-41z"/><path transform=translate(-32,-15) d="m609 1679 5-43 5-22 5 11 5 39 3 27-5 8-5 1-5-9-5-14zm44 11 5-42 5-19 5 14 5 41 4 20-5 9-5 2-5-7-5-13zm45 6 5-40 5-16 3 86-5-5-5-13zm50-37 5-13 3 86-5-4zm35 83 5-47 5-37 5-10 3 85-5-2-5-10-5-13zm45-6 5-48 5-36 5-6 3 84-5-1-5-9-5-13zm45-12 5-48 5-34 5-3 3 82-5 1-5-8-5-12zm45-17 5-48 5-31 5 0 3 80-5 2-5-6-5-11zm45-21 5-48 5-28 5 4 5 32 3 33-5 11-5 4-5-5-5-11zm50-73 5-26 5 7 5 35 3 26-5 13-5 5-5-4zm44-30 5-22 5 10 5 36 4 19-5 14-5 7-5-2zm45-34 5-19 5 13 5 38 3 12-5 15-5 8-5-1zm35 57 5-52 5-43 5-17 5 17 5 39 3 5-5 16-5 10-5 0-5-6-5-9zm45-44 5-52 5-42 5-13 5 19 3 55-5 11-5 3-5-6-5-8z"/><path class=u transform=translate(-29,-14) d="m612 1674 5 64-3-48-5-14z"/><path class=u transform=translate(-26,-12) d="m612 1670 5 76 5 42-3-17-5-35-5-64zm50 99 5 35-3-17-5-30zm45 18 5 29-4-18-4-24zm84-43 5 62-3-15-5-51zm45 7 5 57-3-15-5-48zm45 1 5 52-3-16-5-43zm25-143 5-29-3 20-5 24zm20 139 5 47-3-16-5-39zm45-8 5 41-3-17-5-34zm45-14 5 35-3-17-5-29zm45-19 5 29-3-17-5-24z"/><path transform=translate(-26,-12) d="m679 1655 5-44 3-18-5 52zm44 2 5-40 4-19-5 49zm45-2 5-36 3-19-5 43zm45-6 5-33 3-19-5 39zm45-11 5-28 3-19-5 33zm85 23 5-56 3-16-5 67zm45-26 5-53 3-17-5 64zm45-30 5-51 3-17-5 60zm45-34 5-48 3-18-5 56zm44-39 5-44 4-19-5 52zm45-44 5-40 3-19-5 47z"/><path class=u transform=translate(-23,-11) d="m612 1669 5 43 5 24 5-6 5-32-3 17-5 60-5 12-5-42-5-76zm40-22 10 85 5 20 5-10-3 42-5 19-5-35-10-150zm45 17 10 83 5 16 5-13-3 39-5 26-5-29-10-148zm45 12 5 44 5 37 5 12 5-17-4 37-5 31-5-22-5-66-4-78zm44 7 5 44 5 34 5 9 5-21-3 34-5 38-5-16-5-62-5-78zm40-30 5 33 5 44 5 31 5 5 5-25-3 31-5 44-5-9-5-57-5-78-5-61zm45-3 5 35 5 42 5 29 5 1 5-29-3 28-5 49-5-2-5-52-5-77-5-64zm45-8 10 78 5 26 5-4 5-31-3 24-5 55-5 4-5-47-10-142zm45-12 10 78 5 22 5-7 5-35-3 20-5 60-5 12-5-41-10-143zm45-16 10 77 5 19 5-12-3 44-5 18-5-35-10-142zm45-20 10 75 5 15 5-15-3 41-5 25-5-29-10-141zm45-25 5 39 5 34 5 11 5-19-3 39-5 32-5-23-10-138zm45-30 5 40 5 31 5 8 5-23-4 36-5 38-5-17-5-60-4-74zm44-34 5 39 5 30 5 3 5-27-3 33-5 44-5-9-5-57-5-73z"/><path transform=translate(-23,-11) d="m629 1715 5-76 5-57 5-8 5 44 3 29-5-25-5 4-5 30-5 42zm40 69 5-63 5-77 5-52 5-3 5 49 3 26-5-28-5 1-5 29-5 42-5 34zm45 5 5-67 5-76 5-49 5 3 5 54 3 22-5-30-5-2-5 26-10 80zm44 0 10-147 5-43 5 8 5 58 3 18-5-32-4-5-5 25-10 81zm45-6 10-148 5-39 5 15 3 42-5-8-5 21-10 83zm45-11 10-149 5-33 5 20 3 40-5-11-5 19-10 83zm45-16 5-79 5-69 5-29 5 26 3 37-5-14-5 17-10 83zm45-21 5-80 5-67 5-23 5 31 3 34-5-16-5 14-5 38-5 45zm45-27 5-80 5-64 5-17 5 36 3 31-5-19-5 11-5 36-5 46zm40 34 5-65 5-81 5-60 5-12 5 41 3 29-5-22-5 8-5 35-5 46-5 37zm45-32 5-69 5-81 5-56 5-6 5 46 3 25-5-24-5 4-5 33-5 47-5 40zm45-37 10-153 5-52 5 0 5 50 3 21-5-26-5 2-5 30-10 89zm44-42 10-156 5-47 5 6 5 54 3 17-5-28-4-1-5 28-10 91z"/><path class=u transform=translate(-20,-9) d="m612 1667 5-14 5-7 5 5 5 16-3 29-5 32-5 6-5-24-5-43zm45 15 5-15 5-6 5 6 5 16-3 23-5 34-5 10-5-20-5-41zm45 9 5-14 5-5 5 7 5 16-3 15-5 38-5 13-5-16-5-39zm45 6 5-15 5-4 5 8 5 16-3 8-5 40-5 17-5-12-5-37zm40 18 5-18 5-14 5-4 5 9 5 16-4 2-5 41-5 21-5-9-5-34-5-44zm44-4 5-18 5-14 5-2 5 9 5 16-3-6-5 43-5 25-5-5-5-31-5-44zm45-8 5-19 5-13 5-2 5 10 5 16-3-13-5 44-5 29-5-1-5-29-5-42zm45-14 5-18 5-13 5-1 5 11 5 15-3-19-5 45-5 31-5 4-5-26-5-41zm45-17 5-19 5-12 5 0 5 11-3 34-5 35-5 7-5-22-5-40zm45-23 5-19 5-11 5 1 5 11-3 28-5 37-5 12-5-19-5-38zm45-27 5-19 5-10 5 1 5 12-3 21-5 40-5 15-5-15-5-36zm45-32 5-19 5-9 5 2 5 12-3 14-5 42-5 19-5-11-5-34zm45-36 5-19 5-9 5 4 5 11-3 7-5 45-5 23-5-8-5-31zm40-19 5-22 5-19 5-8 5 4 4 12-3 0-5 46-5 27-5-3-5-30-5-39z"/><path transform=translate(-20,-9) d="m629 1696 5-42 5-30 5-4 5 25 5 44 3-7-5 15-5 8-5-4-5-15-5-19zm45 10 5-42 5-29 5-1 5 28 5 44 3-15-5 17-5 9-5-2-5-13-5-19zm45 4 5-42 5-26 5 2 5 30 5 44 3-21-5 16-5 12-5 0-5-12-5-18zm45 0 5-41 5-25 4 5 5 32 4 34-5 12-5 2-5-10-5-17zm44-4 5-42 5-21 5 8 5 33 3 27-5 14-5 4-5-8-4-17zm45-10 5-40 5-19 5 11 5 35 3 20-5 15-5 6-5-7-5-15zm45-14 5-39 5-17 5 14 5 37 3 12-5 17-5 8-5-5-5-14zm45-18 5-38 5-14 5 16 5 38 3 6-5 18-5 9-5-3-5-13zm40 22 5-46 5-36 5-11 5 19 5 39 3-2-5 19-5 11-5-1-5-11-5-15zm45-27 5-46 5-35 5-8 5 22 5 39 3-9-5 20-5 13-5 1-5-10-5-15zm45-32 5-47 5-33 5-4 5 24 5 39 3-16-5 21-5 15-5 2-5-8-5-14zm45-37 5-47 5-30 5-2 5 26 5 40 3-23-5 21-5 16-5 5-5-7-5-13zm45-42 5-46 5-28 4 1 5 28 4 32-5 17-5 7-5-5-5-13z"/><path class=u transform=translate(-17,-8) d="m612 1666 5-62-3 48-5 14z"/><path class=u transform=translate(-14,-6) d="m637 1713 5 59-3-11-5-52zm45 22 5 54-3-11-5-48zm45 17 5 49-3-11-5-44zm45 12 5 44-3-12-5-39zm45 7 5 38-3-12-5-33zm45 2 5 32-4-12-5-28zm44-4 5 26-3-12-5-22zm130-95 5 54-3-11-5-47zm45-19 5 48-3-11-5-42zm45-25 5 43-3-11-5-38zm45-30 5 38-3-12-5-32z"/><path transform=translate(-14,-6) d="m609 1664 5-62 5-32 3-15-5 37-5 71zm50-52 5-28 3-14-5 32zm175 49 5-51 3-13-5 58zm44-14 5-48 3-13-5 54zm45-19 5-43 3-14-5 49zm45-23 5-39 3-15-5 45zm45-27 5-35 3-15-5 40zm45-31 5-31 3-15-5 35zm45-36 5-26 3-15-5 30zm85-26 5-58 3-12-5 64z"/><path class=u transform=translate(-11,-5) d="m632 1649 5 41 5 32 5 7 5-20-3 33-5 41-5-12-5-59-5-80zm40-15 5 34 5 40 5 29 5 3 5-23-3 30-5 46-5-5-5-54-5-78-5-66zm45 13 5 35 5 40 5 25 5 0 5-26-3 26-5 52-5 1-5-49-5-77-5-68zm45 8 10 75 5 23 5-5 5-29-3 23-5 56-5 9-5-44-10-145zm45 5 10 74 5 19 5-8 5-32-3 19-5 61-5 15-5-38-10-145zm45-1 10 73 5 16 5-12 5-33-3 14-5 65-5 22-5-32-10-144zm45-4 10 71 4 12 5-15-3 43-5 28-5-26-5-66-5-75zm44-9 5 37 5 31 5 9 5-18-3 39-5 35-5-19-5-63-5-75zm45-14 5 37 5 29 5 5 5-22-3 37-5 40-5-12-5-58-5-75zm45-18 5 37 5 26 5 1 5-25-3 33-5 47-5-6-5-54-5-74zm40-53 5 30 5 36 5 24 5-3 5-28-3 29-5 52-5 1-5-48-5-74-5-61zm45-28 10 66 5 20 5-6 5-31-3 25-5 58-5 7-5-43-10-136zm45-33 10 66 5 17 5-10 5-34-3 22-5 62-5 14-5-38-10-136z"/><path transform=translate(-11,-5) d="m609 1662 5-71 5-37 5 16 5 62 3 17-5-33-5-9-5 18-5 35zm40 80 10-141 5-32 5 21 3 44-5-12-5 15-10 72zm45 5 10-141 5-27 5 27 3 41-5-15-5 13-10 72zm45 0 5-76 5-64 5-22 5 33 3 37-5-16-5 10-5 33-5 39zm45-5 5-77 5-62 5-15 5 37 3 35-5-20-5 9-5 31-5 39zm45-10 5-78 5-58 5-10 5 42 3 31-5-21-5 5-5 30-5 40zm45-15 4-78 5-54 5-4 5 46 4 28-5-24-5 3-5 28-5 41zm39 49 5-69 5-78 5-49 5 1 5 51 3 24-5-26-5 0-5 27-10 76zm45-22 10-149 5-45 5 8 5 55 3 19-5-27-5-3-5 24-10 79zm45-26 10-151 5-40 5 13 5 59 3 15-5-29-5-5-5 22-10 79zm45-32 10-151 5-35 5 19 3 42-5-8-5 20-10 80zm45-37 10-150 5-30 5 24 3 40-5-11-5 17-5 38-5 43zm45-42 5-81 5-68 5-24 5 29 3 37-5-13-5 15-5 36-5 44zm45-46 5-83 5-64 5-19 5 34 3 34-5-16-5 12-5 36-5 44z"/><path class=u transform=translate(-8,-4) d="m632 1675 5-20 5-15 5-1 5 14 5 23-3-5-5 37-5 20-5-7-5-32-5-41zm45 12 5-20 5-14 5 0 5 14 5 23-3-12-5 38-5 23-5-3-5-29-5-40zm45 7 5-20 5-14 5 2 5 15 5 23-3-19-5 39-5 26-5 0-5-25-5-40zm45 3 5-21 5-12 5 2 5 17-3 35-5 29-5 5-5-23-5-38zm45-2 5-21 5-12 5 4 5 17-3 29-5 32-5 8-5-19-5-37zm45-7 5-21 5-10 5 5 5 17-3 23-5 33-5 12-5-16-5-35zm45-12 5-20 5-9 5 6 5 18-4 15-5 36-5 15-4-12-5-34zm44-16 5-20 5-8 5 7 5 19-3 8-5 38-5 18-5-9-5-31zm40 4 5-25 5-19 5-7 5 8 5 19-3 1-5 39-5 22-5-5-5-29-5-37zm45-25 5-25 5-19 5-6 5 10 5 18-3-6-5 41-5 25-5-1-5-26-5-37zm45-30 5-25 5-19 5-4 5 11 5 18-3-14-5 43-5 28-5 3-5-24-5-36zm45-34 5-26 5-17 5-3 5 11 5 18-3-21-5 44-5 31-5 6-5-20-5-35zm45-39 5-26 5-17 5-1 5 12-3 34-5 34-5 10-5-17-5-34z"/><path transform=translate(-8,-4) d="m609 1659 5-35 5-18 5 9 5 33 3 27-5 16-5 2-5-13-5-23zm45 12 5-35 5-15 5 12 5 34 3 20-5 17-5 5-5-11-5-22zm45 7 5-34 5-13 5 15 5 35 3 13-5 19-5 6-5-8-5-21zm45 3 5-33 5-10 5 16 5 37 3 6-5 20-5 8-5-6-5-19zm40 37 5-39 5-31 5-9 5 20 5 37 3-1-5 21-5 11-5-5-5-17-5-22zm45-6 5-40 5-30 5-5 5 21 5 38 3-8-5 22-5 13-5-2-5-16-5-22zm45-10 5-41 5-28 5-3 5 24 5 37 3-15-5 23-5 15-5 0-5-14-5-21zm44-16 5-40 5-27 5 0 5 26 5 37 3-22-4 24-5 17-5 2-5-12-5-20zm45-20 5-41 5-24 5 3 5 27 3 33-5 18-5 5-5-10-5-19zm45-25 5-40 5-22 5 5 5 29 3 26-5 20-5 7-5-8-5-18zm45-30 5-39 5-20 5 8 5 30 3 19-5 22-5 9-5-6-5-17zm45-35 5-38 5-17 5 11 5 31 3 12-5 23-5 11-5-3-5-16zm45-39 5-36 5-15 5 13 5 32 3 5-5 24-5 14-5-2-5-14zm40 1 5-44 5-36 5-12 5 16 5 32 3-2-5 25-5 16-5 1-5-13-5-17z"/><path class=u transform=translate(-5,-2) d="m612 1652 5 69-3-43-5-23zm25-26 5-51 5-7 5 40 10 135-3-47-10-45-5-14-5 1-5 15zm45 6 5-47 5-2 5 44 5 70-3-9-5-23-5-14-5 0-5 14zm45 2 5-43 5 3 5 48 5 70-3-14-5-23-5-15-5-2-5 14zm45-2 5-39 5 8 5 51 5 71-3-20-5-22-5-17-5-2-5 12zm45-7 5-35 5 13 5 55 5 70-3-25-5-22-5-17-5-4-5 12zm40 54 5-65 5-30 5 18 5 58 5 69-3-31-5-21-5-17-5-5-5 10-5 21zm45-17 5-63 5-26 5 23 10 128-3-35-10-38-5-6-5 9-5 20zm45-22 5-60 5-21 5 28 10 128-4-40-10-38-5-7-5 8-5 20zm44-26 5-57 5-16 5 32 10 127-3-44-10-37-5-8-5 7-5 19zm45-31 5-54 5-11 5 37 5 65-3-5-5-18-5-10-5 6-5 19zm45-35 5-51 5-5 5 41 5 65-3-10-5-18-5-11-5 4-5 19zm45-39 5-47 5-1 5 45 5 66-3-16-5-18-5-11-5 3-5 17zm45-44 5-43 5 5 5 48 5 66-3-22-5-17-5-12-5 1-5 17z"/><path transform=translate(-5,-2) d="m614 1678 5 13 5-2 5-16 5-20 3-27-5 69-5 53-5 10-5-37zm45 18 5 11 5-5 5-17 5-20 3-33-5 69-5 57-5 17-5-32zm40-8 5 21 5 8 5-6 10-39 3-38-5 69-5 60-5 23-5-26-5-63zm45 10 5 19 5 6 5-8 10-41 3-42-10 131-5 29-5-20-5-60zm45 5 5 17 5 5 5-11 10-42 3-47-10 133-5 34-5-14-5-55zm45 0 5 16 5 2 5-13 5-22 3-7-5 69-5 40-5-8-5-52zm45-5 5 14 5 0 5-15 5-23 3-12-5 71-5 44-5-1-5-47zm45-9 5 12 5-2 5-17 4-24 4-18-5 72-5 50-5 4-5-42zm44-14 5 10 5-5 5-18 5-25 3-23-5 73-5 54-4 11-5-37zm45-19 5 8 5-7 5-20 5-25 3-29-5 74-5 58-5 17-5-32zm40-41 5 17 5 6 5-9 5-22 5-25 3-34-5 74-5 62-5 23-5-26-5-61zm45-27 5 16 5 3 5-11 10-49 3-38-10 138-5 29-5-20-5-58zm45-32 5 14 5 2 5-14 10-50 3-43-10 141-5 34-5-14-5-54zm45-37 5 13 5-1 5-16 5-25 3-3-5 72-5 40-5-8-5-50z"/><path class=u transform=translate(-2,-1) d="m612 1650 5 74 5 40-3-7-5-37-5-69zm30-84 5-8 5 43 10 145 5 35-3-7-5-32-10-135-5-40-5 7zm45 9 5-2 5 47 10 144 5 28-3-7-5-26-10-133-5-44-5 2zm45 6 5 3 5 52 5 76 5 64 5 22-3-7-5-20-5-60-5-70-5-48-5-3zm45 1 5 9 5 56 5 76 5 60 5 15-3-7-5-14-5-55-5-71-5-51-5-8zm45-2 5 14 5 59 5 76 5 55-3-5-5-52-5-70-5-55-5-13zm45-7 5 20 5 62 5 75 5 51-3-6-5-47-5-69-5-58-5-18zm45-10 5 25 10 138 5 46-3-7-5-42-10-128-5-23zm45-14 5 30 10 138 5 40-3-6-5-37-10-128-5-28zm45-19 5 35 5 70 4 68 5 35-3-7-5-32-10-127-5-32zm39-11 5-11 5 40 10 136 5 28-3-6-5-26-10-126-5-37-5 11zm45-31 5-6 5 44 10 134 5 22-3-7-5-20-10-123-5-41-5 5zm45-36 5 0 5 48 5 72 5 58 5 16-3-7-5-14-5-54-5-66-5-45-5 1zm45-40 5 5 5 52 5 72 5 54-3-5-5-50-5-66-5-48-5-5z"/><path transform=translate(-2,-1) d="m619 1757 5-10 5-53 5-69 5-51 3-8-5 55-5 74-5 57-5 12zm45 17 5-17 5-57 5-69 5-47 3-9-5 51-5 75-5 61-5 19zm45 11 5-23 5-60 5-69 5-43 3-9-5 47-5 74-5 65-5 25zm45 6 5-29 10-131 5-39 3-10-5 43-10 142-5 31zm45 0 5-34 10-133 5-35 3-9-5 38-10 143-5 37zm40-12 5 8 5-40 10-134 5-30 3-10-5 33-10 144-5 43-5-9zm45-4 5 1 5-44 10-134 5-26 3-9-5 28-10 143-5 49-5-2zm45-10 5-4 5-50 5-72 5-60 5-21 3-9-5 22-5 65-5 78-5 53-5 5zm45-14 4-11 5-54 5-73 5-57 5-16 4-10-5 17-5 62-5 79-5 58-5 11zm44-20 5-17 5-58 5-74 5-54 3-9-5 59-5 79-5 63-5 18zm45-25 5-23 5-62 5-74 5-51 3-8-5 54-5 79-5 67-5 24zm45-31 5-29 10-138 5-47 3-9-5 50-10 149-5 31zm45-36 5-34 10-141 5-43 3-9-5 46-10 151-5 37zm40-49 5 8 5-40 5-72 3-1-5 77-5 43-5-10z"/></g>
<path class="a" d="M29.6 259.2L29.6 351.6L122.1 394.8L241.8 361.8M29.6 351.6l-2 -.7M29.6 328.5l-2 -.7M29.6 305.4l-2 -.7M29.6 282.3l-2 -.7M29.6 259.2l-2 -.7M114.4 391.2l-1.8 .5M75.8 373.2l-1.8 .5M37.3 355.2l-1.8 .5M132.1 392.1l1.5 .9M181.9 378.3l1.5 .9M231.8 364.6l1.5 .9"/>
<g class="t"><text transform="translate(24.8,353.6) scale(.87,1)" text-anchor="end">0</text><text transform="translate(24.8,330.5) scale(.87,1)" text-anchor="end">1</text><text transform="translate(24.8,307.4) scale(.87,1)" text-anchor="end">2</text><text transform="translate(24.8,284.3) scale(.87,1)" text-anchor="end">3</text><text transform="translate(24.8,261.2) scale(.87,1)" text-anchor="end">4</text><text transform="translate(109.6,400.4) scale(.87,1)" text-anchor="end">-50</text><text transform="translate(71,382.4) scale(.87,1)" text-anchor="end">0</text><text transform="translate(32.5,364.4) scale(.87,1)" text-anchor="end">50</text><text transform="translate(136.7,402.2) scale(.87,1)">-50</text><text transform="translate(186.5,388.9) scale(.87,1)">0</text><text transform="translate(236.4,375.5) scale(.87,1)">50</text></g>
<path class="g" style="stroke:#969696;stroke-dasharray:.9 1.6" d="M318.5 351.6L438.2 318.6M438.2 318.6L530.7 361.8M318.5 259.2L438.2 226.2M438.2 226.2L530.7 269.4M318.5 320.8L438.2 287.8M438.2 287.8L530.7 331M318.5 290L438.2 257M438.2 257L530.7 300.2M348.4 343.4L440.9 386.6M378.4 335.1L470.9 378.3M408.3 326.9L500.8 370.1M484.5 340.2L364.8 373.2M438.2 226.2L438.2 318.6M530.7 269.4L530.7 361.8M348.4 251L348.4 343.4M378.4 242.7L378.4 335.1M408.3 234.5L408.3 326.9M484.5 247.8L484.5 340.2"/>
<defs><linearGradient id="gd" gradientUnits="userSpaceOnUse" x1="2055.0" y1="1974.0" x2="1937.9" y2="1549.4"><stop offset="0" stop-color="#00006b"/><stop offset="0.07" stop-color="#00009e"/><stop offset="0.14" stop-color="#0000eb"/><stop offset="0.2" stop-color="#0040ff"/><stop offset="0.375" stop-color="#00ffff"/><stop offset="0.625" stop-color="#ffff00"/><stop offset="0.875" stop-color="#ff0000"/><stop offset="1" stop-color="#800000"/></linearGradient></defs>
<g class="c" transform="scale(.2)" stroke-width="3"><path stroke=#00f d="m2081 1964-24-3-18-8-5-6 2-4 11 0 23 5 10 6 5 6zm118-30-25-4-21-9-10-10 0-7 13 0 16 3 22 7 12 8 6 9m104-29-18-3-27-10-9-7-4-7-7-6-24-4-54-3-19 2-11 6-7 13-2 11-4 4-81-5-23 1-6 2-4 4-7 18-4 5-5 2-24 1-29-3m490-54-34-8-6-3-13-9-4-7 3-4 13 1 30 7 18 9 7 9-1 1m110-33-12 0-21-5-11-6-5-6 4-4 13 0 12 3 13 6 8 6 1 1zm-641 79 2-5 8-7 13-5 27-4 34-1 8-2 5-4 5-8 1-8-5-3-16 0-20 3-69 18-36 6m225-41 22-5 1-6-15-1-22 7 1 4zm123-34 19-4 5-4 0-3-11-2-23 6-2 1 1 5zm244-94-47 17-18 9-26 10-31 7-21 7-12 6-5 6 6 3 12 1 44 0 12-6 12-11 12-5 28-4 24 0 15 2 11 6 2 8-1 8-7 7-9 2-75-2-9 2-4 3-5 9-4 19 1 2-4 4-77-3-19 2-10 7-3 4-3 10 2 14 7 3 42 9 20 12 5 7m-516-34 38-16 24-5 28-9 12-6 5-6-18-4-44 0-7 3-22 17-24 6-35 0m220-41 24-6 2-1 0-5-15-1-16 4-4 3-1 4zm126-35 19-4 7-3-2-4-13-1-16 3-6 4-1 4zm-373 63 0-7 3-8 7-4 31-1 51 2 8-2 7-7 4-10 2-16 3-4 77 3 19-2 11-7 6-16-3-12-42-10-13-5-14-9-5-8 2-5 13 0 20 4 27 10 9 7 7 9 0 2 5 3 32 4 45 2 20-2 11-6 5-9 3-15 4-4 79 5 15 0 17-3 7-12 4-11 8-6 25-1 32 3 19 4 5 6 0 2-5 9-11 6-7 2-27 4-34 1-7 2-5 4-7 12 0 4 6 3 17 0 18-3 70-18 53-8 49-11m-573 66-35-5-15-5-10-6-8-11 2-4 12 0 33 8 19 12 4 7zm239-66-12 0-17-3-21-7-13-8-5-9 2-4 21 2 14 3 16 6 13 9 4 6-2 2zm-372 93-12 0-13-3-12-5-10-8 1-3 1-2 12 0 22 5 14 9 2 3zm479-132-11 1-23-6-9-6-5-6 3-4 17 1 8 2 18 8 5 6zm-334 22-1 0"/><path stroke=#09f d="m2067 1971-38-11-26-15-12-5-16-3m209 2-39-11-33-17-7-2-19-4-23 0-9 2-12 5-3 6 4 8 37 15 14 9 10 10m198-54-32-8-13-5-22-12-25-7-14-1-19 2-11 6-1 7 7 7 36 15 18 17m196-54-45-13-22-12-13-5-20-3-26 2-6 3-5 5 0 5 7 6 36 16 19 17m198-55-33-8-13-5-26-15-15-4-27-2-18 3-6 2-6 8 4 8 10 6 20 7 15 8 15 14m103-92-24 0-18 3-10 6-2 10 5 6 5 3 33 13 10 6 12 9 3 4m-864-12-1-3-9-6-26-10-17-9-8-6-17-17-5-3-25-10m26-7 21 12 63 16 19 8 20 12 7 2 23 4 12 0 18-3 7-2 4-4 1-5-4-7-10-6-19-7-16-8-30-27-25-10m31-9 21 12 56 14 14 5 34 17 16 4 11 1 26-2 10-6 1-7-3-3-16-9-24-10-29-26-10-6-19-8m32-9 16 9 13 5 48 12 21 7 21 12 14 5 20 3 25-2 6-3 6-6-3-7-16-9-19-7-10-6-25-24-29-13m31-8 21 11 70 19 36 18 22 5 24 0 9-2 12-6 2-5-4-8-17-8-20-7-14-9-20-20-16-9-14-5m26-7 21 12 69 19 26 15 12 5 17 4 37 1 9-2 12-5 4-4 2-5"/><path stroke=#1fe d="m2057 1974-6-2m123-31-51-11-31-11-13 0-4 3 2 3 27 18 11 15m177-49-82-18 0 2 5 6 9 7 12 18m176-49-82-17 6 9 8 6 12 18m178-49-51-12-34-11-10 1-3 4 1 2 20 11 18 21m171-53-37-9-18-9-13-4-22-3-8 2-5 3-1 3 2 4 27 14 8 6 13 14m-950-45-17-15-24-10m43-12 30 13 83 20 20 8 17 0 2-1-1-5-19-11-25-28-14-9-18-8m46-13 38 16 95 21 5 0-11-11-22-29-14-9-18-8m47-13 24 11 15 5 94 21 5 0-6-8-8-7-19-25-14-9-18-8m46-13 18 9 20 7 68 15 30 11 13 0 5-3-26-18-17-21-23-15-13-5m43-12 11 6 21 8 55 13 46 18 10 2 15 0 10-3 2-5-7-7-23-10-7-5-10-11"/><path stroke=#af5 d="m2164 1944-24-3-10 1-6 3-1 5 2 5m157-43-11-2-20 1-4 3 0 7m155-43-31 0-4 3 0 7m156-43-22-3-12 1-5 4 1 8m162-44-21-4-24 0-4 4 0 5 4 7m-982-52-25-14m56-15 23 10 25 7 32 4 13-1 4-3 1-5-4-8-11-10-21-11m59-16 25 10 24 6 16 3 23 0 6-4-2-11-11-10-21-11m60-17 25 11 15 4 38 6 10-1 5-4 1-3-2-8-11-10-21-11m59-16 15 7 33 9 20 4 24 0 5-3 1-6-7-11-9-7-20-10m56-16 11 6 20 7 24 6 34 5 11-1 5-3 1-6-4-8-7-8"/><path stroke=#fc0 d="m2633 1815-13 0-5 5m-957-80 21 9 22 5 17 2 10-2 5-3 0-5-3-4-8-7-16-8m73-20 11 5 24 7 20 2 11-1 5-3 0-5-2-3-15-11-8-4m74-20 12 5 29 8 25 0 5-3 0-5-2-3-12-10-11-5m72-20 27 10 17 4 26 0 5-3 1-5-11-11-16-9m69-19 13 6 29 9 34 2 6-3 1-5-5-8-4-4-21-11"/><path stroke=#f40 d="m1665 1738 30 9 17 0 4-4-1-2-7-7-9-5m87-24 31 8 12 0 4-4-3-4-13-9m89-24 31 8 12 0 4-4-3-4-13-9m88-24 13 5 22 5 11-1 5-3-1-3-7-7-10-5m84-24 28 10 10 2 16 0 5-3-2-7-18-12"/><path stroke=#b00 d="m1679 1734 7 1-1-3m353-97 8 1-1-3m107-29 9 3 15 1 2-5-7-5"/></g>
<g class="s sgd" transform="scale(.2)" fill="url(#gd)" stroke="url(#gd)"><path transform=translate(-460,-215) d="m2057 1707 12 103 6 38 6 25 6 8-5 4-6-9-6-25-6-40-6-50-6-56zm25 178 6-10 6-27 6-41 6-52 12-114 6-52 6-42 6-26 6-10 6 8 5 9-6-8-6 9-6 26-6 40-6 50-12 111-6 50-6 40-6 25-6 10zm138-98 6-52 12-116 6-52 6-42 6-27 6-11 6 8 5 9-6-7-6 10-6 26-6 40-24 213zm120-29 24-223 6-42 6-28 6-11 6 7 4 9-6-6-6 10-6 27-6 41-24 214zm119-40 6-53 12-118 6-53 6-43 6-28 6-11 6 6 5 9-6-6-6 11-6 27-6 42-6 51-12 114-6 51zm114-6 6-43 6-53 12-119 6-54 6-43 6-29 6-12 6 6 5 9-6-5-6 11-6 28-6 42-24 218-6 42z"/><path transform=translate(-456,-213) d="m2058 1709 12 98 6 37 6 24 6 7-5 4-6-8-6-25-6-38-12-103zm25 170 6-10 6-25 6-40 6-50 12-111 6-50 6-40 6-26 6-9 6 8 5 9-6-7-6 9-6 25-6 38-6 48-12 107-6 48-6 38-6 25-6 9zm138-95 24-213 6-40 6-26 6-10 6 7 4 9-6-7-6 10-6 25-6 39-6 49-12 108-6 48zm113 11 6-41 24-214 6-41 6-27 6-10 6 6 5 10-6-7-6 10-6 26-6 40-6 49-12 109-6 49-6 39zm120-39 6-41 6-51 12-114 6-51 6-42 6-27 6-11 6 6 5 9-6-5-6 10-6 27-6 40-6 49-12 110-6 49-6 40zm120-48 6-42 24-218 6-42 6-28 6-11 6 5 4 10-6-6-6 11-6 27-6 41-6 50-12 110-6 50-6 41z"/><path transform=translate(-451,-211) d="m2057 1711 6 50 6 45 6 35 6 23 6 7-4 2-6-7-6-24-6-37-12-98zm26 162 6-9 6-25 6-38 6-48 12-107 6-48 6-38 6-25 6-9 6 7 4 10-6-7-6 9-6 24-6 37-24 196-6 37-6 24-6 8zm131-53 6-39 6-48 12-108 6-49 6-39 6-25 6-10 6 7 5 11-6-7-6 9-6 25-6 38-6 46-12 104-6 47-6 37zm120-29 6-39 6-49 12-109 6-49 6-40 6-26 6-10 6 7 5 10-6-6-6 10-6 25-6 38-6 47-12 105-6 47-6 38zm120-39 6-40 6-49 12-110 6-49 6-40 6-27 6-10 6 5 4 11-6-6-6 11-6 25-6 39-24 201-6 38zm119-48 6-41 6-50 12-110 6-50 6-41 6-27 6-11 6 6 5 10-6-5-6 11-6 26-6 39-6 48-12 107-6 48-6 39z"/><path transform=translate(-446,-208) d="m2057 1714 6 48 6 43 6 35 6 21 6 7-5 0-6-7-6-23-6-35-6-45-6-50zm25 154 6-8 6-24 6-37 24-196 6-37 6-24 6-9 6 7 5 13-6-7-6 8-6 24-6 35-6 45-12 99-6 44-6 36-6 23-6 8zm132-52 6-37 6-47 12-104 6-46 6-38 6-25 6-9 6 7 4 12-6-7-6 10-5 23-6 36-18 145-6 45-6 36zm120-29 6-38 6-47 12-105 6-47 6-38 6-25 6-10 6 6 4 12-6-6-6 10-6 24-6 37-6 45-12 101-6 46-6 36zm119-39 6-38 24-201 6-39 6-25 6-11 6 6 5 12-6-5-6 10-6 24-6 38-6 46-18 148-6 37zm120-48 6-39 6-48 12-107 6-48 6-39 6-26 6-11 6 5 5 12-6-5-6 11-6 25-6 38-6 46-12 103-6 47-6 37z"/><path transform=translate(-442,-206) d="m2058 1720 6 47 6 41 6 33 6 21 6 7-5-3-6-7-6-21-6-35-6-43-6-48zm25 146 6-8 6-23 6-36 6-44 12-99 6-45 6-35 6-24 6-8 6 7 4 14-6-7-6 8-6 23-6 34-6 43-17 138-6 34-6 22-6 9zm70-301 6 20-4-13-6-21zm62 250 6-36 6-45 18-145 6-36 5-23 6-10 6 7 5 14-6-6-6 9-6 22-6 35-6 44-12 96-6 43-6 35zm119-29 6-36 6-46 12-101 6-45 6-37 6-24 6-10 6 6 5 14-6-5-6 9-6 23-6 36-24 185-6 35zm120-38 6-37 18-148 6-46 6-38 6-24 6-10 6 5 4 14-6-5-5 10-6 24-6 36-6 44-12 98-6 44-6 36zm120-49 6-37 6-47 12-103 6-46 6-38 6-25 6-11 6 5 4 14-6-4-6 10-6 24-6 37-24 188-6 36z"/><path transform=translate(-437,-204) d="m2057 1729 12 84 6 32 6 20-4-5-6-21-6-33-6-41-6-47zm20 131 6 7 6-9 6-22 6-34 17-138 6-43 6-34 6-23 6-8 6 7 5 16-6-6-6 8-6 21-6 33-6 42-12 91-6 41-6 33-6 21-6 8-6-6zm76-281 6 20-5-16-6-20zm61 238 6-35 6-43 12-96 6-44 6-35 6-22 6-9 6 6 5 16-6-6-6 9-6 22-6 33-24 176-6 34zm120-29 6-35 24-185 6-36 6-23 6-9 6 5 6 20 4 15-6-18-6-6-6 9-6 23-6 34-6 42-5 47-6 46-6 43-6 33zm120-39 6-36 6-44 12-98 6-44 6-36 6-24 5-10 6 5 5 16-6-4-6 9-6 23-6 35-6 42-12 95-6 42-6 35zm119-49 6-36 24-188 6-37 6-24 6-10 6 4 5 17-6-5-6 10-6 24-6 35-6 43-12 95-6 43-6 35z"/><path transform=translate(-432,-202) d="m2057 1740 12 80 6 31 6 19-5-7-6-20-6-32-12-84zm19 123 6 6 6-8 6-21 6-33 6-41 12-91 6-42 6-33 6-21 6-8 6 6 6 20 5 17-6-19-6-6-6 8-6 21-6 31-6 40-12 88-6 39-6 32-6 20-6 8-6-6zm138-42 6-34 24-176 6-33 6-22 6-9 6 6 6 19 4 18-6-19-6-5-6 8-6 21-6 32-18 129-6 40-6 32zm120-30 6-33 6-43 6-46 5-47 6-42 6-34 6-23 6-9 6 6 5 18-6-5-6 9-6 21-6 33-24 171-6 32zm119-38 6-35 6-42 12-95 6-42 6-35 6-23 6-9 6 4 5 19-6-5-6 9-6 22-6 34-6 41-12 90-6 41-6 33zm120-49 6-35 6-43 12-95 6-43 6-35 6-24 6-10 6 5 6 17 4 18-6-17-6-4-6 9-6 23-6 34-17 133-6 41-6 34z"/><path transform=translate(-428,-200) d="m2058 1752 5 41 6 36 6 29 6 19-4-9-6-19-6-31-12-80zm19 116 6 6 6-8 6-20 6-32 6-39 12-88 6-40 6-31 6-21 6-8 6 6 6 19 4 19-6-18-6-6-6 8-6 20-6 30-6 38-12 84-6 38-6 31-6 19-6 8-6-6zm82-237 6 29-4-18-6-30zm61 163 6-40 18-129 6-32 6-21 6-8 6 5 6 19 5 19-6-18-6-5-6 8-6 20-6 31-6 39-12 85-6 38zm114 3 6-32 24-171 6-33 6-21 6-9 6 5 6 18 5 19-6-17-6-5-6 8-6 21-6 32-24 164-6 31zm120-39 6-33 6-41 12-90 6-41 6-34 6-22 6-9 6 5 6 17 4 19-6-17-6-4-6 9-6 22-6 31-6 40-12 87-6 39-6 32zm120-48 6-34 6-41 17-133 6-34 6-23 6-9 6 4 6 17 5 19-6-16-6-4-6 9-6 22-6 33-24 168-6 32z"/><path transform=translate(-423,-198) d="m2057 1766 6 39 6 35 6 27 6 18-5-10-6-19-6-29-6-36-5-41zm19 109 6 6 6-8 6-19 6-31 6-38 12-84 6-38 6-30 6-20 6-8 6 6 6 18 5 20-6-17-6-5-6 7-6 19-6 29-24 154-6 29-6 19-6 7-6-6zm144-72 6-38 12-85 6-39 6-31 6-20 6-8 6 5 6 18 5 20-6-17-6-5-6 8-6 19-6 30-6 37-12 82-6 37zm120-29 24-164 6-32 6-21 6-8 6 5 6 17 4 20-6-16-6-5-6 8-6 20-6 31-6 37-12 83-6 37zm113-8 6-32 6-39 12-87 6-40 6-31 6-22 6-9 6 4 6 17 5 20-6-16-6-3-6 8-6 21-6 30-24 160-6 30zm120-48 6-32 24-168 6-33 6-22 6-9 6 4 6 16 5 20-6-15-6-4-6 9-6 21-6 31-24 162-6 31z"/><path transform=translate(-419,-195) d="m2058 1779 12 71 6 26 6 17-5-11-6-18-6-27-6-35-6-39zm37 83 6-29 24-154 6-29 6-19 6-7 6 5 6 17 4 21-5-17-6-5-6 7-6 19-6 28-6 34-12 78-6 35-6 28zm126-49 6-37 12-82 6-37 6-30 6-19 6-8 6 5 6 17 4 21-6-16-6-5-6 7-6 19-6 29-6 35-12 78-6 36zm119-30 6-37 12-83 6-37 6-31 6-20 6-8 6 5 6 16 5 21-6-16-6-4-6 8-6 19-6 29-24 151zm120-39 24-160 6-30 6-21 6-8 6 3 6 16 5 21-6-15-6-4-6 9-6 19-6 30-6 36-12 80-6 37zm120-49 24-162 6-31 6-21 6-9 6 4 6 15 6 25 4 20-6-24-6-15-6-3-6 9-6 20-6 30-24 155z"/><path transform=translate(-414,-193) d="m2057 1793 6 36 6 32 6 25-4-12-6-26-12-71zm38 79 6-28 6-35 12-78 6-34 6-28 6-19 6-7 6 5 5 17 5 20-6-15-6-5-6 6-6 18-6 27-6 33-12 74-6 34-6 26zm125-48 6-36 12-78 6-35 6-29 6-19 6-7 6 5 6 16 5 20-6-15-6-4-6 7-6 18-6 27-24 143zm120-30 24-151 6-29 6-19 6-8 6 4 6 16 5 20-6-15-6-3-6 7-6 19-6 27-6 35-12 76-6 34zm120-39 6-37 12-80 6-36 6-30 6-19 6-9 6 4 6 15 6 25 4 19-6-24-6-14-6-3-6 8-6 19-6 28-24 147zm119-49 24-155 6-30 6-20 6-9 6 3 6 15 5 20-6-14-6-3-6 9-6 20-6 28-24 149zm59-176 6 23-5-19-6-24z"/><path transform=translate(-409,-191) d="m2057 1806 12 65 6 24 6 15-5-10-6-16-6-25-6-32-6-36zm43 49 6-34 12-74 6-33 6-27 6-18 6-6 6 5 6 15 5 20-6-15-6-5-6 7-6 16-6 26-6 32-12 71-6 32zm120-20 24-143 6-27 6-18 6-7 6 4 6 15 6 24 4 19-6-24-6-14-6-4-6 7-5 17-6 26-24 137zm120-30 6-34 12-76 6-35 6-27 6-19 6-7 6 3 6 15 6 24 4 18-6-22-6-14-6-4-6 7-6 18-6 27-24 138zm119-39 24-147 6-28 6-19 6-8 6 3 6 14 5 20-6-14-6-3-6 8-6 18-6 27-6 34-12 74-6 33zm59-165 6 22-5-18-6-24zm61 116 24-149 6-28 6-20 6-9 6 3 6 14 6 23 5 18-6-21-6-13-6-3-6 8-6 19-6 28-6 33-12 75-6 34z"/><path transform=translate(-405,-189) d="m2058 1818 12 61 6 23 6 15-5-9-6-15-6-24-12-65zm43 47 6-32 12-71 6-32 6-26 6-16 6-7 6 5 6 15 6 24 4 16-6-22-6-15-6-4-6 6-6 16-6 25-6 30-17 98zm120-20 24-137 6-26 5-17 6-7 6 4 6 14 5 18-6-13-6-4-6 6-6 17-6 25-24 130zm119-30 24-138 6-27 6-18 6-7 6 4 6 14 5 17-6-13-6-3-6 7-6 17-6 25-24 133zm120-39 6-33 12-74 6-34 6-27 6-18 6-8 6 3 6 14 6 22 4 17-6-21-6-13-5-3-6 8-6 17-6 26-6 32-12 71-6 32zm120-49 6-34 12-75 6-33 6-28 6-19 6-8 6 3 6 13 6 21 4 17-6-21-6-12-6-2-6 8-6 18-6 26-24 137z"/><path transform=translate(-400,-187) d="m2057 1828 12 58 6 22 6 14-4-7-6-15-6-23-12-61zm44 45 17-98 6-30 6-25 6-16 6-6 6 4 6 15 5 15-6-13-6-4-6 6-6 15-6 23-18 94-6 29zm119-20 24-130 6-25 6-17 6-6 6 4 6 13 5 16-6-13-6-4-6 7-6 16-6 23-6 30-12 66-6 29zm120-29 24-133 6-25 6-17 6-7 6 3 6 13 6 22 4 15-6-21-6-12-6-4-6 7-6 17-6 24-12 63-5 33-6 31zm120-39 6-32 12-71 6-32 6-26 6-17 6-8 5 3 6 13 5 15-6-12-6-2-6 7-6 17-6 25-6 30-12 68-6 30zm119-49 24-137 6-26 6-18 6-8 6 2 6 12 5 16-6-11-6-3-6 8-6 18-6 25-24 130z"/><path transform=translate(-395,-185) d="m2057 1835 6 29 6 26 6 21 6 13-5-4-6-14-6-22-12-58zm43 45 6-29 18-94 6-23 6-15 6-6 6 4 6 13 5 13-6-12-6-4-6 6-6 14-6 22-6 28-12 62-6 27zm120-20 6-29 12-66 6-30 6-23 6-16 6-7 6 4 6 13 4 13-6-12-6-3-6 6-6 15-6 23-6 28-12 62-6 28zm58-141 6 20-4-12-6-21zm62 112 6-31 5-33 12-63 6-24 6-17 6-7 6 4 6 12 5 13-6-12-6-2-6 6-6 16-6 23-24 121zm119-40 6-30 12-68 6-30 6-25 6-17 6-7 6 2 6 12 5 14-6-12-6-2-6 7-6 16-6 24-6 29-18 94zm120-49 24-130 6-25 6-18 6-8 6 3 6 11 4 13-6-11-6-1-6 7-6 17-6 24-5 30-12 65-6 30zm58-154 6 19-4-12-6-20z"/><path transform=translate(-391,-183) d="m2057 1840 12 52 6 20 6 13-4-3-6-13-6-21-6-26-6-29zm20 82 6 4 4 2-6-3zm24-38 6-27 12-62 6-28 6-22 6-14 6-6 6 4 6 12 4 11-6-12-6-4-6 6-6 14-6 21-6 26-12 59-6 26zm119-20 6-28 12-62 6-28 6-23 6-15 6-6 6 3 5 11-6-3-6 6-6 14-6 22-24 113zm120-29 24-121 6-23 6-16 6-6 6 2 6 12 5 11-6-11-6-3-6 6-6 15-6 23-6 27-18 88zm120-39 18-94 6-29 6-24 6-16 6-7 6 2 6 12 4 10-6-11-6-2-6 7-6 16-6 22-6 28-12 62-6 27zm120-49 6-30 12-65 5-30 6-24 6-17 6-7 6 1 6 11 5 11-6-10-6-2-6 7-6 16-6 23-18 91-6 28z"/><path transform=translate(-386,-180) d="m2057 1841 12 50 6 19 6 11 6 4-5 0-6-3-6-13-6-20-12-52zm43 44 6-26 12-59 6-26 6-21 6-14 6-6 6 4 5 9-6-4-6 6-6 13-6 20-6 25-12 56-6 25zm120-20 24-113 6-22 6-14 6-6 6 3 5 9-6-3-6 6-6 13-6 21-24 108zm120-29 18-88 6-27 6-23 6-15 6-6 6 3 6 11 4 8-6-11-6-2-6 6-6 14-6 22-6 26-12 57-6 26zm119-40 6-27 12-62 6-28 6-22 6-16 6-7 6 2 5 9-6-2-6 7-6 15-6 21-24 112zm53-151 6 10-5-8-6-11zm67 102 6-28 18-91 6-23 6-16 6-7 6 2 5 8-6-1-6 7-6 15-6 22-18 87-6 27z"/><path transform=translate(-382,-178) d="m2058 1841 12 48 6 17 6 11 6 4-5 2-6-4-6-11-6-19-12-50zm43 44 6-25 12-56 6-25 6-20 6-13 6-6 6 4 5 6-6-3-6 5-6 13-6 19-6 24-12 53-6 23zm120-20 24-108 6-21 6-13 6-6 6 3 4 6-6-2-6 5-6 13-6 20-6 24-18 79zm113-9 6-21 6-26 12-57 6-26 6-22 6-14 6-6 6 2 5 7-6-2-6 6-6 13-6 21-6 24-12 55-6 25-6 20zm120-38 6-22 24-112 6-21 6-15 6-7 6 2 5 7-6-2-6 7-6 14-6 20-24 107-6 20zm120-49 6-22 6-27 18-87 6-22 6-15 6-7 6 1 4 7-6-1-6 7-6 14-6 21-24 109-6 21z"/><path transform=translate(-377,-176) d="m2057 1840 12 45 6 16 6 11 6 3 6-4-4 3-6 5-6-4-6-11-6-17-12-48zm32 74 6-12 6-20 6-23 12-53 6-24 6-19 6-13 6-5 6 3 4 5-6-3-6 5-6 12-6 18-24 96-6 18-6 12zm125-32 6-19 18-79 6-24 6-20 6-13 6-5 6 2 5 5-6-2-6 5-6 13-6 18-18 75-6 23-6 18zm120-29 6-20 6-25 12-55 6-24 6-21 6-13 6-6 6 2 5 5-6-2-6 6-6 13-6 19-6 23-12 52-6 24-6 19zm120-39 6-20 24-107 6-20 6-14 6-7 6 2 4 5-6-2-6 6-6 14-6 20-24 101-6 19zm119-48 6-21 24-109 6-21 6-14 6-7 6 1 5 5-6-1-6 7-6 14-6 20-6 24-18 79-6 20z"/><path transform=translate(-372,-174) d="m2057 1838 12 42 6 16 6 10 6 3 6-5-5 5-6 4-6-3-6-11-6-16-12-45zm31 71 6-12 6-18 24-96 6-18 6-12 6-5 6 3 5 4-6-3-6 5-6 11-6 18-6 21-18 69-6 17-6 11zm126-32 6-18 6-23 18-75 6-18 6-13 6-5 6 2 4 4-6-2-6 5-5 12-6 18-24 92-6 18zm120-29 6-19 6-24 12-52 6-23 6-19 6-13 6-6 6 2 4 4-6-2-6 6-6 12-6 18-18 72-6 22-6 18zm119-39 6-19 24-101 6-20 6-14 6-6 6 2 5 4-6-2-6 6-6 13-6 19-24 96-6 19zm120-48 6-20 18-79 6-24 6-20 6-14 6-7 6 1 5 4-6-1-6 7-6 13-6 19-6 23-12 52-6 23-6 19z"/><path transform=translate(-368,-172) d="m2058 1835 12 40 6 15 6 9 6 3 6-4-5 4-6 5-6-3-6-10-6-16-12-42zm31 67 6-11 6-17 18-69 6-21 6-18 6-11 6-5 6 3 4 4-6-3-6 5-6 10-6 17-6 20-17 65-6 16-6 11zm120-19 6-11 6-18 24-92 6-18 5-12 6-5 6 2 5 4-6-2-6 5-6 11-6 17-24 87-6 17-6 11zm119-28 6-13 6-18 6-22 18-72 6-18 6-12 6-6 6 2 5 3-6-1-6 5-6 12-6 17-24 90-6 17-6 11zm120-39 6-12 6-19 24-96 6-19 6-13 6-6 6 2 4 3-6-1-5 6-6 12-6 18-6 22-12 48-6 21-6 18-6 12zm120-48 6-13 6-19 6-23 12-52 6-23 6-19 6-13 6-7 6 1 4 3-6 0-6 6-6 13-6 18-6 22-12 49-6 22-6 18-6 13z"/><path transform=translate(-363,-170) d="m2057 1834 12 37 6 14 6 9 6 2 6-4-4 4-6 4-6-3-6-9-6-15-12-40zm32 62 6-11 6-16 17-65 6-20 6-17 6-10 6-5 6 3 5 4-6-2-6 4-6 10-6 15-18 62-6 19-6 15-6 10zm119-19 6-11 6-17 24-87 6-17 6-11 6-5 6 2 5 4-6-2-6 5-6 11-6 16-6 19-18 63-6 16-6 10zm120-29 6-11 6-17 24-90 6-17 6-12 6-5 6 1 4 5-6-2-6 5-6 12-6 16-6 20-5 22-6 22-6 20-6 17-6 11zm120-38 6-12 6-18 6-21 12-48 6-22 6-18 6-12 5-6 6 1 5 4-6 0-6 5-6 12-6 17-6 20-12 46-6 20-6 17-6 11zm119-48 6-13 6-18 6-22 12-49 6-22 6-18 6-13 6-6 6 0 5 5-6-1-6 6-6 12-6 18-24 88-6 17-6 12z"/><path transform=translate(-358,-167) d="m2057 1832 6 19 6 16 6 13 6 9 6 2-5 2-6-2-6-9-6-14-12-37zm25 61 6-4 6-10 6-15 6-19 18-62 6-15 6-10 6-4 6 2 5 5-6-2-6 4-6 10-6 14-6 18-12 40-6 18-6 15-6 9-6 4zm126-23 6-10 6-16 18-63 6-19 6-16 6-11 6-5 6 2 4 5-6-1-6 4-6 10-6 15-18 60-6 18-6 15-6 10zm120-28 6-11 6-17 6-20 6-22 5-22 6-20 6-16 6-12 6-5 6 2 5 5-6-1-6 5-6 10-6 16-6 19-12 42-6 19-6 15-6 11zm113-33 6-6 6-11 6-17 6-20 12-46 6-20 6-17 6-12 6-5 6 0 5 6-6-1-6 5-6 12-6 16-6 19-12 43-6 19-6 16-6 11-6 5zm120-48 6-6 6-12 6-17 24-88 6-18 6-12 6-6 6 1 6 6 4 5-6-6-6 0-6 6-6 11-6 17-5 20-12 43-6 20-6 17-6 11-6 6z"/><path transform=translate(-354,-165) d="m2058 1833 5 18 6 15 6 13 6 7 6 2-4 1-6-2-6-9-6-13-6-16-6-19zm25 56 6-4 6-9 6-15 6-18 12-40 6-18 6-14 6-10 6-4 6 2 6 8 4 6-6-7-6-2-6 4-6 9-6 14-6 17-12 37-6 17-6 14-6 9-6 3zm119-19 6-4 6-10 6-15 6-18 18-60 6-15 6-10 6-4 6 1 6 8 5 6-6-7-6-1-6 4-6 10-6 14-6 17-12 39-6 17-6 14-6 10-6 4zm120-28 6-4 6-11 6-15 6-19 12-42 6-19 6-16 6-10 6-5 6 1 6 7 5 6-6-6-6-1-6 5-6 10-6 14-6 18-12 40-6 18-6 14-6 10-6 5zm120-38 6-5 6-11 6-16 6-19 12-43 6-19 6-16 6-12 6-5 6 1 6 6 4 6-6-5-6-1-6 5-6 11-6 15-18 59-6 18-6 16-5 10-6 5zm120-47 6-6 6-11 6-17 6-20 12-43 5-20 6-17 6-11 6-6 6 0 6 6 5 6-6-5-6 0-6 5-6 12-6 15-6 19-12 42-6 18-6 16-6 11-6 5z"/><path transform=translate(-349,-163) d="m2057 1837 12 31 6 11 6 7-5-2-6-7-6-13-6-15-5-18zm19 47 6 2 6-3 6-9 6-14 6-17 12-37 6-17 6-14 6-9 6-4 6 2 6 7 5 9-6-7-6-2-6 4-6 8-6 13-6 16-12 36-6 16-6 12-6 9-6 3-6-2zm126-16 6-4 6-10 6-14 6-17 12-39 6-17 6-14 6-10 6-4 6 1 6 7 5 8-6-6-6-1-6 4-6 9-6 13-24 70-6 13-6 9-6 4zm114-29 6 1 6-5 6-10 6-14 6-18 12-40 6-18 6-14 6-10 6-5 6 1 6 6 4 8-6-5-6-1-6 4-6 10-6 14-24 71-6 14-6 9-6 4-6-1zm120-38 6 1 6-5 5-10 6-16 6-18 18-59 6-15 6-11 6-5 6 1 6 5 5 9-6-5-6-1-6 5-6 10-6 15-6 17-18 56-6 14-6 10-6 5-6-1zm82-123 6 9-5-7-6-11zm37 76 6 0 6-5 6-11 6-16 6-18 12-42 6-19 6-15 6-12 6-5 6 0 6 5 6 10 5 8-6-9-6-5-6 0-6 5-6 11-6 15-24 75-6 14-6 11-6 5-6 0z"/><path transform=translate(-345,-161) d="m2058 1842 6 16 6 13 6 11 6 6-5-4-6-7-6-11-12-31zm19 42 6 2 6-3 6-9 6-12 6-16 12-36 6-16 6-13 6-8 6-4 6 2 6 7 6 11 4 10-6-11-5-6-6-2-6 4-6 8-6 12-6 15-12 33-6 15-6 12-6 8-6 3-6-2zm120-18 6 2 6-4 6-9 6-13 24-70 6-13 6-9 6-4 6 1 6 6 6 11 4 10-6-10-6-6-6-1-6 4-6 9-6 12-18 50-6 15-6 13-6 8-6 4-6-2zm119-28 6 1 6-4 6-9 6-14 24-71 6-14 6-10 6-4 6 1 6 5 6 11 5 9-6-9-6-5-6-1-6 4-6 10-6 13-24 67-6 12-6 9-6 5-6-1zm120-37 6 1 6-5 6-10 6-14 18-56 6-17 6-15 6-10 6-5 6 1 6 5 6 9 5 10-6-9-6-4-6-1-6 5-6 10-6 13-18 53-6 16-6 14-6 9-6 5-6-1zm120-47 6 0 6-5 6-11 6-14 24-75 6-15 6-11 6-5 6 0 6 5 6 9 6 12 4 9-6-12-6-8-6-4-6 0-6 5-6 10-6 15-6 16-12 37-6 17-6 14-6 10-6 5-6 0z"/><path transform=translate(-340,-159) d="m2057 1850 12 27-4-8-6-13-6-16zm8 19 6 11 6 6 6 2 6-3 6-8 6-12 6-15 12-33 6-15 6-12 6-8 6-4 6 2 5 6 6 11 5 11-6-9-6-6-6-1-6 3-6 7-6 12-6 14-12 31-6 14-6 11-6 7-6 3-6-1-6-6-6-10zm125-7 6 6 6 2 6-4 6-8 6-13 6-15 18-50 6-12 6-9 6-4 6 1 6 6 6 10 5 12-6-10-6-5-6-1-6 4-6 8-6 12-6 14-18 47-6 12-6 7-6 4-6-1-6-6zm119-29 6 9-5-7-6-10zm1 2 6 6 6 1 6-5 6-9 6-12 24-67 6-13 6-10 6-4 6 1 6 5 6 9 6 12 12 28 6 12 6 9 6 5 6 1 6-5 6-9 6-14 6-16 18-53 6-13 6-10 6-5 6 1 6 4 6 9 24 50 6 9 5 4 6 0 6-5 6-10 6-14 6-17 12-37 6-16 6-15 6-10 6-5 6 0 6 4 6 8 6 12 5 10-6-10-6-7-6-4-6 0-6 5-6 10-6 13-24 67-6 13-6 10-6 4-6 1-6-4-6-8-24-46-6-8-6-4-6 0-6 4-6 9-6 13-24 65-6 13-6 9-6 4-6 0-6-5-6-8-6-11-17-37-6-8-6-5-6-1-6 4-6 9-6 12-24 63-6 12-6 9-6 4-6-1-6-5z"/><path transform=translate(-335,-157) d="m2052 1848 6 14 5 11-6-13zm11 25 6 11-5-9-6-13zm1 2 6 10 6 6 6 1 6-3 6-7 6-11 6-14 12-31 6-14 6-12 6-7 6-3 6 1 6 6 6 9 6 12 12 28 5 10-12-25-6-11-6-9-6-5-6-2-6 4-6 7-6 10-24 55-6 11-6 7-6 3-6-2-6-5-6-10zm119-19 6 11-5-9-6-12zm1 2 6 9 6 6 6 1 6-4 6-7 6-12 18-47 6-14 6-12 6-8 6-4 6 1 6 5 12 21 18 38 6 9 6 5 6 1 6-4 6-9 6-12 24-63 6-12 6-9 6-4 6 1 6 5 6 8 17 37 6 11 6 8 6 5 6 0 6-4 6-9 6-13 24-65 6-13 6-9 6-4 6 0 6 4 6 8 24 46 6 8 6 4 6-1 6-4 6-10 6-13 24-67 6-13 6-10 6-5 6 0 6 4 6 7 6 10 6 12 4 12-5-11-6-9-6-7-6-4-6 1-6 5-6 9-6 13-24 63-6 12-6 9-6 5-6 0-6-4-6-7-24-42-6-7-6-4-6 0-6 5-6 9-6 12-6 14-12 32-6 14-6 12-6 9-6 4-6 0-6-4-6-8-6-10-12-23-6-10-6-8-6-5-6 0-6 4-6 8-6 12-6 14-12 31-6 14-6 11-6 8-6 4-6-1-6-4-6-8-24-46-6-8-6-5-6-1-6 4-5 7-6 11-18 44-6 13-6 11-6 8-6 3-6-1-6-5-6-9z"/><path transform=translate(-331,-154) d="m2053 1857 6 13 12 21 6 5 6 2 6-3 6-7 6-11 24-55 6-10 6-7 6-4 6 2 6 5 6 9 6 11 12 25 6 11 6 9 6 5 6 1 6-3 6-8 6-11 6-13 18-44 6-11 5-7 6-4 6 1 6 5 6 8 24 46 6 8 6 4 6 1 6-4 6-8 6-11 6-14 12-31 6-14 6-12 6-8 6-4 6 0 6 5 6 8 6 10 12 23 6 10 6 8 6 4 6 0 6-4 6-9 6-12 6-14 12-32 6-14 6-12 6-9 6-5 6 0 6 4 6 7 24 42 6 7 6 4 6 0 6-5 6-9 6-12 24-63 6-13 6-9 6-5 6-1 6 4 6 7 6 9 5 11 5 12-12-18-6-6-6-3-6 1-6 5-6 9-6 11-18 45-6 14-6 12-6 9-6 4-6 1-6-3-6-7-6-9-12-20-6-9-6-7-6-3-5 0-6 5-6 8-6 11-18 44-12 25-6 8-6 4-6 0-6-4-6-7-6-9-6-11-12-20-6-7-6-4-6 0-6 4-6 8-6 10-18 43-6 13-6 10-6 8-6 4-6-1-6-4-6-7-12-21-6-12-12-17-6-4-6-1-6 3-6 8-6 10-18 41-12 23-6 7-6 3-6-1-6-5-6-8-6-10-6-12-12-22-6-8-6-5-6-1-6 3-6 7-6 10-6 12-17 39-6 10-6 7-6 2-6-1-6-5-6-9-12-23z"/><path transform=translate(-326,-152) d="m2053 1867 12 23 6 9 6 5 6 1 6-2 6-7 6-10 17-39 6-12 6-10 6-7 6-3 6 1 6 5 6 8 12 22 6 12 6 10 6 8 6 5 6 1 6-3 6-7 12-23 18-41 6-10 6-8 6-3 6 1 6 4 12 17 6 12 12 21 6 7 6 4 6 1 6-4 6-8 6-10 6-13 18-43 6-10 6-8 6-4 6 0 6 4 6 7 12 20 6 11 6 9 6 7 6 4 6 0 6-4 6-8 12-25 18-44 6-11 6-8 6-5 5 0 6 3 6 7 6 9 12 20 6 9 6 7 6 3 6-1 6-4 6-9 6-12 6-14 18-45 6-11 6-9 6-5 6-1 6 3 6 6 12 18 5 14-12-17-6-5-6-3-6 1-6 5-6 8-6 12-12 27-6 15-6 13-6 11-6 8-6 4-6 1-6-3-6-5-6-8-12-19-6-8-6-6-6-3-6 1-6 4-6 8-6 10-24 54-6 10-6 8-6 4-6 0-6-3-6-6-24-37-6-6-6-4-6 0-6 4-6 7-12 23-6 13-5 14-6 12-6 10-6 7-6 4-6 0-6-4-6-7-6-9-12-20-6-9-6-7-6-4-6-1-6 4-6 6-6 10-6 12-18 38-6 9-6 7-6 3-6-1-6-4-6-7-12-20-6-11-12-17-6-4-6-1-6 3-6 6-6 9-6 11-18 37-6 9-6 6-6 2-6-1-6-4-6-8-12-21z"/><path transform=translate(-321,-150) d="m2052 1879 12 21 6 8 6 4 6 1 6-2 6-6 6-9 18-37 6-11 6-9 6-6 6-3 6 1 6 4 12 17 6 11 12 20 6 7 6 4 6 1 6-3 6-7 6-9 18-38 6-12 6-10 6-6 6-4 6 1 6 4 6 7 6 9 12 20 6 9 6 7 6 4 6 0 6-4 6-7 6-10 6-12 5-14 6-13 12-23 6-7 6-4 6 0 6 4 6 6 24 37 6 6 6 3 6 0 6-4 6-8 6-10 24-54 6-10 6-8 6-4 6-1 6 3 6 6 6 8 12 19 6 8 6 5 6 3 6-1 6-4 6-8 6-11 6-13 6-15 12-27 6-12 6-8 6-5 6-1 6 3 6 5 12 17 4 13-6-8-6-7-6-4-6-3-6 2-6 4-6 8-6 10-5 13-12 27-12 23-6 7-6 5-6 1-6-3-6-5-6-7-6-8-6-9-6-7-6-5-6-3-6 1-6 4-6 7-6 10-24 50-6 10-6 7-6 4-6 1-6-3-6-6-24-33-6-6-6-3-6 1-6 3-6 7-12 21-18 37-6 9-6 7-6 3-6 0-6-3-6-6-18-27-6-8-6-7-6-3-6 0-6 3-6 6-6 9-6 11-12 24-6 11-6 9-6 6-5 3-6 0-6-4-6-7-6-8-12-20-6-9-6-6-6-4-6-1-6 3-6 5-6 9-12 22-6 12-6 10-6 9-6 5-6 3-6-1-6-5-6-7-12-19z"/><path transform=translate(-317,-148) d="m2053 1890 12 19 6 7 6 5 6 1 6-3 6-5 6-9 6-10 6-12 12-22 6-9 6-5 6-3 6 1 6 4 6 6 6 9 12 20 6 8 6 7 4 10-6-6-24-34-6-6-6-3-6-1-6 3-6 5-6 8-24 41-6 8-6 5-6 2-6-1-6-4-6-6-6-8-6-10zm155 10 6-6 6-9 6-11 12-24 6-11 6-9 6-6 6-3 6 0 6 3 6 7 6 8 18 27 6 6 6 3 6 0 6-3 6-7 6-9 18-37 12-21 6-7 6-3 6-1 6 3 6 6 24 33 6 6 6 3 6-1 6-4 5 10-6 4-6 0-6-2-6-5-6-7-12-16-6-7-6-5-6-3-6 1-6 3-6 7-6 9-6 10-12 24-12 19-6 6-6 4-6 0-6-3-6-6-6-7-12-17-6-7-6-6-6-3-6 0-6 3-6 6-6 8-6 10-12 23-6 10-6 8-6 6zm258-96 18-38 6-10 6-7 6-4 6-1 6 3 6 5 6 7 6 9 6 8 6 7 6 5 6 3 6-1 6-5 6-7 12-23 12-27 5-13 6-10 6-8 6-4 6-2 6 3 6 4 6 7 6 8 5 12-6-7-6-6-6-4-6-2-6 2-6 4-12 17-24 49-6 10-6 7-6 4-6 1-6-2-6-4-24-28-6-5-6-2-6 1-6 4-6 7-6 9-18 36z"/><path transform=translate(-312,-146) d="m2052 1900 6 10 6 8 6 6 6 4 6 1 6-2 6-5 6-8 24-41 6-8 6-5 6-3 6 1 6 3 6 6 24 34 5 9-6-7-12-16-6-7-6-6-6-3-6 0-6 2-6 5-6 7-6 9-12 20-6 9-6 7-6 5-6 2-6-1-6-3-6-6-6-7-6-9zm162 2 6-8 6-10 12-23 6-10 6-8 6-6 6-3 6 0 6 3 6 6 6 7 12 17 6 7 4 9-11-14-12-14-6-5-6-3-6 0-6 3-6 6-6 7-12 20-6 11-12 17zm114-23 6-6 12-19 12-24 6-10 6-9 6-7 6-3 6-1 6 3 6 5 6 7 12 16 6 7 6 5 4 8-6-4-6-6-12-14-6-6-6-5-6-2-6 0-6 4-6 6-6 8-6 10-12 22-12 18-6 5zm137-65 18-36 6-9 6-7 6-4 6-1 6 2 6 5 24 28 6 4 6 2 6-1 6-4 6-7 6-10 24-49 12-17 6-4 6-2 6 2 6 4 6 6 6 7 5 11-6-6-6-5-6-4-6-1-6 1-6 5-6 7-6 9-24 45-6 9-6 7-6 4-6 1-6-1-6-4-12-12-6-7-6-6-6-4-6-1-6 1-6 3-6 7-6 9-12 21-6 12z"/><path transform=translate(-308,-144) d="m2053 1909 6 9 6 7 6 6 5 7-6-6-12-14zm48 12 6-9 12-20 6-9 6-7 6-5 6-2 6 0 6 3 6 6 6 7 12 16 4 8-6-7-6-8-6-6-6-5-5-3-6 0-6 2-6 5-6 7-6 8-12 18-6 8zm120-20 6-9 6-11 12-20 6-7 6-6 6-3 6 0 6 3 6 5 12 14 6 8 4 8-12-14-6-6-6-4-6-2-6 0-6 2-6 5-12 16-12 20-6 8zm113-21 12-18 12-22 6-10 6-8 6-6 6-4 6 0 6 2 6 5 6 6 12 14 5 8-6-6-6-7-6-5-6-4-6-2-6 1-6 3-6 5-12 17-18 30-6 7zm126-48 6-10 6-12 12-21 6-9 6-7 6-3 6-1 6 1 6 4 6 6 6 7 12 12 5 7-6-5-6-6-12-10-6-4-6-1-6 1-6 4-6 6-6 8-12 20-6 11-6 9zm120-49 24-45 6-9 6-7 6-5 6-1 6 1 6 4 6 5 6 6 4 9-6-6-6-4-6-3-6-1-6 2-6 4-6 6-6 9-6 10-12 22-6 10z"/><path transform=translate(-303,-141) d="m2053 1915 6 7 4 6-6-7zm54 2 12-18 6-8 6-7 6-5 6-2 6 0 5 3 6 5 6 6 6 8 5 6-12-12-6-5-6-2-6 0-6 2-6 4-6 6-12 16-6 9zm113-12 6-8 12-20 12-16 6-5 6-2 6 0 6 2 6 4 6 6 6 7 5 6-6-6-6-5-6-4-6-2-6 0-6 3-6 5-6 7-12 16-12 17zm120-29 18-30 12-17 6-5 6-3 6-1 6 2 6 4 6 5 6 7 4 6-6-6-11-8-6-1-6 0-6 3-6 6-6 7-18 27-6 8zm120-40 6-9 6-11 12-20 6-8 6-6 6-4 6-1 6 1 6 4 12 10 6 6 4 6-18-15-6-2-6-1-6 1-6 3-6 6-6 8-24 37zm113-40 12-19 12-22 6-10 6-9 6-6 6-4 6-2 6 1 6 3 6 4 6 6 5 6-6-5-12-6-6 0-6 1-6 4-6 7-6 8-6 9-12 21-12 17z"/><path transform=translate(-298,-139) d="m2057 1923 12 12 6 4 6 2-5-1-6-3-6-5-6-6-6-7zm19 17 6 0 5 2-6-1zm30-19 6-9 12-16 6-6 6-4 6-2 6 0 6 2 6 5 5 5-6-4-6-2-6 0-6 2-6 4-12 12-12 16zm120-21 6-9 12-16 6-7 6-5 6-3 6 0 6 2 6 4 6 5 4 5-6-5-6-3-6-2-6 1-6 2-11 11-6 7-12 16zm114-22 6-8 18-27 6-7 6-6 6-3 6 0 6 1 11 8 5 5-6-4-6-3-6-1-6 1-6 3-6 4-6 7-6 8-6 9-12 16zm119-39 24-37 6-8 6-6 6-3 6-1 6 1 6 2 6 5 5 4-12-6-6 0-6 1-6 3-6 6-6 7-6 8-18 27zm120-49 6-9 12-21 6-9 6-8 6-7 6-4 6-1 6 0 12 6 5 5-6-3-6-2-6 0-6 2-6 3-6 6-6 8-24 37z"/><path transform=translate(-294,-137) d="m2058 1922 6 6 6 5 6 3 6 2 6 1-5 1-6-1-6-2-6-4-12-12zm25 18 6-2 5-1-6 2zm30-26 6-8 12-12 6-4 6-2 6 0 6 2 6 4 4 3-6-4-6-1-6 0-6 1-6 4-6 5-12 13zm114-13 12-16 6-7 11-11 6-2 6-1 6 2 6 3 5 3-6-3-6-1-6 0-6 3-6 4-6 5-6 7-6 8-6 7zm119-30 6-8 6-9 6-8 6-7 6-4 6-3 6-1 6 1 6 3 5 3-6-3-6-1-6 1-6 3-6 5-6 6-6 7-12 16zm114-31 18-27 6-8 6-7 6-6 6-3 6-1 6 0 6 3 4 2-6-2-6 0-6 2-5 3-6 5-12 14-6 9-12 16zm120-49 24-37 6-8 6-6 6-3 6-2 6 0 6 2 4 3-6-2-6 0-6 2-6 4-6 6-6 7-6 8-12 18-6 8z"/><path transform=translate(-289,-135) d="m2057 1920 6 4 6 5 6 3 6 2 6 0 6-2 6-3-4 3-6 3-6 2-6-1-6-2-6-3-6-5-6-6zm55-7 12-13 6-5 6-4 6-1 5 1-6 2-6 3-6 5-12 12zm120-20 6-8 6-7 6-5 6-4 6-3 6 0 6 1 5 1-6-1-6 1-6 2-6 4-6 5-6 6-6 7zm114-23 12-16 6-7 6-6 6-5 6-3 6-1 6 1 4 1-6 0-6 1-6 2-12 10-6 7-5 7-6 7zm120-40 6-8 6-9 12-14 6-5 5-3 6-2 6 0 6 2 5 1-12-2-6 2-6 3-6 5-6 6-6 7-12 16zm113-41 6-8 12-18 6-8 6-7 6-6 6-4 6-2 6 0 5 1-6 1-6 2-6 3-12 12-24 32zm59-52 6 1-5 0-6-2z"/><path transform=translate(-284,-133) d="m2057 1915 6 5 12 6 6 2 6 0 6-2 6-3-5 4-6 3-6 2-6 0-6-2-6-3-6-5-6-4zm55-4 12-12 6-5 6-3 6-2 5 0-6 1-12 8-6 5-6 6zm120-21 6-7 6-6 6-5 6-4 6-2 4 0-6 2-6 3-6 5-12 12zm114-24 6-7 5-7 6-7 12-10 6-2 6-1 5-1-12 4-6 4-6 5-18 20zm119-39 12-16 6-7 6-6 6-5 6-3 6-2 5 0-6 2-6 3-6 4-6 6-18 21zm114-42 24-32 12-12 6-3 6-2 4-1-6 2-6 4-6 5-6 6-11 15-12 14z"/><path transform=translate(-280,-131) d="m2058 1910 5 4 12 6 6 1 6 0 6-1 6-3-4 4-6 3-6 2-6 0-6-2-12-6-6-5zm55-3 6-6 6-5 12-8 4-1-6 3-6 4-12 10zm113-15 18-18 6-5 6-3 5-2-12 8-6 5-6 6-6 5zm35-28 6-2-5 2-6 2zm85-2 18-20 6-5 6-4 6-2 5-2-6 3-12 8-18 18zm118-38 6-6-4 4-6 6zm2-2 18-21 6-6 6-4 6-3 4-1-6 3-6 4-6 5-6 6-6 7-6 6zm114-43 12-14 11-15 6-6 6-5 6-4 6-2 5-1-6 2-6 4-12 10-18 21-6 6z"/><path transform=translate(-275,-129) d="m2057 1905 12 6 6 2 6 1 6 0 6-1-5 5-6 1-6 0-6-1-12-6-5-4zm49 2 18-15 6-4 6-3 5-1-6 2-18 12-6 5zm35-23 6-2-5 2-6 1zm85 2 6-5 6-6 6-5 12-8 6-2 5-1-6 2-6 3-12 8-12 10zm118-29 6-5-4 4-6 6zm2-1 18-18 12-8 6-3 4-1-6 2-12 8-6 5-6 6-6 5zm113-34 12-12 6-7 6-6 6-5 6-4 6-3 5-2-6 3-6 4-6 5-18 18-6 5zm47-39 6-2-5 2-6 2zm79-16 18-21 12-10 6-4 6-2 5-1-6 2-6 3-12 10-6 6-6 7-6 6z"/><path transform=translate(-271,-126) d="m2058 1900 18 6 6 1 6 0-5 4-6 0-6-1-6-2-12-6zm49 0 6-5 18-12 12-4 5-1-12 4-6 3-18 12zm118-20 6-4-4 3-6 5zm2-1 12-10 12-8 6-3 6-2 4-1-6 2-12 6-6 4-6 5-6 4zm40-24 6-1-4 1-6 1zm73-1 12-10 6-6 6-5 12-8 6-2 5-1-6 2-18 12-18 15zm47-32 6-2-5 2-6 1zm73-7 6-5 18-18 6-5 6-4 6-3 6-2 5-1-6 2-6 3-12 8-6 6-18 15zm126-55 6-6 6-7 6-6 12-10 6-3 6-2 4-2-12 6-6 4-6 6-6 5-12 12zm46-36 6-1-4 1-6 2z"/><path transform=translate(-266,-124) d="m2057 1896 12 4 6 1-4 3-18-6zm48 0 6-3-4 2-6 3zm2-1 18-12 6-3 12-4 4 0-12 4-18 9-6 4zm106-13 6-3-5 3-6 3zm1 0 18-12 6-5 6-4 12-6 6-2 6-1 5 0-6 1-12 4-6 4-6 3-18 12-6 3zm113-27 6-2 6-3-5 3-6 3-6 2zm7-2 6-4 18-15 18-12 12-4 6 0 5 0-12 2-6 2-6 3-12 8-6 5-18 12zm106-34 6-2-4 3-6 2zm20-10 18-15 6-6 12-8 6-3 6-2 4 0-6 2-6 3-12 8-18 15-6 4zm94-36 6-1 6-2 6-3-5 3-6 3-6 2-5 1zm13-3 18-15 12-12 6-5 6-6 6-4 12-6 12-2 5 0-6 1-12 4-6 3-6 4-12 10-6 6-18 15-6 4z"/><path transform=translate(-261,-122) d="m2057 1895 6 1-5 0-6-2zm30 4 6-1-5 1-6 1zm1 0 6-2 12-6 6-4 18-9 12-4 12 0 12 2 5 1-6-1-18 0-6 1-6 2-30 15-12 4zm83-22 6 2-5-1-6-2zm30 4 12-2-5 1-12 2zm7-1 12-6 18-12 6-3 6-4 12-4 6-1 12 0 12 2 4 1-12-2-6 0-12 2-11 4-12 6-18 11-6 3-6 2zm106-26 12-2-4 1-12 2zm8-1 6-2 6-3 18-12 6-5 12-8 6-3 6-2 6-1 4 1-12 4-12 6-24 16-12 6-6 2zm112-36 6-1-5 1-6 1zm1 0 12-4 18-12 18-15 12-8 6-3 6-2 6-1 5 2-6 1-6 2-12 6-12 8-12 10-12 8-6 3-12 4zm108-45 12-2 6-2 6-3 6-4 18-15 6-6 12-10 6-4 6-3 12-4 6-1 5 1-6 1-6 2-12 6-12 8-24 20-12 8-6 3-12 4-6 1z"/><path transform=translate(-257,-120) d="m2053 1893 6 1 6 2 6 1 12 0 6-1 12-4 30-15 6-2 6-1 18 0 6 1 6 2 12 2 12 0 12-2 6-2 6-3 18-11 12-6 11-4 12-2 6 0 12 2 6 0 6 1 6 0 12-2 6-2 12-6 24-16 12-6 6-2 5 4-12 4-18 11-6 3-6 4-6 3-18 6-6 0-6 1-6 0-6-1-24 0-6 2-6 1-6 2-36 18-12 4-6 0-6 1-6-1-6 0-18-3-12 0-12 2-12 4-6 3-6 2-11 5-12 4-6 1-12 0-18-3zm365-77 6 0 12-2 12-4 6-3 12-8 12-10 12-8 12-6 6-2 4 4-5 2-18 9-6 4-6 5-12 8-18 9-6 1-6 2-6 0-6 1zm114-46 12 0 6-1 12-4 6-3 12-8 24-20 12-8 12-6 6-2 17-3 5 3-12 2-12 4-18 9-6 4-12 10-6 4-6 5-6 4-12 6-12 4-18 3z"/><path transform=translate(-252,-118) d="m2053 1893 18 3 12 0 6-1 12-4 11-5 6-2 6-3 12-4 12-2 12 0 18 3 6 0 6 1 6-1 6 0 12-4 36-18 6-2 6-1 6-2 24 0 6 1 6 0 6-1 6 0 18-6 6-3 6-4 6-3 18-11 6-2 4 6-6 2-18 9-5 4-12 6-12 4-18 3-30 0-12 2-12 4-6 3-6 2-12 6-6 2-6 3-6 2-12 2-24 0-6-1-18 0-18 3-6 2-6 3-30 10-6 1-18 0-12-2zm359-77 6 0 6-1 6 0 6-2 6-1 18-9 12-8 6-5 6-4 18-9 4 6-6 2-18 10-18 12-12 6-12 4-24 4zm113-45 6 0 18-3 12-4 12-6 6-4 6-5 6-4 12-10 6-4 18-9 12-4 12-2 5 5-6 1-24 8-6 3-24 16-6 5-6 4-18 10-12 4-24 4z"/><path transform=translate(-247,-116) d="m2052 1896 12 2 18 0 6-1 30-10 6-3 6-2 18-3 18 0 6 1 24 0 12-2 6-2 6-3 6-2 12-6 6-2 6-3 12-4 12-2 30 0 18-3 12-4 12-6 5-4 18-9 5 8-6 2-30 15-12 4-18 3-6 0-6 1-6 0-6 1-6 0-12 2-24 8-6 3-6 2-6 3-12 4-5 1-6 1-6 0-6 1-12 0-6-1-12 0-24 4-30 10-24 4-12 0-6-1-6 0zm353-77 6 0 24-4 12-4 12-6 18-12 18-10 5 8-12 6-6 4-12 6-6 4-12 6-12 4-6 1-6 2-6 1-6 0-6 1zm114-43 6-2 24-4 12-4 18-10 6-4 6-5 24-16 6-3 4 8-6 3-6 4-6 3-5 4-18 12-6 3-6 4-6 2-6 3-12 4-12 2-6 2-6 1zm120-54 6-2 6-1 4 7-6 1-6 2z"/><path transform=translate(-243,-113) d="m2053 1900 6 0 6 1 12 0 24-4 30-10 24-4 12 0 6 1 12 0 6-1 6 0 6-1 5-1 12-4 6-3 6-2 6-3 24-8 12-2 6 0 6-1 6 0 6-1 6 0 6-1 5 8-12 2-6 0-12 2-6 0-6 2-12 2-24 8-6 3-12 4-6 1-6 2-6 1-6 0-6 1-24 0-6 1-6 0-18 3-12 4-6 1-12 4-24 4-18 0-6-1zm293-56 6-3 5 9-6 3zm60-21 6-1 6 0 6-1 6-2 6-1 12-4 12-6 6-4 12-6 6-4 6-3 4 9-12 6-6 4-29 14-6 2-6 1-6 2-18 3zm114-43 6-1 6-2 12-2 12-4 6-3 6-2 6-4 6-3 18-12 5-4 6-3 6-4 5 10-12 6-12 8-6 3-6 4-24 12-12 4-6 1-6 2-6 1-6 2zm113-52 12-4 6-1 5 8-12 4-6 3z"/><path transform=translate(-238,-111) d="m2052 1906 6 1 18 0 24-4 12-4 6-1 12-4 18-3 6 0 6-1 24 0 6-1 6 0 6-1 6-2 6-1 12-4 6-3 24-8 12-2 6-2 6 0 12-2 6 0 5 9-36 6-12 4-6 1-30 10-6 1-6 2-12 2-6 0-6 1-12 0-6 1-6 0-30 5-6 2-6 1-6 2-30 5-24 0zm348-75 24-4 6-2 6-1 4 9-6 1-6 2-6 1-6 2-6 1-6 2zm53-14 18-9 6-4 5 11-6 3-6 2-12 6zm66-30 6-2 6-1 6-2 6-1 12-4 24-12 6-4 6-3 12-8 5 11-12 7-36 18-30 10-6 1zm114-51 6-3 12-4 5 10-6 2-6 3-6 2z"/><path transform=translate(-234,-109) d="m2053 1914 24 0 30-5 6-2 6-1 6-2 30-5 6 0 6-1 12 0 6-1 6 0 12-2 6-2 6-1 30-10 6-1 12-4 24-4 4 11-18 3-6 2-6 1-6 2-6 1-18 6-6 1-6 2-36 6-6 0-12 2-6 0-35 6-6 2-36 6-18 0-6 1zm347-74 6-2 6-1 6-2 5 11-6 1-6 2-6 1zm114-43 6-2 6-1 30-10 36-18 4 10-30 15-6 2-5 3-36 12zm120-53 6-2 6-3 6-2 4 10-6 3-6 2-6 3z"/><path transform=translate(-229,-107) d="m2053 1923 6-1 18 0 36-6 6-2 35-6 6 0 12-2 6 0 36-6 6-2 6-1 18-6 6-1 6-2 6-1 6-2 12-2 5 10-6 2-12 2-6 2-6 1-6 2-6 1-12 4-6 1-6 2-42 7-6 0-84 14-6 0-6 1-6 0-6 1-6 0zm347-75 6-1 4 10-5 2zm114-42 18-6 4 10-6 3-12 4zm113-50 12-6 6-2 6-3 5 11-6 2-18 9z"/><path transform=translate(-224,-105) d="m2052 1931 6 0 6-1 6 0 6-1 6 0 84-14 6 0 6-1 5 9-36 6-6 0-54 9-6 0-6 1-6 0-6 1-6 0zm174-26 12-4 6-1 6-2 6-1 6-2 6-1 4 10-6 1-6 2-5 1-6 2-12 2-6 2zm287-90 6-2 5 10-6 2zm114-50 18-9 6-2 5 9-12 6-6 2-6 3z"/><path transform=translate(-220,-103) d="m2053 1938 6 0 6-1 6 0 6-1 6 0 12-2 5 8-6 1-6 0-6 1-6 0-12 2-6 0zm575-166 6-3 4 9-6 2z"/><path transform=translate(-215,-100) d="m2053 1943 6 0 12-2 6 0 6-1 4 6-6 1-6 0-6 1-6 0-6 1z"/><path transform=translate(-210,-98) d="m2052 1947 6-1 6 0 6-1 5 4-6 0-6 1-6 0z"/><path transform=translate(-206,-96) d="m2053 1948 6 0 6-1 4 1-6 1-5 0z"/><path transform=translate(-201,-94) d="m2057 1946 6-1 6 0 6-1 6 0 18-3 6 0 12-2-5 1-18 3-6 0-12 2-6 0-12 2-5 0z"/><path transform=translate(-197,-92) d="m2058 1940 6 0 6-1 6 0 6-1 6 0 30-5-5 4-12 2-6 0-18 3-6 0-6 1-6 0-6 1z"/><path transform=translate(-192,-90) d="m2057 1933 6 0 6-1 12 0 30-5-4 5-24 4-6 0-6 1-6 0-6 1-6 0z"/><path transform=translate(-187,-87) d="m2057 1924 18 0 6-1 6 0 18-3-5 5-24 4-12 0-6 1-6 0z"/><path transform=translate(-183,-85) d="m2058 1916 24 0 18-3-5 6-12 2-6 0-6 1-18 0z"/><path transform=translate(-178,-83) d="m2057 1908 6 1 18 0 6-1-4 5-6 1-24 0z"/><path transform=translate(-173,-81) d="m2057 1902 6 1 6 0 6 1 6-1-5 4-18 0-6-1z"/><path transform=translate(-169,-79) d="m2057 1898 6 1 6 0 6 1-4 2-6-1-6 0-6-1zm36 1 18-6-4 2-12 4-6 1z"/><path transform=translate(-164,-77) d="m2057 1895 6 2-5 0-6-1zm1 2 6 0 6 1 6 0 6-1 6 0 30-10 6-3 6-2 5-1-6 2-6 3-6 2-12 6-6 2-18 3-6-1-6 0-6-1zm77-16 6-2 6-1-5 2-12 2zm49-1 12 0 6-1 5 1-6 1-12 0z"/><path transform=translate(-160,-75) d="m2053 1893 6 2 6 1 6 0 6 1 18-3 6-2 12-6 6-2 6-3 12-4 12-2 6 0 6 1 6 0 18 3 12 0 4 3-6 0-36-6-5 0-12 2-12 4-24 12-12 4-12 2-18-3-6-2z"/><path transform=translate(-155,-72) d="m2053 1892 6 2 18 3 12-2 12-4 24-12 12-4 12-2 5 0 36 6 5 5-12-2-12-4-12-2-12 0-18 6-18 11-12 6-6 1-6 2-6 0-12-2-12-4z"/><path transform=translate(-150,-70) d="m2052 1894 12 4 12 2 6 0 6-2 6-1 12-6 18-11 6-2 5 4-6 3-18 12-18 9-6 1-6 0-12-2-6-3-6-2zm96-20 6 0 12 2 12 4 6 1 5 7-30-10-6 0z"/><path transform=translate(-146,-68) d="m2053 1898 6 2 6 3 12 2 6 0 6-1 18-9 12-8 4 6-23 17-6 2-6 1-6 0-6-1-12-4-6-3zm90-22 12 0 18 6 4 7-6-3-12-4-6-1-6 1z"/><path transform=translate(-141,-66) d="m2053 1903 6 3 12 4 6 1 6 0 6-1 6-2 6-4 4 9-6 4-12 4-6 0-12-4-6-3-6-4zm95-24 6 1 12 4 5 7-6-3-6-2-6-1z"/><path transform=translate(-136,-64) d="m2052 1908 6 4 6 3 12 4 6 0 12-4 5 9-12 4-6 0-12-4-12-8zm96-25 6 1 6 2 5 6-6-2-6-1z"/><path transform=translate(-132,-62) d="m2053 1914 12 8 12 4 4 8-6-2-6-3-6-4-5-5z"/><path transform=translate(-127,-59) d="m2053 1917 5 5 5 6-6-6z"/><path transform=translate(-123,-57) d="m2058 1923 12 12-5-5-6-4-6-6z"/><path transform=translate(-118,-55) d="m2057 1921 12 14-4-2-12-12z"/><path transform=translate(-113,-53) d="m2057 1917 6 8 6 7 6 5 6 3 6 1-5 0-6-1-6-3-6-4-12-14z"/><path transform=translate(-109,-51) d="m2058 1911 6 9 6 7 6 6 6 3 6 1 6-2-5 2-6 2-6-1-6-3-6-5-6-7-6-8z"/><path transform=translate(-104,-49) d="m2057 1903 6 9 6 8 6 7 6 4 6 1 6-3-4 4-6 2-6-1-6-3-6-6-6-7-6-9zm144 10 6 0 6-3-5 4-6 3-6-1zm7 1 6-5 5-4-6 5zm113-29 6 0 6-3-5 4-6 3-6 0zm125-38 6-4-4 4-6 4zm115-44 6-4 5-4-6 5z"/><path transform=translate(-99,-46) d="m2057 1892 12 19 6 7 6 4 6 1 6-2 6-6-5 6-6 5-6 3-6-1-6-4-6-7-6-8-6-9zm138 9 6 3 6 1 5-3 6-6-4 6-6 5-6 3-6 0-6-4zm125-24 6 0 6-4 6-6-4 5-6 7-6 3-6 0zm120-38 6 0 6-4 6-7-5 6-6 6-6 4-6 1zm120-47 6-1 6-4-5 5-6 5-6 1zm7 0 6-7 5-6-6 8z"/><path transform=translate(-95,-44) d="m2057 1881 12 21 6 8 6 4 6 1 6-2 6-6-4 6-6 6-6 2-6-1-6-4-6-7-12-19zm138 11 6 4 6 1 6-3 6-7-5 7-6 6-5 3-6-1-6-3zm120-27 6 4 6 0 6-4 6-7-5 7-6 6-6 4-6 0-6-4zm120-37 6 3 6 0 6-4 5-8-4 7-6 7-6 4-6 0-6-3zm125-44 6-1 6-4 6-8-4 6-6 8-6 4-6 1z"/><path transform=translate(-90,-42) d="m2057 1870 12 23 6 8 6 5 6 2 6-3 6-7-5 7-6 6-6 2-6-1-6-4-6-8-12-21zm37 35 6-9 18-37 5-10-18 40-6 9zm95-29 6 8 6 4 6 1 6-3 6-7-5 6-6 7-6 3-6-1-6-4-6-7zm125-20 6 5 6 0 6-4 6-7-4 6-6 7-6 4-6 0-6-4zm120-37 6 4 6 0 6-4-4 6-6 4-6 0-6-3zm14 6 5-8 5-6-6 8zm106-52 6 3 6 0 6-5-5 6-6 4-6 1-6-3z"/><path transform=translate(-86,-40) d="m2058 1859 12 25 6 9 6 6 6 1 6-3-5 6-6 3-6-2-6-5-6-8-12-23zm49 15 12-27 6-12 5-10-6 13-12 29zm82-7 6 9 6 5 6 1 6-4 6-7-4 6-6 7-6 3-6-1-6-4-6-8zm120-27 6 8 6 5 6 1 6-4-5 5-6 4-6 0-6-5-6-7zm120-36 6 8 6 4 6 0 6-4-5 5-6 4-6 0-6-4-6-7zm120-46 6 7 5 4 6-1 6-4-4 5-6 5-6 0-6-3-6-7z"/><path transform=translate(-81,-38) d="m2057 1850 12 27 6 10 6 6 6 1 6-3-4 4-6 3-6-1-6-6-6-9-12-25zm32 45 6-7 6-10 6-13 12-29 4-8-12 31-6 14-6 11-6 7zm100-35 6 9 6 6 6 1 6-4-5 4-6 4-6-1-6-5-6-9zm120-27 6 9 6 5 6 1 6-4-5 4-6 4-6-1-6-5-6-8zm119-36 6 8 6 5 6 0 6-5-4 5-6 4-6 0-6-4-6-8zm120-46 6 8 6 4 6-1-5 4-6 1-5-4-6-7z"/><path transform=translate(-76,-36) d="m2057 1843 6 15 6 13 6 11 6 7 6 1-5 2-6-1-6-6-6-10-12-27zm25 49 6-3 6-7 6-11 6-14 12-31 6-14 6-12 5-8-6 12-6 15-12 33-6 15-6 12-6 8-6 3zm101-51 6 13 6 11 6 6 6 1-5 2-6-1-6-6-6-9-6-12zm19 33 6-4 5-2-6 4zm42-84 6-12 5-8-6 12zm58 25 6 13 6 9 6 6 6 1-4 2-6-1-6-5-6-9-6-12zm120-36 6 12 6 9 6 6 6 0-5 2-6 0-6-5-6-8-6-11zm55-46 6-16 6-13 5-8-6 14-6 16zm65 1 6 11 6 9 6 5 6-1-5 2-6 1-6-4-6-8-6-11zm55-52 6-16 6-13 6-10 5-8-6 10-6 14-6 17z"/><path transform=translate(-72,-33) d="m2058 1836 6 17 6 14 6 12 6 7 6 2-5-1-6-1-6-7-6-11-6-13-6-15zm43 28 6-15 12-33 6-15 6-12 4-6-6 13-6 16-12 35-5 16zm82-28 6 14 6 11 6 7-4 0-6-6-6-11-6-13zm56-41 6-16 11-21 5-6-6 9-6 13-6 17zm64 15 6 13 6 11 6 6 6 1-5 0-6-1-6-6-6-9-6-13zm55-46 6-16 6-13 6-9 5-7-6 10-6 14-6 17zm65 10 6 13 6 10 6 6-5 0-6-6-6-9-6-12zm55-51 6-16 6-14 6-9 5-7-6 10-6 14-6 18zm64 5 6 13 6 10 6 5-4 0-6-5-6-9-6-11zm56-55 6-17 6-14 4-6-6 14-6 18z"/><path transform=translate(-67,-31) d="m2057 1833 6 18 6 15 6 13 6 7-4-2-6-7-6-12-6-14-6-17zm49 12 12-35 6-16 6-13 6-9 5-4-6 9-6 14-6 17-12 37zm71-28 6 17 6 15 6 12 6 7-5-2-6-7-6-11-6-14-6-16zm61-28 6-17 6-13 6-9 5-5-6 10-6 14-6 17zm59 3 12 31 6 11 6 6-5-2-6-6-6-11-6-13-6-15zm55-16 12-35 6-14 6-10 4-5-6 11-6 14-6 18-5 20zm64-20 6 16 6 14 6 11 6 6-4-2-6-6-6-10-6-13-6-15zm56-20 12-37 6-14 6-10 4-5-6 11-6 15-12 39zm64-25 12 29 6 10 6 6-5-2-6-5-6-10-12-27zm55-25 12-38 6-14 6-11 6-6 5-4-6 5-6 11-6 16-6 19-6 21z"/><path transform=translate(-62,-29) d="m2057 1832 6 19 6 17 6 13 6 8-5-5-6-7-6-13-6-15-6-18zm55-7 6-19 6-17 6-14 6-9 6-4 5-3-6 4-6 10-6 14-12 39zm59-27 18 53 6 12 6 8-5-5-6-7-6-12-6-15-12-34zm61 6 6-20 6-17 6-14 6-10 4-3-6 11-6 15-6 18-6 21zm64-13 12 33 6 12-4-4-6-11-12-31zm56-18 5-20 6-18 6-14 6-11 6-4 5-3-6 5-6 11-6 15-12 40zm64-18 6 17 6 15 6 12-5-4-6-11-6-14-6-16zm55-22 12-39 6-15 6-11 6-5 5-3-6 6-6 11-6 16-6 19-6 22zm65-23 6 17 6 14 6 12-5-5-6-10-12-29zm55-27 6-21 6-19 6-16 6-11 6-5 4-3-6 6-6 11-6 17-5 20-6 22z"/><path transform=translate(-58,-27) d="m2058 1833 5 20 6 18 6 14-4-6-6-13-6-17-6-19zm55-9 12-39 6-14 6-10 6-4 4-1-6 4-6 11-6 15-6 19-6 21zm58-26 18 56 6 13-4-6-6-12-18-53zm61 5 6-21 6-18 6-15 6-11 6-4 5-1-6 4-6 11-6 16-12 41zm59-30 18 54 6 13-5-6-6-12-18-51zm55 20 18-61 6-15 6-11 6-5 5-1-6 5-6 11-6 17-6 20-12 44zm65-55 18 53 6 12-5-6-6-12-6-15-12-34zm55 15 12-43 6-19 6-16 6-11 6-6 4-1-6 6-6 11-6 17-18 66zm64-60 12 36 6 15 6 13-4-6-6-12-6-14-12-34zm56 11 12-44 5-20 6-17 6-11 6-6 5-1-6 6-6 12-6 17-18 68zm64-65 6 17-5-3-6-16z"/><path transform=translate(-53,-25) d="m2057 1835 12 40 6 15-5-7-6-14-6-18-5-20zm49 10 12-42 6-19 6-15 6-11 6-4 5 0-6 4-6 11-6 17-6 20-12 45zm59-65 18 60 6 18 6 14-5-7-6-13-24-74zm61 45 18-63 6-16 6-11 6-4 5 0-6 5-6 11-6 17-18 66zm59-70 6 18 17 58 6 14-4-7-6-13-24-71zm61 40 12-44 6-20 6-17 6-11 6-5 4 0-6 5-6 12-6 17-6 21-12 47zm64-57 12 40 6 17 6 13-4-7-6-12-18-53zm55 17 18-66 6-17 6-11 6-6 5 0-6 6-6 12-6 18-18 69zm65-61 12 38 6 17 6 13-5-7-6-13-6-15-12-36zm55 12 18-68 6-17 6-12 6-6 5 0-6 6-6 13-6 18-6 22-12 49zm65-67 6 19-5-4-6-17z"/><path transform=translate(-49,-23) d="m2058 1838 12 42 6 16-5-8-6-15-12-40zm49 11 12-45 6-20 6-17 6-11 6-4 5 1-6 4-6 12-6 17-6 21-12 48zm41-96 6 2 5 10 6 15 6 20 12 44 6 19 6 15-4-8-6-14-6-18-18-60-6-14-6-9-6-3zm79 75 18-66 6-17 6-11 6-5 4 0-6 5-6 12-6 18-18 70zm58-73 18 62 6 19 6 15-5-8-6-14-17-58-6-18zm61 43 12-47 6-21 6-17 6-12 6-5 5 0-6 6-6 12-6 18-18 72zm59-77 24 79 6 14-5-8-6-13-6-17-12-40-6-17zm61 37 18-69 6-18 6-12 6-6 5 1-6 6-6 12-6 19-18 73zm59-81 6 18 12 41 6 18 6 14-5-8-6-13-6-17-12-38-6-17zm61 32 12-49 6-22 6-18 6-13 6-6 4 0-6 7-6 13-6 19-18 75zm58-86 6 18 6 20-4-5-6-19-6-16z"/><path transform=translate(-44,-21) d="m2057 1840 6 24 6 21 6 17-4-8-6-16-12-42zm44 34 6-21 12-48 6-21 6-17 6-12 6-4 4 0-6 5-6 12-6 18-6 22-12 50-6 23zm46-123 6 3 6 10 6 16 24 88 6 16 6 10-5-8-6-10-6-15-6-19-12-44-6-20-6-15-5-10-6-2zm73 103 24-92 6-18 6-12 6-5 5 0-6 6-6 12-6 19-6 23-12 51-6 23zm47-127 6 3 6 10 6 15 18 66 6 20 6 16-5-8-6-15-6-19-18-62-6-14-6-10-6-2zm73 98 24-95 6-18 6-12 6-6 5 0-6 6-6 13-6 19-24 100zm47-131 6 2 6 10 6 15 5 20 12 44 6 20 6 15-4-8-6-14-24-79-6-14-6-9-6-2zm73 91 24-96 6-19 6-12 6-6 4 0-6 6-6 13-6 20-6 24-12 53-6 24zm46-133 6 1 6 9 6 15 6 19 12 44 6 19 6 15-4-8-6-14-6-18-12-41-6-18-6-14-6-8-6-1zm73 84 6-23 18-75 6-19 6-13 6-7 5 0-6 7-6 14-6 20-18 79-6 24zm65-113 12 40-5-4-6-20-6-18z"/><path transform=translate(-39,-18) d="m2057 1841 6 25 6 22 6 18 6 11-5-8-6-10-6-17-6-21-6-24zm43 37 6-23 12-50 6-22 6-18 6-12 6-5 5-1-6 5-6 13-6 19-24 100zm47-131 6 3 6 11 6 17 6 22 12 49 6 22 6 18 6 10-5-8-6-10-6-16-24-88-6-16-6-10-6-3zm73 111 6-23 12-51 6-23 6-19 6-12 6-6 4 0-6 5-5 13-6 20-6 24-12 54-6 24zm46-134 6 2 6 11 6 16 24 92 6 16-4-7-6-16-6-20-18-66-6-15-6-10-6-3zm74 105 24-100 6-19 6-13 6-6 4 0-6 6-6 13-6 20-24 105zm46-138 6 2 6 10 6 16 6 21 12 47 6 21 6 17-5-8-6-15-6-20-12-44-5-20-6-15-6-10-6-2zm43 126 6 9 5 8-6-9zm30-28 6-24 12-53 6-24 6-20 6-13 6-6 5-1-6 6-6 14-6 21-6 25-12 56-6 25zm47-141 6 2 6 9 6 16 6 20 12 47 6 20 6 16-5-7-6-15-6-19-12-44-6-19-6-15-6-9-6-1zm73 92 6-24 18-79 6-20 6-14 6-7 5 0-6 7-6 14-6 21-6 26-12 57-6 25zm47-144 6 1 6 9 6 15 6 20 6 23-5-4-12-40-6-14-6-9-6-1z"/><path transform=translate(-35,-16) d="m2058 1841 12 50 6 19 6 12-5-7-6-11-6-18-6-22-6-25zm43 41 24-100 6-19 6-13 6-5 4-2-6 5-6 13-6 20-6 25-17 81zm46-139 6 3 6 11 6 19 6 23 12 52 6 23 6 18 6 12-4-7-6-10-6-18-6-22-12-49-6-22-6-17-6-11-6-3zm74 119 6-24 12-54 6-24 6-20 5-13 6-5 5-3-6 6-6 14-6 20-6 26-12 57-6 25zm46-143 6 3 6 11 6 18 6 23 12 51 6 22 6 18 6 11-5-6-6-11-6-16-24-92-6-16-6-11-6-2zm73 114 24-105 6-20 6-13 6-6 5-3-6 6-6 15-6 21-6 26-12 57-6 26zm47-147 6 3 6 10 6 17 6 23 12 50 6 22 6 17 6 11-5-7-6-9-6-17-6-21-12-47-6-21-6-16-6-10-6-2zm67 128 6-21 6-25 12-56 6-25 6-21 6-14 6-6 5-2-6 6-6 15-6 22-6 26-12 59-6 26-6 22zm53-170 5 1 6 10 6 17 6 22 12 49 6 22 6 17-4-6-6-16-6-20-12-47-6-20-6-16-6-9-6-2zm43 132 6 9 4 7-6-10zm30-32 6-25 12-57 6-26 6-21 6-14 6-7 4-3-6 7-6 16-6 22-24 113zm46-153 6 2 6 9 6 16 12 46-4-2-6-23-6-20-6-15-6-9-6-1z"/><path transform=translate(-30,-14) d="m2057 1839 6 28 6 25 6 20 6 12-4-4-6-12-6-19-12-50zm38 66 6-20 17-81 6-25 6-20 6-13 5-5-6 14-6 21-24 112-6 21zm46-164 6-5 6 3 6 13 6 19 24 104 6 19 6 12-5-4-6-12-6-18-6-23-12-52-6-23-6-19-6-11-6-3-6 5zm73 145 6-21 6-25 12-57 6-26 6-20 6-14 6-6 5-4-6 5-6 15-6 22-24 113-6 21zm53-173 6 3 6 11 6 19 6 24 12 54 6 24 6 19 6 11-5-4-6-11-6-18-6-22-12-51-6-23-6-18-6-11-6-3zm67 144 6-22 6-26 12-57 6-26 6-21 6-15 4-4-6 15-6 22-6 27-6 31-5 30-6 27-6 22zm46-171 6-6 6 2 6 11 6 19 6 23 12 53 6 24 6 18 6 11-4-4-6-11-6-17-6-22-12-50-6-23-6-17-6-10-6-3-6 6zm74 132 6-22 6-26 12-59 6-26 6-22 6-15 4-4-6 15-6 23-24 117-6 22zm46-174 6-7 6 2 6 11 6 18 6 23 12 52 6 23 6 17 6 11-5-4-6-10-6-17-6-22-12-49-6-22-6-17-6-10-5-1-6 6zm73 125 6-22 24-113 6-22 6-16 6-7 5-4-6 7-6 16-6 23-6 28-12 63-6 28-6 23zm53-184 6 1 6 10 6 18 6 22 6 26-5 0-12-46-6-16-6-9-6-2z"/><path transform=translate(-25,-12) d="m2057 1835 6 29 6 26 6 21 6 13 6 4-5-2-6-4-6-12-6-20-6-25-6-28zm25 91 6-5 6-14 6-21 24-112 6-21 6-14 5-7-6 15-6 22-24 117-6 22-6 15-6 5zm59-194 6-5 6 3 6 13 6 21 6 26 12 57 6 26 6 21 6 12 6 4-5-3-6-3-6-12-6-19-24-104-6-19-6-13-6-3-6 5zm61 175 6-5 6-15 6-21 24-113 6-22 6-15 4-7-6 16-6 22-18 91-6 28-6 23-6 15-5 6zm58-198 6-6 6 4 6 12 6 20 6 25 12 57 6 26 6 19 6 12-4-2-6-11-6-19-6-24-12-54-6-24-6-19-6-11-6-3-6 5zm56 167 6 3 6-6 6-15 6-22 6-27 5-30 6-31 6-27 6-22 6-15 5-7-6 16-6 23-24 121-6 23-6 15-6 7-6-4zm64-199 6-7 6 3 6 12 6 19 6 25 12 56 6 25 6 19 6 12-5-2-6-11-6-18-6-24-12-53-6-23-6-19-6-11-6-2-6 6zm55 162 6 2 6-6 6-16 6-22 24-117 6-23 6-15 5-7-6 16-6 24-6 29-12 64-6 29-6 24-6 16-6 7-6-3zm65-204 6-7 6 2 6 11 6 19 6 25 12 55 6 24 6 19 6 11-5-2-6-11-6-17-6-23-12-52-6-23-6-18-6-11-6-2-6 7zm55 157 6 2 6-7 6-16 6-23 6-28 12-63 6-28 6-23 6-16 4-7-6 16-6 25-17 95-6 29-6 24-6 17-6 7-6-2zm64-209 6-8 6 2 6 11 6 19 12 50-4 3-6-26-6-22-6-18-6-10-6-1-6 7z"/><path transform=translate(-21,-10) d="m2057 1828 6 31 6 27 6 22 6 14 6 4-4 0-6-4-6-13-6-21-6-26-6-29zm26 98 6-5 6-15 6-22 24-117 6-22 6-15 4-9-6 15-6 23-18 94-6 29-6 23-6 16-6 5zm58-205 6-6 6 4 6 13 6 22 6 27 12 61 6 27 6 22 6 13 6 4-4 0-6-4-6-12-6-21-6-26-12-57-6-26-6-21-6-13-6-3-6 5zm62 187 5-6 6-15 6-23 6-28 18-91 6-22 6-16 5-9-6 16-6 24-6 29-12 66-6 29-6 24-6 16-6 6zm58-210 6-6 6 3 6 13 6 21 6 27 12 60 6 27 6 20 6 13 6 4-5 0-6-4-6-12-6-19-6-26-12-57-6-25-6-20-6-12-6-4-6 6zm61 182 6-7 6-15 6-23 24-121 6-23 6-16 5-10-6 17-6 24-6 30-12 67-6 30-6 24-6 16-6 7zm59-215 6-6 6 3 6 12 6 21 6 26 12 59 6 26 6 21 6 12 6 3-5 0-6-3-6-12-6-19-6-25-12-56-6-25-6-19-6-12-6-3-6 7zm61 177 6-7 6-16 6-24 6-29 12-64 6-29 6-24 6-16 4-10-6 17-6 25-6 30-12 68-6 30-6 25-5 17-6 7zm58-219 6-7 6 2 6 13 6 20 6 25 12 58 6 26 6 20 6 12 6 2-4 0-6-2-6-11-6-19-6-24-12-55-6-25-6-19-6-11-6-2-6 7zm62 171 6-7 6-17 6-24 6-29 17-95 6-25 6-16 5-10-6 18-6 25-6 31-12 68-6 31-6 26-6 17-6 7zm58-223 6-7 6 2 6 11 6 20 6 25 6 29-5 4-12-50-6-19-6-11-6-2-6 8z"/><path transform=translate(-16,-8) d="m2057 1818 6 33 6 29 6 23 6 14 6 5-5 2-6-4-6-14-6-22-6-27-6-31zm25 106 6-5 6-16 6-23 6-29 18-94 6-23 6-15 5-12-6 16-6 24-24 129-6 24-6 16-6 6zm59-217 6-6 6 4 6 14 6 23 6 28 12 64 6 29 6 22 6 14 6 4-5 3-6-4-6-13-6-22-6-27-12-61-6-27-6-22-6-13-6-4-6 6zm61 199 6-6 6-16 6-24 6-29 12-66 6-29 6-24 6-16 5-12-6 16-6 25-6 31-12 69-6 31-6 25-6 16-6 6zm59-222 6-7 6 4 6 14 6 22 6 28 17 91 6 22 6 14 6 3-4 3-6-4-6-13-6-20-6-27-12-60-6-27-6-21-6-13-6-3-6 6zm61 194 6-7 6-16 6-24 6-30 12-67 6-30 6-24 4-12-6 26-6 31-12 70-6 31-6 26-6 16-6 7zm52-210 6-17 6-7 6 4 6 13 6 21 24 118 6 21 6 13 6 3-4 3-6-3-6-12-6-21-6-26-12-59-6-26-6-21-6-12-6-3-6 6-6 17zm68 172 6-7 5-17 6-25 6-30 12-68 6-30 6-25 6-17 5-12-6 18-6 26-24 134-6 26-6 17-6 7zm58-231 6-7 6 2 6 13 6 21 6 28 12 61 6 27 6 21 6 12 6 3-5 2-6-2-6-12-6-20-6-26-12-58-6-25-6-20-6-13-6-2-6 7zm61 183 6-7 6-17 6-26 6-31 12-68 6-31 6-25 6-18 5-12-6 18-6 27-6 32-12 72-6 32-6 26-6 18-6 8zm59-235 6-8 6 3 6 12 6 21 6 26 6 30-5 8-6-29-6-25-6-20-6-11-6-2-6 7z"/><path transform=translate(-12,-5) d="m2058 1806 12 65 6 24 6 15 6 5-5 4-6-5-6-14-6-23-6-29-6-33zm25 113 6-6 6-16 6-24 24-129 6-24 5-14-6 26-6 32-12 71-6 31-6 26-6 17-6 6zm53-213 6-17 6-6 6 5 5 15 6 23 6 30 12 67 6 31 6 23 6 15 6 4 6-6-4 4-6 6-6-4-6-14-6-22-6-29-12-64-6-28-6-23-6-14-6-4-6 6-6 16zm73 188 6-16 6-25 6-31 12-69 6-31 6-25 4-13-6 26-6 32-12 72-6 33-6 26-6 17zm46-210 6-17 6-7 6 4 6 14 6 24 6 29 12 66 6 30 6 23 6 14 6 4-5 4-6-3-6-14-6-22-17-91-6-28-6-22-6-14-6-4-6 7-6 16zm67 188 6-7 6-16 6-26 6-31 12-70 6-31 6-26 6-17 5-14-6 18-6 26-24 139-6 26-6 18-6 7zm59-238 6-7 6 3 6 14 6 23 6 29 12 65 6 29 6 23 6 14 6 3-5 4-6-3-6-13-6-21-24-118-6-21-6-13-6-4-6 7zm61 200 6-7 6-17 6-26 24-134 6-26 6-18 5-14-6 18-6 27-24 141-6 27-6 18-6 7zm59-242 6-8 6 3 6 14 6 22 6 29 12 64 6 28 6 23 5 13 6 3-4 4-6-3-6-12-6-21-6-27-12-61-6-28-6-21-6-13-6-2-6 7zm61 195 6-8 6-18 6-26 6-32 12-72 6-32 6-27 4-13-6 27-24 143-6 27-6 19-6 8zm52-228 6-19 6-8 6 2 6 13 6 22 6 28 6 32-4 9-6-30-6-26-6-21-6-12-6-3-6 8-6 18z"/><path transform=translate(-7,-3) d="m2057 1793 6 36 6 32 6 25 6 16 6 5 6-6-4 6-6 6-6-5-6-15-6-24-12-65zm32 114 6-17 6-26 6-31 12-71 6-32 6-26 4-15-6 27-6 33-12 74-6 34-6 26-6 18zm46-218 6-17 6-7 6 5 6 15 6 25 24 134 6 25 6 15 6 5 6-7-5 6-6 6-6-4-6-15-6-23-6-31-12-67-6-30-6-23-5-15-6-5-6 6-6 17zm73 199 6-17 6-26 6-33 12-72 6-32 6-26 5-15-6 27-24 143-6 27-6 18zm47-221 6-18 6-7 6 4 6 15 6 25 6 31 12 69 6 31 6 24 6 15 6 4 6-7-5 6-6 7-6-4-6-14-6-23-6-30-12-66-6-29-6-24-6-14-6-4-6 7-6 17zm73 192 6-18 6-26 24-139 6-26 5-15-6 27-6 35-12 76-6 34-6 28-6 18zm47-224 6-19 6-7 6 3 6 15 6 24 5 31 12 68 6 31 6 23 6 15 6 4 6-8-4 6-6 7-6-3-6-14-6-23-6-29-12-65-6-29-6-23-6-14-6-3-6 7-6 18zm73 186 6-18 6-27 24-141 6-27 4-15-6 28-24 147-6 28-6 19zm46-228 6-19 6-8 6 3 6 14 6 24 6 30 12 67 6 31 6 23 6 14 6 3-5 6-6-3-5-13-6-23-6-28-12-64-6-29-6-22-6-14-6-3-6 8-6 18zm67 188 6-8 6-19 6-27 24-143 6-27 6-19 5-16-6 20-6 28-6 36-12 78-6 35-6 28-6 20-6 8zm59-259 6-8 6 2 6 14 6 23 12 63-5 11-6-32-6-28-6-22-6-13-6-2-6 8z"/><path transform=translate(-2,-1) d="m2057 1779 6 38 6 33 6 27 6 16 6 6 6-7-5 7-6 6-6-5-6-16-6-25-6-32-6-36zm31 120 6-18 6-26 6-34 12-74 6-33 6-27 5-16-6 28-6 35-12 77-6 35-6 28-6 18zm47-228 6-18 6-7 6 5 6 16 6 26 6 33 12 74 6 33 6 26 6 16 6 5 6-7-5 7-6 7-6-5-6-15-6-25-24-134-6-25-6-15-6-5-6 7-6 17zm73 209 6-18 6-27 24-143 6-27 5-16-6 28-6 35-12 79-6 35-6 28-6 19zm47-231 5-19 6-8 6 5 6 16 6 26 6 32 12 73 6 32 6 26 6 16 6 4 6-8-4 7-6 7-6-4-6-15-6-24-6-31-12-69-6-31-6-25-6-15-6-4-6 7-6 18zm73 202 6-18 6-28 6-34 12-76 6-35 6-27 4-16-6 28-6 36-12 80-6 36-6 28-6 19zm46-234 6-20 6-8 6 5 6 15 6 25 6 32 12 72 6 32 6 25 6 15 6 4 6-8-5 7-6 8-6-4-6-15-6-23-6-31-12-68-5-31-6-24-6-15-6-3-6 7-6 19zm73 196 6-19 6-28 24-147 6-28 5-16-6 29-6 37-12 80-6 36-6 30-6 19zm47-238 6-20 6-8 6 3 6 15 6 25 24 134 6 25 6 14 6 4-5 6-6-3-6-14-6-23-6-31-12-67-6-30-6-24-6-14-6-3-6 8-6 19zm67 198 6-8 6-20 6-28 6-35 12-78 6-36 6-28 5-17-6 30-24 155-6 30-6 20-6 9zm53-250 6-20 6-9 6 4 6 14 6 24 6 31 6 35-5 12-12-63-6-23-6-14-6-2-6 8-6 20z"/></g>
<path class="a" d="M318.5 259.2L318.5 351.6L411 394.8L530.7 361.8M318.5 351.6l-2 -.7M318.5 320.8l-2 -.7M318.5 290l-2 -.7M318.5 259.2l-2 -.7M411 394.8l-1.8 .5M364.8 373.2l-1.8 .5M318.5 351.6l-1.8 .5M411 394.8l1.5 .9M440.9 386.6l1.5 .9M470.9 378.3l1.5 .9M500.8 370.1l1.5 .9M530.7 361.8l1.5 .9"/>
<g class="t"><text transform="translate(313.7,353.6) scale(.87,1)" text-anchor="end">0</text><text transform="translate(313.7,322.8) scale(.87,1)" text-anchor="end">50</text><text transform="translate(313.7,292) scale(.87,1)" text-anchor="end">100</text><text transform="translate(313.7,261.2) scale(.87,1)" text-anchor="end">150</text><text transform="translate(406.2,404) scale(.87,1)" text-anchor="end">-10</text><text transform="translate(359.9,382.4) scale(.87,1)" text-anchor="end">0</text><text transform="translate(313.7,360.8) scale(.87,1)" text-anchor="end">10</text><text transform="translate(415.6,404.9) scale(.87,1)">-10</text><text transform="translate(445.5,396.5) scale(.87,1)">-5</text><text transform="translate(475.5,388.1) scale(.87,1)">0</text><text transform="translate(505.4,379.7) scale(.87,1)">5</text><text transform="translate(535.3,371.3) scale(.87,1)">10</text></g>
<g class="cap"><text x="116.8" y="207.7" textLength="28.8" lengthAdjust="spacingAndGlyphs">(<tspan font-weight="bold">a</tspan>) F8</text><text x="405" y="207.7" textLength="29.8" lengthAdjust="spacingAndGlyphs">(<tspan font-weight="bold">b</tspan>) F9</text><text x="114.6" y="429.3" textLength="33.3" lengthAdjust="spacingAndGlyphs">(<tspan font-weight="bold">c</tspan>) F11</text><text x="401.7" y="429.3" textLength="36" lengthAdjust="spacingAndGlyphs">(<tspan font-weight="bold">d</tspan>) F12</text></g>
</svg>
</body></html>
